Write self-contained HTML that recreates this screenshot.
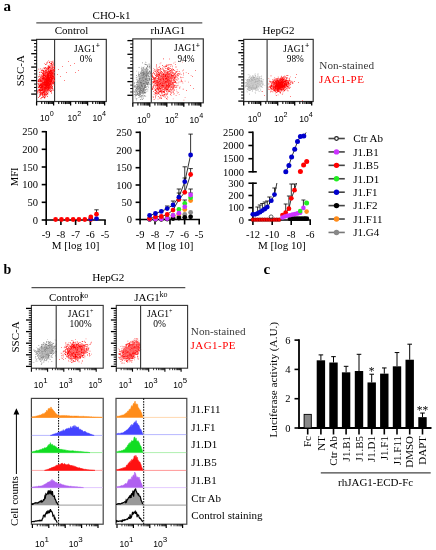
<!DOCTYPE html>
<html><head><meta charset="utf-8"><style>
html,body{margin:0;padding:0;background:#fff;}
body{width:436px;height:550px;overflow:hidden;position:relative;}
svg{position:absolute;left:0;top:0;will-change:transform;}
</style></head><body>
<svg width="436" height="550" viewBox="0 0 436 550">
<text x="3.5" y="10.8" style="font-family:'Liberation Serif',serif;font-size:15px;font-weight:bold" text-anchor="start" fill="#000" >a</text>
<text x="3.4" y="273.6" style="font-family:'Liberation Serif',serif;font-size:14px;font-weight:bold" text-anchor="start" fill="#000" >b</text>
<text x="263.5" y="274" style="font-family:'Liberation Serif',serif;font-size:15px;font-weight:bold" text-anchor="start" fill="#000" >c</text>
<text x="111.5" y="19.3" style="font-family:'Liberation Serif',serif;font-size:11px;font-weight:normal" text-anchor="middle" fill="#000" >CHO-k1</text>
<line x1="36.30" y1="22.80" x2="202.30" y2="22.80" stroke="#505050" stroke-width="1.3" />
<text x="71.5" y="34" style="font-family:'Liberation Serif',serif;font-size:11px;font-weight:normal" text-anchor="middle" fill="#000" >Control</text>
<text x="167.9" y="34" style="font-family:'Liberation Serif',serif;font-size:11px;font-weight:normal" text-anchor="middle" fill="#000" >rhJAG1</text>
<text x="278.5" y="34" style="font-family:'Liberation Serif',serif;font-size:11px;font-weight:normal" text-anchor="middle" fill="#000" >HepG2</text>
<rect x="36.6" y="39.4" width="69.69999999999999" height="62.1" fill="none" stroke="#333" stroke-width="1.2"/>
<line x1="54.60" y1="39.40" x2="54.60" y2="101.50" stroke="#333" stroke-width="1.1" />
<line x1="31.20" y1="40.20" x2="36.60" y2="40.20" stroke="#000" stroke-width="1.3" />
<line x1="31.20" y1="53.70" x2="36.60" y2="53.70" stroke="#000" stroke-width="1.3" />
<line x1="31.20" y1="67.10" x2="36.60" y2="67.10" stroke="#000" stroke-width="1.3" />
<line x1="31.20" y1="80.60" x2="36.60" y2="80.60" stroke="#000" stroke-width="1.3" />
<line x1="31.20" y1="94.10" x2="36.60" y2="94.10" stroke="#000" stroke-width="1.3" />
<line x1="34.00" y1="43.58" x2="36.60" y2="43.58" stroke="#000" stroke-width="1.0" />
<line x1="34.00" y1="46.95" x2="36.60" y2="46.95" stroke="#000" stroke-width="1.0" />
<line x1="34.00" y1="50.33" x2="36.60" y2="50.33" stroke="#000" stroke-width="1.0" />
<line x1="34.00" y1="57.08" x2="36.60" y2="57.08" stroke="#000" stroke-width="1.0" />
<line x1="34.00" y1="60.45" x2="36.60" y2="60.45" stroke="#000" stroke-width="1.0" />
<line x1="34.00" y1="63.83" x2="36.60" y2="63.83" stroke="#000" stroke-width="1.0" />
<line x1="34.00" y1="70.58" x2="36.60" y2="70.58" stroke="#000" stroke-width="1.0" />
<line x1="34.00" y1="73.95" x2="36.60" y2="73.95" stroke="#000" stroke-width="1.0" />
<line x1="34.00" y1="77.33" x2="36.60" y2="77.33" stroke="#000" stroke-width="1.0" />
<line x1="34.00" y1="84.08" x2="36.60" y2="84.08" stroke="#000" stroke-width="1.0" />
<line x1="34.00" y1="87.45" x2="36.60" y2="87.45" stroke="#000" stroke-width="1.0" />
<line x1="34.00" y1="90.83" x2="36.60" y2="90.83" stroke="#000" stroke-width="1.0" />
<line x1="36.60" y1="101.50" x2="36.60" y2="105.50" stroke="#000" stroke-width="1.3" />
<line x1="53.60" y1="101.50" x2="53.60" y2="105.50" stroke="#000" stroke-width="1.3" />
<line x1="70.60" y1="101.50" x2="70.60" y2="105.50" stroke="#000" stroke-width="1.3" />
<line x1="87.60" y1="101.50" x2="87.60" y2="105.50" stroke="#000" stroke-width="1.3" />
<line x1="104.60" y1="101.50" x2="104.60" y2="105.50" stroke="#000" stroke-width="1.3" />
<line x1="41.72" y1="101.50" x2="41.72" y2="104.10" stroke="#000" stroke-width="1.1" />
<line x1="44.71" y1="101.50" x2="44.71" y2="104.10" stroke="#000" stroke-width="1.1" />
<line x1="46.84" y1="101.50" x2="46.84" y2="104.10" stroke="#000" stroke-width="1.1" />
<line x1="48.48" y1="101.50" x2="48.48" y2="104.10" stroke="#000" stroke-width="1.1" />
<line x1="49.83" y1="101.50" x2="49.83" y2="104.10" stroke="#000" stroke-width="1.1" />
<line x1="50.97" y1="101.50" x2="50.97" y2="104.10" stroke="#000" stroke-width="1.1" />
<line x1="51.95" y1="101.50" x2="51.95" y2="104.10" stroke="#000" stroke-width="1.1" />
<line x1="52.82" y1="101.50" x2="52.82" y2="104.10" stroke="#000" stroke-width="1.1" />
<line x1="58.72" y1="101.50" x2="58.72" y2="104.10" stroke="#000" stroke-width="1.1" />
<line x1="61.71" y1="101.50" x2="61.71" y2="104.10" stroke="#000" stroke-width="1.1" />
<line x1="63.84" y1="101.50" x2="63.84" y2="104.10" stroke="#000" stroke-width="1.1" />
<line x1="65.48" y1="101.50" x2="65.48" y2="104.10" stroke="#000" stroke-width="1.1" />
<line x1="66.83" y1="101.50" x2="66.83" y2="104.10" stroke="#000" stroke-width="1.1" />
<line x1="67.97" y1="101.50" x2="67.97" y2="104.10" stroke="#000" stroke-width="1.1" />
<line x1="68.95" y1="101.50" x2="68.95" y2="104.10" stroke="#000" stroke-width="1.1" />
<line x1="69.82" y1="101.50" x2="69.82" y2="104.10" stroke="#000" stroke-width="1.1" />
<line x1="75.72" y1="101.50" x2="75.72" y2="104.10" stroke="#000" stroke-width="1.1" />
<line x1="78.71" y1="101.50" x2="78.71" y2="104.10" stroke="#000" stroke-width="1.1" />
<line x1="80.84" y1="101.50" x2="80.84" y2="104.10" stroke="#000" stroke-width="1.1" />
<line x1="82.48" y1="101.50" x2="82.48" y2="104.10" stroke="#000" stroke-width="1.1" />
<line x1="83.83" y1="101.50" x2="83.83" y2="104.10" stroke="#000" stroke-width="1.1" />
<line x1="84.97" y1="101.50" x2="84.97" y2="104.10" stroke="#000" stroke-width="1.1" />
<line x1="85.95" y1="101.50" x2="85.95" y2="104.10" stroke="#000" stroke-width="1.1" />
<line x1="86.82" y1="101.50" x2="86.82" y2="104.10" stroke="#000" stroke-width="1.1" />
<line x1="92.72" y1="101.50" x2="92.72" y2="104.10" stroke="#000" stroke-width="1.1" />
<line x1="95.71" y1="101.50" x2="95.71" y2="104.10" stroke="#000" stroke-width="1.1" />
<line x1="97.84" y1="101.50" x2="97.84" y2="104.10" stroke="#000" stroke-width="1.1" />
<line x1="99.48" y1="101.50" x2="99.48" y2="104.10" stroke="#000" stroke-width="1.1" />
<line x1="100.83" y1="101.50" x2="100.83" y2="104.10" stroke="#000" stroke-width="1.1" />
<line x1="101.97" y1="101.50" x2="101.97" y2="104.10" stroke="#000" stroke-width="1.1" />
<line x1="102.95" y1="101.50" x2="102.95" y2="104.10" stroke="#000" stroke-width="1.1" />
<line x1="103.82" y1="101.50" x2="103.82" y2="104.10" stroke="#000" stroke-width="1.1" />
<text x="40.1" y="121.2" style="font-family:'Liberation Sans',sans-serif;font-size:8.6px" fill="#000">10<tspan dy="-5.2" style="font-size:7.2px">0</tspan></text>
<text x="67.6" y="121.2" style="font-family:'Liberation Sans',sans-serif;font-size:8.6px" fill="#000">10<tspan dy="-5.2" style="font-size:7.2px">2</tspan></text>
<text x="92.4" y="121.2" style="font-family:'Liberation Sans',sans-serif;font-size:8.6px" fill="#000">10<tspan dy="-5.2" style="font-size:7.2px">4</tspan></text>
<text x="87" y="51.5" style="font-family:'Liberation Serif',serif;font-size:9.3px;font-weight:normal" text-anchor="middle" fill="#000" >JAG1<tspan dy="-3.8" style="font-size:7.5px;font-weight:bold">+</tspan></text>
<text x="86.0" y="61.8" style="font-family:'Liberation Serif',serif;font-size:9.3px;font-weight:normal" text-anchor="middle" fill="#000" >0%</text>
<rect x="132.8" y="38.9" width="70.5" height="63.9" fill="none" stroke="#333" stroke-width="1.2"/>
<line x1="151.30" y1="38.90" x2="151.30" y2="102.80" stroke="#333" stroke-width="1.1" />
<line x1="127.40" y1="40.60" x2="132.80" y2="40.60" stroke="#000" stroke-width="1.3" />
<line x1="127.40" y1="54.30" x2="132.80" y2="54.30" stroke="#000" stroke-width="1.3" />
<line x1="127.40" y1="68.00" x2="132.80" y2="68.00" stroke="#000" stroke-width="1.3" />
<line x1="127.40" y1="81.60" x2="132.80" y2="81.60" stroke="#000" stroke-width="1.3" />
<line x1="127.40" y1="95.30" x2="132.80" y2="95.30" stroke="#000" stroke-width="1.3" />
<line x1="130.20" y1="44.02" x2="132.80" y2="44.02" stroke="#000" stroke-width="1.0" />
<line x1="130.20" y1="47.45" x2="132.80" y2="47.45" stroke="#000" stroke-width="1.0" />
<line x1="130.20" y1="50.88" x2="132.80" y2="50.88" stroke="#000" stroke-width="1.0" />
<line x1="130.20" y1="57.72" x2="132.80" y2="57.72" stroke="#000" stroke-width="1.0" />
<line x1="130.20" y1="61.15" x2="132.80" y2="61.15" stroke="#000" stroke-width="1.0" />
<line x1="130.20" y1="64.57" x2="132.80" y2="64.57" stroke="#000" stroke-width="1.0" />
<line x1="130.20" y1="71.42" x2="132.80" y2="71.42" stroke="#000" stroke-width="1.0" />
<line x1="130.20" y1="74.85" x2="132.80" y2="74.85" stroke="#000" stroke-width="1.0" />
<line x1="130.20" y1="78.27" x2="132.80" y2="78.27" stroke="#000" stroke-width="1.0" />
<line x1="130.20" y1="85.12" x2="132.80" y2="85.12" stroke="#000" stroke-width="1.0" />
<line x1="130.20" y1="88.55" x2="132.80" y2="88.55" stroke="#000" stroke-width="1.0" />
<line x1="130.20" y1="91.97" x2="132.80" y2="91.97" stroke="#000" stroke-width="1.0" />
<line x1="132.80" y1="102.80" x2="132.80" y2="106.80" stroke="#000" stroke-width="1.3" />
<line x1="149.80" y1="102.80" x2="149.80" y2="106.80" stroke="#000" stroke-width="1.3" />
<line x1="166.80" y1="102.80" x2="166.80" y2="106.80" stroke="#000" stroke-width="1.3" />
<line x1="183.80" y1="102.80" x2="183.80" y2="106.80" stroke="#000" stroke-width="1.3" />
<line x1="200.80" y1="102.80" x2="200.80" y2="106.80" stroke="#000" stroke-width="1.3" />
<line x1="137.92" y1="102.80" x2="137.92" y2="105.40" stroke="#000" stroke-width="1.1" />
<line x1="140.91" y1="102.80" x2="140.91" y2="105.40" stroke="#000" stroke-width="1.1" />
<line x1="143.04" y1="102.80" x2="143.04" y2="105.40" stroke="#000" stroke-width="1.1" />
<line x1="144.68" y1="102.80" x2="144.68" y2="105.40" stroke="#000" stroke-width="1.1" />
<line x1="146.03" y1="102.80" x2="146.03" y2="105.40" stroke="#000" stroke-width="1.1" />
<line x1="147.17" y1="102.80" x2="147.17" y2="105.40" stroke="#000" stroke-width="1.1" />
<line x1="148.15" y1="102.80" x2="148.15" y2="105.40" stroke="#000" stroke-width="1.1" />
<line x1="149.02" y1="102.80" x2="149.02" y2="105.40" stroke="#000" stroke-width="1.1" />
<line x1="154.92" y1="102.80" x2="154.92" y2="105.40" stroke="#000" stroke-width="1.1" />
<line x1="157.91" y1="102.80" x2="157.91" y2="105.40" stroke="#000" stroke-width="1.1" />
<line x1="160.04" y1="102.80" x2="160.04" y2="105.40" stroke="#000" stroke-width="1.1" />
<line x1="161.68" y1="102.80" x2="161.68" y2="105.40" stroke="#000" stroke-width="1.1" />
<line x1="163.03" y1="102.80" x2="163.03" y2="105.40" stroke="#000" stroke-width="1.1" />
<line x1="164.17" y1="102.80" x2="164.17" y2="105.40" stroke="#000" stroke-width="1.1" />
<line x1="165.15" y1="102.80" x2="165.15" y2="105.40" stroke="#000" stroke-width="1.1" />
<line x1="166.02" y1="102.80" x2="166.02" y2="105.40" stroke="#000" stroke-width="1.1" />
<line x1="171.92" y1="102.80" x2="171.92" y2="105.40" stroke="#000" stroke-width="1.1" />
<line x1="174.91" y1="102.80" x2="174.91" y2="105.40" stroke="#000" stroke-width="1.1" />
<line x1="177.04" y1="102.80" x2="177.04" y2="105.40" stroke="#000" stroke-width="1.1" />
<line x1="178.68" y1="102.80" x2="178.68" y2="105.40" stroke="#000" stroke-width="1.1" />
<line x1="180.03" y1="102.80" x2="180.03" y2="105.40" stroke="#000" stroke-width="1.1" />
<line x1="181.17" y1="102.80" x2="181.17" y2="105.40" stroke="#000" stroke-width="1.1" />
<line x1="182.15" y1="102.80" x2="182.15" y2="105.40" stroke="#000" stroke-width="1.1" />
<line x1="183.02" y1="102.80" x2="183.02" y2="105.40" stroke="#000" stroke-width="1.1" />
<line x1="188.92" y1="102.80" x2="188.92" y2="105.40" stroke="#000" stroke-width="1.1" />
<line x1="191.91" y1="102.80" x2="191.91" y2="105.40" stroke="#000" stroke-width="1.1" />
<line x1="194.04" y1="102.80" x2="194.04" y2="105.40" stroke="#000" stroke-width="1.1" />
<line x1="195.68" y1="102.80" x2="195.68" y2="105.40" stroke="#000" stroke-width="1.1" />
<line x1="197.03" y1="102.80" x2="197.03" y2="105.40" stroke="#000" stroke-width="1.1" />
<line x1="198.17" y1="102.80" x2="198.17" y2="105.40" stroke="#000" stroke-width="1.1" />
<line x1="199.15" y1="102.80" x2="199.15" y2="105.40" stroke="#000" stroke-width="1.1" />
<line x1="200.02" y1="102.80" x2="200.02" y2="105.40" stroke="#000" stroke-width="1.1" />
<text x="137.0" y="123.3" style="font-family:'Liberation Sans',sans-serif;font-size:8.6px" fill="#000">10<tspan dy="-5.2" style="font-size:7.2px">0</tspan></text>
<text x="164.9" y="123.3" style="font-family:'Liberation Sans',sans-serif;font-size:8.6px" fill="#000">10<tspan dy="-5.2" style="font-size:7.2px">2</tspan></text>
<text x="189.6" y="123.3" style="font-family:'Liberation Sans',sans-serif;font-size:8.6px" fill="#000">10<tspan dy="-5.2" style="font-size:7.2px">4</tspan></text>
<text x="187.1" y="51.4" style="font-family:'Liberation Serif',serif;font-size:9.3px;font-weight:normal" text-anchor="middle" fill="#000" >JAG1<tspan dy="-3.8" style="font-size:7.5px;font-weight:bold">+</tspan></text>
<text x="186.1" y="61.7" style="font-family:'Liberation Serif',serif;font-size:9.3px;font-weight:normal" text-anchor="middle" fill="#000" >94%</text>
<rect x="243.7" y="39.4" width="69.5" height="62.1" fill="none" stroke="#333" stroke-width="1.2"/>
<line x1="267.10" y1="39.40" x2="267.10" y2="101.50" stroke="#333" stroke-width="1.1" />
<line x1="238.30" y1="40.60" x2="243.70" y2="40.60" stroke="#000" stroke-width="1.3" />
<line x1="238.30" y1="52.70" x2="243.70" y2="52.70" stroke="#000" stroke-width="1.3" />
<line x1="238.30" y1="64.80" x2="243.70" y2="64.80" stroke="#000" stroke-width="1.3" />
<line x1="238.30" y1="76.90" x2="243.70" y2="76.90" stroke="#000" stroke-width="1.3" />
<line x1="238.30" y1="89.00" x2="243.70" y2="89.00" stroke="#000" stroke-width="1.3" />
<line x1="238.30" y1="101.10" x2="243.70" y2="101.10" stroke="#000" stroke-width="1.3" />
<line x1="241.10" y1="43.62" x2="243.70" y2="43.62" stroke="#000" stroke-width="1.0" />
<line x1="241.10" y1="46.65" x2="243.70" y2="46.65" stroke="#000" stroke-width="1.0" />
<line x1="241.10" y1="49.68" x2="243.70" y2="49.68" stroke="#000" stroke-width="1.0" />
<line x1="241.10" y1="55.73" x2="243.70" y2="55.73" stroke="#000" stroke-width="1.0" />
<line x1="241.10" y1="58.75" x2="243.70" y2="58.75" stroke="#000" stroke-width="1.0" />
<line x1="241.10" y1="61.78" x2="243.70" y2="61.78" stroke="#000" stroke-width="1.0" />
<line x1="241.10" y1="67.83" x2="243.70" y2="67.83" stroke="#000" stroke-width="1.0" />
<line x1="241.10" y1="70.85" x2="243.70" y2="70.85" stroke="#000" stroke-width="1.0" />
<line x1="241.10" y1="73.88" x2="243.70" y2="73.88" stroke="#000" stroke-width="1.0" />
<line x1="241.10" y1="79.93" x2="243.70" y2="79.93" stroke="#000" stroke-width="1.0" />
<line x1="241.10" y1="82.95" x2="243.70" y2="82.95" stroke="#000" stroke-width="1.0" />
<line x1="241.10" y1="85.98" x2="243.70" y2="85.98" stroke="#000" stroke-width="1.0" />
<line x1="241.10" y1="92.03" x2="243.70" y2="92.03" stroke="#000" stroke-width="1.0" />
<line x1="241.10" y1="95.05" x2="243.70" y2="95.05" stroke="#000" stroke-width="1.0" />
<line x1="241.10" y1="98.08" x2="243.70" y2="98.08" stroke="#000" stroke-width="1.0" />
<line x1="243.70" y1="101.50" x2="243.70" y2="105.50" stroke="#000" stroke-width="1.3" />
<line x1="260.70" y1="101.50" x2="260.70" y2="105.50" stroke="#000" stroke-width="1.3" />
<line x1="277.70" y1="101.50" x2="277.70" y2="105.50" stroke="#000" stroke-width="1.3" />
<line x1="294.70" y1="101.50" x2="294.70" y2="105.50" stroke="#000" stroke-width="1.3" />
<line x1="311.70" y1="101.50" x2="311.70" y2="105.50" stroke="#000" stroke-width="1.3" />
<line x1="248.82" y1="101.50" x2="248.82" y2="104.10" stroke="#000" stroke-width="1.1" />
<line x1="251.81" y1="101.50" x2="251.81" y2="104.10" stroke="#000" stroke-width="1.1" />
<line x1="253.94" y1="101.50" x2="253.94" y2="104.10" stroke="#000" stroke-width="1.1" />
<line x1="255.58" y1="101.50" x2="255.58" y2="104.10" stroke="#000" stroke-width="1.1" />
<line x1="256.93" y1="101.50" x2="256.93" y2="104.10" stroke="#000" stroke-width="1.1" />
<line x1="258.07" y1="101.50" x2="258.07" y2="104.10" stroke="#000" stroke-width="1.1" />
<line x1="259.05" y1="101.50" x2="259.05" y2="104.10" stroke="#000" stroke-width="1.1" />
<line x1="259.92" y1="101.50" x2="259.92" y2="104.10" stroke="#000" stroke-width="1.1" />
<line x1="265.82" y1="101.50" x2="265.82" y2="104.10" stroke="#000" stroke-width="1.1" />
<line x1="268.81" y1="101.50" x2="268.81" y2="104.10" stroke="#000" stroke-width="1.1" />
<line x1="270.94" y1="101.50" x2="270.94" y2="104.10" stroke="#000" stroke-width="1.1" />
<line x1="272.58" y1="101.50" x2="272.58" y2="104.10" stroke="#000" stroke-width="1.1" />
<line x1="273.93" y1="101.50" x2="273.93" y2="104.10" stroke="#000" stroke-width="1.1" />
<line x1="275.07" y1="101.50" x2="275.07" y2="104.10" stroke="#000" stroke-width="1.1" />
<line x1="276.05" y1="101.50" x2="276.05" y2="104.10" stroke="#000" stroke-width="1.1" />
<line x1="276.92" y1="101.50" x2="276.92" y2="104.10" stroke="#000" stroke-width="1.1" />
<line x1="282.82" y1="101.50" x2="282.82" y2="104.10" stroke="#000" stroke-width="1.1" />
<line x1="285.81" y1="101.50" x2="285.81" y2="104.10" stroke="#000" stroke-width="1.1" />
<line x1="287.94" y1="101.50" x2="287.94" y2="104.10" stroke="#000" stroke-width="1.1" />
<line x1="289.58" y1="101.50" x2="289.58" y2="104.10" stroke="#000" stroke-width="1.1" />
<line x1="290.93" y1="101.50" x2="290.93" y2="104.10" stroke="#000" stroke-width="1.1" />
<line x1="292.07" y1="101.50" x2="292.07" y2="104.10" stroke="#000" stroke-width="1.1" />
<line x1="293.05" y1="101.50" x2="293.05" y2="104.10" stroke="#000" stroke-width="1.1" />
<line x1="293.92" y1="101.50" x2="293.92" y2="104.10" stroke="#000" stroke-width="1.1" />
<line x1="299.82" y1="101.50" x2="299.82" y2="104.10" stroke="#000" stroke-width="1.1" />
<line x1="302.81" y1="101.50" x2="302.81" y2="104.10" stroke="#000" stroke-width="1.1" />
<line x1="304.94" y1="101.50" x2="304.94" y2="104.10" stroke="#000" stroke-width="1.1" />
<line x1="306.58" y1="101.50" x2="306.58" y2="104.10" stroke="#000" stroke-width="1.1" />
<line x1="307.93" y1="101.50" x2="307.93" y2="104.10" stroke="#000" stroke-width="1.1" />
<line x1="309.07" y1="101.50" x2="309.07" y2="104.10" stroke="#000" stroke-width="1.1" />
<line x1="310.05" y1="101.50" x2="310.05" y2="104.10" stroke="#000" stroke-width="1.1" />
<line x1="310.92" y1="101.50" x2="310.92" y2="104.10" stroke="#000" stroke-width="1.1" />
<text x="247.7" y="121.7" style="font-family:'Liberation Sans',sans-serif;font-size:8.6px" fill="#000">10<tspan dy="-5.2" style="font-size:7.2px">0</tspan></text>
<text x="274.0" y="121.7" style="font-family:'Liberation Sans',sans-serif;font-size:8.6px" fill="#000">10<tspan dy="-5.2" style="font-size:7.2px">2</tspan></text>
<text x="299.3" y="121.7" style="font-family:'Liberation Sans',sans-serif;font-size:8.6px" fill="#000">10<tspan dy="-5.2" style="font-size:7.2px">4</tspan></text>
<text x="296.3" y="51.5" style="font-family:'Liberation Serif',serif;font-size:9.3px;font-weight:normal" text-anchor="middle" fill="#000" >JAG1<tspan dy="-3.8" style="font-size:7.5px;font-weight:bold">+</tspan></text>
<text x="295.3" y="61.8" style="font-family:'Liberation Serif',serif;font-size:9.3px;font-weight:normal" text-anchor="middle" fill="#000" >98%</text>
<text x="23.6" y="70.7" transform="rotate(-90 23.6 70.7)" text-anchor="middle" style="font-family:'Liberation Serif',serif;font-size:11px">SSC-A</text>
<text x="319.3" y="69.1" style="font-family:'Liberation Serif',serif;font-size:11.2px;font-weight:normal" text-anchor="start" fill="#3a3a3a" >Non-stained</text>
<text x="319.0" y="83.2" style="font-family:'Liberation Serif',serif;font-size:11px;font-weight:normal" text-anchor="start" fill="#f00" letter-spacing="0.45">JAG1-PE</text>
<path transform="scale(0.1)" d="M432 888h8v8h-8zM380 812h8v8h-8zM490 870h8v8h-8zM496 815h8v8h-8zM452 773h8v8h-8zM480 786h8v8h-8zM537 667h8v8h-8zM510 682h8v8h-8zM495 843h8v8h-8zM494 746h8v8h-8zM429 810h8v8h-8zM505 729h8v8h-8zM396 857h8v8h-8zM451 786h8v8h-8zM447 813h8v8h-8zM392 856h8v8h-8zM460 887h8v8h-8zM534 710h8v8h-8zM451 801h8v8h-8zM414 846h8v8h-8zM461 739h8v8h-8zM501 802h8v8h-8zM473 784h8v8h-8zM465 760h8v8h-8zM406 793h8v8h-8zM486 775h8v8h-8zM485 796h8v8h-8zM521 780h8v8h-8zM528 795h8v8h-8zM494 754h8v8h-8zM396 941h8v8h-8zM405 854h8v8h-8zM419 907h8v8h-8zM477 768h8v8h-8zM432 899h8v8h-8zM520 760h8v8h-8zM475 744h8v8h-8zM480 761h8v8h-8zM497 790h8v8h-8zM479 681h8v8h-8zM406 862h8v8h-8zM526 764h8v8h-8zM529 695h8v8h-8zM434 744h8v8h-8zM387 824h8v8h-8zM402 934h8v8h-8zM421 946h8v8h-8zM502 747h8v8h-8zM503 865h8v8h-8zM526 772h8v8h-8zM487 790h8v8h-8zM480 837h8v8h-8zM450 747h8v8h-8zM451 895h8v8h-8zM416 898h8v8h-8zM486 864h8v8h-8zM478 899h8v8h-8zM448 797h8v8h-8zM431 861h8v8h-8zM484 667h8v8h-8zM520 703h8v8h-8zM468 721h8v8h-8zM477 849h8v8h-8zM442 862h8v8h-8zM455 840h8v8h-8zM452 828h8v8h-8zM453 950h8v8h-8zM440 884h8v8h-8zM482 760h8v8h-8zM520 879h8v8h-8zM425 953h8v8h-8zM524 819h8v8h-8zM448 673h8v8h-8zM450 760h8v8h-8zM374 911h8v8h-8zM496 676h8v8h-8zM419 853h8v8h-8zM499 732h8v8h-8zM467 824h8v8h-8zM476 818h8v8h-8zM521 862h8v8h-8zM462 752h8v8h-8zM392 803h8v8h-8zM506 846h8v8h-8zM461 840h8v8h-8zM436 841h8v8h-8zM407 809h8v8h-8zM488 816h8v8h-8zM389 904h8v8h-8zM413 930h8v8h-8zM471 828h8v8h-8zM469 835h8v8h-8zM454 743h8v8h-8zM510 655h8v8h-8zM413 857h8v8h-8zM447 808h8v8h-8zM468 740h8v8h-8zM451 639h8v8h-8zM440 756h8v8h-8zM492 738h8v8h-8zM440 839h8v8h-8zM478 834h8v8h-8zM446 942h8v8h-8zM448 897h8v8h-8zM533 794h8v8h-8zM451 811h8v8h-8zM537 664h8v8h-8zM434 808h8v8h-8zM445 880h8v8h-8zM512 614h8v8h-8zM395 958h8v8h-8zM466 861h8v8h-8zM485 766h8v8h-8zM489 758h8v8h-8zM451 853h8v8h-8zM404 832h8v8h-8zM500 809h8v8h-8zM484 900h8v8h-8zM417 820h8v8h-8zM469 758h8v8h-8zM541 811h8v8h-8zM470 820h8v8h-8zM414 787h8v8h-8zM447 682h8v8h-8zM449 931h8v8h-8zM479 916h8v8h-8zM503 762h8v8h-8zM425 867h8v8h-8zM437 840h8v8h-8zM508 800h8v8h-8zM496 892h8v8h-8zM523 791h8v8h-8zM403 847h8v8h-8zM424 860h8v8h-8zM508 783h8v8h-8zM424 887h8v8h-8zM479 779h8v8h-8zM463 766h8v8h-8zM433 958h8v8h-8zM527 808h8v8h-8zM464 865h8v8h-8zM443 972h8v8h-8zM458 815h8v8h-8zM475 786h8v8h-8zM398 886h8v8h-8zM428 770h8v8h-8zM410 788h8v8h-8zM375 808h8v8h-8zM507 814h8v8h-8zM526 652h8v8h-8zM516 769h8v8h-8zM389 857h8v8h-8zM482 892h8v8h-8zM494 757h8v8h-8zM440 887h8v8h-8zM500 833h8v8h-8zM417 893h8v8h-8zM419 940h8v8h-8zM429 715h8v8h-8zM434 859h8v8h-8zM422 816h8v8h-8zM506 749h8v8h-8zM419 930h8v8h-8zM445 784h8v8h-8zM438 783h8v8h-8zM426 704h8v8h-8zM485 880h8v8h-8zM414 971h8v8h-8zM429 783h8v8h-8zM451 857h8v8h-8zM408 872h8v8h-8zM517 773h8v8h-8zM445 859h8v8h-8zM510 771h8v8h-8zM487 864h8v8h-8zM466 850h8v8h-8zM506 657h8v8h-8zM452 639h8v8h-8zM510 926h8v8h-8zM409 697h8v8h-8zM433 836h8v8h-8zM516 725h8v8h-8zM376 833h8v8h-8zM485 729h8v8h-8zM447 961h8v8h-8zM442 889h8v8h-8zM435 755h8v8h-8zM519 808h8v8h-8zM400 870h8v8h-8zM500 911h8v8h-8zM485 795h8v8h-8zM447 704h8v8h-8zM461 924h8v8h-8zM495 904h8v8h-8zM440 953h8v8h-8zM401 907h8v8h-8zM477 665h8v8h-8zM429 756h8v8h-8zM448 792h8v8h-8zM467 808h8v8h-8zM496 744h8v8h-8zM541 775h8v8h-8zM479 707h8v8h-8zM470 752h8v8h-8zM499 712h8v8h-8zM477 770h8v8h-8zM394 740h8v8h-8zM440 949h8v8h-8zM413 762h8v8h-8zM494 723h8v8h-8zM518 780h8v8h-8zM480 724h8v8h-8zM422 891h8v8h-8zM499 828h8v8h-8zM425 894h8v8h-8zM476 731h8v8h-8zM415 773h8v8h-8zM407 812h8v8h-8zM406 804h8v8h-8zM466 789h8v8h-8zM437 830h8v8h-8zM483 774h8v8h-8zM410 802h8v8h-8zM486 854h8v8h-8zM439 898h8v8h-8zM518 810h8v8h-8zM508 800h8v8h-8zM456 833h8v8h-8zM470 903h8v8h-8zM475 749h8v8h-8zM484 695h8v8h-8zM453 792h8v8h-8zM511 756h8v8h-8zM444 790h8v8h-8zM384 841h8v8h-8zM475 771h8v8h-8zM460 820h8v8h-8zM500 720h8v8h-8zM490 707h8v8h-8zM470 786h8v8h-8zM470 827h8v8h-8zM470 780h8v8h-8zM437 732h8v8h-8zM414 836h8v8h-8zM431 787h8v8h-8zM461 833h8v8h-8zM447 811h8v8h-8zM424 895h8v8h-8zM461 812h8v8h-8zM431 821h8v8h-8zM468 780h8v8h-8zM455 753h8v8h-8zM519 795h8v8h-8zM451 717h8v8h-8zM455 765h8v8h-8zM466 731h8v8h-8zM389 893h8v8h-8zM525 668h8v8h-8zM487 830h8v8h-8zM469 795h8v8h-8zM510 904h8v8h-8zM457 639h8v8h-8zM455 750h8v8h-8zM452 852h8v8h-8zM390 864h8v8h-8zM504 802h8v8h-8zM457 688h8v8h-8zM461 787h8v8h-8zM451 771h8v8h-8zM438 970h8v8h-8zM471 828h8v8h-8zM507 874h8v8h-8zM453 824h8v8h-8zM426 862h8v8h-8zM466 740h8v8h-8zM481 860h8v8h-8zM460 873h8v8h-8zM500 703h8v8h-8zM425 781h8v8h-8zM510 793h8v8h-8zM472 784h8v8h-8zM442 758h8v8h-8zM453 822h8v8h-8zM480 837h8v8h-8zM497 775h8v8h-8zM468 768h8v8h-8zM489 809h8v8h-8zM396 835h8v8h-8zM381 897h8v8h-8zM469 894h8v8h-8zM424 925h8v8h-8zM470 814h8v8h-8zM397 838h8v8h-8zM471 802h8v8h-8zM520 780h8v8h-8zM512 813h8v8h-8zM419 827h8v8h-8zM452 812h8v8h-8zM502 797h8v8h-8zM542 675h8v8h-8zM425 833h8v8h-8zM429 851h8v8h-8zM512 819h8v8h-8zM450 834h8v8h-8zM422 797h8v8h-8zM509 684h8v8h-8zM394 802h8v8h-8zM436 729h8v8h-8zM506 689h8v8h-8zM439 767h8v8h-8zM497 734h8v8h-8zM413 874h8v8h-8zM498 754h8v8h-8zM485 768h8v8h-8zM533 752h8v8h-8zM455 749h8v8h-8zM450 720h8v8h-8zM461 754h8v8h-8zM509 689h8v8h-8zM434 922h8v8h-8zM459 902h8v8h-8zM498 796h8v8h-8zM495 875h8v8h-8zM443 913h8v8h-8zM501 842h8v8h-8zM416 890h8v8h-8zM402 929h8v8h-8zM425 759h8v8h-8zM525 615h8v8h-8zM472 740h8v8h-8zM426 861h8v8h-8zM450 750h8v8h-8zM484 755h8v8h-8zM515 759h8v8h-8zM396 849h8v8h-8zM521 682h8v8h-8zM504 753h8v8h-8zM436 883h8v8h-8zM448 853h8v8h-8zM486 782h8v8h-8zM453 796h8v8h-8zM471 892h8v8h-8zM420 946h8v8h-8zM388 793h8v8h-8zM472 760h8v8h-8zM474 831h8v8h-8zM486 781h8v8h-8zM521 732h8v8h-8zM504 877h8v8h-8zM422 864h8v8h-8zM460 747h8v8h-8zM468 798h8v8h-8zM497 765h8v8h-8zM440 919h8v8h-8zM481 660h8v8h-8zM474 788h8v8h-8zM523 765h8v8h-8zM468 797h8v8h-8zM479 839h8v8h-8zM493 829h8v8h-8zM465 685h8v8h-8zM430 788h8v8h-8zM493 733h8v8h-8zM480 791h8v8h-8zM430 738h8v8h-8zM408 868h8v8h-8zM488 755h8v8h-8zM429 839h8v8h-8zM492 623h8v8h-8zM529 766h8v8h-8zM474 807h8v8h-8zM475 693h8v8h-8zM470 774h8v8h-8zM523 783h8v8h-8zM524 884h8v8h-8zM469 748h8v8h-8zM496 772h8v8h-8zM467 736h8v8h-8zM444 845h8v8h-8zM497 674h8v8h-8zM461 753h8v8h-8zM429 827h8v8h-8zM402 841h8v8h-8zM507 733h8v8h-8zM425 797h8v8h-8zM418 782h8v8h-8zM454 859h8v8h-8zM496 766h8v8h-8zM392 758h8v8h-8zM492 800h8v8h-8zM481 813h8v8h-8zM414 919h8v8h-8zM417 947h8v8h-8zM458 801h8v8h-8zM454 823h8v8h-8zM511 800h8v8h-8zM505 735h8v8h-8zM398 849h8v8h-8zM465 774h8v8h-8zM506 630h8v8h-8zM444 793h8v8h-8zM516 654h8v8h-8zM420 851h8v8h-8zM403 684h8v8h-8zM447 821h8v8h-8zM493 660h8v8h-8zM449 749h8v8h-8zM504 747h8v8h-8zM400 872h8v8h-8zM441 746h8v8h-8zM523 742h8v8h-8zM478 778h8v8h-8zM428 859h8v8h-8zM434 817h8v8h-8zM451 884h8v8h-8zM403 898h8v8h-8zM504 847h8v8h-8zM490 771h8v8h-8zM516 741h8v8h-8zM426 751h8v8h-8zM492 703h8v8h-8zM409 900h8v8h-8zM427 795h8v8h-8zM510 741h8v8h-8zM484 731h8v8h-8zM528 670h8v8h-8zM453 720h8v8h-8zM490 838h8v8h-8zM431 920h8v8h-8zM451 797h8v8h-8zM469 810h8v8h-8zM528 801h8v8h-8zM436 788h8v8h-8zM510 779h8v8h-8zM465 709h8v8h-8zM391 719h8v8h-8zM384 804h8v8h-8zM436 888h8v8h-8zM511 748h8v8h-8zM476 698h8v8h-8zM473 867h8v8h-8zM525 684h8v8h-8zM476 825h8v8h-8zM427 968h8v8h-8zM496 746h8v8h-8zM434 828h8v8h-8zM406 793h8v8h-8zM434 724h8v8h-8zM449 717h8v8h-8zM476 849h8v8h-8zM501 799h8v8h-8zM491 761h8v8h-8zM383 838h8v8h-8zM458 811h8v8h-8zM453 765h8v8h-8zM413 772h8v8h-8zM434 788h8v8h-8zM425 757h8v8h-8zM445 822h8v8h-8zM539 754h8v8h-8zM407 804h8v8h-8zM437 679h8v8h-8zM526 710h8v8h-8zM478 697h8v8h-8zM480 753h8v8h-8zM450 828h8v8h-8zM506 863h8v8h-8zM423 919h8v8h-8zM506 674h8v8h-8zM471 802h8v8h-8zM458 764h8v8h-8zM443 827h8v8h-8zM506 883h8v8h-8zM480 831h8v8h-8zM449 839h8v8h-8zM471 765h8v8h-8zM422 789h8v8h-8zM520 737h8v8h-8zM524 794h8v8h-8zM514 867h8v8h-8zM478 830h8v8h-8zM488 772h8v8h-8zM409 842h8v8h-8zM451 864h8v8h-8zM456 923h8v8h-8zM461 941h8v8h-8zM493 718h8v8h-8zM448 721h8v8h-8zM435 888h8v8h-8zM517 818h8v8h-8zM453 883h8v8h-8zM439 937h8v8h-8zM381 857h8v8h-8zM409 903h8v8h-8zM457 738h8v8h-8zM478 877h8v8h-8zM391 853h8v8h-8zM465 792h8v8h-8zM480 715h8v8h-8zM445 911h8v8h-8zM468 862h8v8h-8zM525 797h8v8h-8zM434 736h8v8h-8zM395 806h8v8h-8zM450 884h8v8h-8zM429 820h8v8h-8zM464 814h8v8h-8zM495 799h8v8h-8zM503 741h8v8h-8zM479 861h8v8h-8zM525 619h8v8h-8zM481 896h8v8h-8zM509 870h8v8h-8zM480 819h8v8h-8zM477 841h8v8h-8zM444 808h8v8h-8zM466 922h8v8h-8zM441 779h8v8h-8zM453 745h8v8h-8zM469 825h8v8h-8zM514 726h8v8h-8zM455 786h8v8h-8zM492 888h8v8h-8zM414 705h8v8h-8zM453 855h8v8h-8zM519 685h8v8h-8zM480 798h8v8h-8zM389 891h8v8h-8zM464 821h8v8h-8zM455 703h8v8h-8zM416 842h8v8h-8zM392 896h8v8h-8zM426 961h8v8h-8zM421 856h8v8h-8zM496 694h8v8h-8zM490 725h8v8h-8zM492 714h8v8h-8zM511 848h8v8h-8zM374 926h8v8h-8zM454 698h8v8h-8zM480 750h8v8h-8zM437 911h8v8h-8zM439 760h8v8h-8zM432 861h8v8h-8zM473 771h8v8h-8zM463 816h8v8h-8zM517 725h8v8h-8zM482 693h8v8h-8zM474 726h8v8h-8zM465 828h8v8h-8zM433 919h8v8h-8zM471 782h8v8h-8zM500 800h8v8h-8zM485 819h8v8h-8zM421 761h8v8h-8zM402 782h8v8h-8zM495 819h8v8h-8zM474 823h8v8h-8zM478 735h8v8h-8zM430 702h8v8h-8zM497 729h8v8h-8zM496 732h8v8h-8zM455 834h8v8h-8zM490 750h8v8h-8zM427 819h8v8h-8zM462 859h8v8h-8zM382 895h8v8h-8zM454 775h8v8h-8zM496 805h8v8h-8zM538 853h8v8h-8zM491 734h8v8h-8zM477 799h8v8h-8zM476 761h8v8h-8zM450 733h8v8h-8zM498 703h8v8h-8zM436 831h8v8h-8zM469 835h8v8h-8zM488 768h8v8h-8zM447 897h8v8h-8zM512 752h8v8h-8zM486 753h8v8h-8zM456 866h8v8h-8zM421 800h8v8h-8zM461 840h8v8h-8zM449 782h8v8h-8zM470 798h8v8h-8zM484 766h8v8h-8zM480 751h8v8h-8zM428 837h8v8h-8zM489 899h8v8h-8zM485 830h8v8h-8zM406 845h8v8h-8zM481 873h8v8h-8zM464 679h8v8h-8zM483 795h8v8h-8zM421 785h8v8h-8zM453 731h8v8h-8zM456 770h8v8h-8zM414 829h8v8h-8zM488 710h8v8h-8zM454 816h8v8h-8zM482 678h8v8h-8zM424 866h8v8h-8zM407 880h8v8h-8zM417 971h8v8h-8zM374 915h8v8h-8zM433 799h8v8h-8zM483 749h8v8h-8zM527 778h8v8h-8zM516 787h8v8h-8zM522 661h8v8h-8zM522 640h8v8h-8zM475 817h8v8h-8zM507 688h8v8h-8zM495 866h8v8h-8zM474 767h8v8h-8zM470 779h8v8h-8zM484 819h8v8h-8zM445 805h8v8h-8zM436 809h8v8h-8zM445 872h8v8h-8zM498 705h8v8h-8zM487 799h8v8h-8zM530 765h8v8h-8zM413 918h8v8h-8zM515 786h8v8h-8zM428 894h8v8h-8zM470 877h8v8h-8zM398 806h8v8h-8zM407 839h8v8h-8zM467 930h8v8h-8zM475 870h8v8h-8zM448 851h8v8h-8zM493 821h8v8h-8zM480 796h8v8h-8zM404 844h8v8h-8zM427 886h8v8h-8zM439 850h8v8h-8zM437 771h8v8h-8zM444 900h8v8h-8zM449 822h8v8h-8zM493 722h8v8h-8zM403 903h8v8h-8zM434 789h8v8h-8zM502 699h8v8h-8zM508 850h8v8h-8zM395 858h8v8h-8zM483 839h8v8h-8zM431 923h8v8h-8zM485 718h8v8h-8zM437 715h8v8h-8zM401 926h8v8h-8zM473 773h8v8h-8zM501 790h8v8h-8zM512 820h8v8h-8zM392 960h8v8h-8zM423 788h8v8h-8zM456 778h8v8h-8zM511 631h8v8h-8zM522 777h8v8h-8zM447 816h8v8h-8zM412 849h8v8h-8zM490 901h8v8h-8zM444 746h8v8h-8zM484 682h8v8h-8zM511 699h8v8h-8zM492 823h8v8h-8zM421 734h8v8h-8zM411 772h8v8h-8zM399 882h8v8h-8zM498 698h8v8h-8zM515 711h8v8h-8zM419 760h8v8h-8zM441 855h8v8h-8zM423 781h8v8h-8zM458 852h8v8h-8zM426 787h8v8h-8zM426 843h8v8h-8zM519 697h8v8h-8zM504 817h8v8h-8zM465 630h8v8h-8zM514 899h8v8h-8zM437 841h8v8h-8zM484 699h8v8h-8zM422 777h8v8h-8zM430 817h8v8h-8zM506 772h8v8h-8zM410 793h8v8h-8zM444 893h8v8h-8zM411 831h8v8h-8zM407 795h8v8h-8zM462 803h8v8h-8zM464 862h8v8h-8zM395 759h8v8h-8zM528 826h8v8h-8zM421 860h8v8h-8zM479 795h8v8h-8zM467 929h8v8h-8zM432 935h8v8h-8zM403 769h8v8h-8zM461 709h8v8h-8zM452 841h8v8h-8zM513 827h8v8h-8zM467 784h8v8h-8zM416 871h8v8h-8zM430 783h8v8h-8zM459 860h8v8h-8zM503 689h8v8h-8zM409 863h8v8h-8zM472 839h8v8h-8zM518 746h8v8h-8zM397 857h8v8h-8zM523 760h8v8h-8zM437 885h8v8h-8zM458 758h8v8h-8zM438 904h8v8h-8zM477 686h8v8h-8zM483 872h8v8h-8zM485 810h8v8h-8zM439 852h8v8h-8zM404 940h8v8h-8zM452 857h8v8h-8zM431 834h8v8h-8zM450 883h8v8h-8zM461 898h8v8h-8zM436 709h8v8h-8zM503 788h8v8h-8zM397 717h8v8h-8zM439 830h8v8h-8zM463 808h8v8h-8zM522 755h8v8h-8zM404 932h8v8h-8zM408 924h8v8h-8zM486 843h8v8h-8zM466 622h8v8h-8zM400 953h8v8h-8zM513 724h8v8h-8zM474 614h8v8h-8zM449 828h8v8h-8zM448 802h8v8h-8zM467 777h8v8h-8zM447 917h8v8h-8zM477 776h8v8h-8zM478 732h8v8h-8zM416 906h8v8h-8zM395 792h8v8h-8zM532 818h8v8h-8zM440 758h8v8h-8zM538 793h8v8h-8zM470 929h8v8h-8zM476 750h8v8h-8zM426 726h8v8h-8zM463 700h8v8h-8zM415 939h8v8h-8zM454 881h8v8h-8zM513 618h8v8h-8zM497 750h8v8h-8zM465 838h8v8h-8zM466 867h8v8h-8zM466 725h8v8h-8zM434 832h8v8h-8zM419 764h8v8h-8zM443 797h8v8h-8zM468 855h8v8h-8zM427 699h8v8h-8zM451 815h8v8h-8zM462 862h8v8h-8zM421 726h8v8h-8zM506 714h8v8h-8zM516 865h8v8h-8zM469 801h8v8h-8zM420 902h8v8h-8zM377 915h8v8h-8zM511 833h8v8h-8zM470 804h8v8h-8zM435 784h8v8h-8zM397 907h8v8h-8zM453 750h8v8h-8zM501 733h8v8h-8zM474 767h8v8h-8zM416 822h8v8h-8zM484 782h8v8h-8zM406 903h8v8h-8zM477 681h8v8h-8zM478 653h8v8h-8zM492 739h8v8h-8zM477 797h8v8h-8zM408 876h8v8h-8zM478 812h8v8h-8zM427 826h8v8h-8zM467 936h8v8h-8zM459 854h8v8h-8zM490 789h8v8h-8zM472 841h8v8h-8zM448 837h8v8h-8zM448 837h8v8h-8zM446 792h8v8h-8zM482 762h8v8h-8zM483 875h8v8h-8zM505 658h8v8h-8zM400 817h8v8h-8zM438 779h8v8h-8zM510 807h8v8h-8zM474 722h8v8h-8zM475 809h8v8h-8zM401 875h8v8h-8zM400 898h8v8h-8zM426 890h8v8h-8zM472 801h8v8h-8zM496 738h8v8h-8zM500 774h8v8h-8zM380 765h8v8h-8zM459 877h8v8h-8zM465 740h8v8h-8zM444 801h8v8h-8zM445 791h8v8h-8zM416 970h8v8h-8zM446 779h8v8h-8zM516 848h8v8h-8zM470 823h8v8h-8zM525 712h8v8h-8zM426 897h8v8h-8zM387 848h8v8h-8zM539 795h8v8h-8zM408 800h8v8h-8zM494 709h8v8h-8zM522 717h8v8h-8zM431 866h8v8h-8zM452 943h8v8h-8zM450 853h8v8h-8zM484 835h8v8h-8zM423 809h8v8h-8zM487 788h8v8h-8zM500 795h8v8h-8zM457 689h8v8h-8zM466 777h8v8h-8zM475 799h8v8h-8zM444 887h8v8h-8zM509 780h8v8h-8zM514 822h8v8h-8zM432 868h8v8h-8zM420 876h8v8h-8zM525 730h8v8h-8zM515 755h8v8h-8zM519 766h8v8h-8zM534 726h8v8h-8zM414 867h8v8h-8zM393 807h8v8h-8zM506 827h8v8h-8zM504 773h8v8h-8zM470 712h8v8h-8zM494 857h8v8h-8zM431 921h8v8h-8zM420 917h8v8h-8zM459 761h8v8h-8zM481 735h8v8h-8zM490 771h8v8h-8zM459 765h8v8h-8zM489 834h8v8h-8zM515 720h8v8h-8zM484 765h8v8h-8zM442 848h8v8h-8zM535 740h8v8h-8zM414 778h8v8h-8zM472 815h8v8h-8zM532 764h8v8h-8zM445 829h8v8h-8zM388 804h8v8h-8zM443 781h8v8h-8zM462 823h8v8h-8zM469 716h8v8h-8zM421 930h8v8h-8zM442 830h8v8h-8zM474 808h8v8h-8zM467 736h8v8h-8zM519 731h8v8h-8zM489 749h8v8h-8zM490 675h8v8h-8zM442 747h8v8h-8zM468 878h8v8h-8zM382 798h8v8h-8zM447 820h8v8h-8zM397 912h8v8h-8zM471 765h8v8h-8zM488 800h8v8h-8zM470 780h8v8h-8zM529 722h8v8h-8zM436 886h8v8h-8zM461 780h8v8h-8zM441 684h8v8h-8zM451 737h8v8h-8zM521 739h8v8h-8zM406 891h8v8h-8zM535 695h8v8h-8zM522 832h8v8h-8zM490 661h8v8h-8zM450 767h8v8h-8zM475 787h8v8h-8zM448 784h8v8h-8zM527 702h8v8h-8zM417 882h8v8h-8zM424 749h8v8h-8zM467 751h8v8h-8zM527 637h8v8h-8zM451 801h8v8h-8zM497 780h8v8h-8zM472 805h8v8h-8zM390 923h8v8h-8zM467 753h8v8h-8zM483 833h8v8h-8zM415 849h8v8h-8zM422 794h8v8h-8zM420 760h8v8h-8zM498 833h8v8h-8zM412 721h8v8h-8zM426 871h8v8h-8zM461 802h8v8h-8zM470 858h8v8h-8zM439 761h8v8h-8zM531 636h8v8h-8zM533 756h8v8h-8zM411 870h8v8h-8zM540 781h8v8h-8zM484 781h8v8h-8zM493 756h8v8h-8zM498 750h8v8h-8zM406 868h8v8h-8zM411 760h8v8h-8zM485 773h8v8h-8zM434 834h8v8h-8zM446 787h8v8h-8zM504 698h8v8h-8zM423 932h8v8h-8zM401 797h8v8h-8zM480 682h8v8h-8zM469 766h8v8h-8zM530 770h8v8h-8zM451 862h8v8h-8zM501 715h8v8h-8zM448 808h8v8h-8zM435 706h8v8h-8zM400 768h8v8h-8zM477 748h8v8h-8zM453 791h8v8h-8zM399 916h8v8h-8zM467 824h8v8h-8zM431 898h8v8h-8zM473 669h8v8h-8zM492 780h8v8h-8zM508 677h8v8h-8zM476 834h8v8h-8zM418 799h8v8h-8zM452 812h8v8h-8zM445 851h8v8h-8zM505 760h8v8h-8zM431 746h8v8h-8zM526 689h8v8h-8zM460 722h8v8h-8zM490 715h8v8h-8zM442 769h8v8h-8zM514 789h8v8h-8zM436 675h8v8h-8zM531 897h8v8h-8zM480 767h8v8h-8zM495 770h8v8h-8zM486 731h8v8h-8zM427 791h8v8h-8zM521 721h8v8h-8zM396 792h8v8h-8zM466 863h8v8h-8zM495 750h8v8h-8zM506 759h8v8h-8zM435 784h8v8h-8zM452 766h8v8h-8zM418 865h8v8h-8zM451 882h8v8h-8zM423 759h8v8h-8zM482 728h8v8h-8zM453 736h8v8h-8zM426 851h8v8h-8zM429 858h8v8h-8zM467 861h8v8h-8zM426 771h8v8h-8zM402 854h8v8h-8zM414 810h8v8h-8zM470 824h8v8h-8zM384 687h8v8h-8zM464 920h8v8h-8zM495 732h8v8h-8zM434 876h8v8h-8zM447 753h8v8h-8zM397 870h8v8h-8zM418 800h8v8h-8zM435 788h8v8h-8zM474 889h8v8h-8zM443 931h8v8h-8zM412 775h8v8h-8zM436 800h8v8h-8zM408 753h8v8h-8zM533 829h8v8h-8zM433 882h8v8h-8zM524 798h8v8h-8zM392 782h8v8h-8zM418 848h8v8h-8zM521 730h8v8h-8zM448 781h8v8h-8zM495 826h8v8h-8zM520 832h8v8h-8zM395 885h8v8h-8zM469 875h8v8h-8zM446 828h8v8h-8zM529 745h8v8h-8zM442 849h8v8h-8zM461 814h8v8h-8zM426 839h8v8h-8zM390 956h8v8h-8zM486 852h8v8h-8zM444 831h8v8h-8zM474 783h8v8h-8zM418 878h8v8h-8zM456 861h8v8h-8zM423 823h8v8h-8zM437 770h8v8h-8zM465 681h8v8h-8zM435 942h8v8h-8zM482 797h8v8h-8zM409 841h8v8h-8zM441 885h8v8h-8zM514 876h8v8h-8zM427 773h8v8h-8zM382 973h8v8h-8zM511 851h8v8h-8zM452 885h8v8h-8zM414 824h8v8h-8zM408 844h8v8h-8zM482 827h8v8h-8zM409 866h8v8h-8zM385 870h8v8h-8zM484 848h8v8h-8zM467 840h8v8h-8zM483 746h8v8h-8zM434 731h8v8h-8zM474 790h8v8h-8zM416 839h8v8h-8zM442 749h8v8h-8zM465 742h8v8h-8zM469 712h8v8h-8zM506 755h8v8h-8zM493 670h8v8h-8zM421 891h8v8h-8zM437 806h8v8h-8zM492 790h8v8h-8zM517 896h8v8h-8zM485 796h8v8h-8zM447 721h8v8h-8zM475 866h8v8h-8zM514 758h8v8h-8zM522 665h8v8h-8zM441 733h8v8h-8zM424 821h8v8h-8zM468 773h8v8h-8zM440 912h8v8h-8zM465 749h8v8h-8zM428 861h8v8h-8zM479 815h8v8h-8zM487 723h8v8h-8zM527 778h8v8h-8zM519 747h8v8h-8zM475 781h8v8h-8zM428 830h8v8h-8zM501 836h8v8h-8zM438 851h8v8h-8zM405 980h8v8h-8zM452 803h8v8h-8zM408 798h8v8h-8zM509 641h8v8h-8zM519 874h8v8h-8zM444 968h8v8h-8zM456 908h8v8h-8zM470 841h8v8h-8zM444 812h8v8h-8zM462 850h8v8h-8zM479 748h8v8h-8zM431 862h8v8h-8zM459 824h8v8h-8zM514 810h8v8h-8zM468 735h8v8h-8zM387 894h8v8h-8zM422 821h8v8h-8zM432 775h8v8h-8zM442 780h8v8h-8zM469 811h8v8h-8zM424 864h8v8h-8zM452 775h8v8h-8zM482 888h8v8h-8zM425 953h8v8h-8zM375 902h8v8h-8zM481 778h8v8h-8zM495 735h8v8h-8zM503 887h8v8h-8zM457 804h8v8h-8zM470 849h8v8h-8zM427 739h8v8h-8zM395 812h8v8h-8zM465 903h8v8h-8zM483 838h8v8h-8zM482 801h8v8h-8zM498 674h8v8h-8zM503 802h8v8h-8zM496 812h8v8h-8zM494 852h8v8h-8zM473 712h8v8h-8zM439 750h8v8h-8zM379 873h8v8h-8zM471 796h8v8h-8zM521 737h8v8h-8zM484 750h8v8h-8zM494 776h8v8h-8zM382 792h8v8h-8zM512 737h8v8h-8zM430 865h8v8h-8zM465 744h8v8h-8zM453 793h8v8h-8zM468 931h8v8h-8zM539 661h8v8h-8zM521 720h8v8h-8zM414 851h8v8h-8zM490 866h8v8h-8zM443 868h8v8h-8zM526 835h8v8h-8zM540 794h8v8h-8zM458 761h8v8h-8zM517 724h8v8h-8zM522 751h8v8h-8zM509 779h8v8h-8zM525 826h8v8h-8zM474 767h8v8h-8zM495 799h8v8h-8zM478 845h8v8h-8zM484 681h8v8h-8zM480 808h8v8h-8zM392 863h8v8h-8zM472 770h8v8h-8zM524 720h8v8h-8zM424 688h8v8h-8zM457 709h8v8h-8zM489 733h8v8h-8zM478 856h8v8h-8zM511 702h8v8h-8zM537 687h8v8h-8zM438 880h8v8h-8zM443 812h8v8h-8zM495 832h8v8h-8zM452 762h8v8h-8zM499 707h8v8h-8zM402 927h8v8h-8zM459 853h8v8h-8zM425 755h8v8h-8zM405 791h8v8h-8zM475 936h8v8h-8zM422 848h8v8h-8zM443 977h8v8h-8zM446 825h8v8h-8zM494 810h8v8h-8zM479 881h8v8h-8zM473 796h8v8h-8zM451 798h8v8h-8zM523 739h8v8h-8zM478 769h8v8h-8zM421 862h8v8h-8zM482 884h8v8h-8zM514 799h8v8h-8zM461 767h8v8h-8zM463 787h8v8h-8zM485 739h8v8h-8zM498 772h8v8h-8zM485 693h8v8h-8zM452 864h8v8h-8zM494 789h8v8h-8zM457 779h8v8h-8zM455 804h8v8h-8zM517 756h8v8h-8zM452 821h8v8h-8zM431 833h8v8h-8zM488 845h8v8h-8zM427 882h8v8h-8zM513 631h8v8h-8zM469 814h8v8h-8zM508 909h8v8h-8zM466 760h8v8h-8zM423 858h8v8h-8zM426 726h8v8h-8zM512 841h8v8h-8zM444 863h8v8h-8zM502 629h8v8h-8zM510 747h8v8h-8zM395 890h8v8h-8zM446 855h8v8h-8zM458 711h8v8h-8zM525 797h8v8h-8zM531 757h8v8h-8zM434 734h8v8h-8zM492 761h8v8h-8zM478 831h8v8h-8zM418 901h8v8h-8zM510 753h8v8h-8zM536 834h8v8h-8zM420 836h8v8h-8zM492 803h8v8h-8zM435 877h8v8h-8zM509 704h8v8h-8zM510 770h8v8h-8zM449 738h8v8h-8zM456 708h8v8h-8zM532 705h8v8h-8zM456 759h8v8h-8zM509 760h8v8h-8zM390 894h8v8h-8zM401 846h8v8h-8zM508 722h8v8h-8zM473 808h8v8h-8zM450 749h8v8h-8zM416 837h8v8h-8zM471 873h8v8h-8zM406 839h8v8h-8zM455 672h8v8h-8zM489 620h8v8h-8zM449 869h8v8h-8zM394 901h8v8h-8zM390 857h8v8h-8zM441 890h8v8h-8zM493 815h8v8h-8zM430 771h8v8h-8zM433 903h8v8h-8zM444 941h8v8h-8zM427 934h8v8h-8zM516 775h8v8h-8zM431 853h8v8h-8zM408 926h8v8h-8z" fill="#ff0000" fill-opacity="1.0"/>
<path transform="scale(0.1)" d="M451 838h8v8h-8zM392 843h8v8h-8zM443 791h8v8h-8zM486 865h8v8h-8zM464 852h8v8h-8zM483 693h8v8h-8zM487 892h8v8h-8zM515 720h8v8h-8zM479 843h8v8h-8zM528 626h8v8h-8zM454 876h8v8h-8zM473 883h8v8h-8zM453 796h8v8h-8zM478 810h8v8h-8zM408 888h8v8h-8zM413 718h8v8h-8zM448 735h8v8h-8zM520 793h8v8h-8zM486 826h8v8h-8zM440 875h8v8h-8zM477 814h8v8h-8zM418 792h8v8h-8zM426 815h8v8h-8zM444 799h8v8h-8zM496 832h8v8h-8zM462 743h8v8h-8zM478 755h8v8h-8zM527 741h8v8h-8zM459 717h8v8h-8zM530 711h8v8h-8zM435 811h8v8h-8zM416 802h8v8h-8zM389 935h8v8h-8zM484 748h8v8h-8zM467 893h8v8h-8zM507 661h8v8h-8zM510 734h8v8h-8zM414 835h8v8h-8zM474 799h8v8h-8zM460 773h8v8h-8zM479 663h8v8h-8zM461 952h8v8h-8zM431 861h8v8h-8zM449 802h8v8h-8zM410 794h8v8h-8zM540 758h8v8h-8zM471 749h8v8h-8zM447 798h8v8h-8zM513 842h8v8h-8zM435 835h8v8h-8zM499 689h8v8h-8zM509 651h8v8h-8zM494 613h8v8h-8zM534 754h8v8h-8zM472 761h8v8h-8zM505 802h8v8h-8zM535 725h8v8h-8zM493 788h8v8h-8zM521 615h8v8h-8zM377 859h8v8h-8zM505 781h8v8h-8zM504 828h8v8h-8zM472 830h8v8h-8zM521 771h8v8h-8zM506 714h8v8h-8zM514 669h8v8h-8zM465 756h8v8h-8zM456 779h8v8h-8zM480 829h8v8h-8zM432 903h8v8h-8zM475 768h8v8h-8zM513 648h8v8h-8zM471 734h8v8h-8zM466 841h8v8h-8zM445 740h8v8h-8zM523 816h8v8h-8zM481 720h8v8h-8zM483 819h8v8h-8zM496 651h8v8h-8zM522 800h8v8h-8zM440 632h8v8h-8zM462 784h8v8h-8zM525 746h8v8h-8zM459 785h8v8h-8zM496 743h8v8h-8zM426 806h8v8h-8zM488 899h8v8h-8zM506 685h8v8h-8zM541 800h8v8h-8zM477 868h8v8h-8zM424 768h8v8h-8zM431 799h8v8h-8zM468 957h8v8h-8zM407 984h8v8h-8zM433 819h8v8h-8zM523 660h8v8h-8zM496 688h8v8h-8zM473 860h8v8h-8zM486 729h8v8h-8zM412 761h8v8h-8zM455 860h8v8h-8zM491 701h8v8h-8zM473 874h8v8h-8zM487 797h8v8h-8zM483 815h8v8h-8zM522 623h8v8h-8zM442 786h8v8h-8zM484 753h8v8h-8zM516 720h8v8h-8zM464 817h8v8h-8zM451 811h8v8h-8zM508 714h8v8h-8zM510 833h8v8h-8zM446 853h8v8h-8zM439 836h8v8h-8zM491 765h8v8h-8zM513 897h8v8h-8zM445 718h8v8h-8zM441 789h8v8h-8zM497 915h8v8h-8zM465 904h8v8h-8zM455 787h8v8h-8zM436 901h8v8h-8zM518 649h8v8h-8zM461 713h8v8h-8zM400 884h8v8h-8zM412 773h8v8h-8zM416 834h8v8h-8zM448 814h8v8h-8zM496 786h8v8h-8zM425 870h8v8h-8zM488 757h8v8h-8zM408 787h8v8h-8zM488 704h8v8h-8zM469 765h8v8h-8zM482 790h8v8h-8zM409 827h8v8h-8zM435 870h8v8h-8zM463 716h8v8h-8zM527 654h8v8h-8zM485 815h8v8h-8zM509 873h8v8h-8zM485 829h8v8h-8zM515 795h8v8h-8zM472 714h8v8h-8zM534 696h8v8h-8zM486 719h8v8h-8zM467 705h8v8h-8zM525 688h8v8h-8zM522 655h8v8h-8zM469 836h8v8h-8zM523 790h8v8h-8zM443 828h8v8h-8zM507 652h8v8h-8zM416 835h8v8h-8zM509 733h8v8h-8zM436 877h8v8h-8zM488 722h8v8h-8zM494 637h8v8h-8zM476 837h8v8h-8zM410 751h8v8h-8zM453 966h8v8h-8zM465 782h8v8h-8zM488 816h8v8h-8zM458 813h8v8h-8zM451 892h8v8h-8zM520 686h8v8h-8zM464 901h8v8h-8zM417 847h8v8h-8zM448 788h8v8h-8zM434 884h8v8h-8zM438 808h8v8h-8zM502 656h8v8h-8zM533 747h8v8h-8zM481 782h8v8h-8zM446 771h8v8h-8zM421 910h8v8h-8zM443 766h8v8h-8zM464 712h8v8h-8zM457 784h8v8h-8zM477 821h8v8h-8zM477 768h8v8h-8zM482 796h8v8h-8zM456 873h8v8h-8zM463 807h8v8h-8zM462 925h8v8h-8zM452 746h8v8h-8zM422 825h8v8h-8zM489 694h8v8h-8zM505 800h8v8h-8zM475 713h8v8h-8zM442 860h8v8h-8zM497 883h8v8h-8zM476 837h8v8h-8zM459 783h8v8h-8zM503 658h8v8h-8zM529 834h8v8h-8zM450 899h8v8h-8zM435 733h8v8h-8zM518 826h8v8h-8zM475 844h8v8h-8zM499 687h8v8h-8zM482 818h8v8h-8zM442 877h8v8h-8zM427 843h8v8h-8zM513 755h8v8h-8zM484 905h8v8h-8zM453 769h8v8h-8zM448 782h8v8h-8zM460 777h8v8h-8zM464 832h8v8h-8zM444 785h8v8h-8zM512 851h8v8h-8zM483 602h8v8h-8zM440 884h8v8h-8zM441 764h8v8h-8zM520 659h8v8h-8zM500 800h8v8h-8zM492 879h8v8h-8zM414 744h8v8h-8zM467 750h8v8h-8zM453 871h8v8h-8zM489 662h8v8h-8zM504 615h8v8h-8zM513 724h8v8h-8zM519 789h8v8h-8zM413 743h8v8h-8zM521 745h8v8h-8zM439 761h8v8h-8zM533 729h8v8h-8zM535 813h8v8h-8zM419 765h8v8h-8zM484 756h8v8h-8zM473 868h8v8h-8zM467 826h8v8h-8zM491 765h8v8h-8zM479 723h8v8h-8zM459 813h8v8h-8zM456 743h8v8h-8zM488 849h8v8h-8zM540 694h8v8h-8zM527 806h8v8h-8zM492 725h8v8h-8zM489 880h8v8h-8zM499 779h8v8h-8zM379 887h8v8h-8zM443 833h8v8h-8zM519 706h8v8h-8zM512 678h8v8h-8zM514 788h8v8h-8zM493 767h8v8h-8zM527 605h8v8h-8zM495 755h8v8h-8zM504 738h8v8h-8zM439 907h8v8h-8zM446 820h8v8h-8zM474 768h8v8h-8zM447 833h8v8h-8zM507 647h8v8h-8zM478 788h8v8h-8zM535 765h8v8h-8zM518 830h8v8h-8zM430 902h8v8h-8zM490 792h8v8h-8zM500 752h8v8h-8zM511 821h8v8h-8zM514 651h8v8h-8zM439 768h8v8h-8zM460 791h8v8h-8zM470 893h8v8h-8zM540 720h8v8h-8zM534 713h8v8h-8zM535 773h8v8h-8zM434 854h8v8h-8zM406 748h8v8h-8zM483 765h8v8h-8zM464 765h8v8h-8zM517 793h8v8h-8z" fill="#ff7070" fill-opacity="1.0"/>
<path transform="scale(0.1)" d="M485 869h8v8h-8zM433 733h8v8h-8zM427 759h8v8h-8zM448 821h8v8h-8zM473 814h8v8h-8zM429 822h8v8h-8zM489 849h8v8h-8zM463 836h8v8h-8zM473 765h8v8h-8zM455 821h8v8h-8zM466 782h8v8h-8zM467 811h8v8h-8zM384 813h8v8h-8zM496 813h8v8h-8zM477 789h8v8h-8zM459 807h8v8h-8zM518 725h8v8h-8zM484 819h8v8h-8zM499 751h8v8h-8zM456 910h8v8h-8zM493 718h8v8h-8zM476 839h8v8h-8zM462 807h8v8h-8zM487 811h8v8h-8zM473 813h8v8h-8zM421 830h8v8h-8zM473 754h8v8h-8zM477 844h8v8h-8zM505 802h8v8h-8zM504 823h8v8h-8zM438 897h8v8h-8zM486 783h8v8h-8zM415 803h8v8h-8zM459 775h8v8h-8zM495 785h8v8h-8zM477 808h8v8h-8zM429 842h8v8h-8zM501 767h8v8h-8zM472 845h8v8h-8zM470 803h8v8h-8zM487 750h8v8h-8zM500 905h8v8h-8zM470 788h8v8h-8zM489 813h8v8h-8zM455 779h8v8h-8zM473 800h8v8h-8zM478 817h8v8h-8zM482 775h8v8h-8zM481 832h8v8h-8zM454 804h8v8h-8zM504 748h8v8h-8zM487 800h8v8h-8zM446 893h8v8h-8zM448 877h8v8h-8zM489 797h8v8h-8zM473 846h8v8h-8zM506 758h8v8h-8zM510 714h8v8h-8zM473 828h8v8h-8zM440 806h8v8h-8zM487 808h8v8h-8zM487 792h8v8h-8zM490 779h8v8h-8zM451 761h8v8h-8zM466 830h8v8h-8zM504 778h8v8h-8zM500 803h8v8h-8zM517 821h8v8h-8zM426 858h8v8h-8zM447 852h8v8h-8zM468 785h8v8h-8zM421 845h8v8h-8zM461 788h8v8h-8zM473 784h8v8h-8zM456 886h8v8h-8zM455 814h8v8h-8zM475 803h8v8h-8zM497 718h8v8h-8zM488 829h8v8h-8zM458 781h8v8h-8zM492 723h8v8h-8zM456 851h8v8h-8zM470 763h8v8h-8zM457 846h8v8h-8zM484 833h8v8h-8zM480 823h8v8h-8zM427 840h8v8h-8zM447 905h8v8h-8zM453 842h8v8h-8zM442 777h8v8h-8zM495 730h8v8h-8zM496 711h8v8h-8zM473 747h8v8h-8zM522 787h8v8h-8zM479 778h8v8h-8zM466 855h8v8h-8zM520 750h8v8h-8zM483 792h8v8h-8zM503 769h8v8h-8zM470 805h8v8h-8zM447 785h8v8h-8zM470 790h8v8h-8zM471 802h8v8h-8zM444 819h8v8h-8zM503 735h8v8h-8zM396 869h8v8h-8zM476 848h8v8h-8zM484 871h8v8h-8zM471 790h8v8h-8zM484 876h8v8h-8zM512 771h8v8h-8zM472 820h8v8h-8zM454 776h8v8h-8zM469 830h8v8h-8zM530 812h8v8h-8zM516 772h8v8h-8zM432 906h8v8h-8zM490 788h8v8h-8zM464 772h8v8h-8zM536 737h8v8h-8zM510 802h8v8h-8zM425 784h8v8h-8zM509 713h8v8h-8zM443 852h8v8h-8zM464 801h8v8h-8zM441 842h8v8h-8zM475 773h8v8h-8zM477 808h8v8h-8zM448 812h8v8h-8zM464 791h8v8h-8zM451 887h8v8h-8zM527 688h8v8h-8zM505 829h8v8h-8zM453 748h8v8h-8zM456 786h8v8h-8zM478 710h8v8h-8zM443 824h8v8h-8zM501 856h8v8h-8zM449 852h8v8h-8zM486 816h8v8h-8zM468 884h8v8h-8zM505 760h8v8h-8zM501 772h8v8h-8zM478 752h8v8h-8zM460 776h8v8h-8zM453 905h8v8h-8zM509 772h8v8h-8zM485 817h8v8h-8zM494 671h8v8h-8zM474 771h8v8h-8zM444 773h8v8h-8zM482 828h8v8h-8zM479 752h8v8h-8zM475 877h8v8h-8zM444 865h8v8h-8zM452 903h8v8h-8zM441 879h8v8h-8zM482 819h8v8h-8zM467 886h8v8h-8zM455 825h8v8h-8zM488 810h8v8h-8zM459 850h8v8h-8zM530 814h8v8h-8zM471 751h8v8h-8zM506 812h8v8h-8zM447 874h8v8h-8zM461 787h8v8h-8zM498 858h8v8h-8zM441 746h8v8h-8zM455 825h8v8h-8zM488 758h8v8h-8zM456 824h8v8h-8zM490 772h8v8h-8zM488 883h8v8h-8zM467 911h8v8h-8zM441 819h8v8h-8zM496 841h8v8h-8zM490 772h8v8h-8zM453 875h8v8h-8zM471 823h8v8h-8zM470 807h8v8h-8zM449 843h8v8h-8zM432 916h8v8h-8zM413 844h8v8h-8zM512 779h8v8h-8zM479 745h8v8h-8zM461 809h8v8h-8zM477 811h8v8h-8zM482 794h8v8h-8zM542 703h8v8h-8zM457 858h8v8h-8zM484 760h8v8h-8zM459 806h8v8h-8zM449 814h8v8h-8zM471 688h8v8h-8zM503 710h8v8h-8zM466 847h8v8h-8zM461 782h8v8h-8zM471 866h8v8h-8zM453 833h8v8h-8zM415 876h8v8h-8zM464 762h8v8h-8zM426 855h8v8h-8zM471 855h8v8h-8zM466 724h8v8h-8zM491 789h8v8h-8zM454 811h8v8h-8zM515 791h8v8h-8zM466 853h8v8h-8zM453 849h8v8h-8zM457 847h8v8h-8zM476 740h8v8h-8zM530 727h8v8h-8zM506 865h8v8h-8zM472 777h8v8h-8zM517 835h8v8h-8zM490 816h8v8h-8zM443 715h8v8h-8zM431 840h8v8h-8zM454 705h8v8h-8zM483 828h8v8h-8zM482 875h8v8h-8zM464 764h8v8h-8zM441 813h8v8h-8zM469 804h8v8h-8zM444 788h8v8h-8zM526 776h8v8h-8zM453 867h8v8h-8zM454 822h8v8h-8zM526 782h8v8h-8zM460 830h8v8h-8zM478 756h8v8h-8zM474 747h8v8h-8zM512 724h8v8h-8zM515 778h8v8h-8zM502 827h8v8h-8zM447 793h8v8h-8zM425 822h8v8h-8zM535 709h8v8h-8zM446 837h8v8h-8zM443 882h8v8h-8zM506 704h8v8h-8zM483 760h8v8h-8zM466 866h8v8h-8zM463 845h8v8h-8zM490 792h8v8h-8zM492 783h8v8h-8zM454 835h8v8h-8zM492 858h8v8h-8zM441 794h8v8h-8zM411 897h8v8h-8zM465 852h8v8h-8zM515 838h8v8h-8zM467 803h8v8h-8zM469 792h8v8h-8zM425 858h8v8h-8zM496 796h8v8h-8zM457 866h8v8h-8zM439 835h8v8h-8zM459 818h8v8h-8zM417 890h8v8h-8zM464 768h8v8h-8zM453 836h8v8h-8zM475 843h8v8h-8zM415 855h8v8h-8zM486 817h8v8h-8zM433 875h8v8h-8zM448 812h8v8h-8zM465 858h8v8h-8zM467 793h8v8h-8zM488 831h8v8h-8zM441 772h8v8h-8zM477 764h8v8h-8zM476 876h8v8h-8zM478 787h8v8h-8zM485 768h8v8h-8zM476 794h8v8h-8zM493 776h8v8h-8zM485 795h8v8h-8zM469 825h8v8h-8zM441 872h8v8h-8zM466 823h8v8h-8zM504 708h8v8h-8zM469 841h8v8h-8zM509 717h8v8h-8zM499 804h8v8h-8zM519 864h8v8h-8zM435 913h8v8h-8zM497 787h8v8h-8zM443 853h8v8h-8zM490 813h8v8h-8zM474 780h8v8h-8zM462 718h8v8h-8zM483 828h8v8h-8zM465 792h8v8h-8zM480 780h8v8h-8zM479 851h8v8h-8zM434 746h8v8h-8zM512 722h8v8h-8zM430 863h8v8h-8zM446 868h8v8h-8zM447 820h8v8h-8zM457 795h8v8h-8zM412 834h8v8h-8zM521 673h8v8h-8zM482 780h8v8h-8zM449 843h8v8h-8zM454 796h8v8h-8zM480 859h8v8h-8zM482 852h8v8h-8zM478 765h8v8h-8zM461 772h8v8h-8zM481 829h8v8h-8zM452 851h8v8h-8zM435 821h8v8h-8zM533 778h8v8h-8zM480 784h8v8h-8zM468 875h8v8h-8zM489 791h8v8h-8zM493 836h8v8h-8zM457 791h8v8h-8zM505 822h8v8h-8zM461 803h8v8h-8zM477 724h8v8h-8zM454 812h8v8h-8zM526 782h8v8h-8zM430 876h8v8h-8zM476 787h8v8h-8zM461 819h8v8h-8zM496 876h8v8h-8zM508 730h8v8h-8zM513 795h8v8h-8zM468 753h8v8h-8zM478 781h8v8h-8zM501 831h8v8h-8zM472 963h8v8h-8zM491 778h8v8h-8zM432 767h8v8h-8zM471 832h8v8h-8zM487 785h8v8h-8zM451 851h8v8h-8zM499 745h8v8h-8zM453 799h8v8h-8zM461 829h8v8h-8zM481 866h8v8h-8zM485 836h8v8h-8zM517 783h8v8h-8zM504 730h8v8h-8zM476 813h8v8h-8zM519 745h8v8h-8zM458 888h8v8h-8zM478 758h8v8h-8zM475 754h8v8h-8zM465 815h8v8h-8zM436 909h8v8h-8zM504 728h8v8h-8zM451 802h8v8h-8zM483 759h8v8h-8zM482 738h8v8h-8zM458 816h8v8h-8zM471 864h8v8h-8zM483 832h8v8h-8zM503 775h8v8h-8zM461 859h8v8h-8zM489 846h8v8h-8zM473 824h8v8h-8zM457 805h8v8h-8zM485 672h8v8h-8zM441 839h8v8h-8zM473 850h8v8h-8zM477 763h8v8h-8zM484 751h8v8h-8zM452 833h8v8h-8zM455 838h8v8h-8zM515 801h8v8h-8zM427 804h8v8h-8zM481 776h8v8h-8zM464 830h8v8h-8zM461 824h8v8h-8zM480 796h8v8h-8zM464 794h8v8h-8zM471 850h8v8h-8zM521 777h8v8h-8zM480 800h8v8h-8zM487 770h8v8h-8zM459 880h8v8h-8zM531 758h8v8h-8zM468 736h8v8h-8zM477 767h8v8h-8zM510 787h8v8h-8zM495 791h8v8h-8zM455 790h8v8h-8zM443 877h8v8h-8zM413 868h8v8h-8zM423 868h8v8h-8zM489 774h8v8h-8zM475 811h8v8h-8zM471 766h8v8h-8zM490 786h8v8h-8zM515 777h8v8h-8zM473 797h8v8h-8zM513 742h8v8h-8zM470 824h8v8h-8zM467 887h8v8h-8zM478 754h8v8h-8zM455 821h8v8h-8zM480 777h8v8h-8zM440 832h8v8h-8zM475 760h8v8h-8zM460 793h8v8h-8zM479 738h8v8h-8zM504 700h8v8h-8zM419 867h8v8h-8zM459 807h8v8h-8zM482 729h8v8h-8zM475 798h8v8h-8zM463 794h8v8h-8zM512 853h8v8h-8zM499 753h8v8h-8zM457 849h8v8h-8zM462 796h8v8h-8zM442 924h8v8h-8zM478 848h8v8h-8zM474 854h8v8h-8zM475 889h8v8h-8zM511 772h8v8h-8zM485 736h8v8h-8zM505 701h8v8h-8zM479 831h8v8h-8zM487 721h8v8h-8zM487 761h8v8h-8zM499 789h8v8h-8zM478 805h8v8h-8zM464 844h8v8h-8zM471 742h8v8h-8zM457 799h8v8h-8zM455 792h8v8h-8zM463 794h8v8h-8zM475 840h8v8h-8zM441 869h8v8h-8zM481 823h8v8h-8zM480 780h8v8h-8zM519 750h8v8h-8zM493 852h8v8h-8zM511 730h8v8h-8zM472 823h8v8h-8zM501 765h8v8h-8zM498 823h8v8h-8zM446 875h8v8h-8zM463 860h8v8h-8zM474 851h8v8h-8zM476 781h8v8h-8zM486 727h8v8h-8zM481 664h8v8h-8zM454 777h8v8h-8zM470 811h8v8h-8zM470 783h8v8h-8zM438 828h8v8h-8zM491 816h8v8h-8zM500 773h8v8h-8zM472 774h8v8h-8zM502 747h8v8h-8zM480 826h8v8h-8zM452 761h8v8h-8zM473 753h8v8h-8zM473 806h8v8h-8zM462 863h8v8h-8zM512 747h8v8h-8zM459 831h8v8h-8zM446 838h8v8h-8zM468 761h8v8h-8zM463 833h8v8h-8zM438 908h8v8h-8zM513 729h8v8h-8zM506 772h8v8h-8zM507 701h8v8h-8zM454 824h8v8h-8zM423 702h8v8h-8zM479 842h8v8h-8zM457 860h8v8h-8zM461 861h8v8h-8zM467 849h8v8h-8zM471 853h8v8h-8zM476 768h8v8h-8zM459 793h8v8h-8zM466 847h8v8h-8zM481 821h8v8h-8zM472 759h8v8h-8zM479 803h8v8h-8zM452 834h8v8h-8zM537 766h8v8h-8zM451 791h8v8h-8zM539 695h8v8h-8zM512 757h8v8h-8zM455 853h8v8h-8zM504 746h8v8h-8z" fill="#ff0000" fill-opacity="1.0"/>
<path d="M58.0 69.0h1.0v1.0h-1.0zM62.0 66.0h1.0v1.0h-1.0zM66.0 72.0h1.0v1.0h-1.0zM70.0 65.0h1.0v1.0h-1.0zM74.0 63.0h1.0v1.0h-1.0zM78.0 70.0h1.0v1.0h-1.0zM60.0 76.0h1.0v1.0h-1.0zM64.0 80.0h1.0v1.0h-1.0zM57.0 74.0h1.0v1.0h-1.0zM75.0 72.0h1.0v1.0h-1.0zM68.0 61.0h1.0v1.0h-1.0z" fill="#ff8080"/>
<path transform="scale(0.1)" d="M1446 789h8v8h-8zM1496 740h8v8h-8zM1457 805h8v8h-8zM1389 825h8v8h-8zM1405 798h8v8h-8zM1453 784h8v8h-8zM1424 834h8v8h-8zM1464 761h8v8h-8zM1361 870h8v8h-8zM1495 678h8v8h-8zM1487 836h8v8h-8zM1377 805h8v8h-8zM1415 976h8v8h-8zM1405 827h8v8h-8zM1413 905h8v8h-8zM1458 760h8v8h-8zM1409 861h8v8h-8zM1396 857h8v8h-8zM1450 775h8v8h-8zM1471 703h8v8h-8zM1412 805h8v8h-8zM1437 727h8v8h-8zM1379 947h8v8h-8zM1461 729h8v8h-8zM1504 839h8v8h-8zM1448 785h8v8h-8zM1426 720h8v8h-8zM1359 994h8v8h-8zM1417 890h8v8h-8zM1358 865h8v8h-8zM1454 759h8v8h-8zM1488 722h8v8h-8zM1475 829h8v8h-8zM1433 734h8v8h-8zM1444 771h8v8h-8zM1405 898h8v8h-8zM1435 920h8v8h-8zM1435 774h8v8h-8zM1427 789h8v8h-8zM1337 865h8v8h-8zM1436 861h8v8h-8zM1442 757h8v8h-8zM1401 830h8v8h-8zM1441 829h8v8h-8zM1454 827h8v8h-8zM1353 937h8v8h-8zM1457 743h8v8h-8zM1408 844h8v8h-8zM1385 880h8v8h-8zM1429 862h8v8h-8zM1397 931h8v8h-8zM1407 891h8v8h-8zM1389 815h8v8h-8zM1400 859h8v8h-8zM1381 803h8v8h-8zM1403 923h8v8h-8zM1386 850h8v8h-8zM1377 862h8v8h-8zM1460 805h8v8h-8zM1424 792h8v8h-8zM1438 849h8v8h-8zM1483 805h8v8h-8zM1447 813h8v8h-8zM1424 824h8v8h-8zM1387 673h8v8h-8zM1451 771h8v8h-8zM1440 835h8v8h-8zM1459 802h8v8h-8zM1420 625h8v8h-8zM1412 870h8v8h-8zM1353 945h8v8h-8zM1443 760h8v8h-8zM1371 818h8v8h-8zM1407 839h8v8h-8zM1440 741h8v8h-8zM1426 754h8v8h-8zM1420 742h8v8h-8zM1438 871h8v8h-8zM1363 878h8v8h-8zM1425 776h8v8h-8zM1466 706h8v8h-8zM1463 808h8v8h-8zM1372 840h8v8h-8zM1455 763h8v8h-8zM1438 790h8v8h-8zM1389 826h8v8h-8zM1376 882h8v8h-8zM1418 880h8v8h-8zM1470 692h8v8h-8zM1439 743h8v8h-8zM1391 871h8v8h-8zM1426 761h8v8h-8zM1459 776h8v8h-8zM1420 901h8v8h-8zM1407 861h8v8h-8zM1439 863h8v8h-8zM1352 955h8v8h-8zM1438 866h8v8h-8zM1376 882h8v8h-8zM1420 909h8v8h-8zM1435 775h8v8h-8zM1418 792h8v8h-8zM1397 881h8v8h-8zM1410 787h8v8h-8zM1451 800h8v8h-8zM1377 839h8v8h-8zM1392 912h8v8h-8zM1434 844h8v8h-8zM1450 857h8v8h-8zM1422 795h8v8h-8zM1405 740h8v8h-8zM1447 866h8v8h-8zM1410 927h8v8h-8zM1493 705h8v8h-8zM1468 714h8v8h-8zM1487 655h8v8h-8zM1390 920h8v8h-8zM1407 766h8v8h-8zM1414 843h8v8h-8zM1381 876h8v8h-8zM1405 804h8v8h-8zM1456 774h8v8h-8zM1389 826h8v8h-8zM1413 873h8v8h-8zM1475 847h8v8h-8zM1434 883h8v8h-8zM1441 718h8v8h-8zM1424 745h8v8h-8zM1402 810h8v8h-8zM1411 852h8v8h-8zM1432 850h8v8h-8zM1403 717h8v8h-8zM1425 822h8v8h-8zM1408 881h8v8h-8zM1421 821h8v8h-8zM1477 757h8v8h-8zM1445 692h8v8h-8zM1379 945h8v8h-8zM1417 852h8v8h-8zM1486 733h8v8h-8zM1486 727h8v8h-8zM1384 904h8v8h-8zM1439 873h8v8h-8zM1424 805h8v8h-8zM1338 827h8v8h-8zM1434 837h8v8h-8zM1492 709h8v8h-8zM1399 834h8v8h-8zM1413 812h8v8h-8zM1456 722h8v8h-8zM1408 906h8v8h-8zM1409 763h8v8h-8zM1433 888h8v8h-8zM1375 818h8v8h-8zM1441 788h8v8h-8zM1379 863h8v8h-8zM1426 841h8v8h-8zM1452 734h8v8h-8zM1480 867h8v8h-8zM1397 838h8v8h-8zM1432 907h8v8h-8zM1432 863h8v8h-8zM1362 884h8v8h-8zM1421 785h8v8h-8zM1432 842h8v8h-8zM1443 830h8v8h-8zM1491 713h8v8h-8zM1428 814h8v8h-8zM1422 865h8v8h-8zM1421 889h8v8h-8zM1424 820h8v8h-8zM1441 799h8v8h-8zM1478 725h8v8h-8zM1388 789h8v8h-8zM1425 876h8v8h-8zM1343 918h8v8h-8zM1367 865h8v8h-8zM1429 888h8v8h-8zM1352 945h8v8h-8zM1435 716h8v8h-8zM1468 647h8v8h-8zM1394 856h8v8h-8zM1399 814h8v8h-8zM1424 874h8v8h-8zM1406 770h8v8h-8zM1421 859h8v8h-8zM1399 877h8v8h-8zM1453 728h8v8h-8zM1434 932h8v8h-8zM1421 780h8v8h-8zM1347 904h8v8h-8zM1399 819h8v8h-8zM1425 796h8v8h-8zM1447 744h8v8h-8zM1401 802h8v8h-8zM1444 824h8v8h-8zM1452 698h8v8h-8zM1403 833h8v8h-8zM1448 796h8v8h-8zM1417 830h8v8h-8zM1386 859h8v8h-8zM1422 933h8v8h-8zM1468 778h8v8h-8zM1437 801h8v8h-8zM1424 780h8v8h-8zM1452 870h8v8h-8zM1447 871h8v8h-8zM1430 760h8v8h-8zM1361 825h8v8h-8zM1338 848h8v8h-8zM1368 932h8v8h-8zM1478 779h8v8h-8zM1446 840h8v8h-8zM1370 820h8v8h-8zM1448 793h8v8h-8zM1375 870h8v8h-8zM1428 878h8v8h-8zM1453 746h8v8h-8zM1417 676h8v8h-8zM1448 780h8v8h-8zM1450 856h8v8h-8zM1364 982h8v8h-8zM1418 706h8v8h-8zM1436 837h8v8h-8zM1403 888h8v8h-8zM1374 883h8v8h-8zM1468 751h8v8h-8zM1428 844h8v8h-8zM1400 843h8v8h-8zM1389 944h8v8h-8zM1417 793h8v8h-8zM1459 892h8v8h-8zM1403 842h8v8h-8zM1436 777h8v8h-8zM1430 876h8v8h-8zM1412 835h8v8h-8zM1420 875h8v8h-8zM1422 856h8v8h-8zM1389 833h8v8h-8zM1373 860h8v8h-8zM1443 916h8v8h-8zM1468 716h8v8h-8zM1440 831h8v8h-8zM1393 922h8v8h-8zM1422 864h8v8h-8zM1403 915h8v8h-8zM1375 824h8v8h-8zM1387 905h8v8h-8zM1402 908h8v8h-8zM1439 714h8v8h-8zM1384 890h8v8h-8zM1459 763h8v8h-8zM1422 788h8v8h-8zM1461 831h8v8h-8zM1454 812h8v8h-8zM1428 894h8v8h-8zM1426 845h8v8h-8zM1432 712h8v8h-8zM1432 780h8v8h-8zM1446 821h8v8h-8zM1483 806h8v8h-8zM1444 768h8v8h-8zM1475 802h8v8h-8zM1454 753h8v8h-8zM1411 905h8v8h-8zM1440 821h8v8h-8zM1444 824h8v8h-8zM1452 642h8v8h-8zM1411 838h8v8h-8zM1459 796h8v8h-8zM1404 797h8v8h-8zM1417 794h8v8h-8zM1445 840h8v8h-8zM1428 779h8v8h-8zM1395 859h8v8h-8zM1381 746h8v8h-8zM1406 872h8v8h-8zM1400 732h8v8h-8zM1493 638h8v8h-8zM1388 854h8v8h-8zM1376 820h8v8h-8zM1495 672h8v8h-8zM1368 893h8v8h-8zM1403 819h8v8h-8zM1439 881h8v8h-8zM1423 823h8v8h-8zM1433 875h8v8h-8zM1474 717h8v8h-8zM1500 755h8v8h-8zM1430 977h8v8h-8zM1435 835h8v8h-8zM1412 785h8v8h-8zM1405 812h8v8h-8zM1408 815h8v8h-8zM1429 844h8v8h-8zM1406 719h8v8h-8zM1431 861h8v8h-8zM1406 858h8v8h-8zM1385 841h8v8h-8zM1409 881h8v8h-8zM1412 698h8v8h-8zM1403 939h8v8h-8zM1406 847h8v8h-8zM1437 861h8v8h-8zM1377 815h8v8h-8zM1450 818h8v8h-8zM1400 845h8v8h-8zM1415 886h8v8h-8zM1461 712h8v8h-8zM1450 920h8v8h-8zM1359 905h8v8h-8zM1431 909h8v8h-8zM1464 794h8v8h-8zM1388 863h8v8h-8zM1405 848h8v8h-8zM1464 842h8v8h-8zM1378 910h8v8h-8zM1478 720h8v8h-8zM1376 840h8v8h-8zM1396 881h8v8h-8zM1402 781h8v8h-8zM1405 869h8v8h-8zM1445 764h8v8h-8zM1434 868h8v8h-8zM1426 850h8v8h-8zM1427 852h8v8h-8zM1367 868h8v8h-8zM1399 912h8v8h-8zM1456 776h8v8h-8zM1380 952h8v8h-8zM1466 716h8v8h-8zM1414 853h8v8h-8zM1386 837h8v8h-8zM1446 889h8v8h-8zM1445 850h8v8h-8zM1398 897h8v8h-8zM1401 813h8v8h-8zM1391 856h8v8h-8zM1399 791h8v8h-8zM1343 860h8v8h-8zM1397 930h8v8h-8zM1462 722h8v8h-8zM1403 866h8v8h-8zM1433 869h8v8h-8zM1447 840h8v8h-8zM1425 917h8v8h-8zM1404 750h8v8h-8zM1402 906h8v8h-8zM1402 944h8v8h-8zM1431 760h8v8h-8zM1408 838h8v8h-8zM1445 787h8v8h-8zM1479 726h8v8h-8zM1438 852h8v8h-8zM1374 828h8v8h-8zM1432 831h8v8h-8zM1414 861h8v8h-8zM1408 749h8v8h-8zM1397 802h8v8h-8zM1412 819h8v8h-8zM1479 780h8v8h-8zM1391 756h8v8h-8zM1427 948h8v8h-8zM1457 803h8v8h-8zM1411 879h8v8h-8zM1442 884h8v8h-8zM1459 821h8v8h-8zM1473 739h8v8h-8zM1437 764h8v8h-8zM1433 904h8v8h-8zM1414 749h8v8h-8zM1410 901h8v8h-8zM1426 935h8v8h-8zM1418 808h8v8h-8zM1447 782h8v8h-8zM1432 862h8v8h-8zM1414 875h8v8h-8zM1470 800h8v8h-8zM1441 793h8v8h-8zM1438 897h8v8h-8zM1421 851h8v8h-8zM1429 788h8v8h-8zM1402 992h8v8h-8zM1378 862h8v8h-8zM1508 824h8v8h-8zM1400 776h8v8h-8zM1410 863h8v8h-8zM1412 716h8v8h-8zM1420 745h8v8h-8zM1449 723h8v8h-8zM1447 794h8v8h-8zM1401 891h8v8h-8zM1433 883h8v8h-8zM1443 779h8v8h-8zM1415 728h8v8h-8zM1430 831h8v8h-8zM1452 774h8v8h-8zM1388 826h8v8h-8zM1480 820h8v8h-8zM1417 878h8v8h-8zM1390 952h8v8h-8zM1394 942h8v8h-8zM1398 942h8v8h-8zM1434 819h8v8h-8zM1349 857h8v8h-8zM1392 803h8v8h-8zM1460 775h8v8h-8zM1465 801h8v8h-8zM1390 759h8v8h-8zM1430 803h8v8h-8zM1433 834h8v8h-8zM1418 917h8v8h-8zM1408 820h8v8h-8zM1453 773h8v8h-8zM1418 805h8v8h-8zM1434 888h8v8h-8zM1453 688h8v8h-8zM1396 893h8v8h-8zM1397 772h8v8h-8zM1501 731h8v8h-8zM1394 915h8v8h-8zM1465 763h8v8h-8zM1467 781h8v8h-8zM1431 762h8v8h-8zM1418 737h8v8h-8zM1425 907h8v8h-8zM1403 831h8v8h-8zM1429 834h8v8h-8zM1421 804h8v8h-8zM1410 834h8v8h-8zM1416 839h8v8h-8zM1455 821h8v8h-8zM1428 763h8v8h-8zM1421 800h8v8h-8zM1491 779h8v8h-8zM1427 810h8v8h-8zM1448 807h8v8h-8zM1399 822h8v8h-8zM1393 875h8v8h-8zM1443 790h8v8h-8zM1459 669h8v8h-8zM1450 833h8v8h-8zM1453 957h8v8h-8zM1428 781h8v8h-8zM1448 690h8v8h-8zM1392 899h8v8h-8zM1440 952h8v8h-8zM1390 821h8v8h-8zM1418 822h8v8h-8zM1414 826h8v8h-8zM1431 902h8v8h-8zM1382 757h8v8h-8zM1434 868h8v8h-8zM1437 820h8v8h-8zM1463 789h8v8h-8zM1406 837h8v8h-8zM1441 853h8v8h-8zM1404 911h8v8h-8zM1442 730h8v8h-8zM1404 834h8v8h-8zM1390 911h8v8h-8zM1405 771h8v8h-8zM1476 833h8v8h-8zM1473 831h8v8h-8zM1428 825h8v8h-8zM1429 735h8v8h-8zM1438 758h8v8h-8zM1377 846h8v8h-8zM1490 787h8v8h-8zM1395 858h8v8h-8zM1386 865h8v8h-8zM1419 876h8v8h-8zM1394 855h8v8h-8zM1436 803h8v8h-8zM1446 804h8v8h-8zM1414 847h8v8h-8zM1431 791h8v8h-8zM1405 792h8v8h-8zM1370 858h8v8h-8zM1384 871h8v8h-8zM1490 663h8v8h-8zM1421 803h8v8h-8zM1365 845h8v8h-8zM1388 775h8v8h-8zM1397 908h8v8h-8zM1449 771h8v8h-8zM1429 677h8v8h-8zM1472 842h8v8h-8zM1487 780h8v8h-8zM1445 637h8v8h-8zM1443 834h8v8h-8zM1466 802h8v8h-8zM1412 830h8v8h-8zM1417 876h8v8h-8zM1371 839h8v8h-8zM1451 851h8v8h-8zM1397 805h8v8h-8zM1434 815h8v8h-8zM1504 722h8v8h-8zM1381 864h8v8h-8zM1409 820h8v8h-8zM1392 786h8v8h-8zM1388 866h8v8h-8zM1448 771h8v8h-8zM1372 882h8v8h-8zM1434 722h8v8h-8zM1427 857h8v8h-8zM1459 701h8v8h-8zM1366 794h8v8h-8zM1383 817h8v8h-8zM1456 843h8v8h-8zM1364 878h8v8h-8zM1429 802h8v8h-8zM1461 798h8v8h-8zM1373 825h8v8h-8zM1388 851h8v8h-8zM1452 825h8v8h-8zM1381 853h8v8h-8zM1450 713h8v8h-8zM1462 875h8v8h-8zM1424 823h8v8h-8zM1420 728h8v8h-8zM1421 773h8v8h-8zM1449 810h8v8h-8zM1446 738h8v8h-8zM1422 720h8v8h-8zM1432 728h8v8h-8zM1377 864h8v8h-8zM1391 909h8v8h-8zM1352 935h8v8h-8zM1403 856h8v8h-8zM1450 818h8v8h-8zM1431 829h8v8h-8zM1405 840h8v8h-8zM1409 885h8v8h-8zM1409 821h8v8h-8zM1457 828h8v8h-8zM1384 718h8v8h-8zM1462 680h8v8h-8zM1440 837h8v8h-8zM1373 860h8v8h-8zM1443 713h8v8h-8zM1447 896h8v8h-8zM1409 957h8v8h-8zM1482 759h8v8h-8zM1397 858h8v8h-8zM1410 779h8v8h-8zM1430 704h8v8h-8zM1440 785h8v8h-8zM1417 770h8v8h-8zM1453 779h8v8h-8zM1403 817h8v8h-8zM1440 767h8v8h-8zM1418 818h8v8h-8zM1424 899h8v8h-8zM1391 781h8v8h-8zM1419 820h8v8h-8zM1373 937h8v8h-8zM1375 890h8v8h-8zM1417 827h8v8h-8zM1450 773h8v8h-8zM1389 795h8v8h-8zM1438 758h8v8h-8zM1496 794h8v8h-8zM1441 776h8v8h-8zM1443 886h8v8h-8zM1418 888h8v8h-8zM1359 916h8v8h-8zM1409 899h8v8h-8zM1425 814h8v8h-8zM1386 972h8v8h-8zM1429 795h8v8h-8zM1398 894h8v8h-8zM1450 809h8v8h-8zM1426 829h8v8h-8zM1431 781h8v8h-8zM1436 828h8v8h-8zM1418 789h8v8h-8zM1475 839h8v8h-8zM1386 870h8v8h-8zM1396 895h8v8h-8zM1421 810h8v8h-8zM1427 821h8v8h-8zM1379 871h8v8h-8zM1456 757h8v8h-8zM1417 827h8v8h-8zM1444 728h8v8h-8zM1404 797h8v8h-8zM1407 872h8v8h-8zM1433 725h8v8h-8zM1409 684h8v8h-8zM1402 848h8v8h-8zM1433 896h8v8h-8zM1449 760h8v8h-8zM1416 813h8v8h-8zM1437 791h8v8h-8zM1397 896h8v8h-8zM1437 733h8v8h-8zM1395 840h8v8h-8zM1434 801h8v8h-8zM1390 950h8v8h-8zM1431 818h8v8h-8zM1455 759h8v8h-8zM1426 757h8v8h-8zM1369 807h8v8h-8zM1470 657h8v8h-8zM1402 760h8v8h-8zM1351 854h8v8h-8zM1483 753h8v8h-8zM1402 783h8v8h-8zM1444 827h8v8h-8zM1430 797h8v8h-8zM1484 761h8v8h-8zM1474 887h8v8h-8zM1365 843h8v8h-8zM1437 823h8v8h-8zM1387 916h8v8h-8zM1419 770h8v8h-8zM1415 791h8v8h-8zM1416 825h8v8h-8zM1382 856h8v8h-8zM1442 810h8v8h-8zM1449 803h8v8h-8zM1448 831h8v8h-8zM1483 729h8v8h-8zM1416 772h8v8h-8zM1392 850h8v8h-8zM1425 853h8v8h-8zM1338 848h8v8h-8zM1413 846h8v8h-8zM1381 863h8v8h-8zM1384 844h8v8h-8zM1378 849h8v8h-8zM1380 891h8v8h-8zM1429 835h8v8h-8zM1364 908h8v8h-8zM1387 834h8v8h-8zM1421 831h8v8h-8zM1410 850h8v8h-8zM1462 786h8v8h-8zM1421 762h8v8h-8zM1484 821h8v8h-8zM1446 853h8v8h-8zM1384 854h8v8h-8zM1413 898h8v8h-8zM1470 717h8v8h-8zM1375 868h8v8h-8zM1387 796h8v8h-8zM1359 773h8v8h-8zM1415 825h8v8h-8zM1450 758h8v8h-8zM1456 776h8v8h-8zM1413 882h8v8h-8zM1375 941h8v8h-8zM1427 827h8v8h-8zM1414 851h8v8h-8zM1445 841h8v8h-8zM1427 827h8v8h-8zM1459 737h8v8h-8zM1401 868h8v8h-8zM1422 827h8v8h-8zM1417 954h8v8h-8zM1406 802h8v8h-8zM1435 869h8v8h-8zM1365 942h8v8h-8zM1371 855h8v8h-8zM1422 903h8v8h-8zM1447 889h8v8h-8zM1435 896h8v8h-8zM1473 787h8v8h-8zM1425 749h8v8h-8zM1392 919h8v8h-8zM1433 850h8v8h-8zM1428 728h8v8h-8zM1428 728h8v8h-8zM1458 734h8v8h-8zM1394 817h8v8h-8zM1396 795h8v8h-8zM1421 755h8v8h-8zM1462 725h8v8h-8zM1398 853h8v8h-8zM1467 803h8v8h-8zM1468 730h8v8h-8zM1411 858h8v8h-8zM1403 770h8v8h-8zM1421 702h8v8h-8zM1373 871h8v8h-8zM1474 734h8v8h-8zM1430 766h8v8h-8zM1460 764h8v8h-8zM1403 885h8v8h-8zM1430 874h8v8h-8zM1419 819h8v8h-8zM1477 757h8v8h-8zM1389 922h8v8h-8zM1464 795h8v8h-8zM1425 793h8v8h-8zM1423 775h8v8h-8zM1367 843h8v8h-8zM1419 794h8v8h-8zM1410 810h8v8h-8zM1443 734h8v8h-8zM1408 908h8v8h-8zM1403 964h8v8h-8zM1454 783h8v8h-8zM1431 757h8v8h-8zM1409 863h8v8h-8zM1430 673h8v8h-8zM1441 732h8v8h-8zM1418 797h8v8h-8zM1421 859h8v8h-8zM1473 826h8v8h-8zM1422 823h8v8h-8zM1353 938h8v8h-8zM1451 748h8v8h-8zM1467 738h8v8h-8zM1457 770h8v8h-8zM1455 831h8v8h-8zM1357 884h8v8h-8zM1394 911h8v8h-8zM1426 762h8v8h-8zM1428 840h8v8h-8zM1422 875h8v8h-8zM1380 825h8v8h-8zM1400 909h8v8h-8zM1410 832h8v8h-8zM1452 756h8v8h-8zM1491 792h8v8h-8zM1370 854h8v8h-8zM1424 866h8v8h-8zM1391 743h8v8h-8zM1452 794h8v8h-8zM1429 868h8v8h-8zM1436 715h8v8h-8zM1424 923h8v8h-8zM1399 825h8v8h-8zM1398 929h8v8h-8zM1412 813h8v8h-8zM1451 845h8v8h-8zM1486 804h8v8h-8zM1455 818h8v8h-8zM1415 745h8v8h-8zM1473 807h8v8h-8zM1433 719h8v8h-8zM1424 838h8v8h-8zM1424 834h8v8h-8zM1391 839h8v8h-8zM1374 870h8v8h-8zM1399 794h8v8h-8zM1415 901h8v8h-8zM1427 812h8v8h-8zM1381 933h8v8h-8zM1415 950h8v8h-8zM1364 938h8v8h-8zM1464 860h8v8h-8zM1404 793h8v8h-8zM1388 795h8v8h-8zM1444 845h8v8h-8zM1423 759h8v8h-8zM1389 928h8v8h-8zM1479 754h8v8h-8zM1395 962h8v8h-8zM1437 826h8v8h-8zM1404 860h8v8h-8zM1448 926h8v8h-8zM1448 861h8v8h-8zM1401 894h8v8h-8zM1400 911h8v8h-8zM1461 752h8v8h-8zM1431 742h8v8h-8zM1453 898h8v8h-8zM1435 778h8v8h-8zM1460 786h8v8h-8zM1444 733h8v8h-8zM1409 881h8v8h-8zM1476 668h8v8h-8zM1424 822h8v8h-8zM1429 863h8v8h-8zM1434 870h8v8h-8zM1466 840h8v8h-8zM1401 829h8v8h-8zM1427 847h8v8h-8zM1422 781h8v8h-8zM1417 872h8v8h-8zM1391 934h8v8h-8zM1336 909h8v8h-8zM1400 916h8v8h-8zM1456 814h8v8h-8zM1421 815h8v8h-8zM1410 857h8v8h-8zM1418 825h8v8h-8zM1452 787h8v8h-8zM1420 818h8v8h-8zM1414 974h8v8h-8zM1440 779h8v8h-8zM1458 791h8v8h-8zM1436 880h8v8h-8zM1430 779h8v8h-8zM1369 869h8v8h-8zM1371 918h8v8h-8zM1425 797h8v8h-8zM1405 840h8v8h-8zM1405 807h8v8h-8zM1431 785h8v8h-8zM1446 755h8v8h-8zM1393 892h8v8h-8zM1429 806h8v8h-8zM1499 715h8v8h-8zM1398 777h8v8h-8zM1442 763h8v8h-8zM1388 826h8v8h-8zM1463 643h8v8h-8zM1400 885h8v8h-8zM1443 785h8v8h-8zM1450 730h8v8h-8zM1409 809h8v8h-8zM1377 850h8v8h-8zM1397 867h8v8h-8zM1428 792h8v8h-8zM1441 856h8v8h-8zM1449 753h8v8h-8zM1395 885h8v8h-8zM1468 745h8v8h-8zM1439 783h8v8h-8zM1423 857h8v8h-8zM1403 860h8v8h-8zM1392 840h8v8h-8zM1352 918h8v8h-8zM1405 813h8v8h-8zM1420 766h8v8h-8zM1473 828h8v8h-8zM1447 795h8v8h-8zM1385 738h8v8h-8zM1444 805h8v8h-8zM1388 836h8v8h-8zM1491 798h8v8h-8zM1509 735h8v8h-8zM1437 876h8v8h-8zM1408 881h8v8h-8zM1470 664h8v8h-8zM1440 914h8v8h-8zM1443 827h8v8h-8zM1435 838h8v8h-8zM1404 932h8v8h-8zM1447 763h8v8h-8zM1466 776h8v8h-8zM1433 752h8v8h-8zM1416 903h8v8h-8zM1414 884h8v8h-8zM1450 860h8v8h-8zM1459 684h8v8h-8zM1417 708h8v8h-8zM1386 881h8v8h-8zM1439 924h8v8h-8zM1416 870h8v8h-8zM1432 814h8v8h-8zM1489 759h8v8h-8zM1470 693h8v8h-8zM1363 950h8v8h-8zM1396 834h8v8h-8zM1427 792h8v8h-8zM1371 867h8v8h-8zM1361 843h8v8h-8zM1412 753h8v8h-8zM1409 803h8v8h-8zM1413 845h8v8h-8zM1432 776h8v8h-8zM1400 814h8v8h-8zM1415 897h8v8h-8zM1417 886h8v8h-8zM1455 789h8v8h-8zM1357 900h8v8h-8zM1436 963h8v8h-8zM1360 749h8v8h-8zM1431 858h8v8h-8zM1432 791h8v8h-8zM1431 779h8v8h-8zM1418 771h8v8h-8zM1422 777h8v8h-8zM1396 834h8v8h-8zM1426 897h8v8h-8zM1464 828h8v8h-8zM1353 892h8v8h-8zM1412 919h8v8h-8zM1396 811h8v8h-8zM1369 925h8v8h-8zM1410 828h8v8h-8zM1416 897h8v8h-8zM1346 857h8v8h-8zM1419 915h8v8h-8zM1413 818h8v8h-8zM1467 819h8v8h-8zM1408 857h8v8h-8zM1461 825h8v8h-8zM1408 732h8v8h-8zM1384 777h8v8h-8zM1430 682h8v8h-8zM1411 827h8v8h-8zM1419 690h8v8h-8zM1341 940h8v8h-8zM1436 731h8v8h-8zM1419 756h8v8h-8zM1431 831h8v8h-8zM1437 900h8v8h-8zM1478 783h8v8h-8zM1421 791h8v8h-8zM1419 907h8v8h-8zM1455 767h8v8h-8zM1461 747h8v8h-8zM1435 745h8v8h-8zM1414 791h8v8h-8zM1408 873h8v8h-8zM1403 777h8v8h-8zM1401 851h8v8h-8zM1451 722h8v8h-8zM1408 861h8v8h-8zM1444 698h8v8h-8zM1398 851h8v8h-8zM1455 829h8v8h-8zM1422 719h8v8h-8zM1468 741h8v8h-8zM1443 745h8v8h-8zM1436 797h8v8h-8zM1404 886h8v8h-8zM1407 798h8v8h-8zM1413 748h8v8h-8zM1418 991h8v8h-8zM1401 826h8v8h-8zM1443 791h8v8h-8zM1445 811h8v8h-8zM1416 889h8v8h-8zM1477 719h8v8h-8zM1425 833h8v8h-8zM1378 868h8v8h-8zM1417 870h8v8h-8zM1427 770h8v8h-8zM1414 789h8v8h-8zM1433 743h8v8h-8zM1394 893h8v8h-8z" fill="#6e6e6e" fill-opacity="1.0"/>
<path transform="scale(0.1)" d="M1397 749h8v8h-8zM1384 746h8v8h-8zM1410 767h8v8h-8zM1381 890h8v8h-8zM1482 777h8v8h-8zM1458 801h8v8h-8zM1449 696h8v8h-8zM1479 736h8v8h-8zM1402 835h8v8h-8zM1438 889h8v8h-8zM1437 791h8v8h-8zM1392 905h8v8h-8zM1445 803h8v8h-8zM1481 739h8v8h-8zM1405 812h8v8h-8zM1432 691h8v8h-8zM1438 905h8v8h-8zM1443 805h8v8h-8zM1464 698h8v8h-8zM1447 762h8v8h-8zM1478 723h8v8h-8zM1394 834h8v8h-8zM1407 800h8v8h-8zM1456 891h8v8h-8zM1408 719h8v8h-8zM1404 905h8v8h-8zM1423 808h8v8h-8zM1438 865h8v8h-8zM1406 799h8v8h-8zM1448 727h8v8h-8zM1478 775h8v8h-8zM1338 821h8v8h-8zM1454 835h8v8h-8zM1395 940h8v8h-8zM1480 793h8v8h-8zM1420 956h8v8h-8zM1410 834h8v8h-8zM1425 870h8v8h-8zM1436 822h8v8h-8zM1423 855h8v8h-8zM1391 818h8v8h-8zM1441 752h8v8h-8zM1348 976h8v8h-8zM1440 805h8v8h-8zM1429 851h8v8h-8zM1475 692h8v8h-8zM1431 873h8v8h-8zM1443 887h8v8h-8zM1389 864h8v8h-8zM1432 705h8v8h-8zM1455 838h8v8h-8zM1464 669h8v8h-8zM1430 850h8v8h-8zM1485 812h8v8h-8zM1473 683h8v8h-8zM1400 794h8v8h-8zM1383 799h8v8h-8zM1428 717h8v8h-8zM1431 696h8v8h-8zM1414 710h8v8h-8zM1409 874h8v8h-8zM1450 802h8v8h-8zM1403 909h8v8h-8zM1344 873h8v8h-8zM1413 917h8v8h-8zM1464 691h8v8h-8zM1393 840h8v8h-8zM1449 771h8v8h-8zM1447 715h8v8h-8zM1424 754h8v8h-8zM1441 711h8v8h-8zM1390 850h8v8h-8zM1427 761h8v8h-8zM1482 781h8v8h-8zM1422 836h8v8h-8zM1383 841h8v8h-8zM1481 708h8v8h-8zM1373 841h8v8h-8zM1488 802h8v8h-8zM1429 822h8v8h-8zM1448 764h8v8h-8zM1438 781h8v8h-8zM1426 931h8v8h-8zM1466 747h8v8h-8zM1422 800h8v8h-8zM1394 889h8v8h-8zM1427 783h8v8h-8zM1359 788h8v8h-8zM1420 767h8v8h-8zM1358 855h8v8h-8zM1426 809h8v8h-8zM1453 770h8v8h-8zM1450 726h8v8h-8zM1420 824h8v8h-8zM1407 748h8v8h-8zM1474 906h8v8h-8zM1402 767h8v8h-8zM1446 898h8v8h-8zM1400 932h8v8h-8zM1486 836h8v8h-8zM1346 958h8v8h-8zM1406 760h8v8h-8zM1411 786h8v8h-8zM1445 837h8v8h-8zM1427 753h8v8h-8zM1432 860h8v8h-8zM1339 832h8v8h-8zM1501 659h8v8h-8zM1433 814h8v8h-8zM1401 807h8v8h-8zM1478 787h8v8h-8zM1383 820h8v8h-8zM1439 698h8v8h-8zM1463 807h8v8h-8zM1455 704h8v8h-8zM1435 781h8v8h-8zM1422 898h8v8h-8zM1387 952h8v8h-8zM1438 768h8v8h-8zM1377 842h8v8h-8zM1466 777h8v8h-8zM1459 841h8v8h-8zM1426 904h8v8h-8zM1353 869h8v8h-8zM1451 754h8v8h-8zM1450 739h8v8h-8zM1385 824h8v8h-8zM1410 891h8v8h-8zM1432 694h8v8h-8zM1453 688h8v8h-8zM1412 683h8v8h-8zM1395 837h8v8h-8zM1406 884h8v8h-8zM1389 828h8v8h-8zM1493 670h8v8h-8zM1495 735h8v8h-8zM1348 892h8v8h-8zM1411 872h8v8h-8zM1485 757h8v8h-8zM1479 693h8v8h-8zM1500 751h8v8h-8zM1473 863h8v8h-8zM1443 740h8v8h-8zM1437 815h8v8h-8zM1478 765h8v8h-8zM1443 793h8v8h-8zM1363 708h8v8h-8zM1431 869h8v8h-8zM1358 821h8v8h-8zM1457 765h8v8h-8zM1438 664h8v8h-8zM1420 743h8v8h-8zM1436 691h8v8h-8zM1360 860h8v8h-8zM1406 867h8v8h-8zM1403 839h8v8h-8zM1429 819h8v8h-8zM1417 838h8v8h-8zM1432 859h8v8h-8zM1434 817h8v8h-8zM1373 903h8v8h-8zM1379 799h8v8h-8zM1468 806h8v8h-8zM1393 798h8v8h-8zM1419 817h8v8h-8zM1456 623h8v8h-8zM1413 793h8v8h-8zM1508 769h8v8h-8zM1390 834h8v8h-8zM1402 760h8v8h-8zM1348 942h8v8h-8zM1457 690h8v8h-8zM1410 811h8v8h-8zM1448 779h8v8h-8zM1445 766h8v8h-8zM1446 725h8v8h-8zM1409 916h8v8h-8zM1408 912h8v8h-8zM1455 804h8v8h-8zM1353 916h8v8h-8zM1406 786h8v8h-8zM1367 821h8v8h-8zM1388 886h8v8h-8zM1471 790h8v8h-8zM1390 927h8v8h-8zM1408 813h8v8h-8zM1457 826h8v8h-8zM1367 792h8v8h-8zM1429 856h8v8h-8zM1379 905h8v8h-8zM1433 863h8v8h-8zM1408 778h8v8h-8zM1463 701h8v8h-8zM1422 797h8v8h-8zM1443 801h8v8h-8zM1480 831h8v8h-8zM1422 878h8v8h-8zM1476 774h8v8h-8zM1452 617h8v8h-8zM1460 914h8v8h-8zM1398 945h8v8h-8zM1433 844h8v8h-8zM1431 863h8v8h-8zM1454 799h8v8h-8zM1468 785h8v8h-8zM1464 780h8v8h-8zM1450 757h8v8h-8zM1406 962h8v8h-8zM1408 751h8v8h-8zM1445 818h8v8h-8zM1382 729h8v8h-8zM1413 864h8v8h-8zM1422 854h8v8h-8zM1443 716h8v8h-8zM1448 907h8v8h-8zM1382 875h8v8h-8zM1451 894h8v8h-8zM1354 940h8v8h-8zM1401 771h8v8h-8zM1461 733h8v8h-8zM1414 915h8v8h-8zM1442 684h8v8h-8zM1417 889h8v8h-8zM1418 820h8v8h-8zM1346 868h8v8h-8zM1438 886h8v8h-8zM1480 638h8v8h-8zM1433 860h8v8h-8zM1429 677h8v8h-8zM1432 851h8v8h-8zM1432 794h8v8h-8zM1430 765h8v8h-8zM1387 818h8v8h-8zM1454 814h8v8h-8zM1475 784h8v8h-8zM1467 740h8v8h-8zM1458 796h8v8h-8zM1398 861h8v8h-8zM1408 922h8v8h-8zM1379 871h8v8h-8zM1373 766h8v8h-8zM1424 872h8v8h-8zM1368 787h8v8h-8zM1379 848h8v8h-8zM1370 905h8v8h-8zM1381 854h8v8h-8zM1417 763h8v8h-8zM1453 723h8v8h-8zM1430 865h8v8h-8zM1454 841h8v8h-8zM1410 772h8v8h-8zM1395 802h8v8h-8zM1359 873h8v8h-8zM1433 839h8v8h-8zM1444 820h8v8h-8zM1401 851h8v8h-8zM1419 758h8v8h-8zM1447 827h8v8h-8zM1469 701h8v8h-8zM1396 787h8v8h-8zM1459 694h8v8h-8zM1405 793h8v8h-8zM1457 773h8v8h-8zM1408 797h8v8h-8zM1438 843h8v8h-8zM1376 895h8v8h-8zM1378 855h8v8h-8zM1413 668h8v8h-8zM1440 846h8v8h-8zM1447 731h8v8h-8zM1423 786h8v8h-8zM1366 873h8v8h-8zM1382 875h8v8h-8zM1443 777h8v8h-8zM1459 796h8v8h-8zM1428 790h8v8h-8zM1497 651h8v8h-8zM1400 793h8v8h-8zM1423 742h8v8h-8zM1432 684h8v8h-8zM1416 815h8v8h-8zM1373 896h8v8h-8zM1372 856h8v8h-8zM1426 729h8v8h-8zM1441 765h8v8h-8zM1493 771h8v8h-8zM1427 707h8v8h-8z" fill="#b0b0b0" fill-opacity="1.0"/>
<path transform="scale(0.1)" d="M1705 819h8v8h-8zM1554 905h8v8h-8zM1676 776h8v8h-8zM1559 834h8v8h-8zM1703 925h8v8h-8zM1537 992h8v8h-8zM1590 746h8v8h-8zM1597 791h8v8h-8zM1689 707h8v8h-8zM1537 937h8v8h-8zM1553 798h8v8h-8zM1599 789h8v8h-8zM1682 783h8v8h-8zM1584 889h8v8h-8zM1760 716h8v8h-8zM1633 763h8v8h-8zM1617 798h8v8h-8zM1663 764h8v8h-8zM1627 830h8v8h-8zM1568 918h8v8h-8zM1600 781h8v8h-8zM1646 821h8v8h-8zM1734 896h8v8h-8zM1652 817h8v8h-8zM1665 741h8v8h-8zM1618 864h8v8h-8zM1633 918h8v8h-8zM1746 797h8v8h-8zM1735 873h8v8h-8zM1642 893h8v8h-8zM1668 681h8v8h-8zM1631 803h8v8h-8zM1589 938h8v8h-8zM1636 756h8v8h-8zM1611 899h8v8h-8zM1655 793h8v8h-8zM1678 711h8v8h-8zM1622 649h8v8h-8zM1705 755h8v8h-8zM1564 728h8v8h-8zM1636 923h8v8h-8zM1648 657h8v8h-8zM1519 881h8v8h-8zM1674 785h8v8h-8zM1680 867h8v8h-8zM1743 699h8v8h-8zM1632 824h8v8h-8zM1673 741h8v8h-8zM1676 849h8v8h-8zM1532 913h8v8h-8zM1654 839h8v8h-8zM1544 818h8v8h-8zM1653 860h8v8h-8zM1681 842h8v8h-8zM1652 761h8v8h-8zM1727 767h8v8h-8zM1654 658h8v8h-8zM1698 743h8v8h-8zM1592 974h8v8h-8zM1611 910h8v8h-8zM1767 755h8v8h-8zM1623 831h8v8h-8zM1608 916h8v8h-8zM1612 806h8v8h-8zM1698 681h8v8h-8zM1536 705h8v8h-8zM1615 900h8v8h-8zM1579 907h8v8h-8zM1793 876h8v8h-8zM1704 837h8v8h-8zM1642 829h8v8h-8zM1650 829h8v8h-8zM1621 791h8v8h-8zM1607 835h8v8h-8zM1625 845h8v8h-8zM1747 732h8v8h-8zM1617 947h8v8h-8zM1618 855h8v8h-8zM1655 873h8v8h-8zM1729 757h8v8h-8zM1666 811h8v8h-8zM1568 797h8v8h-8zM1639 740h8v8h-8zM1637 772h8v8h-8zM1552 974h8v8h-8zM1588 843h8v8h-8zM1657 860h8v8h-8zM1608 831h8v8h-8zM1741 816h8v8h-8zM1658 768h8v8h-8zM1606 852h8v8h-8zM1631 765h8v8h-8zM1578 851h8v8h-8zM1594 733h8v8h-8zM1684 762h8v8h-8zM1631 792h8v8h-8zM1551 753h8v8h-8zM1673 824h8v8h-8zM1564 851h8v8h-8zM1616 868h8v8h-8zM1705 818h8v8h-8zM1622 829h8v8h-8zM1619 812h8v8h-8zM1611 738h8v8h-8zM1704 837h8v8h-8zM1592 786h8v8h-8zM1559 833h8v8h-8zM1642 916h8v8h-8zM1740 855h8v8h-8zM1660 829h8v8h-8zM1735 789h8v8h-8zM1715 769h8v8h-8zM1567 740h8v8h-8zM1642 820h8v8h-8zM1631 911h8v8h-8zM1639 841h8v8h-8zM1716 749h8v8h-8zM1727 870h8v8h-8zM1685 750h8v8h-8zM1715 753h8v8h-8zM1601 882h8v8h-8zM1691 850h8v8h-8zM1572 928h8v8h-8zM1617 747h8v8h-8zM1561 846h8v8h-8zM1717 823h8v8h-8zM1612 812h8v8h-8zM1688 809h8v8h-8zM1557 703h8v8h-8zM1655 814h8v8h-8zM1692 746h8v8h-8zM1647 822h8v8h-8zM1653 751h8v8h-8zM1651 865h8v8h-8zM1638 832h8v8h-8zM1618 808h8v8h-8zM1588 820h8v8h-8zM1707 762h8v8h-8zM1642 883h8v8h-8zM1646 842h8v8h-8zM1662 816h8v8h-8zM1562 818h8v8h-8zM1556 819h8v8h-8zM1557 831h8v8h-8zM1755 772h8v8h-8zM1624 725h8v8h-8zM1687 677h8v8h-8zM1526 729h8v8h-8zM1617 872h8v8h-8zM1648 759h8v8h-8zM1605 854h8v8h-8zM1711 896h8v8h-8zM1620 827h8v8h-8zM1636 798h8v8h-8zM1713 800h8v8h-8zM1744 864h8v8h-8zM1663 763h8v8h-8zM1613 857h8v8h-8zM1624 953h8v8h-8zM1718 855h8v8h-8zM1573 861h8v8h-8zM1577 850h8v8h-8zM1580 811h8v8h-8zM1706 723h8v8h-8zM1667 866h8v8h-8zM1583 879h8v8h-8zM1592 726h8v8h-8zM1638 826h8v8h-8zM1605 905h8v8h-8zM1572 882h8v8h-8zM1585 873h8v8h-8zM1625 772h8v8h-8zM1599 765h8v8h-8zM1635 823h8v8h-8zM1614 899h8v8h-8zM1591 789h8v8h-8zM1665 934h8v8h-8zM1667 747h8v8h-8zM1653 896h8v8h-8zM1607 731h8v8h-8zM1572 872h8v8h-8zM1684 852h8v8h-8zM1652 855h8v8h-8zM1672 817h8v8h-8zM1602 813h8v8h-8zM1750 726h8v8h-8zM1668 799h8v8h-8zM1597 788h8v8h-8zM1757 709h8v8h-8zM1583 741h8v8h-8zM1732 854h8v8h-8zM1617 788h8v8h-8zM1596 767h8v8h-8zM1589 813h8v8h-8zM1571 705h8v8h-8zM1576 860h8v8h-8zM1658 871h8v8h-8zM1629 944h8v8h-8zM1531 813h8v8h-8zM1648 875h8v8h-8zM1540 790h8v8h-8zM1667 765h8v8h-8zM1605 780h8v8h-8zM1620 828h8v8h-8zM1710 777h8v8h-8zM1776 747h8v8h-8zM1831 728h8v8h-8zM1704 855h8v8h-8zM1671 724h8v8h-8zM1591 792h8v8h-8zM1704 886h8v8h-8zM1623 823h8v8h-8zM1616 831h8v8h-8zM1584 788h8v8h-8zM1724 749h8v8h-8zM1689 862h8v8h-8zM1543 805h8v8h-8zM1628 810h8v8h-8zM1551 856h8v8h-8zM1694 742h8v8h-8zM1577 816h8v8h-8zM1630 584h8v8h-8zM1671 892h8v8h-8zM1622 873h8v8h-8zM1556 715h8v8h-8zM1606 823h8v8h-8zM1549 818h8v8h-8zM1726 700h8v8h-8zM1694 768h8v8h-8zM1522 759h8v8h-8zM1561 754h8v8h-8zM1778 755h8v8h-8zM1677 823h8v8h-8zM1615 748h8v8h-8zM1694 749h8v8h-8zM1657 745h8v8h-8zM1685 690h8v8h-8zM1611 801h8v8h-8zM1740 898h8v8h-8zM1651 860h8v8h-8zM1559 726h8v8h-8zM1632 817h8v8h-8zM1614 745h8v8h-8zM1660 858h8v8h-8zM1653 679h8v8h-8zM1642 882h8v8h-8zM1581 704h8v8h-8zM1649 837h8v8h-8zM1598 893h8v8h-8zM1739 799h8v8h-8zM1562 909h8v8h-8zM1617 793h8v8h-8zM1602 915h8v8h-8zM1571 779h8v8h-8zM1661 803h8v8h-8zM1655 843h8v8h-8zM1647 966h8v8h-8zM1732 754h8v8h-8zM1599 760h8v8h-8zM1664 890h8v8h-8zM1641 819h8v8h-8zM1653 763h8v8h-8zM1553 807h8v8h-8zM1558 878h8v8h-8zM1689 756h8v8h-8zM1559 763h8v8h-8zM1706 835h8v8h-8zM1733 844h8v8h-8zM1599 781h8v8h-8zM1657 802h8v8h-8zM1647 891h8v8h-8zM1733 724h8v8h-8zM1772 736h8v8h-8zM1687 900h8v8h-8zM1692 868h8v8h-8zM1715 920h8v8h-8zM1575 849h8v8h-8zM1632 831h8v8h-8zM1692 847h8v8h-8zM1605 723h8v8h-8zM1743 740h8v8h-8zM1576 864h8v8h-8zM1624 861h8v8h-8zM1643 873h8v8h-8zM1678 855h8v8h-8zM1576 836h8v8h-8zM1610 749h8v8h-8zM1658 850h8v8h-8zM1640 836h8v8h-8zM1671 713h8v8h-8zM1581 875h8v8h-8zM1562 845h8v8h-8zM1546 770h8v8h-8zM1598 788h8v8h-8zM1601 790h8v8h-8zM1680 795h8v8h-8zM1595 880h8v8h-8zM1684 671h8v8h-8zM1673 824h8v8h-8zM1628 859h8v8h-8zM1673 869h8v8h-8zM1684 854h8v8h-8zM1540 729h8v8h-8zM1730 822h8v8h-8zM1645 666h8v8h-8zM1589 851h8v8h-8zM1593 792h8v8h-8zM1642 828h8v8h-8zM1604 826h8v8h-8zM1616 811h8v8h-8zM1626 853h8v8h-8zM1573 849h8v8h-8zM1645 881h8v8h-8zM1562 852h8v8h-8zM1667 762h8v8h-8zM1557 932h8v8h-8zM1650 829h8v8h-8zM1602 721h8v8h-8zM1729 842h8v8h-8zM1576 846h8v8h-8zM1713 866h8v8h-8zM1614 910h8v8h-8zM1537 844h8v8h-8zM1729 758h8v8h-8zM1703 875h8v8h-8zM1749 774h8v8h-8zM1615 808h8v8h-8zM1700 847h8v8h-8zM1740 775h8v8h-8zM1656 781h8v8h-8zM1828 888h8v8h-8zM1633 825h8v8h-8zM1713 840h8v8h-8zM1595 805h8v8h-8zM1605 815h8v8h-8zM1629 782h8v8h-8zM1648 827h8v8h-8zM1669 803h8v8h-8zM1687 804h8v8h-8zM1519 792h8v8h-8zM1661 980h8v8h-8zM1618 886h8v8h-8zM1539 779h8v8h-8zM1606 725h8v8h-8zM1694 861h8v8h-8zM1682 809h8v8h-8zM1552 783h8v8h-8zM1609 849h8v8h-8zM1614 769h8v8h-8zM1727 913h8v8h-8zM1625 813h8v8h-8zM1592 745h8v8h-8zM1637 706h8v8h-8zM1643 777h8v8h-8zM1697 784h8v8h-8zM1661 826h8v8h-8zM1520 769h8v8h-8zM1788 713h8v8h-8zM1672 760h8v8h-8zM1626 830h8v8h-8zM1628 813h8v8h-8zM1687 751h8v8h-8zM1625 789h8v8h-8zM1626 911h8v8h-8zM1673 877h8v8h-8zM1566 796h8v8h-8zM1682 825h8v8h-8zM1574 814h8v8h-8zM1662 841h8v8h-8zM1701 943h8v8h-8zM1667 778h8v8h-8zM1686 841h8v8h-8zM1611 825h8v8h-8zM1585 840h8v8h-8zM1700 804h8v8h-8zM1626 756h8v8h-8zM1581 779h8v8h-8zM1601 681h8v8h-8zM1589 745h8v8h-8zM1680 782h8v8h-8zM1671 861h8v8h-8zM1726 858h8v8h-8zM1564 819h8v8h-8zM1638 772h8v8h-8zM1629 739h8v8h-8zM1630 819h8v8h-8zM1673 848h8v8h-8zM1582 814h8v8h-8zM1555 752h8v8h-8zM1782 730h8v8h-8zM1549 923h8v8h-8zM1729 829h8v8h-8zM1655 784h8v8h-8zM1661 872h8v8h-8zM1601 826h8v8h-8zM1572 715h8v8h-8zM1726 820h8v8h-8zM1752 818h8v8h-8zM1582 903h8v8h-8zM1711 756h8v8h-8zM1635 861h8v8h-8zM1685 854h8v8h-8zM1622 837h8v8h-8zM1591 819h8v8h-8zM1537 825h8v8h-8zM1526 816h8v8h-8zM1627 823h8v8h-8zM1619 859h8v8h-8zM1559 815h8v8h-8zM1531 780h8v8h-8zM1583 792h8v8h-8zM1658 789h8v8h-8zM1688 787h8v8h-8zM1695 806h8v8h-8zM1636 713h8v8h-8zM1678 829h8v8h-8zM1555 947h8v8h-8zM1731 859h8v8h-8zM1638 774h8v8h-8zM1580 721h8v8h-8zM1571 802h8v8h-8zM1561 800h8v8h-8zM1609 815h8v8h-8zM1682 745h8v8h-8zM1583 756h8v8h-8zM1687 845h8v8h-8zM1638 790h8v8h-8zM1523 891h8v8h-8zM1558 748h8v8h-8zM1570 706h8v8h-8zM1601 843h8v8h-8zM1742 736h8v8h-8zM1777 744h8v8h-8zM1645 854h8v8h-8zM1647 781h8v8h-8zM1580 863h8v8h-8zM1699 761h8v8h-8zM1576 822h8v8h-8zM1599 841h8v8h-8zM1634 871h8v8h-8zM1684 851h8v8h-8zM1646 783h8v8h-8zM1652 866h8v8h-8zM1605 879h8v8h-8zM1651 870h8v8h-8zM1715 710h8v8h-8zM1531 720h8v8h-8zM1643 815h8v8h-8zM1689 736h8v8h-8zM1535 791h8v8h-8zM1715 806h8v8h-8zM1671 787h8v8h-8zM1649 817h8v8h-8zM1582 920h8v8h-8zM1658 735h8v8h-8zM1676 812h8v8h-8zM1581 770h8v8h-8zM1592 789h8v8h-8zM1576 743h8v8h-8zM1647 835h8v8h-8zM1651 785h8v8h-8zM1687 910h8v8h-8zM1652 871h8v8h-8zM1606 715h8v8h-8zM1633 849h8v8h-8zM1577 798h8v8h-8zM1693 785h8v8h-8zM1572 890h8v8h-8zM1579 959h8v8h-8zM1636 735h8v8h-8zM1661 752h8v8h-8zM1716 835h8v8h-8zM1673 765h8v8h-8zM1678 861h8v8h-8zM1665 651h8v8h-8zM1637 745h8v8h-8zM1632 864h8v8h-8zM1564 894h8v8h-8zM1656 730h8v8h-8zM1689 713h8v8h-8zM1754 767h8v8h-8zM1611 781h8v8h-8zM1658 776h8v8h-8zM1665 756h8v8h-8zM1612 979h8v8h-8zM1608 875h8v8h-8zM1611 761h8v8h-8zM1619 767h8v8h-8zM1735 800h8v8h-8zM1532 854h8v8h-8zM1563 926h8v8h-8zM1548 901h8v8h-8zM1656 827h8v8h-8zM1671 776h8v8h-8zM1575 886h8v8h-8zM1692 862h8v8h-8zM1571 755h8v8h-8zM1730 691h8v8h-8zM1641 793h8v8h-8zM1695 823h8v8h-8zM1550 807h8v8h-8zM1692 767h8v8h-8zM1644 746h8v8h-8zM1600 911h8v8h-8zM1538 809h8v8h-8zM1685 738h8v8h-8zM1680 734h8v8h-8zM1614 836h8v8h-8zM1695 731h8v8h-8zM1697 895h8v8h-8zM1706 701h8v8h-8zM1575 753h8v8h-8zM1681 692h8v8h-8zM1649 837h8v8h-8zM1596 708h8v8h-8zM1648 705h8v8h-8zM1605 843h8v8h-8zM1708 864h8v8h-8zM1630 762h8v8h-8zM1663 890h8v8h-8zM1694 857h8v8h-8zM1756 666h8v8h-8zM1683 843h8v8h-8zM1564 913h8v8h-8zM1733 806h8v8h-8zM1655 747h8v8h-8zM1712 783h8v8h-8zM1649 754h8v8h-8zM1618 828h8v8h-8zM1553 891h8v8h-8zM1650 830h8v8h-8zM1689 830h8v8h-8zM1605 947h8v8h-8zM1604 824h8v8h-8zM1595 906h8v8h-8zM1629 744h8v8h-8zM1645 774h8v8h-8zM1690 862h8v8h-8zM1617 905h8v8h-8zM1650 888h8v8h-8zM1574 884h8v8h-8zM1698 829h8v8h-8zM1638 868h8v8h-8zM1551 895h8v8h-8zM1578 815h8v8h-8zM1626 693h8v8h-8zM1709 750h8v8h-8zM1641 946h8v8h-8zM1738 801h8v8h-8zM1667 793h8v8h-8zM1584 769h8v8h-8zM1591 831h8v8h-8zM1745 764h8v8h-8zM1591 881h8v8h-8zM1587 849h8v8h-8zM1581 693h8v8h-8zM1555 774h8v8h-8zM1685 798h8v8h-8zM1695 765h8v8h-8zM1572 804h8v8h-8zM1745 821h8v8h-8zM1699 778h8v8h-8zM1618 739h8v8h-8zM1547 829h8v8h-8zM1612 784h8v8h-8zM1612 763h8v8h-8zM1682 759h8v8h-8zM1611 928h8v8h-8zM1696 809h8v8h-8zM1791 736h8v8h-8zM1590 787h8v8h-8zM1599 764h8v8h-8zM1716 758h8v8h-8zM1752 757h8v8h-8zM1601 800h8v8h-8zM1533 771h8v8h-8zM1660 876h8v8h-8zM1645 821h8v8h-8zM1587 812h8v8h-8zM1653 815h8v8h-8zM1713 788h8v8h-8zM1533 768h8v8h-8zM1585 759h8v8h-8zM1633 827h8v8h-8zM1662 720h8v8h-8zM1649 740h8v8h-8zM1751 809h8v8h-8zM1642 937h8v8h-8zM1589 808h8v8h-8zM1585 838h8v8h-8zM1625 775h8v8h-8zM1671 937h8v8h-8zM1564 825h8v8h-8zM1692 817h8v8h-8zM1552 770h8v8h-8zM1679 861h8v8h-8zM1625 841h8v8h-8zM1746 851h8v8h-8zM1656 863h8v8h-8zM1652 781h8v8h-8zM1613 764h8v8h-8zM1566 810h8v8h-8zM1598 816h8v8h-8zM1574 853h8v8h-8zM1540 809h8v8h-8zM1716 695h8v8h-8zM1704 909h8v8h-8zM1672 853h8v8h-8zM1675 723h8v8h-8zM1550 932h8v8h-8zM1672 690h8v8h-8zM1671 721h8v8h-8zM1674 892h8v8h-8zM1693 813h8v8h-8zM1683 770h8v8h-8zM1596 798h8v8h-8zM1682 870h8v8h-8zM1678 763h8v8h-8zM1741 823h8v8h-8zM1683 805h8v8h-8zM1655 808h8v8h-8zM1654 859h8v8h-8zM1588 817h8v8h-8zM1618 846h8v8h-8zM1697 802h8v8h-8zM1518 737h8v8h-8zM1582 779h8v8h-8zM1689 832h8v8h-8zM1596 978h8v8h-8zM1534 794h8v8h-8zM1668 877h8v8h-8zM1678 760h8v8h-8zM1665 843h8v8h-8zM1657 882h8v8h-8zM1550 832h8v8h-8zM1809 806h8v8h-8zM1590 793h8v8h-8zM1595 839h8v8h-8zM1683 833h8v8h-8zM1681 866h8v8h-8zM1647 811h8v8h-8zM1658 785h8v8h-8zM1686 793h8v8h-8zM1669 804h8v8h-8zM1593 853h8v8h-8zM1654 882h8v8h-8zM1668 749h8v8h-8zM1668 874h8v8h-8zM1643 828h8v8h-8zM1581 763h8v8h-8zM1676 775h8v8h-8zM1690 733h8v8h-8zM1669 727h8v8h-8zM1540 798h8v8h-8zM1668 825h8v8h-8zM1743 783h8v8h-8zM1676 845h8v8h-8zM1615 846h8v8h-8zM1664 840h8v8h-8zM1638 839h8v8h-8zM1623 836h8v8h-8zM1678 685h8v8h-8zM1663 824h8v8h-8zM1598 696h8v8h-8zM1759 866h8v8h-8zM1708 755h8v8h-8zM1537 788h8v8h-8zM1635 752h8v8h-8zM1640 844h8v8h-8zM1565 799h8v8h-8zM1712 743h8v8h-8zM1642 812h8v8h-8zM1672 736h8v8h-8zM1657 825h8v8h-8zM1646 794h8v8h-8zM1612 757h8v8h-8zM1562 802h8v8h-8zM1532 776h8v8h-8zM1592 738h8v8h-8zM1697 768h8v8h-8zM1706 641h8v8h-8zM1727 780h8v8h-8zM1634 825h8v8h-8zM1590 751h8v8h-8zM1736 801h8v8h-8zM1709 841h8v8h-8zM1676 731h8v8h-8zM1672 894h8v8h-8zM1615 760h8v8h-8zM1721 830h8v8h-8zM1530 821h8v8h-8zM1619 872h8v8h-8zM1682 771h8v8h-8zM1646 799h8v8h-8zM1745 848h8v8h-8zM1671 887h8v8h-8zM1600 833h8v8h-8zM1593 864h8v8h-8zM1723 734h8v8h-8zM1654 794h8v8h-8zM1687 818h8v8h-8zM1570 842h8v8h-8zM1580 892h8v8h-8zM1680 803h8v8h-8zM1612 845h8v8h-8zM1642 837h8v8h-8zM1742 747h8v8h-8zM1672 686h8v8h-8zM1672 792h8v8h-8zM1663 786h8v8h-8zM1617 885h8v8h-8zM1695 822h8v8h-8zM1662 850h8v8h-8zM1802 767h8v8h-8zM1694 769h8v8h-8zM1546 847h8v8h-8zM1630 893h8v8h-8zM1595 731h8v8h-8zM1744 781h8v8h-8zM1643 723h8v8h-8zM1571 749h8v8h-8zM1628 847h8v8h-8zM1717 819h8v8h-8zM1702 767h8v8h-8zM1660 801h8v8h-8zM1660 884h8v8h-8zM1569 756h8v8h-8zM1624 861h8v8h-8zM1637 805h8v8h-8zM1593 666h8v8h-8zM1659 854h8v8h-8zM1575 927h8v8h-8zM1707 767h8v8h-8zM1600 788h8v8h-8zM1582 763h8v8h-8zM1570 820h8v8h-8zM1619 815h8v8h-8zM1663 878h8v8h-8zM1657 843h8v8h-8zM1592 815h8v8h-8zM1648 789h8v8h-8zM1568 881h8v8h-8zM1629 789h8v8h-8zM1668 789h8v8h-8zM1643 853h8v8h-8zM1598 868h8v8h-8zM1581 778h8v8h-8zM1649 780h8v8h-8zM1628 956h8v8h-8zM1568 836h8v8h-8zM1612 790h8v8h-8zM1639 922h8v8h-8zM1623 785h8v8h-8zM1715 770h8v8h-8zM1558 818h8v8h-8zM1717 757h8v8h-8zM1605 882h8v8h-8zM1651 867h8v8h-8zM1608 849h8v8h-8zM1646 857h8v8h-8zM1541 782h8v8h-8zM1724 777h8v8h-8zM1602 863h8v8h-8zM1628 786h8v8h-8zM1631 734h8v8h-8zM1597 789h8v8h-8zM1685 782h8v8h-8zM1661 809h8v8h-8zM1608 823h8v8h-8zM1550 784h8v8h-8zM1724 843h8v8h-8zM1618 817h8v8h-8zM1704 828h8v8h-8zM1704 805h8v8h-8zM1733 764h8v8h-8zM1559 830h8v8h-8zM1569 804h8v8h-8zM1616 786h8v8h-8zM1597 772h8v8h-8zM1686 642h8v8h-8zM1662 897h8v8h-8zM1684 833h8v8h-8zM1655 893h8v8h-8zM1672 801h8v8h-8zM1675 846h8v8h-8zM1653 781h8v8h-8zM1612 711h8v8h-8zM1722 880h8v8h-8zM1624 853h8v8h-8zM1546 920h8v8h-8zM1526 863h8v8h-8zM1678 905h8v8h-8zM1623 677h8v8h-8zM1618 920h8v8h-8zM1562 807h8v8h-8zM1659 851h8v8h-8zM1708 743h8v8h-8zM1667 745h8v8h-8zM1580 931h8v8h-8zM1636 697h8v8h-8zM1655 850h8v8h-8zM1585 847h8v8h-8zM1570 853h8v8h-8zM1571 761h8v8h-8zM1758 825h8v8h-8zM1731 746h8v8h-8zM1638 763h8v8h-8zM1654 781h8v8h-8zM1715 871h8v8h-8zM1711 797h8v8h-8zM1690 803h8v8h-8zM1589 858h8v8h-8zM1586 872h8v8h-8zM1640 762h8v8h-8zM1692 910h8v8h-8zM1683 830h8v8h-8zM1636 816h8v8h-8zM1596 707h8v8h-8zM1743 779h8v8h-8zM1588 828h8v8h-8zM1651 850h8v8h-8zM1656 826h8v8h-8zM1674 787h8v8h-8zM1732 790h8v8h-8zM1522 749h8v8h-8zM1671 857h8v8h-8zM1706 785h8v8h-8zM1698 839h8v8h-8zM1686 839h8v8h-8zM1638 908h8v8h-8zM1628 764h8v8h-8zM1763 794h8v8h-8zM1594 692h8v8h-8zM1709 762h8v8h-8zM1625 789h8v8h-8zM1638 912h8v8h-8zM1575 829h8v8h-8zM1616 762h8v8h-8zM1588 919h8v8h-8zM1528 964h8v8h-8zM1562 878h8v8h-8zM1677 914h8v8h-8zM1558 743h8v8h-8zM1593 838h8v8h-8zM1723 724h8v8h-8zM1661 909h8v8h-8zM1592 873h8v8h-8zM1679 876h8v8h-8zM1638 900h8v8h-8zM1658 796h8v8h-8zM1565 754h8v8h-8zM1673 756h8v8h-8zM1634 874h8v8h-8zM1593 874h8v8h-8zM1559 665h8v8h-8zM1601 950h8v8h-8zM1565 897h8v8h-8zM1626 890h8v8h-8zM1627 862h8v8h-8zM1569 847h8v8h-8zM1700 822h8v8h-8zM1674 814h8v8h-8zM1537 812h8v8h-8zM1717 722h8v8h-8zM1580 826h8v8h-8zM1533 869h8v8h-8zM1630 781h8v8h-8zM1700 814h8v8h-8zM1724 821h8v8h-8zM1598 808h8v8h-8zM1654 773h8v8h-8zM1649 807h8v8h-8zM1725 781h8v8h-8zM1699 703h8v8h-8zM1675 881h8v8h-8zM1668 987h8v8h-8zM1662 821h8v8h-8zM1661 860h8v8h-8zM1633 732h8v8h-8zM1604 797h8v8h-8zM1732 793h8v8h-8zM1652 860h8v8h-8zM1657 770h8v8h-8zM1626 840h8v8h-8zM1666 783h8v8h-8zM1606 863h8v8h-8zM1666 774h8v8h-8zM1629 758h8v8h-8zM1718 766h8v8h-8zM1525 766h8v8h-8zM1727 778h8v8h-8zM1657 747h8v8h-8zM1578 799h8v8h-8zM1677 776h8v8h-8zM1620 790h8v8h-8zM1664 764h8v8h-8zM1627 793h8v8h-8zM1650 876h8v8h-8zM1638 857h8v8h-8zM1619 811h8v8h-8zM1605 887h8v8h-8zM1681 834h8v8h-8zM1689 708h8v8h-8zM1691 742h8v8h-8zM1620 719h8v8h-8zM1648 718h8v8h-8zM1658 888h8v8h-8zM1657 775h8v8h-8zM1643 762h8v8h-8zM1676 890h8v8h-8zM1615 739h8v8h-8zM1678 763h8v8h-8zM1578 854h8v8h-8zM1628 823h8v8h-8zM1615 839h8v8h-8zM1616 875h8v8h-8zM1701 716h8v8h-8zM1558 742h8v8h-8zM1622 867h8v8h-8zM1631 826h8v8h-8zM1671 804h8v8h-8zM1579 810h8v8h-8zM1565 842h8v8h-8zM1596 866h8v8h-8zM1631 733h8v8h-8zM1657 828h8v8h-8zM1738 934h8v8h-8zM1741 771h8v8h-8zM1686 843h8v8h-8zM1657 948h8v8h-8zM1694 776h8v8h-8zM1671 792h8v8h-8zM1631 697h8v8h-8zM1621 780h8v8h-8zM1752 747h8v8h-8zM1674 848h8v8h-8zM1599 900h8v8h-8zM1714 812h8v8h-8zM1591 839h8v8h-8zM1623 755h8v8h-8zM1656 941h8v8h-8zM1636 855h8v8h-8zM1624 864h8v8h-8zM1608 974h8v8h-8zM1599 813h8v8h-8zM1572 816h8v8h-8zM1659 784h8v8h-8zM1711 692h8v8h-8zM1590 911h8v8h-8zM1678 791h8v8h-8zM1690 735h8v8h-8zM1570 750h8v8h-8zM1702 837h8v8h-8zM1695 893h8v8h-8zM1641 823h8v8h-8zM1603 749h8v8h-8zM1682 737h8v8h-8zM1668 851h8v8h-8zM1603 903h8v8h-8zM1719 658h8v8h-8zM1636 738h8v8h-8zM1611 841h8v8h-8zM1604 851h8v8h-8zM1638 747h8v8h-8zM1660 752h8v8h-8zM1674 820h8v8h-8zM1575 865h8v8h-8zM1687 795h8v8h-8zM1673 761h8v8h-8zM1582 727h8v8h-8zM1660 661h8v8h-8zM1588 808h8v8h-8zM1647 749h8v8h-8zM1562 646h8v8h-8z" fill="#ff0000" fill-opacity="1.0"/>
<path transform="scale(0.1)" d="M1603 812h8v8h-8zM1617 782h8v8h-8zM1720 885h8v8h-8zM1776 826h8v8h-8zM1570 860h8v8h-8zM1825 828h8v8h-8zM1718 694h8v8h-8zM1578 673h8v8h-8zM1576 987h8v8h-8zM1637 763h8v8h-8zM1601 844h8v8h-8zM1524 835h8v8h-8zM1702 734h8v8h-8zM1563 698h8v8h-8zM1770 709h8v8h-8zM1815 772h8v8h-8zM1606 811h8v8h-8zM1758 719h8v8h-8zM1599 897h8v8h-8zM1804 814h8v8h-8zM1706 647h8v8h-8zM1598 821h8v8h-8zM1621 807h8v8h-8zM1667 811h8v8h-8zM1761 894h8v8h-8zM1638 841h8v8h-8zM1881 818h8v8h-8zM1606 743h8v8h-8zM1585 874h8v8h-8zM1649 801h8v8h-8zM1537 844h8v8h-8zM1706 852h8v8h-8zM1659 755h8v8h-8zM1721 797h8v8h-8zM1737 887h8v8h-8zM1807 741h8v8h-8zM1615 801h8v8h-8zM1673 879h8v8h-8zM1732 937h8v8h-8zM1664 714h8v8h-8zM1684 738h8v8h-8zM1617 872h8v8h-8zM1640 868h8v8h-8zM1731 754h8v8h-8zM1632 825h8v8h-8zM1655 884h8v8h-8zM1621 839h8v8h-8zM1636 869h8v8h-8zM1711 864h8v8h-8zM1594 821h8v8h-8zM1604 902h8v8h-8zM1585 813h8v8h-8zM1615 885h8v8h-8zM1642 789h8v8h-8zM1594 827h8v8h-8zM1620 894h8v8h-8zM1710 757h8v8h-8zM1590 789h8v8h-8zM1598 784h8v8h-8zM1719 874h8v8h-8zM1631 920h8v8h-8zM1674 842h8v8h-8zM1536 879h8v8h-8zM1612 886h8v8h-8zM1831 746h8v8h-8zM1697 763h8v8h-8zM1649 860h8v8h-8zM1669 960h8v8h-8zM1561 831h8v8h-8zM1574 756h8v8h-8zM1638 700h8v8h-8zM1703 898h8v8h-8zM1827 770h8v8h-8zM1580 756h8v8h-8zM1613 807h8v8h-8zM1544 897h8v8h-8zM1646 707h8v8h-8zM1677 655h8v8h-8zM1535 799h8v8h-8zM1520 771h8v8h-8zM1551 870h8v8h-8zM1764 873h8v8h-8zM1594 838h8v8h-8zM1718 893h8v8h-8zM1661 873h8v8h-8zM1771 798h8v8h-8zM1693 834h8v8h-8zM1601 719h8v8h-8zM1576 934h8v8h-8zM1730 874h8v8h-8zM1664 734h8v8h-8zM1679 755h8v8h-8zM1751 766h8v8h-8zM1664 831h8v8h-8zM1700 681h8v8h-8zM1596 634h8v8h-8zM1556 689h8v8h-8zM1558 750h8v8h-8zM1597 734h8v8h-8zM1757 951h8v8h-8zM1670 926h8v8h-8zM1637 864h8v8h-8zM1566 751h8v8h-8zM1640 786h8v8h-8zM1777 848h8v8h-8zM1728 984h8v8h-8zM1661 733h8v8h-8zM1640 788h8v8h-8zM1707 795h8v8h-8zM1654 892h8v8h-8zM1724 855h8v8h-8zM1722 779h8v8h-8zM1732 847h8v8h-8zM1602 853h8v8h-8zM1561 828h8v8h-8zM1773 849h8v8h-8zM1564 844h8v8h-8zM1574 763h8v8h-8zM1636 846h8v8h-8zM1687 774h8v8h-8zM1637 875h8v8h-8zM1736 763h8v8h-8zM1548 827h8v8h-8zM1549 776h8v8h-8zM1592 785h8v8h-8zM1695 842h8v8h-8zM1685 722h8v8h-8zM1613 714h8v8h-8zM1708 950h8v8h-8zM1665 905h8v8h-8zM1630 822h8v8h-8zM1592 777h8v8h-8zM1672 826h8v8h-8zM1602 774h8v8h-8zM1649 851h8v8h-8zM1577 811h8v8h-8zM1611 834h8v8h-8zM1640 794h8v8h-8zM1614 881h8v8h-8zM1685 756h8v8h-8zM1661 700h8v8h-8zM1637 732h8v8h-8zM1716 685h8v8h-8zM1549 793h8v8h-8zM1747 793h8v8h-8zM1523 809h8v8h-8zM1739 734h8v8h-8zM1751 871h8v8h-8zM1770 773h8v8h-8zM1686 809h8v8h-8zM1715 791h8v8h-8zM1720 717h8v8h-8zM1667 905h8v8h-8zM1679 714h8v8h-8zM1721 677h8v8h-8zM1676 764h8v8h-8zM1646 777h8v8h-8zM1670 740h8v8h-8zM1664 639h8v8h-8zM1758 851h8v8h-8zM1587 895h8v8h-8zM1601 758h8v8h-8zM1707 765h8v8h-8zM1611 904h8v8h-8zM1577 872h8v8h-8zM1653 720h8v8h-8zM1694 701h8v8h-8zM1733 764h8v8h-8zM1562 779h8v8h-8zM1606 860h8v8h-8zM1651 867h8v8h-8zM1664 750h8v8h-8zM1690 586h8v8h-8zM1669 679h8v8h-8zM1628 871h8v8h-8zM1552 961h8v8h-8zM1619 816h8v8h-8zM1777 781h8v8h-8zM1756 715h8v8h-8zM1689 786h8v8h-8zM1570 730h8v8h-8zM1611 732h8v8h-8zM1720 820h8v8h-8zM1573 738h8v8h-8zM1675 711h8v8h-8zM1698 719h8v8h-8zM1604 816h8v8h-8zM1819 815h8v8h-8zM1644 842h8v8h-8zM1695 821h8v8h-8zM1682 828h8v8h-8zM1779 788h8v8h-8zM1638 811h8v8h-8zM1686 894h8v8h-8zM1605 771h8v8h-8zM1520 869h8v8h-8zM1642 754h8v8h-8zM1654 931h8v8h-8zM1593 769h8v8h-8zM1575 803h8v8h-8zM1667 740h8v8h-8zM1655 792h8v8h-8zM1626 756h8v8h-8zM1858 720h8v8h-8zM1640 915h8v8h-8zM1739 733h8v8h-8zM1559 857h8v8h-8zM1774 855h8v8h-8zM1619 885h8v8h-8zM1592 783h8v8h-8zM1605 962h8v8h-8zM1628 677h8v8h-8zM1588 821h8v8h-8zM1554 792h8v8h-8zM1619 757h8v8h-8zM1555 946h8v8h-8zM1611 907h8v8h-8zM1610 687h8v8h-8zM1562 809h8v8h-8zM1647 889h8v8h-8zM1625 836h8v8h-8zM1613 815h8v8h-8zM1554 711h8v8h-8zM1820 617h8v8h-8zM1673 670h8v8h-8zM1609 848h8v8h-8zM1674 783h8v8h-8zM1642 728h8v8h-8zM1630 865h8v8h-8zM1534 862h8v8h-8zM1694 869h8v8h-8zM1729 766h8v8h-8zM1747 617h8v8h-8zM1545 712h8v8h-8zM1713 730h8v8h-8zM1847 807h8v8h-8zM1700 826h8v8h-8zM1700 726h8v8h-8zM1688 780h8v8h-8zM1720 772h8v8h-8zM1727 883h8v8h-8zM1641 856h8v8h-8zM1590 782h8v8h-8zM1617 791h8v8h-8zM1674 737h8v8h-8zM1734 790h8v8h-8zM1654 710h8v8h-8zM1673 930h8v8h-8zM1653 854h8v8h-8zM1599 805h8v8h-8zM1576 802h8v8h-8zM1664 824h8v8h-8zM1631 828h8v8h-8zM1659 766h8v8h-8zM1835 998h8v8h-8zM1711 810h8v8h-8zM1546 707h8v8h-8zM1695 729h8v8h-8zM1664 724h8v8h-8zM1811 807h8v8h-8zM1698 757h8v8h-8zM1759 827h8v8h-8zM1713 846h8v8h-8zM1695 813h8v8h-8zM1739 823h8v8h-8zM1806 775h8v8h-8zM1621 797h8v8h-8zM1788 940h8v8h-8zM1548 835h8v8h-8zM1668 854h8v8h-8zM1681 881h8v8h-8zM1743 804h8v8h-8zM1730 765h8v8h-8zM1614 831h8v8h-8zM1816 810h8v8h-8zM1545 884h8v8h-8zM1601 804h8v8h-8zM1610 805h8v8h-8zM1564 769h8v8h-8zM1660 793h8v8h-8zM1808 795h8v8h-8zM1769 926h8v8h-8zM1651 887h8v8h-8zM1696 821h8v8h-8zM1669 904h8v8h-8zM1766 910h8v8h-8zM1572 686h8v8h-8zM1730 835h8v8h-8zM1547 713h8v8h-8zM1647 868h8v8h-8zM1652 845h8v8h-8zM1683 803h8v8h-8zM1686 865h8v8h-8zM1768 693h8v8h-8zM1713 706h8v8h-8zM1645 815h8v8h-8zM1626 818h8v8h-8zM1566 891h8v8h-8zM1606 840h8v8h-8zM1699 864h8v8h-8zM1694 869h8v8h-8zM1699 782h8v8h-8zM1598 696h8v8h-8zM1678 710h8v8h-8zM1711 799h8v8h-8zM1700 850h8v8h-8zM1757 755h8v8h-8zM1669 826h8v8h-8zM1657 793h8v8h-8zM1535 792h8v8h-8zM1751 641h8v8h-8zM1656 826h8v8h-8zM1604 781h8v8h-8zM1675 788h8v8h-8zM1773 708h8v8h-8zM1847 970h8v8h-8zM1650 705h8v8h-8zM1542 850h8v8h-8zM1631 660h8v8h-8zM1663 722h8v8h-8zM1646 829h8v8h-8zM1701 786h8v8h-8zM1649 773h8v8h-8zM1653 802h8v8h-8zM1736 854h8v8h-8zM1533 682h8v8h-8zM1676 646h8v8h-8zM1731 762h8v8h-8zM1623 788h8v8h-8zM1653 795h8v8h-8zM1716 832h8v8h-8zM1811 798h8v8h-8zM1700 761h8v8h-8zM1664 880h8v8h-8zM1674 779h8v8h-8zM1560 677h8v8h-8zM1821 704h8v8h-8zM1782 922h8v8h-8zM1530 970h8v8h-8zM1704 756h8v8h-8zM1565 858h8v8h-8zM1621 934h8v8h-8zM1713 778h8v8h-8zM1643 740h8v8h-8zM1643 892h8v8h-8zM1667 873h8v8h-8zM1693 748h8v8h-8zM1652 837h8v8h-8zM1664 839h8v8h-8zM1571 760h8v8h-8zM1700 660h8v8h-8zM1723 859h8v8h-8zM1601 975h8v8h-8zM1653 892h8v8h-8zM1759 739h8v8h-8zM1552 848h8v8h-8zM1584 727h8v8h-8zM1660 796h8v8h-8zM1618 731h8v8h-8zM1539 770h8v8h-8zM1625 875h8v8h-8zM1621 805h8v8h-8zM1687 794h8v8h-8zM1734 627h8v8h-8zM1527 771h8v8h-8zM1558 800h8v8h-8zM1748 771h8v8h-8zM1633 865h8v8h-8zM1609 841h8v8h-8zM1587 863h8v8h-8zM1690 737h8v8h-8zM1572 695h8v8h-8zM1686 815h8v8h-8zM1610 751h8v8h-8zM1619 812h8v8h-8zM1554 818h8v8h-8zM1726 840h8v8h-8zM1738 794h8v8h-8zM1566 826h8v8h-8zM1675 698h8v8h-8zM1907 752h8v8h-8zM1569 895h8v8h-8zM1595 849h8v8h-8zM1692 771h8v8h-8zM1536 799h8v8h-8zM1681 719h8v8h-8zM1732 881h8v8h-8zM1717 707h8v8h-8zM1639 826h8v8h-8zM1659 793h8v8h-8zM1644 901h8v8h-8zM1667 754h8v8h-8zM1634 750h8v8h-8zM1614 777h8v8h-8zM1786 816h8v8h-8zM1648 773h8v8h-8zM1639 795h8v8h-8zM1659 802h8v8h-8zM1731 921h8v8h-8zM1582 844h8v8h-8zM1575 694h8v8h-8zM1634 960h8v8h-8zM1706 836h8v8h-8zM1675 874h8v8h-8zM1583 852h8v8h-8zM1688 685h8v8h-8zM1584 833h8v8h-8zM1546 734h8v8h-8zM1654 844h8v8h-8zM1583 903h8v8h-8zM1683 852h8v8h-8zM1605 862h8v8h-8zM1642 815h8v8h-8zM1567 836h8v8h-8zM1728 730h8v8h-8zM1654 732h8v8h-8zM1760 759h8v8h-8zM1714 782h8v8h-8zM1635 808h8v8h-8zM1711 929h8v8h-8zM1595 802h8v8h-8zM1622 721h8v8h-8zM1612 758h8v8h-8zM1523 825h8v8h-8zM1542 691h8v8h-8zM1683 783h8v8h-8zM1611 828h8v8h-8zM1672 864h8v8h-8zM1547 823h8v8h-8zM1665 902h8v8h-8zM1693 865h8v8h-8zM1611 741h8v8h-8zM1693 702h8v8h-8zM1662 915h8v8h-8zM1653 855h8v8h-8zM1580 704h8v8h-8zM1832 696h8v8h-8zM1609 846h8v8h-8zM1696 754h8v8h-8zM1619 861h8v8h-8zM1568 943h8v8h-8zM1648 798h8v8h-8zM1798 727h8v8h-8zM1595 887h8v8h-8zM1758 788h8v8h-8zM1686 685h8v8h-8zM1615 817h8v8h-8zM1688 644h8v8h-8zM1644 868h8v8h-8zM1645 827h8v8h-8zM1674 973h8v8h-8zM1677 885h8v8h-8zM1582 843h8v8h-8zM1706 838h8v8h-8zM1685 900h8v8h-8zM1723 894h8v8h-8zM1615 862h8v8h-8zM1714 904h8v8h-8zM1584 775h8v8h-8zM1712 772h8v8h-8zM1605 624h8v8h-8zM1696 876h8v8h-8zM1668 797h8v8h-8zM1541 743h8v8h-8zM1695 754h8v8h-8zM1530 855h8v8h-8zM1584 856h8v8h-8zM1705 852h8v8h-8zM1708 820h8v8h-8zM1797 864h8v8h-8zM1643 744h8v8h-8zM1733 726h8v8h-8zM1751 750h8v8h-8zM1574 707h8v8h-8zM1690 752h8v8h-8zM1684 710h8v8h-8z" fill="#ff6a6a" fill-opacity="1.0"/>
<path d="M188.0 73.0h1.0v1.0h-1.0zM192.0 76.0h1.0v1.0h-1.0zM195.0 70.0h1.0v1.0h-1.0zM190.0 85.0h1.0v1.0h-1.0zM186.0 90.0h1.0v1.0h-1.0zM193.0 88.0h1.0v1.0h-1.0z" fill="#ff8080"/>
<path transform="scale(0.1)" d="M2555 828h8v8h-8zM2555 810h8v8h-8zM2513 802h8v8h-8zM2535 825h8v8h-8zM2535 818h8v8h-8zM2537 856h8v8h-8zM2611 830h8v8h-8zM2525 777h8v8h-8zM2525 863h8v8h-8zM2519 821h8v8h-8zM2571 788h8v8h-8zM2521 896h8v8h-8zM2532 828h8v8h-8zM2566 830h8v8h-8zM2562 844h8v8h-8zM2501 801h8v8h-8zM2599 824h8v8h-8zM2545 837h8v8h-8zM2568 808h8v8h-8zM2547 839h8v8h-8zM2595 844h8v8h-8zM2523 842h8v8h-8zM2513 774h8v8h-8zM2549 818h8v8h-8zM2584 834h8v8h-8zM2535 879h8v8h-8zM2567 848h8v8h-8zM2590 836h8v8h-8zM2486 806h8v8h-8zM2584 843h8v8h-8zM2576 899h8v8h-8zM2518 836h8v8h-8zM2534 820h8v8h-8zM2519 839h8v8h-8zM2565 846h8v8h-8zM2514 823h8v8h-8zM2558 831h8v8h-8zM2585 791h8v8h-8zM2474 833h8v8h-8zM2551 828h8v8h-8zM2533 817h8v8h-8zM2518 804h8v8h-8zM2551 881h8v8h-8zM2531 834h8v8h-8zM2481 865h8v8h-8zM2515 790h8v8h-8zM2535 826h8v8h-8zM2509 826h8v8h-8zM2488 901h8v8h-8zM2622 842h8v8h-8zM2586 819h8v8h-8zM2581 841h8v8h-8zM2539 835h8v8h-8zM2463 858h8v8h-8zM2525 784h8v8h-8zM2554 759h8v8h-8zM2519 831h8v8h-8zM2515 835h8v8h-8zM2548 830h8v8h-8zM2610 861h8v8h-8zM2547 823h8v8h-8zM2541 832h8v8h-8zM2511 820h8v8h-8zM2590 767h8v8h-8zM2549 793h8v8h-8zM2537 808h8v8h-8zM2528 826h8v8h-8zM2519 880h8v8h-8zM2548 839h8v8h-8zM2612 811h8v8h-8zM2543 775h8v8h-8zM2560 847h8v8h-8zM2515 819h8v8h-8zM2552 753h8v8h-8zM2491 845h8v8h-8zM2592 827h8v8h-8zM2523 846h8v8h-8zM2560 834h8v8h-8zM2547 804h8v8h-8zM2593 814h8v8h-8zM2563 796h8v8h-8zM2565 819h8v8h-8zM2486 849h8v8h-8zM2504 849h8v8h-8zM2503 811h8v8h-8zM2505 880h8v8h-8zM2508 829h8v8h-8zM2569 758h8v8h-8zM2535 871h8v8h-8zM2538 859h8v8h-8zM2505 877h8v8h-8zM2504 834h8v8h-8zM2489 829h8v8h-8zM2574 803h8v8h-8zM2540 851h8v8h-8zM2561 852h8v8h-8zM2544 853h8v8h-8zM2504 862h8v8h-8zM2533 811h8v8h-8zM2460 851h8v8h-8zM2560 847h8v8h-8zM2536 829h8v8h-8zM2543 884h8v8h-8zM2539 767h8v8h-8zM2557 841h8v8h-8zM2527 824h8v8h-8zM2536 832h8v8h-8zM2511 837h8v8h-8zM2526 827h8v8h-8zM2546 833h8v8h-8zM2567 822h8v8h-8zM2522 792h8v8h-8zM2486 859h8v8h-8zM2469 861h8v8h-8zM2526 798h8v8h-8zM2509 851h8v8h-8zM2556 827h8v8h-8zM2592 834h8v8h-8zM2507 837h8v8h-8zM2581 797h8v8h-8zM2578 835h8v8h-8zM2501 783h8v8h-8zM2519 880h8v8h-8zM2561 801h8v8h-8zM2507 813h8v8h-8zM2500 857h8v8h-8zM2563 824h8v8h-8zM2515 858h8v8h-8zM2513 892h8v8h-8zM2559 848h8v8h-8zM2540 825h8v8h-8zM2545 798h8v8h-8zM2588 819h8v8h-8zM2584 791h8v8h-8zM2478 847h8v8h-8zM2571 738h8v8h-8zM2539 807h8v8h-8zM2550 811h8v8h-8zM2568 795h8v8h-8zM2603 838h8v8h-8zM2568 848h8v8h-8zM2535 769h8v8h-8zM2555 865h8v8h-8zM2486 826h8v8h-8zM2558 834h8v8h-8zM2547 843h8v8h-8zM2497 825h8v8h-8zM2489 840h8v8h-8zM2491 856h8v8h-8zM2509 816h8v8h-8zM2557 833h8v8h-8zM2531 859h8v8h-8zM2513 831h8v8h-8zM2527 825h8v8h-8zM2581 809h8v8h-8zM2526 815h8v8h-8zM2508 827h8v8h-8zM2613 777h8v8h-8zM2507 833h8v8h-8zM2554 807h8v8h-8zM2568 834h8v8h-8zM2542 881h8v8h-8zM2529 859h8v8h-8zM2581 809h8v8h-8zM2541 845h8v8h-8zM2559 826h8v8h-8zM2535 807h8v8h-8zM2594 838h8v8h-8zM2506 871h8v8h-8zM2494 858h8v8h-8zM2507 837h8v8h-8zM2533 802h8v8h-8zM2528 823h8v8h-8zM2541 848h8v8h-8zM2514 843h8v8h-8zM2553 852h8v8h-8zM2488 824h8v8h-8zM2494 759h8v8h-8zM2527 860h8v8h-8zM2512 857h8v8h-8zM2508 881h8v8h-8zM2516 878h8v8h-8zM2511 862h8v8h-8zM2546 815h8v8h-8zM2561 783h8v8h-8zM2579 803h8v8h-8zM2542 802h8v8h-8zM2512 791h8v8h-8zM2499 823h8v8h-8zM2499 866h8v8h-8zM2482 820h8v8h-8zM2557 829h8v8h-8zM2595 840h8v8h-8zM2533 803h8v8h-8zM2545 817h8v8h-8zM2460 822h8v8h-8zM2534 783h8v8h-8zM2514 849h8v8h-8zM2538 853h8v8h-8zM2508 859h8v8h-8zM2511 834h8v8h-8zM2506 808h8v8h-8zM2514 873h8v8h-8zM2606 759h8v8h-8zM2560 832h8v8h-8zM2486 828h8v8h-8zM2528 792h8v8h-8zM2524 862h8v8h-8zM2607 864h8v8h-8zM2474 828h8v8h-8zM2558 812h8v8h-8zM2565 829h8v8h-8zM2610 808h8v8h-8zM2595 878h8v8h-8zM2531 798h8v8h-8zM2481 813h8v8h-8zM2502 846h8v8h-8zM2513 815h8v8h-8zM2529 811h8v8h-8zM2513 817h8v8h-8zM2490 831h8v8h-8zM2558 858h8v8h-8zM2541 796h8v8h-8zM2522 857h8v8h-8zM2519 802h8v8h-8zM2514 801h8v8h-8zM2500 861h8v8h-8zM2624 828h8v8h-8zM2524 856h8v8h-8zM2515 860h8v8h-8zM2589 804h8v8h-8zM2524 804h8v8h-8zM2547 835h8v8h-8zM2501 808h8v8h-8zM2522 827h8v8h-8zM2473 892h8v8h-8zM2553 786h8v8h-8zM2608 783h8v8h-8zM2546 851h8v8h-8zM2549 856h8v8h-8zM2578 816h8v8h-8zM2577 830h8v8h-8zM2506 822h8v8h-8zM2510 818h8v8h-8zM2525 835h8v8h-8zM2581 844h8v8h-8zM2496 793h8v8h-8zM2517 783h8v8h-8zM2528 837h8v8h-8zM2538 811h8v8h-8zM2544 849h8v8h-8zM2524 834h8v8h-8zM2579 811h8v8h-8zM2511 834h8v8h-8zM2609 909h8v8h-8zM2544 827h8v8h-8zM2560 805h8v8h-8zM2493 789h8v8h-8zM2548 847h8v8h-8zM2493 883h8v8h-8zM2485 844h8v8h-8zM2564 829h8v8h-8zM2536 827h8v8h-8zM2496 846h8v8h-8zM2465 835h8v8h-8zM2561 837h8v8h-8zM2536 841h8v8h-8zM2563 831h8v8h-8zM2569 877h8v8h-8zM2576 808h8v8h-8zM2456 835h8v8h-8zM2558 821h8v8h-8zM2469 845h8v8h-8zM2574 875h8v8h-8zM2549 821h8v8h-8zM2534 824h8v8h-8zM2532 834h8v8h-8zM2478 813h8v8h-8zM2531 827h8v8h-8zM2528 771h8v8h-8zM2547 847h8v8h-8zM2603 839h8v8h-8zM2515 856h8v8h-8zM2558 875h8v8h-8zM2597 841h8v8h-8zM2508 872h8v8h-8zM2503 858h8v8h-8zM2506 841h8v8h-8zM2493 850h8v8h-8zM2475 863h8v8h-8zM2555 847h8v8h-8zM2587 781h8v8h-8zM2554 795h8v8h-8zM2514 813h8v8h-8zM2512 796h8v8h-8zM2543 808h8v8h-8zM2508 808h8v8h-8zM2528 797h8v8h-8zM2516 830h8v8h-8zM2566 859h8v8h-8zM2557 867h8v8h-8zM2540 876h8v8h-8zM2495 877h8v8h-8zM2517 759h8v8h-8zM2561 877h8v8h-8zM2598 827h8v8h-8zM2517 788h8v8h-8zM2627 789h8v8h-8zM2521 817h8v8h-8zM2521 807h8v8h-8zM2547 858h8v8h-8zM2512 826h8v8h-8zM2536 888h8v8h-8zM2540 879h8v8h-8zM2520 780h8v8h-8zM2526 817h8v8h-8zM2555 853h8v8h-8zM2579 835h8v8h-8zM2615 815h8v8h-8zM2542 827h8v8h-8zM2485 826h8v8h-8zM2520 815h8v8h-8zM2479 858h8v8h-8zM2539 830h8v8h-8zM2511 810h8v8h-8zM2547 773h8v8h-8zM2526 840h8v8h-8zM2535 825h8v8h-8zM2521 755h8v8h-8zM2590 824h8v8h-8zM2470 804h8v8h-8zM2574 827h8v8h-8zM2576 817h8v8h-8zM2557 859h8v8h-8zM2545 793h8v8h-8zM2551 874h8v8h-8zM2521 836h8v8h-8zM2498 898h8v8h-8zM2564 839h8v8h-8zM2562 830h8v8h-8zM2568 800h8v8h-8zM2531 888h8v8h-8zM2573 868h8v8h-8zM2559 837h8v8h-8zM2602 812h8v8h-8zM2536 820h8v8h-8zM2461 837h8v8h-8zM2499 844h8v8h-8zM2550 804h8v8h-8zM2486 824h8v8h-8zM2560 838h8v8h-8zM2510 824h8v8h-8zM2540 816h8v8h-8zM2546 862h8v8h-8zM2505 881h8v8h-8zM2549 844h8v8h-8zM2576 837h8v8h-8zM2516 845h8v8h-8zM2523 833h8v8h-8zM2513 841h8v8h-8zM2557 843h8v8h-8zM2569 800h8v8h-8zM2511 798h8v8h-8zM2519 814h8v8h-8zM2563 805h8v8h-8zM2536 847h8v8h-8zM2594 847h8v8h-8zM2531 833h8v8h-8zM2510 802h8v8h-8zM2490 801h8v8h-8zM2510 783h8v8h-8zM2471 840h8v8h-8zM2542 850h8v8h-8zM2593 801h8v8h-8zM2477 829h8v8h-8zM2483 844h8v8h-8zM2491 837h8v8h-8zM2526 849h8v8h-8zM2499 826h8v8h-8zM2562 818h8v8h-8zM2569 820h8v8h-8zM2509 874h8v8h-8zM2524 834h8v8h-8zM2507 866h8v8h-8zM2556 822h8v8h-8zM2597 850h8v8h-8zM2498 839h8v8h-8zM2517 803h8v8h-8zM2494 793h8v8h-8zM2551 857h8v8h-8zM2550 804h8v8h-8zM2506 834h8v8h-8zM2526 791h8v8h-8zM2613 825h8v8h-8zM2608 796h8v8h-8zM2504 887h8v8h-8zM2535 812h8v8h-8zM2521 855h8v8h-8zM2551 905h8v8h-8zM2496 882h8v8h-8zM2555 852h8v8h-8zM2572 793h8v8h-8zM2580 865h8v8h-8zM2484 892h8v8h-8zM2602 811h8v8h-8zM2504 840h8v8h-8zM2487 826h8v8h-8zM2578 800h8v8h-8zM2569 828h8v8h-8zM2536 846h8v8h-8zM2570 837h8v8h-8zM2562 862h8v8h-8zM2550 848h8v8h-8zM2500 846h8v8h-8zM2525 875h8v8h-8zM2538 806h8v8h-8zM2580 825h8v8h-8zM2593 836h8v8h-8zM2533 860h8v8h-8zM2517 804h8v8h-8zM2510 874h8v8h-8zM2570 788h8v8h-8zM2515 816h8v8h-8zM2613 858h8v8h-8zM2545 773h8v8h-8zM2543 823h8v8h-8zM2562 873h8v8h-8zM2538 859h8v8h-8zM2507 842h8v8h-8zM2542 828h8v8h-8zM2553 844h8v8h-8zM2521 786h8v8h-8zM2531 879h8v8h-8zM2537 819h8v8h-8zM2473 824h8v8h-8zM2511 869h8v8h-8zM2534 854h8v8h-8zM2498 849h8v8h-8zM2556 843h8v8h-8zM2558 832h8v8h-8zM2461 804h8v8h-8zM2518 779h8v8h-8zM2554 858h8v8h-8zM2527 855h8v8h-8zM2557 829h8v8h-8zM2560 875h8v8h-8zM2485 826h8v8h-8zM2547 812h8v8h-8zM2507 861h8v8h-8zM2457 821h8v8h-8zM2556 802h8v8h-8zM2511 835h8v8h-8zM2534 813h8v8h-8zM2563 836h8v8h-8zM2574 855h8v8h-8zM2529 814h8v8h-8zM2506 844h8v8h-8zM2516 862h8v8h-8zM2577 817h8v8h-8zM2527 843h8v8h-8zM2602 858h8v8h-8zM2594 802h8v8h-8zM2515 856h8v8h-8zM2603 896h8v8h-8zM2519 830h8v8h-8zM2535 789h8v8h-8zM2537 808h8v8h-8zM2502 825h8v8h-8zM2542 867h8v8h-8zM2561 847h8v8h-8zM2620 810h8v8h-8zM2587 763h8v8h-8zM2519 828h8v8h-8zM2550 893h8v8h-8zM2579 784h8v8h-8zM2535 843h8v8h-8zM2510 855h8v8h-8zM2534 861h8v8h-8zM2498 864h8v8h-8zM2541 867h8v8h-8zM2520 880h8v8h-8zM2579 845h8v8h-8zM2529 855h8v8h-8zM2494 835h8v8h-8zM2563 825h8v8h-8zM2528 808h8v8h-8zM2505 870h8v8h-8zM2547 749h8v8h-8zM2508 864h8v8h-8zM2475 791h8v8h-8zM2494 849h8v8h-8zM2574 809h8v8h-8zM2587 909h8v8h-8zM2519 845h8v8h-8zM2547 816h8v8h-8zM2472 884h8v8h-8zM2564 850h8v8h-8zM2528 809h8v8h-8zM2554 828h8v8h-8zM2523 878h8v8h-8zM2532 763h8v8h-8zM2474 801h8v8h-8zM2547 824h8v8h-8zM2513 885h8v8h-8zM2542 789h8v8h-8zM2590 812h8v8h-8zM2444 832h8v8h-8zM2568 857h8v8h-8zM2544 842h8v8h-8zM2542 828h8v8h-8zM2562 796h8v8h-8zM2516 778h8v8h-8zM2464 862h8v8h-8zM2509 886h8v8h-8zM2517 824h8v8h-8zM2446 819h8v8h-8zM2548 865h8v8h-8zM2546 782h8v8h-8zM2487 771h8v8h-8zM2530 852h8v8h-8zM2530 849h8v8h-8zM2528 870h8v8h-8zM2527 815h8v8h-8zM2564 828h8v8h-8zM2535 824h8v8h-8zM2600 838h8v8h-8zM2536 832h8v8h-8zM2574 828h8v8h-8zM2578 831h8v8h-8zM2475 843h8v8h-8zM2538 806h8v8h-8zM2546 849h8v8h-8zM2551 843h8v8h-8zM2546 841h8v8h-8zM2574 800h8v8h-8zM2562 821h8v8h-8zM2522 835h8v8h-8zM2573 757h8v8h-8zM2524 851h8v8h-8zM2545 808h8v8h-8zM2512 783h8v8h-8zM2484 871h8v8h-8zM2491 804h8v8h-8zM2584 819h8v8h-8zM2558 813h8v8h-8zM2508 783h8v8h-8zM2557 802h8v8h-8zM2497 900h8v8h-8zM2502 883h8v8h-8zM2469 815h8v8h-8zM2517 856h8v8h-8zM2551 819h8v8h-8zM2618 846h8v8h-8zM2520 790h8v8h-8zM2540 795h8v8h-8zM2545 832h8v8h-8zM2563 818h8v8h-8zM2507 859h8v8h-8zM2491 864h8v8h-8zM2562 837h8v8h-8zM2486 826h8v8h-8zM2550 834h8v8h-8zM2513 822h8v8h-8zM2532 782h8v8h-8zM2548 855h8v8h-8zM2469 793h8v8h-8zM2608 781h8v8h-8zM2483 845h8v8h-8zM2491 863h8v8h-8zM2551 834h8v8h-8zM2500 897h8v8h-8zM2540 794h8v8h-8zM2518 878h8v8h-8zM2527 797h8v8h-8zM2518 837h8v8h-8zM2519 847h8v8h-8zM2516 840h8v8h-8zM2599 807h8v8h-8zM2551 840h8v8h-8zM2491 844h8v8h-8zM2518 800h8v8h-8zM2560 865h8v8h-8zM2577 824h8v8h-8zM2480 844h8v8h-8zM2524 800h8v8h-8zM2505 872h8v8h-8zM2587 832h8v8h-8zM2551 830h8v8h-8zM2515 848h8v8h-8zM2485 824h8v8h-8zM2524 843h8v8h-8zM2527 807h8v8h-8zM2534 857h8v8h-8zM2551 852h8v8h-8zM2530 846h8v8h-8zM2461 858h8v8h-8zM2500 845h8v8h-8zM2509 807h8v8h-8zM2484 816h8v8h-8zM2574 831h8v8h-8zM2485 817h8v8h-8zM2543 806h8v8h-8zM2538 803h8v8h-8zM2532 844h8v8h-8zM2525 836h8v8h-8zM2495 855h8v8h-8zM2531 875h8v8h-8zM2559 834h8v8h-8zM2490 821h8v8h-8zM2577 830h8v8h-8zM2504 857h8v8h-8zM2561 861h8v8h-8zM2519 831h8v8h-8zM2588 839h8v8h-8zM2587 794h8v8h-8zM2589 799h8v8h-8zM2605 782h8v8h-8zM2520 845h8v8h-8zM2472 833h8v8h-8zM2484 842h8v8h-8zM2561 793h8v8h-8zM2562 782h8v8h-8zM2490 865h8v8h-8zM2551 843h8v8h-8zM2508 862h8v8h-8zM2505 841h8v8h-8zM2533 868h8v8h-8zM2475 854h8v8h-8zM2554 790h8v8h-8zM2547 844h8v8h-8zM2590 827h8v8h-8zM2561 793h8v8h-8zM2542 807h8v8h-8zM2571 832h8v8h-8zM2525 771h8v8h-8zM2536 828h8v8h-8zM2487 790h8v8h-8zM2505 851h8v8h-8zM2530 849h8v8h-8zM2568 782h8v8h-8zM2589 785h8v8h-8zM2590 801h8v8h-8zM2516 820h8v8h-8zM2530 800h8v8h-8zM2499 854h8v8h-8zM2473 835h8v8h-8zM2565 778h8v8h-8zM2480 840h8v8h-8zM2557 799h8v8h-8zM2511 829h8v8h-8zM2524 857h8v8h-8zM2570 792h8v8h-8zM2501 834h8v8h-8zM2553 810h8v8h-8zM2499 831h8v8h-8zM2529 867h8v8h-8zM2526 867h8v8h-8zM2537 770h8v8h-8zM2485 883h8v8h-8zM2521 866h8v8h-8zM2544 806h8v8h-8zM2503 860h8v8h-8zM2552 813h8v8h-8zM2549 840h8v8h-8zM2527 773h8v8h-8zM2514 864h8v8h-8zM2537 775h8v8h-8zM2504 781h8v8h-8zM2546 832h8v8h-8zM2533 859h8v8h-8zM2578 817h8v8h-8zM2526 855h8v8h-8zM2493 875h8v8h-8zM2542 838h8v8h-8zM2517 879h8v8h-8zM2583 858h8v8h-8zM2494 823h8v8h-8zM2505 805h8v8h-8zM2519 816h8v8h-8zM2519 830h8v8h-8zM2534 880h8v8h-8zM2618 873h8v8h-8zM2524 787h8v8h-8zM2579 887h8v8h-8zM2508 771h8v8h-8zM2509 788h8v8h-8zM2527 797h8v8h-8zM2588 865h8v8h-8zM2541 799h8v8h-8zM2546 848h8v8h-8zM2511 843h8v8h-8zM2526 819h8v8h-8zM2615 827h8v8h-8zM2487 820h8v8h-8zM2454 853h8v8h-8zM2522 826h8v8h-8zM2492 937h8v8h-8zM2479 799h8v8h-8zM2451 862h8v8h-8zM2542 815h8v8h-8zM2527 886h8v8h-8zM2517 872h8v8h-8zM2559 832h8v8h-8zM2567 859h8v8h-8zM2534 802h8v8h-8zM2561 817h8v8h-8zM2477 878h8v8h-8zM2542 797h8v8h-8zM2491 867h8v8h-8zM2524 864h8v8h-8zM2582 848h8v8h-8zM2526 842h8v8h-8zM2598 828h8v8h-8zM2574 785h8v8h-8zM2558 833h8v8h-8zM2486 778h8v8h-8zM2532 790h8v8h-8zM2546 833h8v8h-8zM2562 847h8v8h-8zM2529 794h8v8h-8zM2476 866h8v8h-8zM2562 815h8v8h-8zM2472 801h8v8h-8zM2501 845h8v8h-8zM2455 857h8v8h-8zM2530 821h8v8h-8zM2559 825h8v8h-8zM2563 888h8v8h-8zM2491 816h8v8h-8zM2547 790h8v8h-8zM2538 817h8v8h-8zM2549 839h8v8h-8zM2563 822h8v8h-8zM2544 856h8v8h-8zM2594 830h8v8h-8zM2491 848h8v8h-8zM2549 802h8v8h-8zM2542 868h8v8h-8zM2487 797h8v8h-8zM2540 873h8v8h-8zM2526 791h8v8h-8zM2497 806h8v8h-8zM2552 816h8v8h-8zM2527 882h8v8h-8zM2568 802h8v8h-8zM2520 865h8v8h-8zM2584 819h8v8h-8zM2550 796h8v8h-8zM2547 852h8v8h-8zM2571 815h8v8h-8zM2610 800h8v8h-8zM2534 859h8v8h-8zM2542 840h8v8h-8zM2534 840h8v8h-8zM2546 831h8v8h-8zM2468 914h8v8h-8zM2591 783h8v8h-8zM2597 809h8v8h-8zM2588 801h8v8h-8zM2538 813h8v8h-8zM2477 790h8v8h-8zM2498 826h8v8h-8zM2539 834h8v8h-8zM2518 828h8v8h-8zM2478 814h8v8h-8zM2513 794h8v8h-8zM2475 842h8v8h-8zM2484 815h8v8h-8zM2541 836h8v8h-8zM2503 835h8v8h-8zM2486 884h8v8h-8zM2501 826h8v8h-8zM2507 861h8v8h-8zM2549 820h8v8h-8zM2564 844h8v8h-8zM2559 839h8v8h-8zM2515 855h8v8h-8zM2515 796h8v8h-8zM2598 814h8v8h-8zM2537 795h8v8h-8zM2514 845h8v8h-8zM2565 809h8v8h-8zM2495 829h8v8h-8zM2588 776h8v8h-8zM2597 815h8v8h-8zM2561 841h8v8h-8zM2545 843h8v8h-8zM2559 860h8v8h-8zM2546 844h8v8h-8zM2627 845h8v8h-8zM2508 789h8v8h-8zM2516 802h8v8h-8zM2574 780h8v8h-8zM2538 831h8v8h-8zM2576 851h8v8h-8z" fill="#a8a8a8" fill-opacity="1.0"/>
<path transform="scale(0.1)" d="M2574 844h8v8h-8zM2542 892h8v8h-8zM2629 835h8v8h-8zM2581 830h8v8h-8zM2537 805h8v8h-8zM2500 837h8v8h-8zM2500 754h8v8h-8zM2549 833h8v8h-8zM2454 864h8v8h-8zM2540 810h8v8h-8zM2480 825h8v8h-8zM2499 836h8v8h-8zM2518 827h8v8h-8zM2581 825h8v8h-8zM2554 850h8v8h-8zM2608 828h8v8h-8zM2574 821h8v8h-8zM2503 837h8v8h-8zM2548 788h8v8h-8zM2503 816h8v8h-8zM2631 837h8v8h-8zM2497 851h8v8h-8zM2556 800h8v8h-8zM2490 848h8v8h-8zM2549 752h8v8h-8zM2590 817h8v8h-8zM2568 794h8v8h-8zM2572 796h8v8h-8zM2583 818h8v8h-8zM2505 842h8v8h-8zM2500 768h8v8h-8zM2507 780h8v8h-8zM2532 787h8v8h-8zM2500 843h8v8h-8zM2452 866h8v8h-8zM2539 854h8v8h-8zM2497 816h8v8h-8zM2560 837h8v8h-8zM2515 849h8v8h-8zM2475 802h8v8h-8zM2570 791h8v8h-8zM2584 853h8v8h-8zM2538 809h8v8h-8zM2517 847h8v8h-8zM2478 801h8v8h-8zM2603 801h8v8h-8zM2484 813h8v8h-8zM2565 838h8v8h-8zM2622 807h8v8h-8zM2536 880h8v8h-8zM2456 844h8v8h-8zM2572 824h8v8h-8zM2566 778h8v8h-8zM2615 829h8v8h-8zM2495 826h8v8h-8zM2575 862h8v8h-8zM2466 839h8v8h-8zM2553 780h8v8h-8zM2610 802h8v8h-8zM2540 864h8v8h-8zM2525 837h8v8h-8zM2550 861h8v8h-8zM2525 806h8v8h-8zM2539 892h8v8h-8zM2549 922h8v8h-8zM2494 879h8v8h-8zM2528 753h8v8h-8zM2568 848h8v8h-8zM2494 851h8v8h-8zM2582 823h8v8h-8zM2597 786h8v8h-8zM2522 835h8v8h-8zM2564 818h8v8h-8zM2546 741h8v8h-8zM2467 796h8v8h-8zM2589 773h8v8h-8zM2579 777h8v8h-8zM2502 825h8v8h-8zM2536 856h8v8h-8zM2515 846h8v8h-8zM2592 850h8v8h-8zM2528 830h8v8h-8zM2581 736h8v8h-8zM2556 854h8v8h-8zM2465 860h8v8h-8zM2577 865h8v8h-8zM2525 784h8v8h-8zM2568 803h8v8h-8zM2618 826h8v8h-8zM2563 831h8v8h-8zM2526 828h8v8h-8zM2545 818h8v8h-8zM2520 784h8v8h-8zM2582 808h8v8h-8zM2598 854h8v8h-8zM2510 841h8v8h-8zM2521 819h8v8h-8zM2588 822h8v8h-8zM2538 818h8v8h-8zM2597 854h8v8h-8zM2597 844h8v8h-8zM2494 854h8v8h-8zM2534 804h8v8h-8zM2545 813h8v8h-8zM2491 892h8v8h-8zM2510 830h8v8h-8zM2483 837h8v8h-8zM2550 932h8v8h-8zM2515 812h8v8h-8zM2577 772h8v8h-8zM2582 840h8v8h-8zM2562 824h8v8h-8zM2570 871h8v8h-8zM2529 821h8v8h-8zM2621 836h8v8h-8zM2584 849h8v8h-8zM2545 837h8v8h-8zM2509 781h8v8h-8zM2535 834h8v8h-8zM2513 843h8v8h-8zM2597 831h8v8h-8zM2534 836h8v8h-8zM2478 743h8v8h-8zM2495 873h8v8h-8zM2470 858h8v8h-8zM2523 873h8v8h-8zM2561 798h8v8h-8zM2560 840h8v8h-8zM2539 851h8v8h-8zM2557 820h8v8h-8zM2604 841h8v8h-8zM2569 797h8v8h-8zM2542 874h8v8h-8zM2464 904h8v8h-8zM2516 863h8v8h-8zM2539 850h8v8h-8zM2610 758h8v8h-8zM2499 829h8v8h-8zM2538 844h8v8h-8zM2484 839h8v8h-8zM2455 857h8v8h-8zM2564 805h8v8h-8zM2474 852h8v8h-8zM2535 855h8v8h-8zM2495 842h8v8h-8zM2541 862h8v8h-8zM2486 795h8v8h-8zM2568 817h8v8h-8zM2628 815h8v8h-8zM2502 795h8v8h-8zM2525 880h8v8h-8zM2521 781h8v8h-8zM2486 796h8v8h-8zM2554 830h8v8h-8zM2467 835h8v8h-8zM2511 819h8v8h-8zM2627 796h8v8h-8zM2581 824h8v8h-8zM2564 816h8v8h-8zM2582 854h8v8h-8zM2552 863h8v8h-8zM2521 809h8v8h-8zM2537 799h8v8h-8zM2490 831h8v8h-8zM2455 852h8v8h-8zM2548 732h8v8h-8zM2498 861h8v8h-8zM2554 853h8v8h-8zM2584 802h8v8h-8zM2543 802h8v8h-8zM2547 919h8v8h-8zM2503 815h8v8h-8zM2508 821h8v8h-8zM2522 839h8v8h-8zM2514 884h8v8h-8zM2555 787h8v8h-8zM2500 882h8v8h-8zM2588 826h8v8h-8zM2523 809h8v8h-8zM2552 765h8v8h-8zM2570 890h8v8h-8zM2531 810h8v8h-8zM2566 804h8v8h-8zM2507 858h8v8h-8zM2582 754h8v8h-8zM2592 815h8v8h-8zM2572 773h8v8h-8zM2526 845h8v8h-8zM2601 811h8v8h-8zM2495 886h8v8h-8zM2546 828h8v8h-8zM2550 849h8v8h-8zM2592 811h8v8h-8zM2506 844h8v8h-8zM2527 828h8v8h-8zM2517 813h8v8h-8zM2467 884h8v8h-8zM2474 845h8v8h-8zM2568 838h8v8h-8zM2551 856h8v8h-8zM2524 818h8v8h-8zM2566 848h8v8h-8zM2544 842h8v8h-8zM2501 802h8v8h-8zM2488 823h8v8h-8zM2554 862h8v8h-8zM2471 858h8v8h-8zM2555 830h8v8h-8zM2550 844h8v8h-8zM2613 756h8v8h-8zM2614 856h8v8h-8zM2525 823h8v8h-8zM2541 835h8v8h-8zM2612 820h8v8h-8zM2542 800h8v8h-8zM2464 801h8v8h-8zM2480 862h8v8h-8zM2535 858h8v8h-8zM2482 903h8v8h-8zM2491 851h8v8h-8zM2522 816h8v8h-8zM2509 851h8v8h-8zM2553 778h8v8h-8zM2590 837h8v8h-8zM2514 806h8v8h-8zM2538 857h8v8h-8zM2483 808h8v8h-8zM2545 834h8v8h-8zM2466 883h8v8h-8zM2544 846h8v8h-8zM2577 855h8v8h-8zM2527 859h8v8h-8zM2511 866h8v8h-8zM2539 805h8v8h-8zM2532 868h8v8h-8zM2530 826h8v8h-8zM2621 817h8v8h-8zM2583 848h8v8h-8zM2560 769h8v8h-8zM2524 765h8v8h-8zM2560 840h8v8h-8zM2483 847h8v8h-8zM2622 834h8v8h-8zM2591 847h8v8h-8zM2527 793h8v8h-8zM2554 801h8v8h-8zM2497 834h8v8h-8zM2480 826h8v8h-8zM2514 861h8v8h-8zM2560 882h8v8h-8zM2551 864h8v8h-8zM2537 806h8v8h-8zM2508 781h8v8h-8zM2573 838h8v8h-8zM2644 853h8v8h-8zM2526 857h8v8h-8zM2534 814h8v8h-8zM2521 896h8v8h-8zM2533 805h8v8h-8zM2467 851h8v8h-8zM2570 849h8v8h-8zM2492 818h8v8h-8zM2474 835h8v8h-8zM2542 829h8v8h-8zM2592 795h8v8h-8zM2540 806h8v8h-8zM2454 792h8v8h-8zM2554 831h8v8h-8zM2577 890h8v8h-8zM2513 807h8v8h-8zM2586 786h8v8h-8zM2546 834h8v8h-8zM2579 849h8v8h-8zM2589 830h8v8h-8zM2521 759h8v8h-8zM2530 856h8v8h-8zM2550 754h8v8h-8zM2561 901h8v8h-8zM2500 843h8v8h-8zM2519 911h8v8h-8zM2562 820h8v8h-8zM2582 828h8v8h-8zM2458 858h8v8h-8zM2538 798h8v8h-8zM2596 778h8v8h-8zM2622 810h8v8h-8zM2488 746h8v8h-8zM2496 823h8v8h-8zM2515 882h8v8h-8zM2545 856h8v8h-8zM2541 783h8v8h-8zM2524 824h8v8h-8zM2508 826h8v8h-8zM2507 798h8v8h-8zM2524 873h8v8h-8z" fill="#cccccc" fill-opacity="1.0"/>
<path transform="scale(0.1)" d="M2792 832h8v8h-8zM2845 807h8v8h-8zM2875 814h8v8h-8zM2793 830h8v8h-8zM2785 856h8v8h-8zM2837 792h8v8h-8zM2797 798h8v8h-8zM2828 804h8v8h-8zM2859 850h8v8h-8zM2817 805h8v8h-8zM2839 863h8v8h-8zM2702 872h8v8h-8zM2837 836h8v8h-8zM2789 804h8v8h-8zM2758 843h8v8h-8zM2789 837h8v8h-8zM2748 833h8v8h-8zM2748 805h8v8h-8zM2713 829h8v8h-8zM2769 815h8v8h-8zM2740 827h8v8h-8zM2763 847h8v8h-8zM2827 812h8v8h-8zM2797 807h8v8h-8zM2744 893h8v8h-8zM2813 851h8v8h-8zM2835 891h8v8h-8zM2796 865h8v8h-8zM2796 823h8v8h-8zM2790 853h8v8h-8zM2754 850h8v8h-8zM2836 842h8v8h-8zM2813 851h8v8h-8zM2791 837h8v8h-8zM2792 864h8v8h-8zM2788 866h8v8h-8zM2854 772h8v8h-8zM2782 852h8v8h-8zM2725 863h8v8h-8zM2799 824h8v8h-8zM2830 877h8v8h-8zM2821 846h8v8h-8zM2778 881h8v8h-8zM2728 893h8v8h-8zM2877 865h8v8h-8zM2754 833h8v8h-8zM2799 839h8v8h-8zM2787 838h8v8h-8zM2766 811h8v8h-8zM2775 834h8v8h-8zM2748 865h8v8h-8zM2756 800h8v8h-8zM2771 858h8v8h-8zM2786 805h8v8h-8zM2889 785h8v8h-8zM2751 853h8v8h-8zM2837 799h8v8h-8zM2794 865h8v8h-8zM2775 864h8v8h-8zM2734 858h8v8h-8zM2788 821h8v8h-8zM2748 845h8v8h-8zM2801 872h8v8h-8zM2804 883h8v8h-8zM2742 824h8v8h-8zM2837 772h8v8h-8zM2784 832h8v8h-8zM2792 841h8v8h-8zM2803 845h8v8h-8zM2777 863h8v8h-8zM2834 804h8v8h-8zM2858 799h8v8h-8zM2801 804h8v8h-8zM2831 849h8v8h-8zM2871 820h8v8h-8zM2823 854h8v8h-8zM2787 854h8v8h-8zM2844 849h8v8h-8zM2802 834h8v8h-8zM2789 850h8v8h-8zM2738 834h8v8h-8zM2802 849h8v8h-8zM2762 849h8v8h-8zM2806 845h8v8h-8zM2710 861h8v8h-8zM2747 856h8v8h-8zM2854 827h8v8h-8zM2865 823h8v8h-8zM2809 826h8v8h-8zM2805 790h8v8h-8zM2700 876h8v8h-8zM2812 877h8v8h-8zM2765 798h8v8h-8zM2704 907h8v8h-8zM2750 882h8v8h-8zM2748 861h8v8h-8zM2818 837h8v8h-8zM2799 841h8v8h-8zM2888 807h8v8h-8zM2852 815h8v8h-8zM2795 834h8v8h-8zM2815 850h8v8h-8zM2743 797h8v8h-8zM2828 820h8v8h-8zM2780 814h8v8h-8zM2801 820h8v8h-8zM2808 803h8v8h-8zM2796 824h8v8h-8zM2778 844h8v8h-8zM2825 809h8v8h-8zM2826 857h8v8h-8zM2692 866h8v8h-8zM2770 836h8v8h-8zM2787 873h8v8h-8zM2771 822h8v8h-8zM2801 832h8v8h-8zM2830 801h8v8h-8zM2801 793h8v8h-8zM2789 891h8v8h-8zM2838 823h8v8h-8zM2811 806h8v8h-8zM2808 838h8v8h-8zM2881 836h8v8h-8zM2842 802h8v8h-8zM2757 838h8v8h-8zM2852 873h8v8h-8zM2768 868h8v8h-8zM2807 833h8v8h-8zM2722 812h8v8h-8zM2838 876h8v8h-8zM2726 888h8v8h-8zM2814 828h8v8h-8zM2882 821h8v8h-8zM2820 861h8v8h-8zM2797 874h8v8h-8zM2754 882h8v8h-8zM2782 853h8v8h-8zM2830 830h8v8h-8zM2698 856h8v8h-8zM2748 837h8v8h-8zM2842 845h8v8h-8zM2772 885h8v8h-8zM2837 821h8v8h-8zM2816 810h8v8h-8zM2754 843h8v8h-8zM2784 865h8v8h-8zM2847 801h8v8h-8zM2777 842h8v8h-8zM2789 818h8v8h-8zM2812 805h8v8h-8zM2768 882h8v8h-8zM2779 845h8v8h-8zM2811 822h8v8h-8zM2783 843h8v8h-8zM2791 837h8v8h-8zM2818 846h8v8h-8zM2866 860h8v8h-8zM2790 823h8v8h-8zM2769 873h8v8h-8zM2915 812h8v8h-8zM2834 842h8v8h-8zM2717 820h8v8h-8zM2775 811h8v8h-8zM2728 858h8v8h-8zM2827 838h8v8h-8zM2748 839h8v8h-8zM2776 849h8v8h-8zM2864 800h8v8h-8zM2769 874h8v8h-8zM2796 888h8v8h-8zM2811 838h8v8h-8zM2838 849h8v8h-8zM2840 824h8v8h-8zM2858 852h8v8h-8zM2770 841h8v8h-8zM2815 826h8v8h-8zM2725 851h8v8h-8zM2796 821h8v8h-8zM2787 837h8v8h-8zM2868 843h8v8h-8zM2808 813h8v8h-8zM2780 860h8v8h-8zM2779 832h8v8h-8zM2757 859h8v8h-8zM2774 814h8v8h-8zM2765 811h8v8h-8zM2793 855h8v8h-8zM2769 832h8v8h-8zM2794 851h8v8h-8zM2836 881h8v8h-8zM2746 874h8v8h-8zM2761 836h8v8h-8zM2740 901h8v8h-8zM2877 805h8v8h-8zM2862 776h8v8h-8zM2814 908h8v8h-8zM2795 827h8v8h-8zM2754 873h8v8h-8zM2835 817h8v8h-8zM2797 866h8v8h-8zM2811 845h8v8h-8zM2797 918h8v8h-8zM2725 893h8v8h-8zM2772 854h8v8h-8zM2815 866h8v8h-8zM2752 856h8v8h-8zM2801 844h8v8h-8zM2779 803h8v8h-8zM2748 865h8v8h-8zM2820 788h8v8h-8zM2747 849h8v8h-8zM2741 873h8v8h-8zM2863 830h8v8h-8zM2854 852h8v8h-8zM2805 877h8v8h-8zM2842 864h8v8h-8zM2767 849h8v8h-8zM2785 844h8v8h-8zM2811 866h8v8h-8zM2812 845h8v8h-8zM2820 833h8v8h-8zM2742 828h8v8h-8zM2836 832h8v8h-8zM2751 846h8v8h-8zM2794 820h8v8h-8zM2904 835h8v8h-8zM2838 842h8v8h-8zM2777 804h8v8h-8zM2812 803h8v8h-8zM2767 864h8v8h-8zM2770 869h8v8h-8zM2764 875h8v8h-8zM2783 850h8v8h-8zM2798 840h8v8h-8zM2824 813h8v8h-8zM2888 837h8v8h-8zM2818 798h8v8h-8zM2810 781h8v8h-8zM2752 847h8v8h-8zM2852 828h8v8h-8zM2805 879h8v8h-8zM2864 804h8v8h-8zM2803 818h8v8h-8zM2869 808h8v8h-8zM2776 816h8v8h-8zM2785 863h8v8h-8zM2791 854h8v8h-8zM2788 869h8v8h-8zM2812 823h8v8h-8zM2806 844h8v8h-8zM2716 884h8v8h-8zM2750 833h8v8h-8zM2762 813h8v8h-8zM2818 771h8v8h-8zM2780 851h8v8h-8zM2822 828h8v8h-8zM2821 780h8v8h-8zM2803 838h8v8h-8zM2712 884h8v8h-8zM2875 876h8v8h-8zM2816 814h8v8h-8zM2777 863h8v8h-8zM2813 845h8v8h-8zM2781 862h8v8h-8zM2804 842h8v8h-8zM2768 790h8v8h-8zM2888 867h8v8h-8zM2791 859h8v8h-8zM2821 831h8v8h-8zM2776 841h8v8h-8zM2838 833h8v8h-8zM2864 845h8v8h-8zM2815 854h8v8h-8zM2774 788h8v8h-8zM2817 825h8v8h-8zM2801 822h8v8h-8zM2842 842h8v8h-8zM2819 818h8v8h-8zM2822 829h8v8h-8zM2800 783h8v8h-8zM2797 818h8v8h-8zM2808 812h8v8h-8zM2858 852h8v8h-8zM2804 858h8v8h-8zM2829 868h8v8h-8zM2785 811h8v8h-8zM2790 836h8v8h-8zM2753 852h8v8h-8zM2793 878h8v8h-8zM2773 859h8v8h-8zM2708 881h8v8h-8zM2760 859h8v8h-8zM2735 901h8v8h-8zM2783 856h8v8h-8zM2778 845h8v8h-8zM2845 849h8v8h-8zM2799 873h8v8h-8zM2770 876h8v8h-8zM2776 813h8v8h-8zM2776 838h8v8h-8zM2774 820h8v8h-8zM2813 827h8v8h-8zM2771 807h8v8h-8zM2804 898h8v8h-8zM2834 835h8v8h-8zM2773 822h8v8h-8zM2794 822h8v8h-8zM2862 840h8v8h-8zM2816 810h8v8h-8zM2781 834h8v8h-8zM2820 848h8v8h-8zM2785 858h8v8h-8zM2762 844h8v8h-8zM2829 817h8v8h-8zM2757 922h8v8h-8zM2767 828h8v8h-8zM2787 837h8v8h-8zM2827 818h8v8h-8zM2819 889h8v8h-8zM2768 816h8v8h-8zM2792 841h8v8h-8zM2779 778h8v8h-8zM2826 816h8v8h-8zM2805 865h8v8h-8zM2765 830h8v8h-8zM2826 798h8v8h-8zM2740 819h8v8h-8zM2778 856h8v8h-8zM2716 879h8v8h-8zM2830 835h8v8h-8zM2786 810h8v8h-8zM2816 839h8v8h-8zM2900 820h8v8h-8zM2804 839h8v8h-8zM2802 871h8v8h-8zM2771 836h8v8h-8zM2803 803h8v8h-8zM2775 909h8v8h-8zM2815 793h8v8h-8zM2812 835h8v8h-8zM2803 848h8v8h-8zM2783 806h8v8h-8zM2785 908h8v8h-8zM2789 880h8v8h-8zM2784 831h8v8h-8zM2811 813h8v8h-8zM2762 866h8v8h-8zM2779 907h8v8h-8zM2804 882h8v8h-8zM2856 827h8v8h-8zM2801 867h8v8h-8zM2781 854h8v8h-8zM2779 850h8v8h-8zM2847 857h8v8h-8zM2763 846h8v8h-8zM2765 840h8v8h-8zM2781 875h8v8h-8zM2756 847h8v8h-8zM2774 853h8v8h-8zM2803 848h8v8h-8zM2779 831h8v8h-8zM2714 888h8v8h-8zM2805 844h8v8h-8zM2823 805h8v8h-8zM2770 846h8v8h-8zM2864 781h8v8h-8zM2800 866h8v8h-8zM2804 788h8v8h-8zM2740 851h8v8h-8zM2888 808h8v8h-8zM2874 842h8v8h-8zM2844 839h8v8h-8zM2862 838h8v8h-8zM2766 888h8v8h-8zM2771 812h8v8h-8zM2810 839h8v8h-8zM2795 800h8v8h-8zM2749 883h8v8h-8zM2801 871h8v8h-8zM2827 880h8v8h-8zM2784 872h8v8h-8zM2852 848h8v8h-8zM2808 818h8v8h-8zM2777 812h8v8h-8zM2761 882h8v8h-8zM2750 864h8v8h-8zM2829 799h8v8h-8zM2739 880h8v8h-8zM2820 821h8v8h-8zM2819 832h8v8h-8zM2744 863h8v8h-8zM2820 813h8v8h-8zM2800 874h8v8h-8zM2869 860h8v8h-8zM2815 825h8v8h-8zM2792 809h8v8h-8zM2820 849h8v8h-8zM2850 853h8v8h-8zM2765 919h8v8h-8zM2768 824h8v8h-8zM2833 864h8v8h-8zM2880 829h8v8h-8zM2747 857h8v8h-8zM2861 799h8v8h-8zM2820 841h8v8h-8zM2833 884h8v8h-8zM2825 839h8v8h-8zM2785 796h8v8h-8zM2777 848h8v8h-8zM2889 799h8v8h-8zM2749 839h8v8h-8zM2805 848h8v8h-8zM2860 803h8v8h-8zM2796 834h8v8h-8zM2830 889h8v8h-8zM2803 871h8v8h-8zM2770 828h8v8h-8zM2822 773h8v8h-8zM2801 830h8v8h-8zM2775 831h8v8h-8zM2827 819h8v8h-8zM2786 836h8v8h-8zM2809 812h8v8h-8zM2779 878h8v8h-8zM2858 817h8v8h-8zM2836 837h8v8h-8zM2811 890h8v8h-8zM2793 833h8v8h-8zM2790 811h8v8h-8zM2792 802h8v8h-8zM2763 857h8v8h-8zM2858 830h8v8h-8zM2764 891h8v8h-8zM2834 795h8v8h-8zM2833 816h8v8h-8zM2788 833h8v8h-8zM2793 851h8v8h-8zM2745 825h8v8h-8zM2789 796h8v8h-8zM2773 886h8v8h-8zM2832 784h8v8h-8zM2770 819h8v8h-8zM2772 782h8v8h-8zM2822 869h8v8h-8zM2726 798h8v8h-8zM2769 867h8v8h-8zM2842 865h8v8h-8zM2789 795h8v8h-8zM2828 881h8v8h-8zM2677 867h8v8h-8zM2767 815h8v8h-8zM2787 902h8v8h-8zM2737 861h8v8h-8zM2828 856h8v8h-8zM2735 866h8v8h-8zM2769 839h8v8h-8zM2805 844h8v8h-8zM2796 844h8v8h-8zM2781 823h8v8h-8zM2754 812h8v8h-8zM2797 858h8v8h-8zM2759 837h8v8h-8zM2846 801h8v8h-8zM2779 832h8v8h-8zM2752 829h8v8h-8zM2833 875h8v8h-8zM2860 842h8v8h-8zM2807 793h8v8h-8zM2770 845h8v8h-8zM2730 839h8v8h-8zM2765 827h8v8h-8zM2825 857h8v8h-8zM2814 829h8v8h-8zM2719 814h8v8h-8zM2800 843h8v8h-8zM2723 826h8v8h-8zM2815 844h8v8h-8zM2857 806h8v8h-8zM2780 897h8v8h-8zM2832 881h8v8h-8zM2770 839h8v8h-8zM2782 890h8v8h-8zM2822 824h8v8h-8zM2828 834h8v8h-8zM2773 895h8v8h-8zM2841 822h8v8h-8zM2790 865h8v8h-8zM2813 882h8v8h-8zM2815 840h8v8h-8zM2784 860h8v8h-8zM2822 840h8v8h-8zM2800 846h8v8h-8zM2762 862h8v8h-8zM2756 878h8v8h-8zM2793 822h8v8h-8zM2781 809h8v8h-8zM2820 817h8v8h-8zM2806 803h8v8h-8zM2856 805h8v8h-8zM2774 895h8v8h-8zM2816 824h8v8h-8zM2816 828h8v8h-8zM2797 848h8v8h-8zM2827 828h8v8h-8zM2733 816h8v8h-8zM2782 848h8v8h-8zM2872 818h8v8h-8zM2821 893h8v8h-8zM2799 875h8v8h-8zM2839 817h8v8h-8zM2791 863h8v8h-8zM2753 826h8v8h-8zM2804 858h8v8h-8zM2831 765h8v8h-8zM2783 818h8v8h-8zM2859 843h8v8h-8zM2806 848h8v8h-8zM2794 849h8v8h-8zM2772 855h8v8h-8zM2878 864h8v8h-8zM2889 883h8v8h-8zM2749 834h8v8h-8zM2794 879h8v8h-8zM2766 865h8v8h-8zM2842 823h8v8h-8zM2793 843h8v8h-8zM2834 883h8v8h-8zM2791 846h8v8h-8zM2758 837h8v8h-8zM2858 824h8v8h-8zM2803 826h8v8h-8zM2789 786h8v8h-8zM2762 799h8v8h-8zM2809 831h8v8h-8zM2844 836h8v8h-8zM2785 896h8v8h-8zM2888 830h8v8h-8zM2864 858h8v8h-8zM2805 827h8v8h-8zM2823 832h8v8h-8zM2784 887h8v8h-8zM2821 810h8v8h-8zM2754 847h8v8h-8zM2757 904h8v8h-8zM2894 800h8v8h-8zM2808 791h8v8h-8zM2833 820h8v8h-8zM2767 858h8v8h-8zM2817 846h8v8h-8zM2793 851h8v8h-8zM2714 907h8v8h-8zM2786 838h8v8h-8zM2797 861h8v8h-8zM2792 815h8v8h-8zM2840 813h8v8h-8zM2820 846h8v8h-8zM2740 846h8v8h-8zM2767 845h8v8h-8zM2789 808h8v8h-8zM2797 850h8v8h-8zM2794 861h8v8h-8zM2739 839h8v8h-8zM2802 867h8v8h-8zM2781 879h8v8h-8zM2706 755h8v8h-8zM2701 866h8v8h-8zM2731 881h8v8h-8zM2757 876h8v8h-8zM2738 831h8v8h-8zM2751 808h8v8h-8zM2736 827h8v8h-8zM2770 851h8v8h-8zM2813 870h8v8h-8zM2809 832h8v8h-8zM2724 869h8v8h-8zM2826 854h8v8h-8zM2849 806h8v8h-8zM2763 863h8v8h-8zM2864 843h8v8h-8zM2795 845h8v8h-8zM2747 860h8v8h-8zM2853 817h8v8h-8zM2787 868h8v8h-8zM2774 823h8v8h-8zM2870 862h8v8h-8zM2853 848h8v8h-8zM2782 840h8v8h-8zM2767 827h8v8h-8zM2793 854h8v8h-8zM2802 816h8v8h-8zM2829 815h8v8h-8zM2693 813h8v8h-8zM2808 830h8v8h-8zM2804 861h8v8h-8zM2781 827h8v8h-8zM2802 834h8v8h-8zM2822 803h8v8h-8zM2732 838h8v8h-8zM2740 836h8v8h-8zM2787 877h8v8h-8zM2783 858h8v8h-8zM2789 824h8v8h-8zM2807 861h8v8h-8zM2876 855h8v8h-8zM2775 809h8v8h-8zM2802 849h8v8h-8zM2827 848h8v8h-8zM2778 845h8v8h-8zM2775 812h8v8h-8zM2804 855h8v8h-8zM2809 818h8v8h-8zM2760 847h8v8h-8zM2812 844h8v8h-8zM2807 836h8v8h-8zM2803 849h8v8h-8zM2829 842h8v8h-8zM2735 878h8v8h-8zM2823 823h8v8h-8zM2770 840h8v8h-8zM2787 848h8v8h-8zM2779 909h8v8h-8zM2750 908h8v8h-8zM2807 797h8v8h-8zM2870 844h8v8h-8zM2799 926h8v8h-8zM2841 835h8v8h-8zM2760 887h8v8h-8zM2763 867h8v8h-8zM2790 799h8v8h-8zM2768 840h8v8h-8zM2762 831h8v8h-8zM2820 855h8v8h-8zM2811 897h8v8h-8zM2825 797h8v8h-8zM2796 816h8v8h-8zM2784 841h8v8h-8zM2775 839h8v8h-8zM2834 855h8v8h-8zM2789 855h8v8h-8zM2839 815h8v8h-8zM2833 815h8v8h-8zM2880 854h8v8h-8zM2780 879h8v8h-8zM2851 823h8v8h-8zM2752 871h8v8h-8zM2850 842h8v8h-8zM2826 839h8v8h-8zM2849 814h8v8h-8zM2725 837h8v8h-8zM2861 853h8v8h-8zM2790 873h8v8h-8zM2787 858h8v8h-8zM2735 846h8v8h-8zM2765 805h8v8h-8zM2845 831h8v8h-8zM2864 798h8v8h-8zM2817 823h8v8h-8zM2770 886h8v8h-8zM2821 780h8v8h-8zM2735 818h8v8h-8zM2785 850h8v8h-8zM2768 817h8v8h-8zM2839 825h8v8h-8zM2733 880h8v8h-8zM2778 856h8v8h-8zM2810 873h8v8h-8zM2819 855h8v8h-8zM2742 822h8v8h-8zM2772 869h8v8h-8zM2709 840h8v8h-8zM2828 834h8v8h-8zM2775 879h8v8h-8zM2777 843h8v8h-8zM2769 805h8v8h-8zM2855 844h8v8h-8zM2790 797h8v8h-8zM2757 783h8v8h-8zM2834 831h8v8h-8zM2818 819h8v8h-8zM2791 859h8v8h-8zM2757 843h8v8h-8zM2795 869h8v8h-8zM2814 880h8v8h-8zM2788 794h8v8h-8zM2790 868h8v8h-8zM2831 832h8v8h-8zM2761 868h8v8h-8zM2823 825h8v8h-8zM2779 827h8v8h-8zM2746 791h8v8h-8zM2828 833h8v8h-8zM2825 786h8v8h-8zM2765 822h8v8h-8zM2765 892h8v8h-8zM2842 864h8v8h-8zM2802 844h8v8h-8zM2725 914h8v8h-8zM2763 870h8v8h-8zM2811 838h8v8h-8zM2775 815h8v8h-8zM2834 872h8v8h-8zM2781 883h8v8h-8zM2819 938h8v8h-8zM2800 852h8v8h-8zM2812 813h8v8h-8zM2803 851h8v8h-8zM2799 798h8v8h-8zM2750 838h8v8h-8zM2845 848h8v8h-8zM2779 840h8v8h-8zM2754 835h8v8h-8zM2859 829h8v8h-8zM2774 877h8v8h-8zM2855 817h8v8h-8zM2714 832h8v8h-8zM2812 824h8v8h-8zM2799 823h8v8h-8zM2768 854h8v8h-8zM2843 757h8v8h-8zM2758 838h8v8h-8zM2802 824h8v8h-8zM2778 847h8v8h-8zM2832 859h8v8h-8zM2755 856h8v8h-8zM2805 836h8v8h-8zM2802 816h8v8h-8zM2716 864h8v8h-8zM2920 830h8v8h-8zM2807 821h8v8h-8zM2815 829h8v8h-8zM2829 838h8v8h-8zM2783 820h8v8h-8zM2777 808h8v8h-8zM2709 886h8v8h-8zM2775 827h8v8h-8zM2793 828h8v8h-8zM2818 874h8v8h-8zM2800 860h8v8h-8zM2806 840h8v8h-8zM2803 816h8v8h-8zM2811 804h8v8h-8zM2811 828h8v8h-8zM2803 780h8v8h-8zM2831 828h8v8h-8zM2735 853h8v8h-8zM2781 822h8v8h-8zM2825 795h8v8h-8zM2794 891h8v8h-8zM2760 817h8v8h-8zM2786 822h8v8h-8zM2790 852h8v8h-8zM2801 870h8v8h-8zM2876 840h8v8h-8zM2853 815h8v8h-8zM2779 849h8v8h-8zM2805 881h8v8h-8zM2876 825h8v8h-8zM2780 848h8v8h-8zM2828 860h8v8h-8zM2786 824h8v8h-8zM2759 850h8v8h-8zM2789 813h8v8h-8zM2800 833h8v8h-8zM2847 797h8v8h-8zM2767 831h8v8h-8zM2852 838h8v8h-8zM2790 841h8v8h-8zM2791 848h8v8h-8zM2758 838h8v8h-8zM2715 818h8v8h-8zM2799 804h8v8h-8zM2766 863h8v8h-8zM2799 855h8v8h-8zM2785 834h8v8h-8zM2713 851h8v8h-8zM2772 907h8v8h-8zM2791 892h8v8h-8zM2792 847h8v8h-8zM2798 822h8v8h-8zM2792 868h8v8h-8zM2759 853h8v8h-8zM2790 833h8v8h-8zM2771 828h8v8h-8zM2792 882h8v8h-8zM2795 863h8v8h-8zM2791 863h8v8h-8zM2870 832h8v8h-8zM2750 865h8v8h-8zM2722 865h8v8h-8zM2813 766h8v8h-8zM2771 863h8v8h-8zM2803 861h8v8h-8zM2785 829h8v8h-8zM2806 855h8v8h-8zM2775 819h8v8h-8zM2773 824h8v8h-8zM2871 752h8v8h-8zM2843 901h8v8h-8zM2753 864h8v8h-8zM2780 849h8v8h-8zM2843 805h8v8h-8zM2800 812h8v8h-8zM2750 844h8v8h-8zM2811 852h8v8h-8zM2827 842h8v8h-8zM2784 821h8v8h-8zM2805 875h8v8h-8zM2774 877h8v8h-8zM2847 830h8v8h-8zM2876 905h8v8h-8zM2801 867h8v8h-8zM2774 817h8v8h-8zM2827 822h8v8h-8zM2804 798h8v8h-8zM2801 845h8v8h-8zM2760 816h8v8h-8zM2769 890h8v8h-8zM2758 874h8v8h-8zM2767 875h8v8h-8zM2789 869h8v8h-8zM2774 809h8v8h-8zM2868 774h8v8h-8zM2791 832h8v8h-8zM2779 861h8v8h-8zM2799 840h8v8h-8zM2836 855h8v8h-8zM2841 818h8v8h-8zM2754 841h8v8h-8zM2758 783h8v8h-8zM2757 843h8v8h-8zM2788 820h8v8h-8zM2796 890h8v8h-8zM2860 840h8v8h-8zM2854 864h8v8h-8zM2765 795h8v8h-8zM2701 812h8v8h-8zM2736 810h8v8h-8zM2761 831h8v8h-8zM2791 830h8v8h-8zM2817 805h8v8h-8zM2745 850h8v8h-8zM2827 791h8v8h-8zM2829 825h8v8h-8zM2700 860h8v8h-8zM2739 838h8v8h-8zM2861 800h8v8h-8zM2780 858h8v8h-8zM2792 825h8v8h-8zM2939 809h8v8h-8zM2803 837h8v8h-8zM2786 832h8v8h-8zM2703 858h8v8h-8zM2788 788h8v8h-8zM2808 837h8v8h-8zM2759 801h8v8h-8zM2853 811h8v8h-8zM2756 905h8v8h-8zM2846 849h8v8h-8zM2808 847h8v8h-8zM2771 863h8v8h-8zM2818 820h8v8h-8zM2853 820h8v8h-8zM2822 820h8v8h-8zM2739 875h8v8h-8zM2826 776h8v8h-8zM2781 860h8v8h-8zM2825 804h8v8h-8zM2828 834h8v8h-8zM2788 830h8v8h-8zM2832 804h8v8h-8zM2767 813h8v8h-8zM2840 782h8v8h-8zM2775 865h8v8h-8zM2822 842h8v8h-8zM2804 833h8v8h-8zM2770 836h8v8h-8zM2848 868h8v8h-8zM2736 824h8v8h-8zM2831 802h8v8h-8zM2780 836h8v8h-8zM2794 835h8v8h-8zM2795 841h8v8h-8zM2766 853h8v8h-8zM2811 787h8v8h-8zM2749 848h8v8h-8zM2683 888h8v8h-8zM2792 895h8v8h-8zM2736 871h8v8h-8zM2837 798h8v8h-8zM2789 844h8v8h-8zM2794 829h8v8h-8zM2747 910h8v8h-8zM2830 790h8v8h-8zM2763 845h8v8h-8zM2747 900h8v8h-8zM2737 801h8v8h-8zM2763 838h8v8h-8zM2839 787h8v8h-8zM2818 841h8v8h-8zM2793 851h8v8h-8zM2772 832h8v8h-8zM2786 818h8v8h-8zM2849 862h8v8h-8zM2809 792h8v8h-8zM2803 853h8v8h-8zM2856 808h8v8h-8zM2787 856h8v8h-8zM2799 850h8v8h-8zM2731 812h8v8h-8zM2768 847h8v8h-8zM2772 805h8v8h-8zM2789 895h8v8h-8zM2808 826h8v8h-8zM2767 857h8v8h-8zM2807 857h8v8h-8zM2827 884h8v8h-8zM2772 804h8v8h-8zM2795 856h8v8h-8zM2810 817h8v8h-8zM2736 845h8v8h-8zM2838 845h8v8h-8zM2772 867h8v8h-8zM2796 827h8v8h-8zM2726 835h8v8h-8zM2813 800h8v8h-8zM2812 896h8v8h-8zM2788 819h8v8h-8zM2759 950h8v8h-8zM2812 831h8v8h-8zM2734 873h8v8h-8zM2824 817h8v8h-8zM2823 833h8v8h-8zM2823 845h8v8h-8zM2842 839h8v8h-8zM2787 836h8v8h-8zM2806 829h8v8h-8zM2824 839h8v8h-8zM2816 833h8v8h-8zM2759 876h8v8h-8zM2787 863h8v8h-8zM2775 808h8v8h-8zM2805 840h8v8h-8zM2801 840h8v8h-8zM2835 846h8v8h-8zM2828 805h8v8h-8zM2842 846h8v8h-8zM2780 837h8v8h-8zM2853 829h8v8h-8zM2830 833h8v8h-8zM2921 820h8v8h-8zM2819 865h8v8h-8zM2709 852h8v8h-8zM2865 837h8v8h-8zM2753 857h8v8h-8zM2798 869h8v8h-8zM2787 794h8v8h-8zM2790 802h8v8h-8zM2862 834h8v8h-8zM2829 857h8v8h-8zM2816 802h8v8h-8zM2782 862h8v8h-8zM2788 822h8v8h-8zM2805 848h8v8h-8zM2813 823h8v8h-8zM2793 835h8v8h-8zM2726 870h8v8h-8zM2811 889h8v8h-8zM2798 830h8v8h-8zM2764 798h8v8h-8zM2819 846h8v8h-8zM2829 850h8v8h-8zM2788 838h8v8h-8zM2899 840h8v8h-8zM2761 827h8v8h-8zM2794 831h8v8h-8zM2807 858h8v8h-8zM2804 833h8v8h-8zM2843 873h8v8h-8zM2771 871h8v8h-8zM2758 814h8v8h-8zM2870 802h8v8h-8zM2794 851h8v8h-8zM2816 851h8v8h-8zM2825 801h8v8h-8zM2837 807h8v8h-8zM2819 844h8v8h-8zM2758 839h8v8h-8zM2785 838h8v8h-8zM2799 876h8v8h-8zM2822 867h8v8h-8zM2856 843h8v8h-8zM2758 847h8v8h-8zM2811 828h8v8h-8zM2803 850h8v8h-8zM2808 768h8v8h-8zM2715 835h8v8h-8zM2746 848h8v8h-8z" fill="#ff0000" fill-opacity="1.0"/>
<path transform="scale(0.1)" d="M2777 800h8v8h-8zM2889 834h8v8h-8zM2889 790h8v8h-8zM2822 827h8v8h-8zM2815 820h8v8h-8zM2792 830h8v8h-8zM2827 884h8v8h-8zM2850 762h8v8h-8zM2800 897h8v8h-8zM2870 812h8v8h-8zM2811 826h8v8h-8zM2838 764h8v8h-8zM2704 884h8v8h-8zM2898 812h8v8h-8zM2779 824h8v8h-8zM2843 816h8v8h-8zM2754 908h8v8h-8zM2907 821h8v8h-8zM2783 843h8v8h-8zM2704 819h8v8h-8zM2748 808h8v8h-8zM2801 816h8v8h-8zM2740 862h8v8h-8zM2837 812h8v8h-8zM2796 888h8v8h-8zM2682 836h8v8h-8zM2736 856h8v8h-8zM2759 806h8v8h-8zM2793 803h8v8h-8zM2793 850h8v8h-8zM2764 863h8v8h-8zM2735 825h8v8h-8zM2768 905h8v8h-8zM2839 798h8v8h-8zM2776 813h8v8h-8zM2755 846h8v8h-8zM2778 829h8v8h-8zM2877 872h8v8h-8zM2810 807h8v8h-8zM2684 780h8v8h-8zM2846 811h8v8h-8zM2832 880h8v8h-8zM2788 871h8v8h-8zM2743 772h8v8h-8zM2804 837h8v8h-8zM2840 846h8v8h-8zM2761 866h8v8h-8zM2786 781h8v8h-8zM2850 828h8v8h-8zM2810 878h8v8h-8zM2780 861h8v8h-8zM2742 798h8v8h-8zM2832 780h8v8h-8zM2760 876h8v8h-8zM2808 874h8v8h-8zM2772 858h8v8h-8zM2844 850h8v8h-8zM2777 842h8v8h-8zM2884 871h8v8h-8zM2733 817h8v8h-8zM2800 848h8v8h-8zM2746 835h8v8h-8zM2799 808h8v8h-8zM2825 925h8v8h-8zM2769 827h8v8h-8zM2863 825h8v8h-8zM2832 812h8v8h-8zM2838 811h8v8h-8zM2778 861h8v8h-8zM2789 832h8v8h-8zM2803 865h8v8h-8zM2797 799h8v8h-8zM2716 875h8v8h-8zM2726 889h8v8h-8zM2817 863h8v8h-8zM2755 837h8v8h-8zM2817 863h8v8h-8zM2798 857h8v8h-8zM2836 869h8v8h-8zM2787 825h8v8h-8zM2745 913h8v8h-8zM2832 841h8v8h-8zM2829 903h8v8h-8zM2781 812h8v8h-8zM2769 850h8v8h-8zM2849 870h8v8h-8zM2723 831h8v8h-8zM2777 945h8v8h-8zM2786 865h8v8h-8zM2782 834h8v8h-8zM2797 797h8v8h-8zM2814 824h8v8h-8zM2739 844h8v8h-8zM2756 780h8v8h-8zM2812 852h8v8h-8zM2808 860h8v8h-8zM2787 893h8v8h-8zM2750 829h8v8h-8zM2800 830h8v8h-8zM2795 815h8v8h-8zM2844 842h8v8h-8zM2791 824h8v8h-8zM2806 859h8v8h-8zM2869 852h8v8h-8zM2902 764h8v8h-8zM2791 863h8v8h-8zM2809 821h8v8h-8zM2871 842h8v8h-8zM2698 820h8v8h-8zM2836 824h8v8h-8zM2818 850h8v8h-8zM2827 830h8v8h-8zM2755 890h8v8h-8zM2812 838h8v8h-8zM2753 827h8v8h-8zM2728 838h8v8h-8zM2840 820h8v8h-8zM2831 875h8v8h-8zM2764 854h8v8h-8zM2814 883h8v8h-8zM2693 891h8v8h-8zM2814 835h8v8h-8zM2870 896h8v8h-8zM2822 791h8v8h-8zM2786 848h8v8h-8zM2749 796h8v8h-8zM2761 782h8v8h-8zM2722 793h8v8h-8zM2749 934h8v8h-8zM2814 817h8v8h-8zM2803 810h8v8h-8zM2749 878h8v8h-8zM2794 826h8v8h-8zM2887 785h8v8h-8zM2822 770h8v8h-8zM2818 807h8v8h-8zM2818 854h8v8h-8zM2779 812h8v8h-8zM2766 874h8v8h-8zM2735 849h8v8h-8zM2903 825h8v8h-8zM2787 833h8v8h-8zM2730 859h8v8h-8zM2795 863h8v8h-8zM2861 751h8v8h-8zM2733 821h8v8h-8zM2715 811h8v8h-8zM2723 826h8v8h-8zM2810 841h8v8h-8zM2812 758h8v8h-8zM2874 828h8v8h-8zM2769 829h8v8h-8zM2778 766h8v8h-8zM2784 825h8v8h-8zM2801 872h8v8h-8zM2843 854h8v8h-8zM2783 870h8v8h-8zM2716 830h8v8h-8zM2770 809h8v8h-8zM2736 851h8v8h-8zM2799 835h8v8h-8zM2830 906h8v8h-8zM2783 830h8v8h-8zM2844 778h8v8h-8zM2839 808h8v8h-8zM2757 885h8v8h-8zM2738 798h8v8h-8zM2893 852h8v8h-8zM2808 853h8v8h-8zM2899 872h8v8h-8zM2789 905h8v8h-8zM2757 890h8v8h-8zM2813 783h8v8h-8zM2755 856h8v8h-8zM2770 801h8v8h-8zM2779 799h8v8h-8zM2875 875h8v8h-8zM2767 788h8v8h-8zM2893 797h8v8h-8zM2765 799h8v8h-8zM2781 876h8v8h-8zM2836 910h8v8h-8zM2875 879h8v8h-8zM2764 920h8v8h-8zM2788 887h8v8h-8zM2783 905h8v8h-8zM2861 790h8v8h-8zM2760 848h8v8h-8zM2785 860h8v8h-8zM2928 826h8v8h-8zM2895 822h8v8h-8zM2833 846h8v8h-8zM2809 797h8v8h-8zM2803 821h8v8h-8zM2777 850h8v8h-8zM2751 810h8v8h-8zM2778 836h8v8h-8zM2843 849h8v8h-8zM2839 862h8v8h-8zM2890 778h8v8h-8zM2799 869h8v8h-8zM2753 837h8v8h-8zM2828 804h8v8h-8zM2863 873h8v8h-8zM2701 858h8v8h-8zM2796 801h8v8h-8zM2847 864h8v8h-8zM2784 825h8v8h-8zM2694 835h8v8h-8zM2857 860h8v8h-8zM2768 894h8v8h-8zM2845 813h8v8h-8zM2753 871h8v8h-8zM2899 806h8v8h-8zM2828 775h8v8h-8zM2789 806h8v8h-8zM2715 832h8v8h-8zM2846 887h8v8h-8zM2801 809h8v8h-8zM2880 799h8v8h-8zM2726 841h8v8h-8zM2877 753h8v8h-8zM2835 851h8v8h-8zM2774 834h8v8h-8zM2848 856h8v8h-8zM2799 912h8v8h-8zM2739 822h8v8h-8zM2824 820h8v8h-8zM2914 807h8v8h-8zM2706 886h8v8h-8zM2822 852h8v8h-8zM2822 849h8v8h-8zM2804 830h8v8h-8zM2885 849h8v8h-8zM2820 832h8v8h-8zM2864 806h8v8h-8zM2815 826h8v8h-8zM2848 788h8v8h-8zM2851 888h8v8h-8zM2796 831h8v8h-8zM2780 817h8v8h-8zM2812 873h8v8h-8zM2849 793h8v8h-8zM2791 850h8v8h-8zM2773 871h8v8h-8zM2844 850h8v8h-8zM2847 790h8v8h-8zM2739 886h8v8h-8zM2780 875h8v8h-8zM2798 842h8v8h-8zM2820 878h8v8h-8zM2738 786h8v8h-8zM2694 798h8v8h-8zM2815 804h8v8h-8zM2770 868h8v8h-8zM2777 836h8v8h-8zM2782 907h8v8h-8zM2801 869h8v8h-8zM2784 840h8v8h-8zM2730 894h8v8h-8zM2792 834h8v8h-8zM2755 797h8v8h-8zM2838 808h8v8h-8zM2770 820h8v8h-8zM2767 804h8v8h-8zM2732 797h8v8h-8zM2743 890h8v8h-8zM2806 838h8v8h-8zM2801 776h8v8h-8zM2831 803h8v8h-8zM2775 837h8v8h-8zM2824 899h8v8h-8zM2745 852h8v8h-8zM2846 793h8v8h-8zM2815 861h8v8h-8zM2810 761h8v8h-8zM2701 916h8v8h-8zM2908 820h8v8h-8zM2733 846h8v8h-8zM2777 861h8v8h-8zM2814 793h8v8h-8zM2712 817h8v8h-8zM2830 836h8v8h-8zM2830 851h8v8h-8zM2823 812h8v8h-8zM2713 870h8v8h-8zM2858 791h8v8h-8zM2879 808h8v8h-8zM2836 801h8v8h-8zM2867 770h8v8h-8zM2796 906h8v8h-8zM2820 886h8v8h-8zM2795 836h8v8h-8zM2844 801h8v8h-8zM2742 822h8v8h-8zM2898 867h8v8h-8zM2742 838h8v8h-8z" fill="#ff7070" fill-opacity="1.0"/>
<path transform="scale(0.1)" d="M2846 840h8v8h-8zM2768 841h8v8h-8zM2827 846h8v8h-8zM2799 838h8v8h-8zM2812 869h8v8h-8zM2751 811h8v8h-8zM2761 857h8v8h-8zM2797 855h8v8h-8zM2827 854h8v8h-8zM2790 824h8v8h-8zM2794 819h8v8h-8zM2805 790h8v8h-8zM2801 828h8v8h-8zM2799 821h8v8h-8zM2798 860h8v8h-8zM2790 854h8v8h-8zM2785 864h8v8h-8zM2783 818h8v8h-8zM2799 865h8v8h-8zM2774 809h8v8h-8zM2839 810h8v8h-8zM2805 851h8v8h-8zM2766 803h8v8h-8zM2856 811h8v8h-8zM2794 862h8v8h-8zM2738 837h8v8h-8zM2752 852h8v8h-8zM2804 872h8v8h-8zM2770 859h8v8h-8zM2820 798h8v8h-8zM2769 854h8v8h-8zM2818 847h8v8h-8zM2763 845h8v8h-8zM2840 814h8v8h-8zM2816 898h8v8h-8zM2798 890h8v8h-8zM2804 850h8v8h-8zM2810 812h8v8h-8zM2816 846h8v8h-8zM2750 809h8v8h-8zM2798 844h8v8h-8zM2807 833h8v8h-8zM2818 867h8v8h-8zM2820 800h8v8h-8zM2760 846h8v8h-8zM2813 788h8v8h-8zM2769 878h8v8h-8zM2803 839h8v8h-8zM2777 809h8v8h-8zM2828 819h8v8h-8zM2793 844h8v8h-8zM2799 843h8v8h-8zM2758 860h8v8h-8zM2790 841h8v8h-8zM2825 801h8v8h-8zM2823 866h8v8h-8zM2775 900h8v8h-8zM2813 852h8v8h-8zM2777 862h8v8h-8zM2764 842h8v8h-8zM2817 857h8v8h-8zM2840 848h8v8h-8zM2797 920h8v8h-8zM2763 824h8v8h-8zM2848 813h8v8h-8zM2801 853h8v8h-8zM2794 858h8v8h-8zM2824 790h8v8h-8zM2792 815h8v8h-8zM2745 866h8v8h-8zM2781 841h8v8h-8zM2796 876h8v8h-8zM2825 859h8v8h-8zM2787 840h8v8h-8zM2786 911h8v8h-8zM2774 830h8v8h-8zM2770 834h8v8h-8zM2798 817h8v8h-8zM2808 864h8v8h-8zM2771 912h8v8h-8zM2815 858h8v8h-8zM2771 890h8v8h-8zM2825 808h8v8h-8zM2750 889h8v8h-8zM2733 884h8v8h-8zM2773 874h8v8h-8zM2840 838h8v8h-8zM2800 860h8v8h-8zM2843 831h8v8h-8zM2785 864h8v8h-8zM2789 847h8v8h-8zM2787 827h8v8h-8zM2818 838h8v8h-8zM2829 821h8v8h-8zM2860 879h8v8h-8zM2778 814h8v8h-8zM2854 825h8v8h-8zM2792 864h8v8h-8zM2800 843h8v8h-8zM2788 868h8v8h-8zM2764 839h8v8h-8zM2827 855h8v8h-8zM2787 861h8v8h-8zM2800 862h8v8h-8zM2792 875h8v8h-8zM2735 898h8v8h-8zM2826 841h8v8h-8zM2783 843h8v8h-8zM2804 850h8v8h-8zM2817 846h8v8h-8zM2786 825h8v8h-8zM2797 821h8v8h-8zM2803 812h8v8h-8zM2839 812h8v8h-8zM2809 814h8v8h-8zM2794 869h8v8h-8zM2797 861h8v8h-8zM2824 856h8v8h-8zM2813 818h8v8h-8zM2863 856h8v8h-8zM2789 841h8v8h-8zM2748 881h8v8h-8zM2765 841h8v8h-8zM2800 833h8v8h-8zM2790 836h8v8h-8zM2829 813h8v8h-8zM2763 878h8v8h-8zM2799 826h8v8h-8zM2822 831h8v8h-8zM2756 881h8v8h-8zM2825 797h8v8h-8zM2810 841h8v8h-8zM2793 835h8v8h-8zM2784 876h8v8h-8zM2792 839h8v8h-8zM2848 887h8v8h-8zM2806 833h8v8h-8zM2860 802h8v8h-8zM2787 880h8v8h-8zM2759 794h8v8h-8zM2798 853h8v8h-8zM2821 819h8v8h-8zM2793 878h8v8h-8zM2860 848h8v8h-8zM2810 817h8v8h-8zM2776 862h8v8h-8zM2810 836h8v8h-8zM2764 851h8v8h-8zM2798 842h8v8h-8zM2789 861h8v8h-8zM2781 874h8v8h-8zM2827 854h8v8h-8zM2776 871h8v8h-8zM2770 890h8v8h-8zM2768 824h8v8h-8zM2823 837h8v8h-8zM2778 894h8v8h-8zM2794 869h8v8h-8zM2836 868h8v8h-8zM2826 804h8v8h-8zM2771 848h8v8h-8zM2786 802h8v8h-8zM2776 855h8v8h-8zM2815 852h8v8h-8zM2753 830h8v8h-8zM2745 859h8v8h-8zM2786 883h8v8h-8zM2711 853h8v8h-8zM2802 839h8v8h-8zM2807 828h8v8h-8zM2787 825h8v8h-8zM2740 824h8v8h-8zM2834 874h8v8h-8zM2791 847h8v8h-8zM2777 844h8v8h-8zM2732 825h8v8h-8zM2827 827h8v8h-8zM2815 870h8v8h-8zM2780 887h8v8h-8zM2817 862h8v8h-8zM2807 865h8v8h-8zM2800 861h8v8h-8zM2805 834h8v8h-8zM2787 848h8v8h-8zM2743 819h8v8h-8zM2807 849h8v8h-8zM2763 864h8v8h-8zM2770 847h8v8h-8zM2746 819h8v8h-8zM2778 862h8v8h-8zM2781 855h8v8h-8zM2773 824h8v8h-8zM2806 857h8v8h-8zM2816 826h8v8h-8zM2810 821h8v8h-8zM2751 849h8v8h-8zM2774 868h8v8h-8zM2789 848h8v8h-8zM2778 843h8v8h-8zM2842 852h8v8h-8zM2804 867h8v8h-8zM2811 834h8v8h-8zM2855 804h8v8h-8zM2762 834h8v8h-8zM2770 879h8v8h-8zM2772 843h8v8h-8zM2819 837h8v8h-8zM2801 800h8v8h-8zM2791 862h8v8h-8zM2823 850h8v8h-8zM2794 885h8v8h-8zM2801 872h8v8h-8zM2758 843h8v8h-8zM2809 877h8v8h-8zM2820 876h8v8h-8zM2802 845h8v8h-8zM2764 836h8v8h-8zM2807 822h8v8h-8zM2779 832h8v8h-8zM2804 852h8v8h-8zM2841 855h8v8h-8zM2791 842h8v8h-8zM2795 864h8v8h-8zM2842 846h8v8h-8zM2735 840h8v8h-8zM2766 852h8v8h-8zM2750 865h8v8h-8zM2777 850h8v8h-8zM2801 837h8v8h-8zM2813 864h8v8h-8zM2790 829h8v8h-8zM2786 856h8v8h-8zM2755 885h8v8h-8zM2790 835h8v8h-8zM2796 892h8v8h-8zM2782 841h8v8h-8zM2805 824h8v8h-8zM2823 832h8v8h-8zM2797 889h8v8h-8zM2837 875h8v8h-8zM2772 800h8v8h-8zM2785 856h8v8h-8zM2771 869h8v8h-8zM2785 845h8v8h-8zM2732 860h8v8h-8zM2783 831h8v8h-8zM2767 834h8v8h-8zM2819 856h8v8h-8zM2810 804h8v8h-8zM2761 861h8v8h-8zM2837 862h8v8h-8zM2798 850h8v8h-8zM2787 867h8v8h-8zM2778 853h8v8h-8zM2799 853h8v8h-8zM2762 898h8v8h-8zM2780 833h8v8h-8zM2796 821h8v8h-8zM2782 849h8v8h-8zM2757 821h8v8h-8zM2812 843h8v8h-8zM2753 908h8v8h-8zM2781 827h8v8h-8zM2749 858h8v8h-8zM2787 833h8v8h-8zM2771 876h8v8h-8zM2800 858h8v8h-8zM2847 857h8v8h-8zM2781 883h8v8h-8zM2821 846h8v8h-8zM2806 820h8v8h-8zM2782 810h8v8h-8zM2756 871h8v8h-8zM2832 880h8v8h-8zM2788 802h8v8h-8zM2784 822h8v8h-8zM2810 865h8v8h-8zM2845 804h8v8h-8zM2790 831h8v8h-8zM2753 831h8v8h-8zM2771 867h8v8h-8zM2819 815h8v8h-8zM2837 848h8v8h-8zM2755 860h8v8h-8zM2815 852h8v8h-8zM2781 845h8v8h-8zM2764 808h8v8h-8zM2788 843h8v8h-8zM2801 829h8v8h-8zM2775 851h8v8h-8zM2787 857h8v8h-8zM2807 860h8v8h-8zM2855 830h8v8h-8zM2841 863h8v8h-8zM2775 863h8v8h-8zM2769 894h8v8h-8zM2856 895h8v8h-8zM2766 863h8v8h-8zM2778 847h8v8h-8zM2804 821h8v8h-8zM2807 892h8v8h-8zM2783 867h8v8h-8zM2726 823h8v8h-8zM2752 859h8v8h-8zM2787 832h8v8h-8zM2792 819h8v8h-8zM2803 838h8v8h-8zM2804 840h8v8h-8zM2752 874h8v8h-8zM2821 831h8v8h-8zM2781 875h8v8h-8zM2779 817h8v8h-8zM2790 856h8v8h-8zM2761 855h8v8h-8zM2757 834h8v8h-8zM2797 832h8v8h-8zM2787 830h8v8h-8zM2808 851h8v8h-8zM2837 856h8v8h-8zM2843 832h8v8h-8zM2817 844h8v8h-8zM2804 871h8v8h-8zM2800 851h8v8h-8zM2827 849h8v8h-8zM2837 861h8v8h-8zM2755 861h8v8h-8zM2783 816h8v8h-8zM2787 826h8v8h-8zM2779 906h8v8h-8zM2754 853h8v8h-8zM2835 817h8v8h-8zM2812 789h8v8h-8zM2754 871h8v8h-8zM2802 837h8v8h-8zM2801 855h8v8h-8zM2837 846h8v8h-8zM2779 879h8v8h-8zM2759 878h8v8h-8zM2792 865h8v8h-8zM2839 861h8v8h-8zM2785 842h8v8h-8zM2793 847h8v8h-8zM2784 842h8v8h-8zM2774 813h8v8h-8zM2800 852h8v8h-8zM2840 899h8v8h-8zM2803 869h8v8h-8zM2795 842h8v8h-8zM2816 811h8v8h-8zM2881 816h8v8h-8zM2824 824h8v8h-8zM2831 852h8v8h-8zM2790 867h8v8h-8zM2841 853h8v8h-8zM2797 804h8v8h-8zM2775 851h8v8h-8zM2822 819h8v8h-8zM2769 864h8v8h-8zM2803 826h8v8h-8zM2775 820h8v8h-8zM2835 859h8v8h-8zM2820 843h8v8h-8zM2807 865h8v8h-8zM2768 903h8v8h-8zM2826 833h8v8h-8zM2755 828h8v8h-8zM2761 816h8v8h-8zM2798 855h8v8h-8zM2765 857h8v8h-8zM2830 862h8v8h-8zM2744 891h8v8h-8zM2827 827h8v8h-8zM2799 830h8v8h-8zM2823 862h8v8h-8zM2730 809h8v8h-8zM2790 867h8v8h-8zM2822 860h8v8h-8zM2782 822h8v8h-8zM2802 832h8v8h-8zM2775 806h8v8h-8zM2759 867h8v8h-8zM2812 808h8v8h-8zM2752 848h8v8h-8zM2826 848h8v8h-8zM2785 834h8v8h-8zM2761 857h8v8h-8zM2811 873h8v8h-8zM2768 859h8v8h-8zM2813 817h8v8h-8zM2818 845h8v8h-8zM2810 805h8v8h-8zM2749 866h8v8h-8zM2847 812h8v8h-8zM2800 843h8v8h-8zM2765 864h8v8h-8zM2819 853h8v8h-8zM2776 860h8v8h-8zM2806 843h8v8h-8zM2752 832h8v8h-8zM2794 839h8v8h-8z" fill="#ff0000" fill-opacity="1.0"/>
<path d="M295.0 77.0h1.0v1.0h-1.0zM298.0 82.0h1.0v1.0h-1.0zM262.0 91.0h1.0v1.0h-1.0zM264.0 95.0h1.0v1.0h-1.0zM290.0 96.0h1.0v1.0h-1.0zM302.0 100.0h1.0v1.0h-1.0zM296.0 74.0h1.0v1.0h-1.0z" fill="#ff8080"/>
<path transform="scale(0.1)" d="M494 3441h8v8h-8zM469 3501h8v8h-8zM477 3467h8v8h-8zM448 3527h8v8h-8zM497 3512h8v8h-8zM388 3487h8v8h-8zM505 3533h8v8h-8zM442 3585h8v8h-8zM447 3490h8v8h-8zM408 3545h8v8h-8zM383 3542h8v8h-8zM435 3482h8v8h-8zM486 3506h8v8h-8zM468 3497h8v8h-8zM493 3466h8v8h-8zM445 3535h8v8h-8zM464 3549h8v8h-8zM448 3451h8v8h-8zM408 3468h8v8h-8zM450 3506h8v8h-8zM435 3462h8v8h-8zM489 3551h8v8h-8zM445 3495h8v8h-8zM453 3555h8v8h-8zM478 3483h8v8h-8zM495 3491h8v8h-8zM449 3518h8v8h-8zM448 3564h8v8h-8zM462 3536h8v8h-8zM499 3448h8v8h-8zM414 3517h8v8h-8zM406 3522h8v8h-8zM448 3599h8v8h-8zM459 3542h8v8h-8zM364 3516h8v8h-8zM435 3502h8v8h-8zM448 3513h8v8h-8zM428 3484h8v8h-8zM435 3505h8v8h-8zM446 3487h8v8h-8zM468 3531h8v8h-8zM494 3473h8v8h-8zM400 3610h8v8h-8zM398 3522h8v8h-8zM477 3449h8v8h-8zM461 3506h8v8h-8zM417 3509h8v8h-8zM393 3490h8v8h-8zM419 3549h8v8h-8zM454 3496h8v8h-8zM480 3514h8v8h-8zM497 3502h8v8h-8zM485 3505h8v8h-8zM410 3495h8v8h-8zM530 3457h8v8h-8zM484 3415h8v8h-8zM449 3536h8v8h-8zM446 3542h8v8h-8zM494 3491h8v8h-8zM435 3525h8v8h-8zM440 3490h8v8h-8zM458 3522h8v8h-8zM516 3477h8v8h-8zM391 3490h8v8h-8zM497 3473h8v8h-8zM363 3530h8v8h-8zM414 3518h8v8h-8zM460 3590h8v8h-8zM496 3426h8v8h-8zM396 3549h8v8h-8zM495 3513h8v8h-8zM505 3437h8v8h-8zM433 3515h8v8h-8zM440 3596h8v8h-8zM445 3484h8v8h-8zM370 3507h8v8h-8zM476 3520h8v8h-8zM396 3527h8v8h-8zM479 3536h8v8h-8zM474 3552h8v8h-8zM446 3483h8v8h-8zM460 3507h8v8h-8zM496 3480h8v8h-8zM433 3543h8v8h-8zM413 3474h8v8h-8zM531 3499h8v8h-8zM472 3545h8v8h-8zM437 3545h8v8h-8zM526 3460h8v8h-8zM357 3509h8v8h-8zM406 3517h8v8h-8zM483 3474h8v8h-8zM464 3489h8v8h-8zM467 3472h8v8h-8zM430 3439h8v8h-8zM426 3533h8v8h-8zM430 3563h8v8h-8zM438 3501h8v8h-8zM483 3464h8v8h-8zM498 3525h8v8h-8zM479 3503h8v8h-8zM515 3467h8v8h-8zM380 3506h8v8h-8zM448 3435h8v8h-8zM408 3542h8v8h-8zM531 3514h8v8h-8zM443 3505h8v8h-8zM481 3501h8v8h-8zM463 3461h8v8h-8zM421 3509h8v8h-8zM414 3523h8v8h-8zM476 3474h8v8h-8zM487 3490h8v8h-8zM433 3512h8v8h-8zM532 3431h8v8h-8zM457 3475h8v8h-8zM492 3550h8v8h-8zM470 3523h8v8h-8zM497 3452h8v8h-8zM388 3577h8v8h-8zM519 3482h8v8h-8zM491 3497h8v8h-8zM490 3525h8v8h-8zM510 3565h8v8h-8zM482 3564h8v8h-8zM391 3488h8v8h-8zM430 3555h8v8h-8zM404 3596h8v8h-8zM430 3548h8v8h-8zM478 3469h8v8h-8zM518 3497h8v8h-8zM389 3535h8v8h-8zM401 3517h8v8h-8zM452 3478h8v8h-8zM474 3512h8v8h-8zM462 3501h8v8h-8zM426 3539h8v8h-8zM469 3545h8v8h-8zM466 3498h8v8h-8zM418 3527h8v8h-8zM506 3476h8v8h-8zM386 3576h8v8h-8zM452 3566h8v8h-8zM450 3518h8v8h-8zM468 3521h8v8h-8zM494 3420h8v8h-8zM430 3485h8v8h-8zM447 3519h8v8h-8zM477 3499h8v8h-8zM524 3501h8v8h-8zM424 3503h8v8h-8zM482 3557h8v8h-8zM461 3510h8v8h-8zM414 3488h8v8h-8zM476 3545h8v8h-8zM411 3533h8v8h-8zM454 3526h8v8h-8zM461 3508h8v8h-8zM549 3507h8v8h-8zM415 3570h8v8h-8zM485 3488h8v8h-8zM466 3580h8v8h-8zM450 3544h8v8h-8zM439 3522h8v8h-8zM517 3440h8v8h-8zM429 3502h8v8h-8zM490 3488h8v8h-8zM446 3514h8v8h-8zM485 3494h8v8h-8zM491 3500h8v8h-8zM388 3511h8v8h-8zM414 3570h8v8h-8zM451 3484h8v8h-8zM459 3498h8v8h-8zM394 3502h8v8h-8zM474 3478h8v8h-8zM497 3533h8v8h-8zM452 3511h8v8h-8zM462 3576h8v8h-8zM402 3528h8v8h-8zM503 3509h8v8h-8zM535 3517h8v8h-8zM463 3536h8v8h-8zM537 3461h8v8h-8zM431 3494h8v8h-8zM473 3513h8v8h-8zM460 3478h8v8h-8zM388 3528h8v8h-8zM427 3519h8v8h-8zM455 3525h8v8h-8zM454 3535h8v8h-8zM435 3565h8v8h-8zM453 3543h8v8h-8zM492 3454h8v8h-8zM503 3448h8v8h-8zM356 3523h8v8h-8zM431 3529h8v8h-8zM455 3511h8v8h-8zM350 3504h8v8h-8zM473 3531h8v8h-8zM511 3491h8v8h-8zM394 3494h8v8h-8zM353 3563h8v8h-8zM430 3498h8v8h-8zM513 3530h8v8h-8zM472 3493h8v8h-8zM456 3535h8v8h-8zM417 3563h8v8h-8zM486 3497h8v8h-8zM422 3564h8v8h-8zM461 3518h8v8h-8zM504 3532h8v8h-8zM461 3517h8v8h-8zM412 3479h8v8h-8zM472 3501h8v8h-8zM507 3455h8v8h-8zM510 3447h8v8h-8zM384 3450h8v8h-8zM476 3526h8v8h-8zM478 3501h8v8h-8zM445 3511h8v8h-8zM408 3577h8v8h-8zM424 3526h8v8h-8zM421 3545h8v8h-8zM550 3459h8v8h-8zM470 3529h8v8h-8zM447 3519h8v8h-8zM476 3546h8v8h-8zM521 3482h8v8h-8zM457 3442h8v8h-8zM497 3526h8v8h-8zM490 3495h8v8h-8zM440 3532h8v8h-8zM529 3485h8v8h-8zM473 3537h8v8h-8zM511 3501h8v8h-8zM522 3518h8v8h-8zM442 3528h8v8h-8zM426 3574h8v8h-8zM434 3616h8v8h-8zM558 3516h8v8h-8zM463 3560h8v8h-8zM445 3436h8v8h-8zM530 3531h8v8h-8zM430 3490h8v8h-8zM544 3479h8v8h-8zM431 3518h8v8h-8zM476 3516h8v8h-8zM465 3456h8v8h-8zM476 3461h8v8h-8zM502 3514h8v8h-8zM494 3504h8v8h-8zM408 3570h8v8h-8zM415 3554h8v8h-8zM456 3528h8v8h-8zM493 3494h8v8h-8zM444 3564h8v8h-8zM433 3545h8v8h-8zM378 3558h8v8h-8zM482 3425h8v8h-8zM468 3468h8v8h-8zM414 3554h8v8h-8zM444 3481h8v8h-8zM523 3496h8v8h-8zM432 3524h8v8h-8zM427 3525h8v8h-8zM488 3520h8v8h-8zM377 3510h8v8h-8zM442 3471h8v8h-8zM448 3473h8v8h-8zM423 3522h8v8h-8zM439 3534h8v8h-8zM442 3506h8v8h-8zM463 3441h8v8h-8zM447 3469h8v8h-8zM486 3503h8v8h-8zM491 3423h8v8h-8zM455 3506h8v8h-8zM444 3531h8v8h-8zM358 3542h8v8h-8zM499 3473h8v8h-8zM466 3560h8v8h-8zM465 3529h8v8h-8zM501 3496h8v8h-8zM428 3447h8v8h-8zM425 3551h8v8h-8zM484 3574h8v8h-8zM490 3481h8v8h-8zM463 3517h8v8h-8zM395 3474h8v8h-8zM416 3495h8v8h-8zM499 3531h8v8h-8zM420 3501h8v8h-8zM488 3505h8v8h-8zM468 3531h8v8h-8zM453 3499h8v8h-8zM449 3461h8v8h-8zM446 3498h8v8h-8zM435 3514h8v8h-8zM465 3530h8v8h-8zM492 3483h8v8h-8zM364 3532h8v8h-8zM516 3520h8v8h-8zM553 3555h8v8h-8zM385 3512h8v8h-8zM508 3422h8v8h-8zM460 3527h8v8h-8zM488 3467h8v8h-8zM454 3488h8v8h-8zM408 3575h8v8h-8zM485 3531h8v8h-8zM463 3557h8v8h-8zM477 3574h8v8h-8zM413 3542h8v8h-8zM449 3508h8v8h-8zM500 3464h8v8h-8zM388 3594h8v8h-8zM473 3512h8v8h-8zM384 3547h8v8h-8zM498 3520h8v8h-8zM557 3509h8v8h-8zM397 3530h8v8h-8zM452 3487h8v8h-8zM484 3459h8v8h-8zM415 3483h8v8h-8zM500 3503h8v8h-8zM471 3536h8v8h-8zM447 3535h8v8h-8zM506 3510h8v8h-8zM467 3530h8v8h-8zM510 3439h8v8h-8zM473 3551h8v8h-8zM473 3571h8v8h-8zM409 3640h8v8h-8zM427 3510h8v8h-8zM415 3463h8v8h-8zM474 3537h8v8h-8zM469 3495h8v8h-8zM398 3583h8v8h-8zM461 3456h8v8h-8zM444 3464h8v8h-8zM418 3459h8v8h-8zM471 3494h8v8h-8zM433 3530h8v8h-8zM414 3527h8v8h-8zM421 3588h8v8h-8zM455 3472h8v8h-8zM383 3552h8v8h-8zM416 3570h8v8h-8zM455 3482h8v8h-8zM478 3497h8v8h-8zM449 3453h8v8h-8zM434 3569h8v8h-8zM376 3481h8v8h-8zM487 3516h8v8h-8zM407 3516h8v8h-8zM396 3477h8v8h-8zM482 3501h8v8h-8zM408 3480h8v8h-8zM397 3533h8v8h-8zM452 3480h8v8h-8zM471 3476h8v8h-8zM458 3527h8v8h-8zM366 3517h8v8h-8zM453 3487h8v8h-8zM423 3545h8v8h-8zM420 3503h8v8h-8zM464 3568h8v8h-8zM470 3490h8v8h-8zM376 3545h8v8h-8zM484 3476h8v8h-8zM433 3501h8v8h-8zM436 3509h8v8h-8zM407 3494h8v8h-8zM450 3487h8v8h-8zM478 3556h8v8h-8zM421 3472h8v8h-8zM381 3508h8v8h-8zM547 3450h8v8h-8zM493 3506h8v8h-8zM475 3500h8v8h-8zM510 3505h8v8h-8zM416 3502h8v8h-8zM428 3501h8v8h-8zM406 3524h8v8h-8zM451 3508h8v8h-8zM525 3428h8v8h-8zM425 3474h8v8h-8zM518 3452h8v8h-8zM498 3524h8v8h-8zM519 3514h8v8h-8zM427 3532h8v8h-8zM457 3549h8v8h-8zM411 3510h8v8h-8zM457 3491h8v8h-8zM493 3502h8v8h-8zM446 3503h8v8h-8zM453 3527h8v8h-8zM494 3486h8v8h-8zM436 3556h8v8h-8zM405 3475h8v8h-8zM483 3525h8v8h-8zM371 3550h8v8h-8zM511 3466h8v8h-8zM408 3534h8v8h-8zM430 3504h8v8h-8zM393 3503h8v8h-8zM511 3525h8v8h-8zM513 3460h8v8h-8zM465 3546h8v8h-8zM474 3473h8v8h-8zM517 3506h8v8h-8zM461 3603h8v8h-8zM395 3593h8v8h-8zM412 3541h8v8h-8zM428 3552h8v8h-8zM335 3496h8v8h-8zM434 3512h8v8h-8zM430 3544h8v8h-8zM469 3540h8v8h-8zM446 3541h8v8h-8zM509 3482h8v8h-8zM422 3509h8v8h-8zM457 3538h8v8h-8zM487 3533h8v8h-8zM443 3537h8v8h-8zM458 3437h8v8h-8zM374 3515h8v8h-8zM455 3497h8v8h-8zM437 3516h8v8h-8zM495 3478h8v8h-8zM446 3507h8v8h-8zM462 3458h8v8h-8zM523 3540h8v8h-8zM397 3517h8v8h-8zM459 3500h8v8h-8zM401 3498h8v8h-8zM433 3420h8v8h-8zM446 3526h8v8h-8zM416 3460h8v8h-8zM489 3550h8v8h-8zM423 3542h8v8h-8zM442 3512h8v8h-8zM459 3517h8v8h-8zM450 3485h8v8h-8zM472 3454h8v8h-8zM425 3557h8v8h-8zM509 3448h8v8h-8zM478 3472h8v8h-8zM481 3521h8v8h-8zM475 3468h8v8h-8zM452 3479h8v8h-8zM462 3516h8v8h-8zM479 3432h8v8h-8zM508 3531h8v8h-8zM487 3506h8v8h-8zM442 3503h8v8h-8zM477 3504h8v8h-8zM414 3494h8v8h-8zM469 3543h8v8h-8zM448 3451h8v8h-8zM455 3559h8v8h-8zM453 3511h8v8h-8zM415 3498h8v8h-8zM436 3497h8v8h-8zM446 3525h8v8h-8zM464 3553h8v8h-8zM473 3476h8v8h-8zM447 3534h8v8h-8zM429 3562h8v8h-8zM506 3468h8v8h-8zM405 3498h8v8h-8zM554 3485h8v8h-8zM514 3512h8v8h-8zM472 3539h8v8h-8zM443 3491h8v8h-8zM451 3445h8v8h-8zM431 3495h8v8h-8zM508 3516h8v8h-8zM489 3446h8v8h-8zM440 3535h8v8h-8zM457 3515h8v8h-8zM458 3558h8v8h-8zM441 3507h8v8h-8zM473 3534h8v8h-8zM447 3489h8v8h-8zM498 3413h8v8h-8zM472 3528h8v8h-8zM419 3563h8v8h-8zM471 3488h8v8h-8zM522 3477h8v8h-8zM469 3480h8v8h-8zM445 3542h8v8h-8zM412 3495h8v8h-8zM437 3494h8v8h-8zM481 3496h8v8h-8zM469 3517h8v8h-8zM390 3509h8v8h-8zM478 3470h8v8h-8zM401 3554h8v8h-8zM460 3524h8v8h-8zM454 3550h8v8h-8zM462 3493h8v8h-8zM454 3472h8v8h-8zM425 3522h8v8h-8zM428 3584h8v8h-8zM471 3525h8v8h-8zM453 3476h8v8h-8zM504 3479h8v8h-8zM452 3577h8v8h-8zM494 3487h8v8h-8zM462 3409h8v8h-8zM439 3532h8v8h-8zM522 3438h8v8h-8zM410 3545h8v8h-8zM427 3492h8v8h-8zM487 3531h8v8h-8zM501 3466h8v8h-8zM464 3470h8v8h-8zM443 3597h8v8h-8zM448 3502h8v8h-8zM502 3488h8v8h-8zM377 3489h8v8h-8zM374 3512h8v8h-8zM423 3576h8v8h-8zM402 3566h8v8h-8zM429 3511h8v8h-8zM438 3519h8v8h-8zM423 3486h8v8h-8zM451 3523h8v8h-8zM443 3470h8v8h-8zM428 3434h8v8h-8zM440 3562h8v8h-8zM441 3462h8v8h-8zM422 3522h8v8h-8zM503 3516h8v8h-8zM471 3479h8v8h-8zM408 3520h8v8h-8zM518 3492h8v8h-8zM476 3494h8v8h-8zM426 3516h8v8h-8zM449 3522h8v8h-8zM396 3528h8v8h-8zM420 3445h8v8h-8zM418 3534h8v8h-8zM478 3453h8v8h-8zM544 3460h8v8h-8zM483 3534h8v8h-8zM466 3538h8v8h-8zM455 3522h8v8h-8zM489 3505h8v8h-8zM481 3549h8v8h-8zM412 3522h8v8h-8zM414 3477h8v8h-8zM435 3472h8v8h-8zM486 3496h8v8h-8zM448 3536h8v8h-8zM349 3574h8v8h-8zM472 3482h8v8h-8zM522 3463h8v8h-8zM470 3520h8v8h-8zM430 3476h8v8h-8zM475 3516h8v8h-8zM489 3548h8v8h-8zM467 3492h8v8h-8zM445 3453h8v8h-8zM390 3512h8v8h-8zM508 3550h8v8h-8zM421 3539h8v8h-8zM496 3498h8v8h-8zM417 3494h8v8h-8zM403 3555h8v8h-8zM557 3438h8v8h-8zM385 3582h8v8h-8zM474 3510h8v8h-8zM434 3502h8v8h-8zM517 3570h8v8h-8zM451 3471h8v8h-8zM460 3533h8v8h-8zM543 3469h8v8h-8zM441 3517h8v8h-8zM452 3538h8v8h-8zM478 3519h8v8h-8zM411 3456h8v8h-8zM473 3551h8v8h-8zM428 3572h8v8h-8zM502 3448h8v8h-8zM461 3484h8v8h-8zM383 3569h8v8h-8zM424 3504h8v8h-8zM407 3505h8v8h-8zM504 3500h8v8h-8zM415 3526h8v8h-8zM496 3483h8v8h-8zM423 3527h8v8h-8zM456 3502h8v8h-8zM456 3503h8v8h-8zM533 3472h8v8h-8zM415 3626h8v8h-8zM445 3585h8v8h-8zM408 3466h8v8h-8zM452 3541h8v8h-8zM479 3536h8v8h-8zM432 3496h8v8h-8zM482 3476h8v8h-8zM478 3525h8v8h-8zM435 3523h8v8h-8zM480 3483h8v8h-8zM440 3563h8v8h-8zM408 3556h8v8h-8zM515 3531h8v8h-8zM489 3493h8v8h-8zM455 3531h8v8h-8zM382 3542h8v8h-8zM533 3478h8v8h-8zM436 3543h8v8h-8zM423 3519h8v8h-8zM444 3488h8v8h-8zM470 3505h8v8h-8zM421 3526h8v8h-8zM388 3533h8v8h-8zM459 3551h8v8h-8zM472 3455h8v8h-8zM420 3545h8v8h-8zM452 3465h8v8h-8zM493 3474h8v8h-8zM461 3422h8v8h-8zM425 3484h8v8h-8zM474 3586h8v8h-8zM411 3443h8v8h-8zM454 3510h8v8h-8zM458 3500h8v8h-8zM460 3526h8v8h-8zM480 3565h8v8h-8zM422 3549h8v8h-8zM468 3530h8v8h-8zM376 3498h8v8h-8zM454 3490h8v8h-8zM342 3510h8v8h-8zM430 3515h8v8h-8zM481 3486h8v8h-8zM356 3505h8v8h-8zM436 3499h8v8h-8zM478 3515h8v8h-8zM441 3534h8v8h-8zM421 3552h8v8h-8zM482 3541h8v8h-8zM445 3534h8v8h-8zM451 3539h8v8h-8zM427 3564h8v8h-8zM476 3557h8v8h-8zM475 3533h8v8h-8zM439 3538h8v8h-8zM481 3448h8v8h-8zM450 3486h8v8h-8zM491 3493h8v8h-8zM357 3606h8v8h-8zM388 3492h8v8h-8zM428 3547h8v8h-8zM497 3592h8v8h-8zM503 3468h8v8h-8zM447 3533h8v8h-8zM436 3559h8v8h-8zM508 3497h8v8h-8zM444 3507h8v8h-8zM392 3520h8v8h-8zM431 3539h8v8h-8zM482 3456h8v8h-8zM466 3542h8v8h-8zM526 3470h8v8h-8zM446 3484h8v8h-8zM523 3512h8v8h-8zM415 3596h8v8h-8zM464 3476h8v8h-8zM445 3544h8v8h-8zM498 3490h8v8h-8zM372 3533h8v8h-8zM485 3502h8v8h-8zM448 3502h8v8h-8zM477 3413h8v8h-8zM552 3527h8v8h-8zM389 3563h8v8h-8zM514 3610h8v8h-8zM449 3526h8v8h-8zM416 3468h8v8h-8zM466 3466h8v8h-8zM410 3467h8v8h-8zM421 3529h8v8h-8zM510 3479h8v8h-8zM481 3541h8v8h-8zM465 3539h8v8h-8zM505 3479h8v8h-8z" fill="#7c7c7c" fill-opacity="1.0"/>
<path transform="scale(0.1)" d="M491 3429h8v8h-8zM450 3467h8v8h-8zM527 3505h8v8h-8zM482 3489h8v8h-8zM444 3511h8v8h-8zM432 3513h8v8h-8zM395 3480h8v8h-8zM361 3591h8v8h-8zM453 3530h8v8h-8zM518 3530h8v8h-8zM427 3546h8v8h-8zM408 3559h8v8h-8zM435 3602h8v8h-8zM485 3524h8v8h-8zM496 3524h8v8h-8zM427 3528h8v8h-8zM504 3504h8v8h-8zM475 3493h8v8h-8zM423 3514h8v8h-8zM524 3480h8v8h-8zM452 3532h8v8h-8zM441 3537h8v8h-8zM486 3498h8v8h-8zM418 3453h8v8h-8zM482 3473h8v8h-8zM489 3518h8v8h-8zM471 3575h8v8h-8zM403 3522h8v8h-8zM420 3546h8v8h-8zM547 3517h8v8h-8zM426 3519h8v8h-8zM406 3537h8v8h-8zM501 3493h8v8h-8zM491 3546h8v8h-8zM431 3502h8v8h-8zM398 3465h8v8h-8zM386 3553h8v8h-8zM374 3515h8v8h-8zM468 3461h8v8h-8zM431 3534h8v8h-8zM431 3485h8v8h-8zM446 3554h8v8h-8zM459 3528h8v8h-8zM504 3480h8v8h-8zM445 3528h8v8h-8zM484 3475h8v8h-8zM501 3466h8v8h-8zM411 3581h8v8h-8zM454 3583h8v8h-8zM458 3507h8v8h-8zM440 3458h8v8h-8zM528 3462h8v8h-8zM465 3519h8v8h-8zM413 3496h8v8h-8zM407 3549h8v8h-8zM389 3529h8v8h-8zM497 3495h8v8h-8zM480 3615h8v8h-8zM493 3434h8v8h-8zM509 3476h8v8h-8zM412 3633h8v8h-8zM504 3506h8v8h-8zM466 3513h8v8h-8zM410 3474h8v8h-8zM412 3580h8v8h-8zM522 3458h8v8h-8zM495 3464h8v8h-8zM438 3518h8v8h-8zM479 3532h8v8h-8zM510 3495h8v8h-8zM433 3544h8v8h-8zM453 3559h8v8h-8zM357 3583h8v8h-8zM444 3605h8v8h-8zM407 3520h8v8h-8zM481 3519h8v8h-8zM439 3540h8v8h-8zM511 3447h8v8h-8zM409 3509h8v8h-8zM421 3501h8v8h-8zM446 3544h8v8h-8zM493 3560h8v8h-8zM498 3467h8v8h-8zM470 3545h8v8h-8zM416 3524h8v8h-8zM496 3492h8v8h-8zM527 3476h8v8h-8zM464 3535h8v8h-8zM357 3584h8v8h-8zM540 3471h8v8h-8zM487 3507h8v8h-8zM498 3518h8v8h-8zM419 3558h8v8h-8zM434 3478h8v8h-8zM479 3537h8v8h-8zM393 3495h8v8h-8zM466 3486h8v8h-8zM469 3557h8v8h-8zM535 3484h8v8h-8zM496 3446h8v8h-8zM462 3559h8v8h-8zM478 3519h8v8h-8zM523 3473h8v8h-8zM477 3521h8v8h-8zM336 3619h8v8h-8zM443 3542h8v8h-8zM440 3428h8v8h-8zM483 3462h8v8h-8zM461 3492h8v8h-8zM439 3521h8v8h-8zM504 3431h8v8h-8zM472 3519h8v8h-8zM439 3534h8v8h-8zM446 3488h8v8h-8zM473 3459h8v8h-8zM383 3498h8v8h-8zM426 3535h8v8h-8zM373 3488h8v8h-8zM383 3525h8v8h-8zM401 3534h8v8h-8zM474 3440h8v8h-8zM494 3508h8v8h-8zM507 3501h8v8h-8zM480 3518h8v8h-8zM432 3524h8v8h-8zM375 3563h8v8h-8zM519 3523h8v8h-8zM415 3538h8v8h-8zM460 3522h8v8h-8zM359 3532h8v8h-8zM496 3486h8v8h-8zM326 3623h8v8h-8zM402 3547h8v8h-8zM500 3507h8v8h-8zM425 3470h8v8h-8zM457 3534h8v8h-8zM407 3541h8v8h-8zM535 3507h8v8h-8zM503 3469h8v8h-8zM505 3461h8v8h-8zM419 3491h8v8h-8zM497 3536h8v8h-8zM456 3526h8v8h-8zM477 3420h8v8h-8zM434 3493h8v8h-8zM374 3480h8v8h-8zM409 3547h8v8h-8zM455 3458h8v8h-8zM415 3535h8v8h-8zM447 3473h8v8h-8zM487 3484h8v8h-8zM428 3555h8v8h-8zM440 3570h8v8h-8zM420 3458h8v8h-8zM479 3512h8v8h-8zM551 3478h8v8h-8zM456 3571h8v8h-8zM351 3522h8v8h-8zM458 3522h8v8h-8zM409 3584h8v8h-8zM421 3495h8v8h-8zM374 3583h8v8h-8zM475 3556h8v8h-8zM350 3543h8v8h-8zM364 3473h8v8h-8zM478 3460h8v8h-8zM429 3495h8v8h-8zM466 3511h8v8h-8zM425 3575h8v8h-8zM374 3509h8v8h-8zM430 3543h8v8h-8zM442 3533h8v8h-8zM441 3484h8v8h-8zM452 3499h8v8h-8zM418 3545h8v8h-8zM427 3524h8v8h-8zM467 3497h8v8h-8zM501 3470h8v8h-8zM551 3504h8v8h-8zM386 3583h8v8h-8zM413 3503h8v8h-8zM450 3543h8v8h-8zM470 3519h8v8h-8zM518 3512h8v8h-8zM539 3489h8v8h-8zM460 3511h8v8h-8zM445 3463h8v8h-8zM436 3560h8v8h-8zM409 3528h8v8h-8zM493 3576h8v8h-8zM489 3483h8v8h-8zM481 3581h8v8h-8zM515 3556h8v8h-8zM381 3546h8v8h-8zM463 3491h8v8h-8zM472 3499h8v8h-8zM458 3511h8v8h-8zM514 3482h8v8h-8zM469 3461h8v8h-8zM408 3505h8v8h-8zM434 3519h8v8h-8zM422 3464h8v8h-8zM464 3604h8v8h-8zM394 3500h8v8h-8zM409 3607h8v8h-8zM447 3520h8v8h-8zM382 3552h8v8h-8zM487 3518h8v8h-8zM462 3549h8v8h-8zM393 3516h8v8h-8zM376 3500h8v8h-8zM540 3523h8v8h-8zM425 3495h8v8h-8zM416 3488h8v8h-8zM511 3520h8v8h-8zM516 3548h8v8h-8zM415 3562h8v8h-8zM395 3563h8v8h-8zM479 3494h8v8h-8zM380 3523h8v8h-8zM418 3555h8v8h-8zM473 3530h8v8h-8zM462 3512h8v8h-8zM403 3528h8v8h-8zM465 3583h8v8h-8zM488 3548h8v8h-8zM396 3546h8v8h-8zM413 3531h8v8h-8zM513 3512h8v8h-8zM365 3543h8v8h-8zM417 3478h8v8h-8zM487 3485h8v8h-8zM435 3499h8v8h-8zM476 3509h8v8h-8zM447 3524h8v8h-8zM409 3523h8v8h-8zM533 3433h8v8h-8zM502 3498h8v8h-8zM470 3392h8v8h-8zM363 3590h8v8h-8zM398 3517h8v8h-8zM536 3476h8v8h-8zM475 3474h8v8h-8zM456 3534h8v8h-8zM446 3545h8v8h-8zM493 3497h8v8h-8zM486 3433h8v8h-8zM456 3554h8v8h-8zM547 3395h8v8h-8zM484 3505h8v8h-8zM533 3461h8v8h-8zM342 3501h8v8h-8zM444 3507h8v8h-8zM434 3496h8v8h-8zM460 3520h8v8h-8zM425 3522h8v8h-8zM449 3480h8v8h-8zM439 3552h8v8h-8zM367 3560h8v8h-8zM492 3488h8v8h-8zM557 3402h8v8h-8zM479 3473h8v8h-8zM471 3468h8v8h-8zM518 3449h8v8h-8zM447 3450h8v8h-8zM557 3540h8v8h-8zM388 3550h8v8h-8zM480 3470h8v8h-8zM478 3497h8v8h-8zM500 3488h8v8h-8zM394 3525h8v8h-8zM414 3487h8v8h-8zM492 3532h8v8h-8zM391 3557h8v8h-8zM545 3494h8v8h-8zM502 3564h8v8h-8zM373 3608h8v8h-8zM514 3442h8v8h-8zM465 3564h8v8h-8zM455 3524h8v8h-8zM437 3523h8v8h-8zM465 3501h8v8h-8zM539 3528h8v8h-8zM440 3534h8v8h-8zM457 3574h8v8h-8zM388 3520h8v8h-8zM378 3551h8v8h-8z" fill="#bbbbbb" fill-opacity="1.0"/>
<path transform="scale(0.1)" d="M774 3576h8v8h-8zM661 3477h8v8h-8zM753 3491h8v8h-8zM844 3493h8v8h-8zM680 3529h8v8h-8zM785 3543h8v8h-8zM725 3458h8v8h-8zM834 3489h8v8h-8zM733 3538h8v8h-8zM725 3478h8v8h-8zM840 3491h8v8h-8zM821 3463h8v8h-8zM738 3530h8v8h-8zM655 3518h8v8h-8zM672 3488h8v8h-8zM779 3485h8v8h-8zM780 3475h8v8h-8zM683 3556h8v8h-8zM820 3507h8v8h-8zM783 3470h8v8h-8zM729 3478h8v8h-8zM749 3517h8v8h-8zM766 3513h8v8h-8zM726 3511h8v8h-8zM791 3495h8v8h-8zM747 3473h8v8h-8zM748 3573h8v8h-8zM803 3538h8v8h-8zM779 3475h8v8h-8zM680 3472h8v8h-8zM756 3506h8v8h-8zM702 3517h8v8h-8zM764 3503h8v8h-8zM778 3523h8v8h-8zM686 3531h8v8h-8zM806 3516h8v8h-8zM848 3448h8v8h-8zM776 3436h8v8h-8zM698 3520h8v8h-8zM748 3537h8v8h-8zM771 3485h8v8h-8zM781 3521h8v8h-8zM784 3449h8v8h-8zM719 3536h8v8h-8zM731 3509h8v8h-8zM794 3464h8v8h-8zM907 3425h8v8h-8zM771 3542h8v8h-8zM756 3533h8v8h-8zM788 3477h8v8h-8zM844 3532h8v8h-8zM761 3470h8v8h-8zM628 3548h8v8h-8zM730 3449h8v8h-8zM721 3484h8v8h-8zM702 3487h8v8h-8zM686 3535h8v8h-8zM706 3511h8v8h-8zM884 3476h8v8h-8zM792 3504h8v8h-8zM767 3554h8v8h-8zM689 3539h8v8h-8zM733 3564h8v8h-8zM773 3587h8v8h-8zM745 3529h8v8h-8zM745 3500h8v8h-8zM838 3480h8v8h-8zM825 3506h8v8h-8zM781 3486h8v8h-8zM673 3514h8v8h-8zM759 3477h8v8h-8zM696 3521h8v8h-8zM716 3522h8v8h-8zM744 3518h8v8h-8zM770 3542h8v8h-8zM803 3527h8v8h-8zM631 3509h8v8h-8zM788 3488h8v8h-8zM721 3532h8v8h-8zM750 3575h8v8h-8zM705 3563h8v8h-8zM832 3492h8v8h-8zM752 3491h8v8h-8zM794 3562h8v8h-8zM710 3619h8v8h-8zM803 3509h8v8h-8zM762 3453h8v8h-8zM710 3468h8v8h-8zM742 3532h8v8h-8zM721 3534h8v8h-8zM710 3491h8v8h-8zM821 3503h8v8h-8zM765 3487h8v8h-8zM730 3514h8v8h-8zM670 3537h8v8h-8zM802 3577h8v8h-8zM746 3560h8v8h-8zM732 3535h8v8h-8zM707 3594h8v8h-8zM826 3517h8v8h-8zM809 3499h8v8h-8zM730 3564h8v8h-8zM722 3538h8v8h-8zM728 3557h8v8h-8zM741 3497h8v8h-8zM747 3497h8v8h-8zM676 3522h8v8h-8zM713 3486h8v8h-8zM747 3463h8v8h-8zM802 3539h8v8h-8zM777 3457h8v8h-8zM756 3527h8v8h-8zM707 3546h8v8h-8zM767 3523h8v8h-8zM790 3541h8v8h-8zM797 3443h8v8h-8zM815 3492h8v8h-8zM733 3482h8v8h-8zM718 3506h8v8h-8zM803 3530h8v8h-8zM725 3505h8v8h-8zM780 3496h8v8h-8zM751 3529h8v8h-8zM673 3555h8v8h-8zM750 3505h8v8h-8zM737 3469h8v8h-8zM730 3535h8v8h-8zM724 3618h8v8h-8zM681 3575h8v8h-8zM718 3552h8v8h-8zM721 3471h8v8h-8zM796 3421h8v8h-8zM733 3530h8v8h-8zM758 3531h8v8h-8zM832 3505h8v8h-8zM651 3490h8v8h-8zM801 3561h8v8h-8zM758 3540h8v8h-8zM728 3464h8v8h-8zM685 3504h8v8h-8zM803 3471h8v8h-8zM766 3472h8v8h-8zM731 3460h8v8h-8zM694 3551h8v8h-8zM804 3526h8v8h-8zM831 3467h8v8h-8zM706 3543h8v8h-8zM750 3458h8v8h-8zM771 3511h8v8h-8zM798 3501h8v8h-8zM734 3542h8v8h-8zM859 3509h8v8h-8zM752 3468h8v8h-8zM738 3522h8v8h-8zM714 3540h8v8h-8zM698 3523h8v8h-8zM792 3513h8v8h-8zM758 3472h8v8h-8zM715 3504h8v8h-8zM705 3527h8v8h-8zM805 3447h8v8h-8zM814 3505h8v8h-8zM788 3571h8v8h-8zM765 3500h8v8h-8zM728 3507h8v8h-8zM809 3493h8v8h-8zM823 3461h8v8h-8zM769 3565h8v8h-8zM747 3544h8v8h-8zM844 3415h8v8h-8zM720 3512h8v8h-8zM782 3553h8v8h-8zM865 3440h8v8h-8zM766 3551h8v8h-8zM751 3559h8v8h-8zM650 3539h8v8h-8zM715 3477h8v8h-8zM753 3565h8v8h-8zM855 3505h8v8h-8zM698 3422h8v8h-8zM875 3447h8v8h-8zM763 3499h8v8h-8zM749 3564h8v8h-8zM784 3446h8v8h-8zM697 3477h8v8h-8zM786 3462h8v8h-8zM843 3534h8v8h-8zM662 3468h8v8h-8zM714 3508h8v8h-8zM695 3515h8v8h-8zM768 3572h8v8h-8zM767 3510h8v8h-8zM855 3440h8v8h-8zM704 3523h8v8h-8zM819 3507h8v8h-8zM735 3528h8v8h-8zM782 3494h8v8h-8zM753 3541h8v8h-8zM792 3524h8v8h-8zM714 3497h8v8h-8zM809 3497h8v8h-8zM795 3528h8v8h-8zM677 3441h8v8h-8zM734 3489h8v8h-8zM766 3455h8v8h-8zM695 3547h8v8h-8zM692 3528h8v8h-8zM717 3479h8v8h-8zM768 3497h8v8h-8zM776 3483h8v8h-8zM707 3475h8v8h-8zM780 3550h8v8h-8zM654 3426h8v8h-8zM865 3492h8v8h-8zM737 3485h8v8h-8zM832 3541h8v8h-8zM738 3557h8v8h-8zM742 3495h8v8h-8zM784 3509h8v8h-8zM778 3457h8v8h-8zM682 3527h8v8h-8zM733 3528h8v8h-8zM753 3459h8v8h-8zM741 3527h8v8h-8zM741 3542h8v8h-8zM735 3535h8v8h-8zM739 3512h8v8h-8zM785 3496h8v8h-8zM753 3535h8v8h-8zM745 3454h8v8h-8zM717 3581h8v8h-8zM819 3606h8v8h-8zM744 3518h8v8h-8zM837 3450h8v8h-8zM745 3519h8v8h-8zM708 3505h8v8h-8zM746 3496h8v8h-8zM742 3518h8v8h-8zM743 3487h8v8h-8zM753 3500h8v8h-8zM751 3541h8v8h-8zM818 3511h8v8h-8zM712 3474h8v8h-8zM706 3458h8v8h-8zM707 3536h8v8h-8zM819 3521h8v8h-8zM746 3472h8v8h-8zM765 3472h8v8h-8zM826 3504h8v8h-8zM762 3516h8v8h-8zM688 3520h8v8h-8zM777 3545h8v8h-8zM810 3449h8v8h-8zM864 3478h8v8h-8zM832 3527h8v8h-8zM762 3534h8v8h-8zM764 3459h8v8h-8zM763 3459h8v8h-8zM736 3531h8v8h-8zM828 3522h8v8h-8zM744 3551h8v8h-8zM736 3517h8v8h-8zM692 3525h8v8h-8zM674 3533h8v8h-8zM740 3525h8v8h-8zM783 3497h8v8h-8zM706 3575h8v8h-8zM728 3544h8v8h-8zM688 3517h8v8h-8zM699 3474h8v8h-8zM709 3503h8v8h-8zM800 3501h8v8h-8zM866 3459h8v8h-8zM813 3524h8v8h-8zM766 3522h8v8h-8zM724 3460h8v8h-8zM811 3475h8v8h-8zM706 3486h8v8h-8zM684 3526h8v8h-8zM813 3517h8v8h-8zM686 3482h8v8h-8zM806 3500h8v8h-8zM751 3470h8v8h-8zM799 3493h8v8h-8zM670 3458h8v8h-8zM780 3477h8v8h-8zM778 3484h8v8h-8zM786 3469h8v8h-8zM684 3478h8v8h-8zM732 3530h8v8h-8zM671 3511h8v8h-8zM825 3517h8v8h-8zM746 3481h8v8h-8zM741 3527h8v8h-8zM799 3477h8v8h-8zM727 3492h8v8h-8zM757 3524h8v8h-8zM732 3449h8v8h-8zM785 3540h8v8h-8zM637 3507h8v8h-8zM807 3448h8v8h-8zM757 3515h8v8h-8zM700 3474h8v8h-8zM811 3484h8v8h-8zM862 3494h8v8h-8zM715 3531h8v8h-8zM756 3555h8v8h-8zM757 3493h8v8h-8zM786 3614h8v8h-8zM679 3500h8v8h-8zM751 3483h8v8h-8zM715 3551h8v8h-8zM769 3530h8v8h-8zM707 3485h8v8h-8zM729 3582h8v8h-8zM724 3521h8v8h-8zM724 3500h8v8h-8zM755 3561h8v8h-8zM758 3518h8v8h-8zM685 3547h8v8h-8zM723 3488h8v8h-8zM744 3519h8v8h-8zM789 3528h8v8h-8zM823 3465h8v8h-8zM741 3531h8v8h-8zM774 3505h8v8h-8zM827 3549h8v8h-8zM793 3467h8v8h-8zM742 3476h8v8h-8zM744 3522h8v8h-8zM708 3543h8v8h-8zM844 3463h8v8h-8zM782 3553h8v8h-8zM743 3470h8v8h-8zM748 3531h8v8h-8zM825 3502h8v8h-8zM808 3514h8v8h-8zM808 3531h8v8h-8zM806 3475h8v8h-8zM731 3446h8v8h-8zM729 3610h8v8h-8zM775 3509h8v8h-8zM735 3575h8v8h-8zM770 3548h8v8h-8zM741 3504h8v8h-8zM748 3478h8v8h-8zM807 3480h8v8h-8zM723 3546h8v8h-8zM729 3516h8v8h-8zM837 3524h8v8h-8zM691 3523h8v8h-8zM773 3491h8v8h-8zM758 3503h8v8h-8zM736 3538h8v8h-8zM840 3478h8v8h-8zM725 3506h8v8h-8zM649 3473h8v8h-8zM813 3464h8v8h-8zM856 3480h8v8h-8zM677 3532h8v8h-8zM773 3485h8v8h-8zM759 3448h8v8h-8zM767 3501h8v8h-8zM796 3470h8v8h-8zM770 3486h8v8h-8zM776 3567h8v8h-8zM672 3539h8v8h-8zM689 3510h8v8h-8zM794 3454h8v8h-8zM765 3512h8v8h-8zM778 3447h8v8h-8zM796 3491h8v8h-8zM677 3527h8v8h-8zM671 3519h8v8h-8zM714 3540h8v8h-8zM786 3483h8v8h-8zM763 3493h8v8h-8zM695 3510h8v8h-8zM740 3581h8v8h-8zM753 3526h8v8h-8zM738 3512h8v8h-8zM750 3492h8v8h-8zM819 3488h8v8h-8zM751 3550h8v8h-8zM763 3534h8v8h-8zM724 3506h8v8h-8zM842 3453h8v8h-8zM779 3501h8v8h-8zM749 3528h8v8h-8zM758 3500h8v8h-8zM801 3531h8v8h-8zM716 3504h8v8h-8zM812 3479h8v8h-8zM689 3549h8v8h-8zM688 3482h8v8h-8zM713 3464h8v8h-8zM675 3444h8v8h-8zM775 3582h8v8h-8zM741 3557h8v8h-8zM769 3472h8v8h-8zM824 3510h8v8h-8zM703 3506h8v8h-8zM792 3472h8v8h-8zM732 3554h8v8h-8zM797 3479h8v8h-8zM808 3482h8v8h-8zM742 3518h8v8h-8zM790 3540h8v8h-8zM741 3553h8v8h-8zM830 3520h8v8h-8zM717 3540h8v8h-8zM764 3476h8v8h-8zM680 3498h8v8h-8zM716 3489h8v8h-8zM778 3547h8v8h-8zM784 3506h8v8h-8zM780 3513h8v8h-8zM892 3538h8v8h-8zM795 3445h8v8h-8zM697 3494h8v8h-8zM757 3502h8v8h-8zM794 3516h8v8h-8zM715 3532h8v8h-8zM695 3460h8v8h-8zM823 3458h8v8h-8zM764 3522h8v8h-8zM660 3488h8v8h-8zM747 3551h8v8h-8zM773 3550h8v8h-8zM777 3478h8v8h-8zM774 3457h8v8h-8zM772 3501h8v8h-8zM728 3502h8v8h-8zM742 3524h8v8h-8zM777 3486h8v8h-8zM743 3509h8v8h-8zM812 3552h8v8h-8zM712 3596h8v8h-8zM762 3527h8v8h-8zM779 3553h8v8h-8zM774 3601h8v8h-8zM767 3461h8v8h-8zM739 3580h8v8h-8zM732 3506h8v8h-8zM688 3502h8v8h-8zM731 3525h8v8h-8zM780 3511h8v8h-8zM835 3548h8v8h-8zM703 3584h8v8h-8zM682 3510h8v8h-8zM871 3546h8v8h-8zM696 3484h8v8h-8zM832 3510h8v8h-8zM804 3473h8v8h-8zM807 3523h8v8h-8zM739 3485h8v8h-8zM765 3521h8v8h-8zM776 3540h8v8h-8zM711 3527h8v8h-8zM828 3485h8v8h-8zM656 3454h8v8h-8zM733 3490h8v8h-8zM707 3543h8v8h-8zM748 3545h8v8h-8zM794 3508h8v8h-8zM716 3547h8v8h-8zM782 3429h8v8h-8zM677 3508h8v8h-8zM837 3474h8v8h-8zM739 3543h8v8h-8zM806 3530h8v8h-8zM760 3460h8v8h-8zM756 3563h8v8h-8zM778 3547h8v8h-8zM762 3537h8v8h-8zM795 3553h8v8h-8zM850 3420h8v8h-8zM687 3525h8v8h-8zM674 3540h8v8h-8zM805 3470h8v8h-8zM670 3530h8v8h-8zM835 3444h8v8h-8zM811 3515h8v8h-8zM818 3527h8v8h-8zM814 3526h8v8h-8zM748 3517h8v8h-8zM768 3483h8v8h-8zM743 3468h8v8h-8zM817 3469h8v8h-8zM900 3438h8v8h-8zM783 3541h8v8h-8zM746 3552h8v8h-8zM779 3442h8v8h-8zM652 3522h8v8h-8zM757 3448h8v8h-8zM816 3461h8v8h-8zM769 3507h8v8h-8zM779 3549h8v8h-8zM812 3515h8v8h-8zM804 3569h8v8h-8zM787 3521h8v8h-8zM762 3527h8v8h-8zM823 3410h8v8h-8zM724 3538h8v8h-8zM751 3487h8v8h-8zM796 3518h8v8h-8zM795 3505h8v8h-8zM820 3550h8v8h-8zM701 3513h8v8h-8zM714 3517h8v8h-8zM775 3505h8v8h-8zM695 3558h8v8h-8zM803 3510h8v8h-8zM788 3578h8v8h-8zM797 3537h8v8h-8zM725 3526h8v8h-8zM764 3496h8v8h-8zM740 3490h8v8h-8zM687 3515h8v8h-8zM723 3595h8v8h-8zM801 3525h8v8h-8zM754 3526h8v8h-8zM731 3471h8v8h-8zM753 3495h8v8h-8zM829 3532h8v8h-8zM744 3469h8v8h-8zM763 3558h8v8h-8zM785 3517h8v8h-8zM667 3526h8v8h-8zM723 3463h8v8h-8zM733 3502h8v8h-8zM784 3490h8v8h-8zM745 3545h8v8h-8zM751 3582h8v8h-8zM696 3448h8v8h-8zM694 3502h8v8h-8zM819 3471h8v8h-8zM764 3552h8v8h-8zM822 3481h8v8h-8zM711 3484h8v8h-8zM763 3545h8v8h-8zM796 3535h8v8h-8zM740 3517h8v8h-8zM755 3525h8v8h-8zM683 3528h8v8h-8zM651 3505h8v8h-8zM702 3576h8v8h-8zM671 3500h8v8h-8zM683 3482h8v8h-8zM755 3495h8v8h-8zM738 3482h8v8h-8zM800 3485h8v8h-8zM813 3534h8v8h-8zM795 3457h8v8h-8zM771 3496h8v8h-8zM742 3469h8v8h-8zM789 3511h8v8h-8zM688 3584h8v8h-8zM712 3537h8v8h-8zM805 3530h8v8h-8zM743 3554h8v8h-8zM798 3467h8v8h-8zM777 3476h8v8h-8zM767 3541h8v8h-8zM795 3551h8v8h-8zM756 3525h8v8h-8zM719 3541h8v8h-8zM738 3442h8v8h-8zM791 3572h8v8h-8zM701 3512h8v8h-8zM827 3492h8v8h-8zM754 3594h8v8h-8zM773 3525h8v8h-8zM796 3444h8v8h-8zM810 3502h8v8h-8zM709 3497h8v8h-8zM761 3476h8v8h-8zM706 3583h8v8h-8zM766 3489h8v8h-8zM775 3548h8v8h-8zM769 3466h8v8h-8zM752 3512h8v8h-8zM735 3511h8v8h-8zM749 3555h8v8h-8zM653 3514h8v8h-8zM756 3445h8v8h-8zM763 3511h8v8h-8zM787 3513h8v8h-8zM797 3544h8v8h-8zM753 3506h8v8h-8zM765 3498h8v8h-8zM761 3467h8v8h-8zM790 3485h8v8h-8zM752 3506h8v8h-8zM834 3548h8v8h-8zM818 3410h8v8h-8zM712 3465h8v8h-8zM724 3552h8v8h-8zM709 3498h8v8h-8zM745 3471h8v8h-8zM729 3544h8v8h-8zM766 3531h8v8h-8zM766 3514h8v8h-8zM745 3488h8v8h-8zM719 3550h8v8h-8zM724 3540h8v8h-8zM817 3554h8v8h-8zM744 3530h8v8h-8zM776 3566h8v8h-8zM738 3473h8v8h-8zM832 3486h8v8h-8zM734 3514h8v8h-8zM718 3484h8v8h-8zM722 3524h8v8h-8zM769 3480h8v8h-8zM703 3535h8v8h-8zM652 3541h8v8h-8zM813 3500h8v8h-8zM842 3490h8v8h-8zM839 3487h8v8h-8zM732 3487h8v8h-8zM792 3535h8v8h-8zM790 3488h8v8h-8zM805 3510h8v8h-8zM752 3494h8v8h-8zM744 3487h8v8h-8zM777 3504h8v8h-8zM735 3527h8v8h-8zM705 3506h8v8h-8zM786 3502h8v8h-8zM865 3523h8v8h-8zM735 3441h8v8h-8zM752 3509h8v8h-8zM670 3480h8v8h-8zM825 3452h8v8h-8zM806 3462h8v8h-8zM714 3554h8v8h-8zM747 3508h8v8h-8zM669 3487h8v8h-8zM789 3498h8v8h-8zM748 3486h8v8h-8zM806 3512h8v8h-8zM776 3436h8v8h-8zM788 3542h8v8h-8zM732 3518h8v8h-8zM747 3541h8v8h-8zM841 3465h8v8h-8zM702 3553h8v8h-8zM686 3491h8v8h-8zM830 3533h8v8h-8zM752 3464h8v8h-8zM791 3499h8v8h-8zM771 3487h8v8h-8zM776 3533h8v8h-8zM691 3493h8v8h-8zM725 3424h8v8h-8zM740 3455h8v8h-8zM729 3538h8v8h-8zM762 3538h8v8h-8zM752 3463h8v8h-8zM664 3459h8v8h-8zM809 3480h8v8h-8zM673 3492h8v8h-8zM788 3509h8v8h-8zM740 3565h8v8h-8zM779 3514h8v8h-8zM818 3495h8v8h-8zM713 3468h8v8h-8zM748 3509h8v8h-8zM752 3503h8v8h-8zM676 3458h8v8h-8zM674 3558h8v8h-8zM762 3476h8v8h-8zM779 3522h8v8h-8zM734 3544h8v8h-8zM637 3506h8v8h-8zM759 3540h8v8h-8zM809 3480h8v8h-8zM740 3610h8v8h-8zM734 3479h8v8h-8zM732 3518h8v8h-8zM741 3499h8v8h-8zM657 3460h8v8h-8zM713 3493h8v8h-8zM713 3477h8v8h-8zM703 3560h8v8h-8zM725 3436h8v8h-8zM802 3539h8v8h-8zM762 3553h8v8h-8zM756 3528h8v8h-8zM697 3503h8v8h-8zM768 3484h8v8h-8zM752 3538h8v8h-8zM729 3416h8v8h-8zM771 3510h8v8h-8zM747 3522h8v8h-8zM775 3482h8v8h-8zM667 3539h8v8h-8zM719 3518h8v8h-8zM784 3523h8v8h-8zM828 3571h8v8h-8zM758 3571h8v8h-8zM740 3513h8v8h-8zM738 3557h8v8h-8zM760 3455h8v8h-8zM833 3454h8v8h-8zM752 3466h8v8h-8zM698 3508h8v8h-8zM705 3476h8v8h-8zM734 3521h8v8h-8zM801 3477h8v8h-8zM719 3533h8v8h-8zM679 3517h8v8h-8zM765 3491h8v8h-8zM718 3477h8v8h-8zM696 3474h8v8h-8zM823 3487h8v8h-8zM790 3560h8v8h-8zM877 3498h8v8h-8zM841 3499h8v8h-8zM794 3479h8v8h-8zM739 3543h8v8h-8zM773 3464h8v8h-8zM709 3527h8v8h-8zM781 3486h8v8h-8zM787 3479h8v8h-8zM731 3461h8v8h-8zM733 3528h8v8h-8zM697 3491h8v8h-8zM751 3499h8v8h-8zM751 3504h8v8h-8zM858 3486h8v8h-8zM735 3489h8v8h-8zM866 3499h8v8h-8zM725 3477h8v8h-8zM736 3543h8v8h-8zM730 3501h8v8h-8zM766 3495h8v8h-8zM682 3556h8v8h-8zM813 3484h8v8h-8zM807 3458h8v8h-8zM735 3497h8v8h-8zM754 3477h8v8h-8zM827 3530h8v8h-8zM761 3530h8v8h-8zM798 3533h8v8h-8zM761 3455h8v8h-8zM775 3460h8v8h-8zM727 3516h8v8h-8zM760 3561h8v8h-8zM802 3511h8v8h-8zM781 3540h8v8h-8zM695 3501h8v8h-8zM822 3554h8v8h-8zM736 3478h8v8h-8zM686 3571h8v8h-8zM767 3499h8v8h-8zM776 3548h8v8h-8zM849 3514h8v8h-8zM803 3456h8v8h-8zM756 3575h8v8h-8zM740 3547h8v8h-8zM765 3518h8v8h-8zM765 3492h8v8h-8zM766 3511h8v8h-8zM768 3441h8v8h-8zM760 3577h8v8h-8zM792 3499h8v8h-8zM722 3541h8v8h-8zM729 3601h8v8h-8zM768 3480h8v8h-8zM809 3472h8v8h-8zM738 3465h8v8h-8zM746 3554h8v8h-8zM741 3498h8v8h-8zM793 3502h8v8h-8zM798 3496h8v8h-8zM789 3509h8v8h-8zM663 3563h8v8h-8zM731 3533h8v8h-8zM784 3485h8v8h-8zM764 3441h8v8h-8zM722 3477h8v8h-8zM827 3497h8v8h-8zM692 3506h8v8h-8zM806 3473h8v8h-8zM731 3525h8v8h-8zM826 3517h8v8h-8zM766 3542h8v8h-8zM801 3503h8v8h-8zM709 3479h8v8h-8zM718 3525h8v8h-8zM761 3531h8v8h-8zM831 3526h8v8h-8zM744 3537h8v8h-8zM772 3521h8v8h-8zM756 3521h8v8h-8zM729 3527h8v8h-8zM775 3554h8v8h-8zM827 3531h8v8h-8zM722 3525h8v8h-8zM784 3472h8v8h-8zM725 3514h8v8h-8zM710 3509h8v8h-8zM761 3463h8v8h-8zM773 3522h8v8h-8zM796 3537h8v8h-8zM724 3488h8v8h-8zM795 3503h8v8h-8zM818 3516h8v8h-8zM746 3570h8v8h-8zM756 3516h8v8h-8zM675 3562h8v8h-8zM743 3512h8v8h-8zM762 3472h8v8h-8zM759 3592h8v8h-8zM708 3469h8v8h-8zM778 3531h8v8h-8zM757 3434h8v8h-8zM702 3463h8v8h-8zM703 3534h8v8h-8zM724 3477h8v8h-8zM722 3532h8v8h-8zM783 3524h8v8h-8zM757 3492h8v8h-8zM788 3454h8v8h-8zM694 3548h8v8h-8zM798 3502h8v8h-8zM673 3495h8v8h-8zM753 3532h8v8h-8zM743 3479h8v8h-8zM778 3518h8v8h-8zM720 3534h8v8h-8zM715 3402h8v8h-8zM773 3605h8v8h-8zM733 3451h8v8h-8zM780 3538h8v8h-8zM717 3474h8v8h-8zM762 3490h8v8h-8zM717 3544h8v8h-8zM719 3503h8v8h-8zM895 3549h8v8h-8zM775 3510h8v8h-8zM746 3488h8v8h-8zM781 3502h8v8h-8zM732 3486h8v8h-8zM777 3449h8v8h-8zM785 3525h8v8h-8zM703 3483h8v8h-8zM741 3577h8v8h-8zM740 3547h8v8h-8zM705 3495h8v8h-8zM707 3581h8v8h-8zM691 3544h8v8h-8zM796 3533h8v8h-8zM681 3531h8v8h-8zM822 3474h8v8h-8zM840 3504h8v8h-8zM778 3498h8v8h-8zM819 3513h8v8h-8zM727 3568h8v8h-8zM683 3525h8v8h-8zM758 3515h8v8h-8zM793 3539h8v8h-8zM662 3467h8v8h-8zM742 3446h8v8h-8zM709 3527h8v8h-8zM854 3509h8v8h-8zM706 3504h8v8h-8zM783 3520h8v8h-8zM783 3428h8v8h-8zM855 3502h8v8h-8zM785 3505h8v8h-8zM742 3504h8v8h-8zM845 3558h8v8h-8zM760 3515h8v8h-8zM730 3462h8v8h-8zM649 3506h8v8h-8zM842 3514h8v8h-8zM792 3472h8v8h-8zM714 3495h8v8h-8zM779 3429h8v8h-8zM792 3463h8v8h-8zM749 3544h8v8h-8zM880 3486h8v8h-8zM753 3537h8v8h-8zM744 3450h8v8h-8zM711 3520h8v8h-8zM767 3520h8v8h-8zM783 3511h8v8h-8zM696 3552h8v8h-8zM724 3446h8v8h-8zM681 3552h8v8h-8zM822 3454h8v8h-8zM812 3534h8v8h-8zM715 3564h8v8h-8zM712 3438h8v8h-8zM798 3492h8v8h-8zM742 3525h8v8h-8zM774 3472h8v8h-8zM868 3475h8v8h-8zM761 3500h8v8h-8zM759 3488h8v8h-8zM714 3468h8v8h-8zM761 3494h8v8h-8zM712 3537h8v8h-8zM794 3487h8v8h-8zM728 3540h8v8h-8zM812 3499h8v8h-8zM824 3443h8v8h-8zM796 3570h8v8h-8zM870 3523h8v8h-8zM699 3541h8v8h-8zM762 3476h8v8h-8zM694 3496h8v8h-8zM750 3608h8v8h-8zM703 3485h8v8h-8zM732 3509h8v8h-8zM705 3536h8v8h-8zM705 3501h8v8h-8zM835 3515h8v8h-8zM747 3487h8v8h-8zM736 3468h8v8h-8zM803 3558h8v8h-8zM791 3480h8v8h-8zM764 3497h8v8h-8zM780 3529h8v8h-8zM831 3513h8v8h-8zM798 3556h8v8h-8zM751 3478h8v8h-8zM779 3509h8v8h-8zM748 3510h8v8h-8zM805 3543h8v8h-8zM740 3466h8v8h-8zM747 3530h8v8h-8zM824 3445h8v8h-8zM704 3538h8v8h-8zM750 3519h8v8h-8zM717 3441h8v8h-8zM848 3514h8v8h-8zM770 3461h8v8h-8zM738 3541h8v8h-8zM733 3514h8v8h-8zM701 3545h8v8h-8zM746 3462h8v8h-8zM719 3527h8v8h-8zM776 3492h8v8h-8zM740 3538h8v8h-8zM747 3512h8v8h-8zM807 3459h8v8h-8zM718 3459h8v8h-8zM831 3516h8v8h-8zM786 3486h8v8h-8zM756 3503h8v8h-8zM780 3503h8v8h-8zM753 3480h8v8h-8zM742 3425h8v8h-8zM768 3549h8v8h-8zM823 3560h8v8h-8zM782 3515h8v8h-8zM821 3517h8v8h-8zM754 3519h8v8h-8zM723 3555h8v8h-8zM758 3480h8v8h-8zM821 3485h8v8h-8zM731 3563h8v8h-8zM732 3483h8v8h-8zM812 3557h8v8h-8zM822 3456h8v8h-8zM771 3476h8v8h-8zM752 3424h8v8h-8zM821 3488h8v8h-8zM851 3524h8v8h-8zM807 3505h8v8h-8zM732 3425h8v8h-8zM714 3513h8v8h-8zM742 3554h8v8h-8zM746 3553h8v8h-8zM735 3465h8v8h-8zM772 3459h8v8h-8zM714 3542h8v8h-8zM737 3509h8v8h-8zM736 3482h8v8h-8zM766 3493h8v8h-8zM721 3479h8v8h-8zM674 3524h8v8h-8zM714 3451h8v8h-8zM811 3505h8v8h-8zM707 3517h8v8h-8zM749 3477h8v8h-8zM868 3439h8v8h-8zM839 3522h8v8h-8zM888 3530h8v8h-8zM689 3493h8v8h-8zM810 3457h8v8h-8zM798 3522h8v8h-8zM783 3574h8v8h-8zM708 3523h8v8h-8zM792 3541h8v8h-8zM703 3537h8v8h-8z" fill="#ff0000" fill-opacity="1.0"/>
<path transform="scale(0.1)" d="M785 3521h8v8h-8zM658 3551h8v8h-8zM764 3475h8v8h-8zM704 3546h8v8h-8zM696 3570h8v8h-8zM801 3474h8v8h-8zM706 3565h8v8h-8zM802 3521h8v8h-8zM723 3517h8v8h-8zM912 3418h8v8h-8zM852 3518h8v8h-8zM827 3509h8v8h-8zM810 3468h8v8h-8zM739 3526h8v8h-8zM794 3536h8v8h-8zM682 3479h8v8h-8zM755 3416h8v8h-8zM622 3580h8v8h-8zM803 3507h8v8h-8zM725 3468h8v8h-8zM719 3481h8v8h-8zM721 3561h8v8h-8zM849 3502h8v8h-8zM851 3445h8v8h-8zM781 3491h8v8h-8zM876 3483h8v8h-8zM839 3481h8v8h-8zM740 3584h8v8h-8zM781 3517h8v8h-8zM811 3474h8v8h-8zM691 3553h8v8h-8zM750 3390h8v8h-8zM792 3522h8v8h-8zM685 3491h8v8h-8zM746 3493h8v8h-8zM764 3492h8v8h-8zM761 3538h8v8h-8zM797 3486h8v8h-8zM791 3472h8v8h-8zM822 3460h8v8h-8zM771 3462h8v8h-8zM717 3499h8v8h-8zM713 3489h8v8h-8zM698 3486h8v8h-8zM806 3510h8v8h-8zM656 3514h8v8h-8zM770 3462h8v8h-8zM782 3439h8v8h-8zM798 3582h8v8h-8zM816 3505h8v8h-8zM779 3472h8v8h-8zM713 3571h8v8h-8zM674 3437h8v8h-8zM713 3498h8v8h-8zM762 3551h8v8h-8zM829 3510h8v8h-8zM826 3486h8v8h-8zM811 3534h8v8h-8zM852 3460h8v8h-8zM751 3440h8v8h-8zM630 3591h8v8h-8zM680 3502h8v8h-8zM785 3496h8v8h-8zM731 3497h8v8h-8zM724 3430h8v8h-8zM664 3461h8v8h-8zM704 3544h8v8h-8zM738 3482h8v8h-8zM712 3507h8v8h-8zM762 3533h8v8h-8zM793 3447h8v8h-8zM772 3423h8v8h-8zM794 3531h8v8h-8zM742 3496h8v8h-8zM856 3384h8v8h-8zM783 3476h8v8h-8zM727 3545h8v8h-8zM750 3524h8v8h-8zM735 3555h8v8h-8zM760 3583h8v8h-8zM790 3534h8v8h-8zM865 3461h8v8h-8zM737 3481h8v8h-8zM724 3547h8v8h-8zM867 3506h8v8h-8zM741 3516h8v8h-8zM700 3501h8v8h-8zM854 3464h8v8h-8zM607 3527h8v8h-8zM769 3456h8v8h-8zM819 3527h8v8h-8zM811 3628h8v8h-8zM842 3491h8v8h-8zM794 3502h8v8h-8zM773 3551h8v8h-8zM648 3511h8v8h-8zM855 3457h8v8h-8zM789 3503h8v8h-8zM802 3524h8v8h-8zM729 3514h8v8h-8zM670 3445h8v8h-8zM794 3445h8v8h-8zM685 3529h8v8h-8zM723 3484h8v8h-8zM685 3612h8v8h-8zM590 3591h8v8h-8zM732 3442h8v8h-8zM792 3575h8v8h-8zM695 3521h8v8h-8zM690 3545h8v8h-8zM890 3557h8v8h-8zM779 3448h8v8h-8zM743 3482h8v8h-8zM810 3444h8v8h-8zM818 3480h8v8h-8zM755 3504h8v8h-8zM803 3538h8v8h-8zM872 3485h8v8h-8zM799 3518h8v8h-8zM719 3523h8v8h-8zM798 3583h8v8h-8zM836 3511h8v8h-8zM770 3551h8v8h-8zM793 3491h8v8h-8zM763 3530h8v8h-8zM797 3506h8v8h-8zM649 3527h8v8h-8zM722 3506h8v8h-8zM619 3548h8v8h-8zM770 3410h8v8h-8zM639 3507h8v8h-8zM728 3574h8v8h-8zM650 3506h8v8h-8zM819 3478h8v8h-8zM737 3506h8v8h-8zM686 3575h8v8h-8zM701 3532h8v8h-8zM643 3531h8v8h-8zM683 3498h8v8h-8zM780 3506h8v8h-8zM807 3452h8v8h-8zM783 3440h8v8h-8zM742 3499h8v8h-8zM737 3495h8v8h-8zM712 3494h8v8h-8zM795 3537h8v8h-8zM715 3438h8v8h-8zM675 3487h8v8h-8zM734 3541h8v8h-8zM688 3448h8v8h-8zM815 3476h8v8h-8zM817 3512h8v8h-8zM667 3483h8v8h-8zM695 3483h8v8h-8zM710 3567h8v8h-8zM726 3508h8v8h-8zM652 3581h8v8h-8zM689 3458h8v8h-8zM786 3478h8v8h-8zM745 3453h8v8h-8zM743 3490h8v8h-8zM771 3460h8v8h-8zM690 3517h8v8h-8zM774 3576h8v8h-8zM715 3524h8v8h-8zM891 3439h8v8h-8zM748 3507h8v8h-8zM611 3553h8v8h-8zM818 3432h8v8h-8zM614 3568h8v8h-8zM841 3407h8v8h-8zM742 3556h8v8h-8zM703 3536h8v8h-8zM796 3521h8v8h-8zM823 3499h8v8h-8zM766 3543h8v8h-8zM771 3587h8v8h-8zM669 3521h8v8h-8zM743 3505h8v8h-8zM783 3539h8v8h-8zM830 3477h8v8h-8zM832 3482h8v8h-8zM773 3562h8v8h-8zM846 3492h8v8h-8zM722 3548h8v8h-8zM662 3477h8v8h-8zM784 3495h8v8h-8zM813 3470h8v8h-8zM714 3438h8v8h-8zM815 3537h8v8h-8zM832 3504h8v8h-8zM700 3477h8v8h-8zM817 3472h8v8h-8zM834 3524h8v8h-8zM766 3502h8v8h-8zM754 3465h8v8h-8zM728 3540h8v8h-8zM711 3563h8v8h-8zM779 3556h8v8h-8zM710 3518h8v8h-8zM682 3603h8v8h-8zM712 3584h8v8h-8zM674 3510h8v8h-8zM831 3541h8v8h-8zM821 3450h8v8h-8zM742 3502h8v8h-8zM629 3566h8v8h-8zM722 3516h8v8h-8zM756 3524h8v8h-8zM750 3588h8v8h-8zM740 3546h8v8h-8zM735 3569h8v8h-8zM640 3466h8v8h-8zM614 3533h8v8h-8zM726 3572h8v8h-8zM659 3484h8v8h-8zM783 3527h8v8h-8zM808 3477h8v8h-8zM793 3481h8v8h-8zM811 3533h8v8h-8zM616 3579h8v8h-8zM727 3488h8v8h-8zM858 3527h8v8h-8zM759 3495h8v8h-8zM702 3548h8v8h-8zM826 3494h8v8h-8zM817 3471h8v8h-8zM834 3462h8v8h-8zM756 3587h8v8h-8zM762 3479h8v8h-8zM834 3497h8v8h-8zM612 3471h8v8h-8zM751 3450h8v8h-8zM729 3512h8v8h-8zM790 3489h8v8h-8zM638 3475h8v8h-8zM727 3498h8v8h-8zM745 3608h8v8h-8zM801 3447h8v8h-8zM698 3507h8v8h-8zM795 3498h8v8h-8zM788 3439h8v8h-8zM812 3435h8v8h-8zM726 3404h8v8h-8zM627 3516h8v8h-8zM719 3475h8v8h-8zM752 3456h8v8h-8zM752 3592h8v8h-8zM763 3467h8v8h-8zM823 3567h8v8h-8zM784 3494h8v8h-8zM829 3489h8v8h-8zM747 3489h8v8h-8zM719 3528h8v8h-8zM714 3520h8v8h-8zM771 3529h8v8h-8zM711 3517h8v8h-8zM799 3530h8v8h-8zM818 3498h8v8h-8zM732 3511h8v8h-8zM752 3501h8v8h-8zM739 3533h8v8h-8zM785 3570h8v8h-8zM898 3508h8v8h-8zM668 3517h8v8h-8zM752 3447h8v8h-8zM855 3523h8v8h-8zM844 3574h8v8h-8zM912 3537h8v8h-8zM739 3486h8v8h-8zM733 3547h8v8h-8zM703 3432h8v8h-8zM730 3498h8v8h-8zM754 3463h8v8h-8zM636 3506h8v8h-8zM636 3537h8v8h-8zM795 3564h8v8h-8zM706 3517h8v8h-8zM771 3518h8v8h-8zM710 3537h8v8h-8zM871 3490h8v8h-8zM731 3492h8v8h-8zM704 3506h8v8h-8zM793 3514h8v8h-8zM728 3539h8v8h-8zM828 3536h8v8h-8zM670 3568h8v8h-8zM776 3434h8v8h-8zM661 3521h8v8h-8zM764 3572h8v8h-8zM862 3522h8v8h-8zM698 3553h8v8h-8zM777 3485h8v8h-8zM657 3440h8v8h-8zM804 3544h8v8h-8zM823 3526h8v8h-8zM704 3610h8v8h-8zM779 3590h8v8h-8zM717 3507h8v8h-8zM709 3564h8v8h-8zM805 3558h8v8h-8zM756 3512h8v8h-8zM758 3577h8v8h-8zM810 3541h8v8h-8zM838 3520h8v8h-8zM718 3488h8v8h-8zM713 3575h8v8h-8zM694 3491h8v8h-8zM689 3575h8v8h-8zM759 3547h8v8h-8zM735 3537h8v8h-8zM707 3500h8v8h-8zM740 3491h8v8h-8zM838 3446h8v8h-8zM887 3508h8v8h-8zM773 3512h8v8h-8zM802 3496h8v8h-8zM736 3485h8v8h-8zM777 3552h8v8h-8zM773 3530h8v8h-8zM794 3489h8v8h-8zM753 3531h8v8h-8zM820 3512h8v8h-8zM767 3508h8v8h-8zM795 3531h8v8h-8zM789 3491h8v8h-8zM750 3515h8v8h-8zM779 3500h8v8h-8zM687 3581h8v8h-8zM736 3533h8v8h-8zM794 3581h8v8h-8zM757 3456h8v8h-8zM668 3569h8v8h-8zM725 3435h8v8h-8zM706 3515h8v8h-8zM714 3557h8v8h-8zM716 3476h8v8h-8zM781 3550h8v8h-8zM777 3534h8v8h-8zM724 3501h8v8h-8zM748 3486h8v8h-8zM775 3481h8v8h-8zM807 3433h8v8h-8zM719 3477h8v8h-8zM723 3548h8v8h-8zM811 3529h8v8h-8zM683 3425h8v8h-8zM833 3506h8v8h-8zM823 3508h8v8h-8zM800 3504h8v8h-8z" fill="#ff7070" fill-opacity="1.0"/>
<path transform="scale(0.1)" d="M1307 3534h8v8h-8zM1392 3435h8v8h-8zM1254 3510h8v8h-8zM1334 3452h8v8h-8zM1352 3459h8v8h-8zM1223 3549h8v8h-8zM1295 3537h8v8h-8zM1335 3459h8v8h-8zM1290 3426h8v8h-8zM1345 3517h8v8h-8zM1280 3508h8v8h-8zM1349 3516h8v8h-8zM1371 3526h8v8h-8zM1239 3565h8v8h-8zM1254 3502h8v8h-8zM1240 3550h8v8h-8zM1285 3504h8v8h-8zM1244 3507h8v8h-8zM1399 3441h8v8h-8zM1317 3468h8v8h-8zM1309 3557h8v8h-8zM1316 3515h8v8h-8zM1303 3459h8v8h-8zM1324 3526h8v8h-8zM1330 3508h8v8h-8zM1325 3500h8v8h-8zM1283 3521h8v8h-8zM1258 3507h8v8h-8zM1316 3478h8v8h-8zM1351 3502h8v8h-8zM1336 3512h8v8h-8zM1261 3584h8v8h-8zM1354 3528h8v8h-8zM1290 3565h8v8h-8zM1232 3509h8v8h-8zM1309 3532h8v8h-8zM1244 3544h8v8h-8zM1364 3536h8v8h-8zM1317 3480h8v8h-8zM1271 3508h8v8h-8zM1284 3539h8v8h-8zM1306 3533h8v8h-8zM1286 3506h8v8h-8zM1271 3485h8v8h-8zM1394 3451h8v8h-8zM1287 3477h8v8h-8zM1281 3508h8v8h-8zM1220 3520h8v8h-8zM1332 3499h8v8h-8zM1325 3544h8v8h-8zM1337 3489h8v8h-8zM1268 3563h8v8h-8zM1374 3457h8v8h-8zM1264 3521h8v8h-8zM1261 3565h8v8h-8zM1303 3425h8v8h-8zM1300 3604h8v8h-8zM1341 3446h8v8h-8zM1322 3463h8v8h-8zM1379 3464h8v8h-8zM1346 3498h8v8h-8zM1285 3525h8v8h-8zM1238 3500h8v8h-8zM1301 3572h8v8h-8zM1255 3525h8v8h-8zM1271 3495h8v8h-8zM1318 3514h8v8h-8zM1286 3563h8v8h-8zM1345 3472h8v8h-8zM1218 3527h8v8h-8zM1252 3575h8v8h-8zM1346 3500h8v8h-8zM1320 3531h8v8h-8zM1338 3504h8v8h-8zM1247 3518h8v8h-8zM1253 3494h8v8h-8zM1344 3526h8v8h-8zM1212 3564h8v8h-8zM1329 3500h8v8h-8zM1206 3524h8v8h-8zM1363 3501h8v8h-8zM1327 3563h8v8h-8zM1296 3506h8v8h-8zM1322 3517h8v8h-8zM1316 3524h8v8h-8zM1262 3540h8v8h-8zM1243 3529h8v8h-8zM1291 3506h8v8h-8zM1325 3512h8v8h-8zM1260 3578h8v8h-8zM1310 3481h8v8h-8zM1388 3440h8v8h-8zM1298 3531h8v8h-8zM1297 3466h8v8h-8zM1231 3542h8v8h-8zM1370 3539h8v8h-8zM1296 3492h8v8h-8zM1287 3555h8v8h-8zM1250 3516h8v8h-8zM1353 3472h8v8h-8zM1306 3497h8v8h-8zM1322 3496h8v8h-8zM1293 3499h8v8h-8zM1254 3542h8v8h-8zM1317 3527h8v8h-8zM1323 3428h8v8h-8zM1270 3554h8v8h-8zM1269 3528h8v8h-8zM1299 3531h8v8h-8zM1285 3482h8v8h-8zM1370 3544h8v8h-8zM1400 3450h8v8h-8zM1288 3501h8v8h-8zM1272 3519h8v8h-8zM1349 3533h8v8h-8zM1323 3469h8v8h-8zM1310 3486h8v8h-8zM1303 3532h8v8h-8zM1343 3521h8v8h-8zM1318 3493h8v8h-8zM1319 3460h8v8h-8zM1335 3476h8v8h-8zM1192 3584h8v8h-8zM1314 3456h8v8h-8zM1313 3477h8v8h-8zM1298 3521h8v8h-8zM1276 3549h8v8h-8zM1230 3522h8v8h-8zM1209 3502h8v8h-8zM1289 3522h8v8h-8zM1232 3500h8v8h-8zM1367 3459h8v8h-8zM1329 3495h8v8h-8zM1296 3508h8v8h-8zM1352 3508h8v8h-8zM1320 3497h8v8h-8zM1293 3472h8v8h-8zM1371 3480h8v8h-8zM1321 3515h8v8h-8zM1313 3449h8v8h-8zM1333 3506h8v8h-8zM1330 3423h8v8h-8zM1338 3521h8v8h-8zM1292 3487h8v8h-8zM1301 3507h8v8h-8zM1339 3448h8v8h-8zM1322 3488h8v8h-8zM1334 3443h8v8h-8zM1258 3524h8v8h-8zM1301 3557h8v8h-8zM1286 3571h8v8h-8zM1319 3512h8v8h-8zM1345 3493h8v8h-8zM1297 3490h8v8h-8zM1321 3457h8v8h-8zM1321 3449h8v8h-8zM1342 3481h8v8h-8zM1322 3510h8v8h-8zM1309 3517h8v8h-8zM1299 3517h8v8h-8zM1311 3454h8v8h-8zM1379 3496h8v8h-8zM1388 3449h8v8h-8zM1336 3482h8v8h-8zM1287 3615h8v8h-8zM1320 3483h8v8h-8zM1347 3528h8v8h-8zM1235 3551h8v8h-8zM1293 3432h8v8h-8zM1389 3434h8v8h-8zM1314 3443h8v8h-8zM1260 3528h8v8h-8zM1288 3511h8v8h-8zM1223 3510h8v8h-8zM1291 3486h8v8h-8zM1287 3438h8v8h-8zM1291 3469h8v8h-8zM1291 3505h8v8h-8zM1291 3490h8v8h-8zM1340 3444h8v8h-8zM1312 3495h8v8h-8zM1282 3495h8v8h-8zM1301 3554h8v8h-8zM1217 3565h8v8h-8zM1293 3526h8v8h-8zM1392 3468h8v8h-8zM1365 3477h8v8h-8zM1335 3532h8v8h-8zM1269 3581h8v8h-8zM1309 3466h8v8h-8zM1311 3524h8v8h-8zM1309 3548h8v8h-8zM1363 3509h8v8h-8zM1386 3512h8v8h-8zM1348 3461h8v8h-8zM1384 3463h8v8h-8zM1286 3551h8v8h-8zM1381 3500h8v8h-8zM1309 3460h8v8h-8zM1344 3494h8v8h-8zM1241 3483h8v8h-8zM1338 3526h8v8h-8zM1305 3481h8v8h-8zM1334 3483h8v8h-8zM1276 3535h8v8h-8zM1245 3556h8v8h-8zM1298 3497h8v8h-8zM1343 3403h8v8h-8zM1301 3473h8v8h-8zM1286 3479h8v8h-8zM1290 3555h8v8h-8zM1370 3512h8v8h-8zM1302 3540h8v8h-8zM1253 3466h8v8h-8zM1373 3479h8v8h-8zM1312 3501h8v8h-8zM1332 3471h8v8h-8zM1243 3568h8v8h-8zM1304 3502h8v8h-8zM1332 3558h8v8h-8zM1353 3511h8v8h-8zM1339 3525h8v8h-8zM1371 3521h8v8h-8zM1326 3471h8v8h-8zM1294 3503h8v8h-8zM1247 3494h8v8h-8zM1375 3514h8v8h-8zM1338 3496h8v8h-8zM1402 3470h8v8h-8zM1288 3509h8v8h-8zM1356 3490h8v8h-8zM1355 3404h8v8h-8zM1360 3518h8v8h-8zM1270 3560h8v8h-8zM1299 3529h8v8h-8zM1298 3533h8v8h-8zM1367 3516h8v8h-8zM1318 3451h8v8h-8zM1273 3488h8v8h-8zM1271 3474h8v8h-8zM1304 3537h8v8h-8zM1251 3517h8v8h-8zM1267 3489h8v8h-8zM1306 3541h8v8h-8zM1354 3541h8v8h-8zM1322 3468h8v8h-8zM1311 3497h8v8h-8zM1261 3478h8v8h-8zM1268 3539h8v8h-8zM1228 3558h8v8h-8zM1325 3485h8v8h-8zM1311 3476h8v8h-8zM1286 3551h8v8h-8zM1304 3518h8v8h-8zM1369 3506h8v8h-8zM1316 3455h8v8h-8zM1334 3522h8v8h-8zM1261 3522h8v8h-8zM1319 3513h8v8h-8zM1348 3458h8v8h-8zM1215 3514h8v8h-8zM1374 3534h8v8h-8zM1269 3499h8v8h-8zM1301 3525h8v8h-8zM1291 3471h8v8h-8zM1356 3436h8v8h-8zM1337 3543h8v8h-8zM1283 3502h8v8h-8zM1287 3492h8v8h-8zM1330 3517h8v8h-8zM1286 3490h8v8h-8zM1281 3523h8v8h-8zM1290 3507h8v8h-8zM1356 3513h8v8h-8zM1248 3494h8v8h-8zM1248 3506h8v8h-8zM1326 3526h8v8h-8zM1281 3484h8v8h-8zM1245 3491h8v8h-8zM1337 3516h8v8h-8zM1279 3514h8v8h-8zM1263 3447h8v8h-8zM1251 3498h8v8h-8zM1371 3499h8v8h-8zM1299 3514h8v8h-8zM1378 3486h8v8h-8zM1336 3482h8v8h-8zM1276 3477h8v8h-8zM1373 3499h8v8h-8zM1310 3504h8v8h-8zM1347 3484h8v8h-8zM1252 3554h8v8h-8zM1250 3532h8v8h-8zM1289 3547h8v8h-8zM1273 3514h8v8h-8zM1352 3493h8v8h-8zM1334 3445h8v8h-8zM1263 3506h8v8h-8zM1318 3552h8v8h-8zM1196 3543h8v8h-8zM1294 3546h8v8h-8zM1308 3552h8v8h-8zM1246 3491h8v8h-8zM1246 3485h8v8h-8zM1302 3564h8v8h-8zM1278 3506h8v8h-8zM1367 3413h8v8h-8zM1255 3524h8v8h-8zM1317 3483h8v8h-8zM1369 3498h8v8h-8zM1357 3488h8v8h-8zM1321 3414h8v8h-8zM1273 3532h8v8h-8zM1292 3524h8v8h-8zM1331 3497h8v8h-8zM1301 3546h8v8h-8zM1311 3443h8v8h-8zM1282 3501h8v8h-8zM1285 3535h8v8h-8zM1377 3465h8v8h-8zM1349 3467h8v8h-8zM1205 3549h8v8h-8zM1321 3534h8v8h-8zM1342 3486h8v8h-8zM1260 3519h8v8h-8zM1254 3524h8v8h-8zM1283 3453h8v8h-8zM1282 3583h8v8h-8zM1288 3456h8v8h-8zM1262 3473h8v8h-8zM1398 3475h8v8h-8zM1254 3510h8v8h-8zM1329 3436h8v8h-8zM1332 3479h8v8h-8zM1306 3507h8v8h-8zM1332 3554h8v8h-8zM1365 3406h8v8h-8zM1279 3548h8v8h-8zM1347 3523h8v8h-8zM1350 3475h8v8h-8zM1274 3497h8v8h-8zM1194 3539h8v8h-8zM1304 3507h8v8h-8zM1316 3489h8v8h-8zM1275 3552h8v8h-8zM1293 3441h8v8h-8zM1365 3440h8v8h-8zM1300 3468h8v8h-8zM1326 3512h8v8h-8zM1286 3455h8v8h-8zM1294 3517h8v8h-8zM1290 3440h8v8h-8zM1317 3600h8v8h-8zM1301 3525h8v8h-8zM1320 3523h8v8h-8zM1305 3492h8v8h-8zM1327 3502h8v8h-8zM1329 3540h8v8h-8zM1304 3504h8v8h-8zM1278 3502h8v8h-8zM1241 3568h8v8h-8zM1236 3501h8v8h-8zM1323 3456h8v8h-8zM1303 3521h8v8h-8zM1286 3501h8v8h-8zM1264 3545h8v8h-8zM1303 3541h8v8h-8zM1279 3505h8v8h-8zM1342 3466h8v8h-8zM1299 3468h8v8h-8zM1266 3514h8v8h-8zM1260 3611h8v8h-8zM1292 3471h8v8h-8zM1295 3527h8v8h-8zM1245 3557h8v8h-8zM1291 3496h8v8h-8zM1333 3508h8v8h-8zM1341 3482h8v8h-8zM1343 3517h8v8h-8zM1344 3503h8v8h-8zM1321 3439h8v8h-8zM1320 3507h8v8h-8zM1275 3509h8v8h-8zM1331 3537h8v8h-8zM1308 3462h8v8h-8zM1391 3447h8v8h-8zM1253 3535h8v8h-8zM1379 3530h8v8h-8zM1280 3547h8v8h-8zM1334 3497h8v8h-8zM1284 3484h8v8h-8zM1371 3509h8v8h-8zM1344 3522h8v8h-8zM1310 3500h8v8h-8zM1374 3493h8v8h-8zM1310 3495h8v8h-8zM1285 3483h8v8h-8zM1263 3530h8v8h-8zM1317 3520h8v8h-8zM1316 3464h8v8h-8zM1266 3605h8v8h-8zM1296 3523h8v8h-8zM1330 3560h8v8h-8zM1274 3524h8v8h-8zM1387 3420h8v8h-8zM1263 3554h8v8h-8zM1288 3513h8v8h-8zM1313 3568h8v8h-8zM1321 3473h8v8h-8zM1278 3506h8v8h-8zM1227 3517h8v8h-8zM1269 3550h8v8h-8zM1265 3604h8v8h-8zM1344 3384h8v8h-8zM1277 3506h8v8h-8zM1263 3519h8v8h-8zM1301 3525h8v8h-8zM1324 3543h8v8h-8zM1224 3561h8v8h-8zM1274 3553h8v8h-8zM1299 3476h8v8h-8zM1349 3417h8v8h-8zM1378 3458h8v8h-8zM1344 3461h8v8h-8zM1313 3534h8v8h-8zM1270 3530h8v8h-8zM1354 3505h8v8h-8zM1232 3507h8v8h-8zM1298 3482h8v8h-8zM1330 3459h8v8h-8zM1289 3561h8v8h-8zM1251 3527h8v8h-8zM1296 3532h8v8h-8zM1268 3479h8v8h-8zM1247 3540h8v8h-8zM1283 3593h8v8h-8zM1267 3478h8v8h-8zM1268 3435h8v8h-8zM1354 3494h8v8h-8zM1235 3546h8v8h-8zM1362 3422h8v8h-8zM1320 3519h8v8h-8zM1276 3575h8v8h-8zM1248 3502h8v8h-8zM1271 3493h8v8h-8zM1202 3536h8v8h-8zM1316 3585h8v8h-8zM1234 3491h8v8h-8zM1371 3560h8v8h-8zM1358 3540h8v8h-8zM1341 3471h8v8h-8zM1323 3499h8v8h-8zM1316 3495h8v8h-8zM1216 3545h8v8h-8zM1290 3577h8v8h-8zM1315 3505h8v8h-8zM1311 3481h8v8h-8zM1355 3489h8v8h-8zM1346 3569h8v8h-8zM1310 3502h8v8h-8zM1323 3469h8v8h-8zM1360 3471h8v8h-8zM1300 3476h8v8h-8zM1294 3557h8v8h-8zM1268 3509h8v8h-8zM1244 3542h8v8h-8zM1264 3455h8v8h-8zM1302 3479h8v8h-8zM1241 3557h8v8h-8zM1276 3557h8v8h-8zM1255 3462h8v8h-8zM1293 3465h8v8h-8zM1334 3491h8v8h-8zM1337 3424h8v8h-8zM1340 3445h8v8h-8zM1268 3488h8v8h-8zM1280 3521h8v8h-8zM1304 3488h8v8h-8zM1258 3528h8v8h-8zM1378 3477h8v8h-8zM1247 3496h8v8h-8zM1319 3569h8v8h-8zM1238 3513h8v8h-8zM1258 3555h8v8h-8zM1287 3560h8v8h-8zM1305 3453h8v8h-8zM1276 3527h8v8h-8zM1381 3475h8v8h-8zM1332 3431h8v8h-8zM1373 3386h8v8h-8zM1217 3552h8v8h-8zM1330 3511h8v8h-8zM1386 3488h8v8h-8zM1359 3439h8v8h-8zM1263 3476h8v8h-8zM1260 3442h8v8h-8zM1258 3454h8v8h-8zM1332 3505h8v8h-8zM1252 3524h8v8h-8zM1274 3588h8v8h-8zM1333 3500h8v8h-8zM1269 3498h8v8h-8zM1281 3478h8v8h-8zM1256 3493h8v8h-8zM1360 3440h8v8h-8zM1272 3518h8v8h-8zM1320 3583h8v8h-8zM1293 3498h8v8h-8zM1322 3493h8v8h-8zM1328 3510h8v8h-8zM1298 3482h8v8h-8zM1309 3466h8v8h-8zM1251 3511h8v8h-8zM1308 3581h8v8h-8zM1302 3481h8v8h-8zM1318 3449h8v8h-8zM1212 3562h8v8h-8zM1311 3461h8v8h-8zM1285 3463h8v8h-8zM1252 3563h8v8h-8zM1269 3528h8v8h-8zM1318 3526h8v8h-8zM1333 3523h8v8h-8zM1365 3473h8v8h-8zM1266 3478h8v8h-8zM1262 3529h8v8h-8zM1281 3491h8v8h-8zM1350 3497h8v8h-8zM1323 3481h8v8h-8zM1266 3548h8v8h-8zM1324 3482h8v8h-8zM1308 3497h8v8h-8zM1316 3471h8v8h-8zM1311 3460h8v8h-8zM1272 3534h8v8h-8zM1285 3484h8v8h-8zM1378 3586h8v8h-8zM1295 3448h8v8h-8zM1329 3434h8v8h-8zM1260 3508h8v8h-8zM1253 3504h8v8h-8zM1242 3584h8v8h-8zM1329 3558h8v8h-8zM1320 3481h8v8h-8zM1329 3538h8v8h-8zM1343 3507h8v8h-8zM1292 3496h8v8h-8zM1270 3618h8v8h-8zM1267 3498h8v8h-8zM1298 3478h8v8h-8zM1320 3486h8v8h-8zM1326 3518h8v8h-8zM1337 3500h8v8h-8zM1270 3552h8v8h-8zM1299 3458h8v8h-8zM1206 3593h8v8h-8zM1289 3506h8v8h-8zM1355 3465h8v8h-8zM1284 3484h8v8h-8zM1348 3474h8v8h-8zM1391 3469h8v8h-8zM1392 3447h8v8h-8zM1313 3527h8v8h-8zM1301 3498h8v8h-8zM1329 3492h8v8h-8zM1324 3556h8v8h-8zM1310 3471h8v8h-8zM1305 3526h8v8h-8zM1327 3561h8v8h-8zM1337 3541h8v8h-8zM1321 3459h8v8h-8zM1311 3510h8v8h-8zM1334 3500h8v8h-8zM1341 3535h8v8h-8zM1327 3436h8v8h-8zM1291 3465h8v8h-8zM1262 3537h8v8h-8zM1302 3470h8v8h-8zM1189 3543h8v8h-8zM1274 3527h8v8h-8zM1275 3407h8v8h-8zM1329 3531h8v8h-8zM1253 3494h8v8h-8zM1245 3540h8v8h-8zM1325 3510h8v8h-8zM1321 3583h8v8h-8zM1253 3516h8v8h-8zM1308 3482h8v8h-8zM1293 3523h8v8h-8zM1262 3530h8v8h-8zM1255 3544h8v8h-8zM1276 3554h8v8h-8zM1304 3497h8v8h-8zM1312 3543h8v8h-8zM1352 3505h8v8h-8zM1309 3466h8v8h-8zM1266 3501h8v8h-8zM1233 3491h8v8h-8zM1263 3522h8v8h-8zM1291 3482h8v8h-8zM1284 3568h8v8h-8zM1228 3582h8v8h-8zM1379 3428h8v8h-8zM1359 3509h8v8h-8zM1313 3562h8v8h-8zM1278 3550h8v8h-8zM1265 3501h8v8h-8zM1345 3501h8v8h-8zM1294 3508h8v8h-8zM1341 3574h8v8h-8zM1322 3483h8v8h-8zM1267 3509h8v8h-8zM1314 3481h8v8h-8zM1318 3530h8v8h-8zM1302 3446h8v8h-8zM1314 3479h8v8h-8zM1267 3525h8v8h-8zM1308 3489h8v8h-8zM1306 3512h8v8h-8zM1324 3500h8v8h-8zM1276 3531h8v8h-8zM1367 3429h8v8h-8zM1348 3515h8v8h-8zM1287 3456h8v8h-8zM1336 3454h8v8h-8zM1316 3498h8v8h-8zM1322 3439h8v8h-8zM1376 3501h8v8h-8zM1314 3540h8v8h-8zM1259 3549h8v8h-8zM1377 3418h8v8h-8zM1297 3440h8v8h-8zM1325 3549h8v8h-8zM1262 3439h8v8h-8zM1358 3484h8v8h-8zM1281 3503h8v8h-8zM1259 3526h8v8h-8zM1240 3496h8v8h-8zM1295 3527h8v8h-8zM1383 3445h8v8h-8zM1274 3521h8v8h-8zM1327 3478h8v8h-8zM1312 3553h8v8h-8zM1383 3463h8v8h-8zM1359 3450h8v8h-8zM1285 3550h8v8h-8zM1276 3486h8v8h-8zM1276 3538h8v8h-8zM1283 3461h8v8h-8zM1341 3479h8v8h-8zM1327 3478h8v8h-8zM1258 3446h8v8h-8zM1288 3592h8v8h-8zM1306 3527h8v8h-8zM1234 3519h8v8h-8zM1324 3488h8v8h-8zM1363 3457h8v8h-8zM1271 3535h8v8h-8zM1353 3475h8v8h-8zM1310 3507h8v8h-8zM1301 3513h8v8h-8zM1316 3502h8v8h-8zM1307 3499h8v8h-8zM1381 3472h8v8h-8zM1292 3597h8v8h-8zM1339 3545h8v8h-8zM1316 3475h8v8h-8zM1301 3499h8v8h-8zM1244 3552h8v8h-8zM1332 3564h8v8h-8zM1313 3487h8v8h-8zM1359 3478h8v8h-8zM1324 3546h8v8h-8zM1330 3479h8v8h-8zM1321 3523h8v8h-8zM1199 3570h8v8h-8zM1358 3480h8v8h-8zM1352 3504h8v8h-8zM1326 3447h8v8h-8zM1336 3453h8v8h-8zM1392 3464h8v8h-8zM1274 3476h8v8h-8zM1346 3488h8v8h-8zM1304 3549h8v8h-8zM1320 3485h8v8h-8zM1308 3550h8v8h-8zM1207 3561h8v8h-8zM1305 3558h8v8h-8zM1334 3447h8v8h-8zM1312 3478h8v8h-8zM1331 3504h8v8h-8zM1272 3497h8v8h-8zM1285 3530h8v8h-8zM1277 3522h8v8h-8zM1261 3527h8v8h-8zM1376 3464h8v8h-8zM1317 3517h8v8h-8zM1298 3532h8v8h-8zM1349 3512h8v8h-8zM1254 3525h8v8h-8zM1220 3599h8v8h-8zM1329 3470h8v8h-8zM1249 3502h8v8h-8zM1310 3532h8v8h-8zM1290 3500h8v8h-8zM1262 3553h8v8h-8zM1283 3476h8v8h-8zM1302 3559h8v8h-8zM1311 3471h8v8h-8zM1297 3569h8v8h-8zM1287 3535h8v8h-8zM1250 3517h8v8h-8zM1253 3552h8v8h-8zM1268 3570h8v8h-8zM1274 3515h8v8h-8zM1331 3502h8v8h-8zM1306 3550h8v8h-8zM1267 3517h8v8h-8zM1372 3453h8v8h-8zM1232 3562h8v8h-8zM1297 3516h8v8h-8zM1281 3507h8v8h-8zM1283 3485h8v8h-8zM1223 3559h8v8h-8zM1349 3508h8v8h-8zM1291 3503h8v8h-8zM1320 3546h8v8h-8zM1365 3543h8v8h-8zM1324 3476h8v8h-8zM1340 3479h8v8h-8zM1314 3503h8v8h-8zM1234 3534h8v8h-8zM1379 3455h8v8h-8zM1279 3535h8v8h-8zM1187 3531h8v8h-8zM1284 3492h8v8h-8zM1234 3497h8v8h-8zM1337 3469h8v8h-8zM1253 3552h8v8h-8zM1360 3499h8v8h-8zM1270 3502h8v8h-8zM1328 3489h8v8h-8zM1304 3555h8v8h-8zM1296 3496h8v8h-8zM1281 3512h8v8h-8zM1330 3435h8v8h-8zM1293 3497h8v8h-8zM1283 3552h8v8h-8zM1384 3489h8v8h-8zM1369 3419h8v8h-8zM1384 3451h8v8h-8zM1317 3546h8v8h-8zM1297 3586h8v8h-8zM1254 3499h8v8h-8zM1266 3468h8v8h-8zM1280 3476h8v8h-8zM1260 3521h8v8h-8zM1318 3529h8v8h-8zM1309 3521h8v8h-8zM1306 3529h8v8h-8zM1312 3523h8v8h-8zM1247 3526h8v8h-8zM1301 3485h8v8h-8zM1300 3540h8v8h-8zM1302 3541h8v8h-8zM1251 3526h8v8h-8zM1273 3475h8v8h-8zM1297 3508h8v8h-8zM1309 3513h8v8h-8zM1252 3517h8v8h-8zM1358 3379h8v8h-8zM1359 3509h8v8h-8zM1330 3560h8v8h-8zM1365 3464h8v8h-8zM1279 3533h8v8h-8zM1304 3481h8v8h-8zM1330 3501h8v8h-8zM1308 3516h8v8h-8zM1320 3491h8v8h-8zM1270 3518h8v8h-8zM1336 3442h8v8h-8zM1334 3500h8v8h-8zM1292 3451h8v8h-8zM1205 3612h8v8h-8zM1318 3455h8v8h-8zM1302 3512h8v8h-8zM1358 3518h8v8h-8zM1335 3473h8v8h-8zM1301 3513h8v8h-8zM1338 3528h8v8h-8zM1262 3515h8v8h-8zM1318 3466h8v8h-8zM1324 3523h8v8h-8zM1256 3479h8v8h-8zM1332 3485h8v8h-8zM1316 3532h8v8h-8zM1361 3466h8v8h-8zM1353 3478h8v8h-8zM1274 3536h8v8h-8zM1261 3538h8v8h-8zM1205 3513h8v8h-8zM1341 3439h8v8h-8zM1353 3502h8v8h-8zM1324 3495h8v8h-8zM1285 3517h8v8h-8zM1296 3494h8v8h-8zM1261 3547h8v8h-8zM1237 3539h8v8h-8zM1286 3507h8v8h-8zM1326 3445h8v8h-8zM1327 3511h8v8h-8zM1284 3489h8v8h-8zM1298 3480h8v8h-8zM1271 3496h8v8h-8zM1320 3483h8v8h-8zM1330 3472h8v8h-8zM1349 3474h8v8h-8zM1317 3492h8v8h-8zM1279 3473h8v8h-8zM1291 3503h8v8h-8zM1368 3515h8v8h-8zM1312 3521h8v8h-8zM1312 3516h8v8h-8zM1328 3499h8v8h-8zM1308 3473h8v8h-8zM1240 3512h8v8h-8zM1346 3500h8v8h-8zM1241 3531h8v8h-8zM1221 3510h8v8h-8zM1288 3501h8v8h-8zM1377 3435h8v8h-8zM1195 3536h8v8h-8zM1328 3485h8v8h-8zM1369 3497h8v8h-8zM1335 3535h8v8h-8zM1329 3582h8v8h-8zM1353 3443h8v8h-8zM1308 3499h8v8h-8zM1362 3414h8v8h-8zM1247 3517h8v8h-8zM1255 3504h8v8h-8zM1279 3542h8v8h-8zM1285 3533h8v8h-8zM1307 3468h8v8h-8zM1276 3599h8v8h-8zM1259 3597h8v8h-8zM1224 3536h8v8h-8zM1291 3451h8v8h-8zM1225 3538h8v8h-8zM1349 3479h8v8h-8zM1328 3568h8v8h-8zM1371 3489h8v8h-8zM1276 3522h8v8h-8zM1270 3526h8v8h-8zM1341 3443h8v8h-8zM1293 3518h8v8h-8zM1298 3493h8v8h-8zM1397 3466h8v8h-8zM1303 3445h8v8h-8zM1309 3490h8v8h-8zM1317 3470h8v8h-8zM1313 3494h8v8h-8zM1280 3488h8v8h-8zM1365 3462h8v8h-8zM1275 3538h8v8h-8zM1274 3531h8v8h-8zM1261 3506h8v8h-8zM1299 3512h8v8h-8zM1306 3444h8v8h-8zM1352 3529h8v8h-8zM1402 3460h8v8h-8zM1283 3482h8v8h-8zM1319 3566h8v8h-8zM1383 3497h8v8h-8zM1298 3537h8v8h-8zM1380 3436h8v8h-8zM1282 3488h8v8h-8zM1248 3524h8v8h-8zM1295 3480h8v8h-8zM1244 3552h8v8h-8zM1320 3521h8v8h-8zM1280 3568h8v8h-8zM1320 3510h8v8h-8zM1329 3478h8v8h-8zM1370 3506h8v8h-8zM1312 3497h8v8h-8zM1289 3513h8v8h-8zM1303 3471h8v8h-8zM1293 3492h8v8h-8zM1233 3493h8v8h-8zM1260 3517h8v8h-8zM1250 3517h8v8h-8zM1237 3555h8v8h-8zM1251 3474h8v8h-8zM1231 3578h8v8h-8zM1323 3495h8v8h-8zM1317 3473h8v8h-8zM1323 3446h8v8h-8zM1294 3501h8v8h-8zM1295 3464h8v8h-8zM1291 3528h8v8h-8zM1234 3515h8v8h-8zM1371 3457h8v8h-8zM1361 3456h8v8h-8zM1285 3501h8v8h-8zM1326 3504h8v8h-8zM1281 3480h8v8h-8zM1292 3518h8v8h-8zM1282 3495h8v8h-8zM1348 3440h8v8h-8zM1363 3491h8v8h-8zM1251 3560h8v8h-8zM1327 3475h8v8h-8zM1391 3497h8v8h-8zM1301 3487h8v8h-8zM1237 3628h8v8h-8zM1281 3541h8v8h-8zM1318 3558h8v8h-8zM1307 3578h8v8h-8zM1329 3464h8v8h-8zM1386 3466h8v8h-8zM1293 3424h8v8h-8zM1344 3560h8v8h-8zM1277 3570h8v8h-8zM1261 3480h8v8h-8zM1267 3527h8v8h-8zM1316 3485h8v8h-8zM1330 3472h8v8h-8zM1241 3583h8v8h-8zM1301 3455h8v8h-8zM1252 3522h8v8h-8zM1361 3518h8v8h-8zM1323 3494h8v8h-8zM1319 3486h8v8h-8zM1272 3500h8v8h-8zM1363 3473h8v8h-8zM1369 3441h8v8h-8zM1266 3610h8v8h-8zM1263 3554h8v8h-8zM1353 3456h8v8h-8zM1312 3495h8v8h-8zM1236 3524h8v8h-8zM1259 3533h8v8h-8zM1326 3496h8v8h-8zM1252 3505h8v8h-8zM1315 3519h8v8h-8zM1355 3522h8v8h-8zM1277 3488h8v8h-8zM1291 3458h8v8h-8zM1261 3488h8v8h-8zM1318 3407h8v8h-8zM1344 3459h8v8h-8zM1282 3533h8v8h-8zM1397 3471h8v8h-8zM1271 3492h8v8h-8zM1306 3506h8v8h-8zM1298 3492h8v8h-8zM1342 3519h8v8h-8zM1335 3469h8v8h-8zM1328 3477h8v8h-8zM1316 3445h8v8h-8zM1329 3514h8v8h-8zM1219 3526h8v8h-8zM1263 3508h8v8h-8zM1320 3529h8v8h-8zM1334 3523h8v8h-8zM1337 3511h8v8h-8zM1301 3523h8v8h-8zM1315 3515h8v8h-8zM1319 3546h8v8h-8zM1333 3499h8v8h-8zM1338 3472h8v8h-8zM1305 3580h8v8h-8zM1247 3574h8v8h-8zM1307 3470h8v8h-8zM1312 3483h8v8h-8zM1345 3469h8v8h-8zM1331 3535h8v8h-8zM1297 3497h8v8h-8zM1282 3524h8v8h-8zM1357 3475h8v8h-8zM1244 3565h8v8h-8zM1259 3489h8v8h-8zM1358 3488h8v8h-8zM1251 3543h8v8h-8zM1374 3559h8v8h-8zM1288 3576h8v8h-8zM1323 3509h8v8h-8zM1333 3410h8v8h-8zM1278 3522h8v8h-8zM1293 3491h8v8h-8zM1315 3470h8v8h-8zM1292 3529h8v8h-8zM1282 3453h8v8h-8zM1288 3494h8v8h-8zM1300 3559h8v8h-8zM1266 3481h8v8h-8zM1321 3502h8v8h-8zM1343 3512h8v8h-8zM1240 3496h8v8h-8zM1317 3545h8v8h-8zM1310 3468h8v8h-8zM1337 3503h8v8h-8zM1342 3469h8v8h-8zM1328 3548h8v8h-8zM1246 3536h8v8h-8zM1321 3460h8v8h-8zM1304 3492h8v8h-8zM1289 3538h8v8h-8zM1303 3501h8v8h-8zM1334 3457h8v8h-8zM1319 3554h8v8h-8zM1346 3499h8v8h-8zM1308 3497h8v8h-8zM1326 3515h8v8h-8zM1393 3469h8v8h-8zM1320 3494h8v8h-8zM1279 3445h8v8h-8zM1312 3478h8v8h-8zM1281 3456h8v8h-8zM1289 3516h8v8h-8zM1290 3487h8v8h-8zM1299 3491h8v8h-8zM1323 3489h8v8h-8zM1262 3585h8v8h-8zM1318 3500h8v8h-8zM1368 3472h8v8h-8zM1326 3494h8v8h-8zM1327 3547h8v8h-8zM1279 3564h8v8h-8zM1237 3530h8v8h-8zM1307 3604h8v8h-8zM1317 3481h8v8h-8zM1259 3531h8v8h-8zM1282 3500h8v8h-8zM1399 3467h8v8h-8zM1304 3539h8v8h-8zM1227 3460h8v8h-8zM1340 3448h8v8h-8zM1327 3505h8v8h-8zM1287 3508h8v8h-8zM1310 3470h8v8h-8zM1329 3494h8v8h-8zM1305 3467h8v8h-8zM1393 3446h8v8h-8zM1313 3452h8v8h-8zM1286 3472h8v8h-8zM1347 3511h8v8h-8zM1249 3588h8v8h-8zM1347 3480h8v8h-8zM1315 3451h8v8h-8zM1332 3467h8v8h-8zM1333 3498h8v8h-8zM1328 3481h8v8h-8zM1248 3501h8v8h-8zM1246 3520h8v8h-8zM1326 3491h8v8h-8zM1300 3443h8v8h-8zM1250 3546h8v8h-8zM1278 3461h8v8h-8zM1325 3489h8v8h-8zM1350 3543h8v8h-8zM1295 3548h8v8h-8zM1252 3559h8v8h-8zM1313 3438h8v8h-8zM1344 3485h8v8h-8zM1278 3500h8v8h-8zM1324 3447h8v8h-8zM1307 3513h8v8h-8zM1349 3489h8v8h-8zM1288 3500h8v8h-8zM1195 3512h8v8h-8zM1319 3504h8v8h-8zM1357 3474h8v8h-8zM1304 3465h8v8h-8zM1394 3502h8v8h-8zM1316 3492h8v8h-8zM1299 3565h8v8h-8zM1305 3521h8v8h-8zM1307 3531h8v8h-8zM1339 3514h8v8h-8zM1301 3561h8v8h-8zM1218 3599h8v8h-8zM1341 3421h8v8h-8zM1282 3431h8v8h-8zM1258 3560h8v8h-8zM1325 3557h8v8h-8zM1290 3505h8v8h-8zM1288 3500h8v8h-8zM1236 3480h8v8h-8zM1332 3479h8v8h-8zM1309 3533h8v8h-8zM1371 3491h8v8h-8zM1325 3521h8v8h-8zM1369 3469h8v8h-8zM1283 3520h8v8h-8zM1323 3462h8v8h-8zM1192 3508h8v8h-8zM1332 3482h8v8h-8zM1254 3516h8v8h-8zM1308 3512h8v8h-8zM1319 3526h8v8h-8zM1365 3445h8v8h-8zM1274 3496h8v8h-8zM1311 3447h8v8h-8zM1358 3394h8v8h-8zM1305 3410h8v8h-8zM1306 3549h8v8h-8zM1252 3549h8v8h-8zM1245 3602h8v8h-8zM1322 3417h8v8h-8zM1314 3617h8v8h-8zM1296 3518h8v8h-8zM1229 3570h8v8h-8zM1265 3553h8v8h-8zM1300 3519h8v8h-8zM1327 3484h8v8h-8zM1278 3485h8v8h-8zM1312 3467h8v8h-8zM1311 3477h8v8h-8zM1297 3509h8v8h-8zM1289 3561h8v8h-8zM1309 3486h8v8h-8zM1291 3512h8v8h-8zM1283 3499h8v8h-8zM1255 3532h8v8h-8zM1332 3426h8v8h-8zM1286 3583h8v8h-8zM1374 3574h8v8h-8zM1305 3445h8v8h-8zM1297 3462h8v8h-8zM1287 3536h8v8h-8zM1270 3544h8v8h-8zM1277 3491h8v8h-8zM1276 3520h8v8h-8zM1300 3530h8v8h-8zM1331 3452h8v8h-8zM1239 3480h8v8h-8zM1349 3479h8v8h-8zM1331 3553h8v8h-8zM1348 3497h8v8h-8zM1259 3559h8v8h-8zM1314 3538h8v8h-8zM1364 3428h8v8h-8zM1312 3501h8v8h-8zM1272 3492h8v8h-8zM1285 3558h8v8h-8zM1301 3506h8v8h-8zM1236 3537h8v8h-8zM1320 3504h8v8h-8zM1319 3481h8v8h-8zM1337 3490h8v8h-8zM1347 3470h8v8h-8zM1223 3533h8v8h-8zM1278 3487h8v8h-8zM1312 3454h8v8h-8zM1257 3546h8v8h-8zM1283 3535h8v8h-8zM1373 3525h8v8h-8zM1327 3475h8v8h-8zM1331 3461h8v8h-8zM1268 3491h8v8h-8zM1364 3500h8v8h-8zM1305 3490h8v8h-8zM1325 3511h8v8h-8zM1259 3499h8v8h-8zM1187 3571h8v8h-8zM1291 3549h8v8h-8zM1307 3531h8v8h-8zM1303 3568h8v8h-8zM1390 3481h8v8h-8zM1256 3557h8v8h-8zM1282 3558h8v8h-8zM1342 3482h8v8h-8zM1318 3472h8v8h-8zM1322 3576h8v8h-8zM1282 3553h8v8h-8zM1295 3522h8v8h-8zM1353 3493h8v8h-8zM1313 3497h8v8h-8zM1363 3466h8v8h-8zM1237 3542h8v8h-8zM1271 3440h8v8h-8zM1363 3486h8v8h-8zM1318 3493h8v8h-8zM1259 3469h8v8h-8zM1287 3544h8v8h-8zM1237 3561h8v8h-8zM1282 3501h8v8h-8zM1346 3510h8v8h-8zM1334 3532h8v8h-8zM1253 3553h8v8h-8zM1342 3434h8v8h-8zM1312 3547h8v8h-8zM1319 3490h8v8h-8zM1218 3595h8v8h-8zM1271 3549h8v8h-8zM1264 3498h8v8h-8zM1340 3494h8v8h-8zM1317 3518h8v8h-8zM1250 3560h8v8h-8zM1286 3548h8v8h-8zM1297 3485h8v8h-8zM1300 3529h8v8h-8zM1324 3507h8v8h-8zM1320 3553h8v8h-8zM1369 3530h8v8h-8zM1263 3604h8v8h-8zM1324 3492h8v8h-8zM1333 3442h8v8h-8zM1388 3432h8v8h-8zM1242 3465h8v8h-8zM1286 3511h8v8h-8zM1274 3547h8v8h-8zM1326 3494h8v8h-8zM1325 3469h8v8h-8zM1305 3454h8v8h-8zM1277 3493h8v8h-8zM1403 3489h8v8h-8zM1248 3581h8v8h-8zM1344 3430h8v8h-8zM1254 3499h8v8h-8zM1238 3494h8v8h-8zM1342 3486h8v8h-8zM1384 3479h8v8h-8zM1304 3531h8v8h-8zM1351 3487h8v8h-8zM1323 3461h8v8h-8zM1285 3490h8v8h-8zM1250 3493h8v8h-8zM1329 3536h8v8h-8zM1298 3550h8v8h-8zM1290 3546h8v8h-8zM1296 3533h8v8h-8zM1305 3537h8v8h-8zM1315 3499h8v8h-8zM1307 3533h8v8h-8zM1314 3535h8v8h-8zM1367 3506h8v8h-8zM1287 3534h8v8h-8zM1333 3437h8v8h-8zM1269 3493h8v8h-8zM1342 3464h8v8h-8zM1295 3530h8v8h-8zM1312 3517h8v8h-8zM1275 3474h8v8h-8zM1375 3416h8v8h-8zM1332 3447h8v8h-8zM1373 3458h8v8h-8zM1309 3537h8v8h-8zM1230 3563h8v8h-8zM1292 3582h8v8h-8zM1289 3548h8v8h-8zM1312 3494h8v8h-8zM1357 3501h8v8h-8zM1306 3564h8v8h-8zM1339 3493h8v8h-8zM1328 3510h8v8h-8zM1331 3522h8v8h-8zM1287 3548h8v8h-8zM1340 3467h8v8h-8zM1261 3535h8v8h-8zM1347 3454h8v8h-8zM1285 3516h8v8h-8zM1354 3477h8v8h-8zM1343 3484h8v8h-8zM1240 3537h8v8h-8zM1332 3502h8v8h-8zM1306 3484h8v8h-8zM1286 3519h8v8h-8zM1309 3576h8v8h-8zM1336 3484h8v8h-8zM1293 3480h8v8h-8zM1301 3499h8v8h-8zM1321 3543h8v8h-8zM1288 3535h8v8h-8zM1363 3464h8v8h-8zM1205 3588h8v8h-8zM1305 3493h8v8h-8zM1352 3415h8v8h-8zM1271 3599h8v8h-8zM1313 3452h8v8h-8zM1263 3607h8v8h-8z" fill="#ff1a1a" fill-opacity="1.0"/>
<path transform="scale(0.1)" d="M1286 3493h8v8h-8zM1221 3578h8v8h-8zM1228 3593h8v8h-8zM1339 3552h8v8h-8zM1269 3478h8v8h-8zM1270 3480h8v8h-8zM1339 3499h8v8h-8zM1212 3509h8v8h-8zM1312 3517h8v8h-8zM1267 3537h8v8h-8zM1397 3449h8v8h-8zM1320 3474h8v8h-8zM1263 3468h8v8h-8zM1369 3490h8v8h-8zM1369 3432h8v8h-8zM1247 3551h8v8h-8zM1259 3485h8v8h-8zM1377 3536h8v8h-8zM1372 3501h8v8h-8zM1282 3489h8v8h-8zM1371 3526h8v8h-8zM1312 3521h8v8h-8zM1362 3489h8v8h-8zM1225 3571h8v8h-8zM1222 3596h8v8h-8zM1273 3530h8v8h-8zM1310 3573h8v8h-8zM1308 3533h8v8h-8zM1268 3538h8v8h-8zM1335 3451h8v8h-8zM1249 3505h8v8h-8zM1273 3535h8v8h-8zM1357 3461h8v8h-8zM1284 3576h8v8h-8zM1289 3527h8v8h-8zM1203 3462h8v8h-8zM1358 3492h8v8h-8zM1325 3491h8v8h-8zM1213 3551h8v8h-8zM1259 3516h8v8h-8zM1202 3531h8v8h-8zM1216 3458h8v8h-8zM1325 3437h8v8h-8zM1289 3567h8v8h-8zM1354 3420h8v8h-8zM1284 3504h8v8h-8zM1311 3531h8v8h-8zM1254 3441h8v8h-8zM1272 3493h8v8h-8zM1326 3423h8v8h-8zM1263 3490h8v8h-8zM1323 3417h8v8h-8zM1306 3486h8v8h-8zM1262 3512h8v8h-8zM1306 3511h8v8h-8zM1261 3546h8v8h-8zM1296 3478h8v8h-8zM1287 3510h8v8h-8zM1310 3518h8v8h-8zM1281 3501h8v8h-8zM1281 3559h8v8h-8zM1357 3445h8v8h-8zM1337 3447h8v8h-8zM1341 3595h8v8h-8zM1351 3510h8v8h-8zM1247 3501h8v8h-8zM1184 3567h8v8h-8zM1345 3482h8v8h-8zM1352 3485h8v8h-8zM1243 3536h8v8h-8zM1250 3517h8v8h-8zM1343 3442h8v8h-8zM1357 3484h8v8h-8zM1283 3530h8v8h-8zM1315 3505h8v8h-8zM1294 3554h8v8h-8zM1255 3476h8v8h-8zM1312 3515h8v8h-8zM1241 3488h8v8h-8zM1239 3484h8v8h-8zM1334 3477h8v8h-8zM1342 3490h8v8h-8zM1321 3557h8v8h-8zM1286 3509h8v8h-8zM1348 3511h8v8h-8zM1397 3487h8v8h-8zM1280 3480h8v8h-8zM1312 3423h8v8h-8zM1348 3537h8v8h-8zM1239 3496h8v8h-8zM1326 3504h8v8h-8zM1294 3504h8v8h-8zM1339 3488h8v8h-8zM1348 3491h8v8h-8zM1314 3457h8v8h-8zM1276 3552h8v8h-8zM1289 3465h8v8h-8zM1286 3557h8v8h-8zM1293 3483h8v8h-8zM1347 3433h8v8h-8zM1311 3468h8v8h-8zM1298 3455h8v8h-8zM1385 3404h8v8h-8zM1304 3454h8v8h-8zM1324 3455h8v8h-8zM1257 3534h8v8h-8zM1236 3474h8v8h-8zM1386 3453h8v8h-8zM1348 3497h8v8h-8zM1278 3501h8v8h-8zM1320 3472h8v8h-8zM1254 3492h8v8h-8zM1243 3513h8v8h-8zM1320 3549h8v8h-8zM1327 3457h8v8h-8zM1228 3547h8v8h-8zM1316 3495h8v8h-8zM1308 3537h8v8h-8zM1263 3493h8v8h-8zM1276 3493h8v8h-8zM1237 3476h8v8h-8zM1321 3540h8v8h-8zM1268 3540h8v8h-8zM1307 3468h8v8h-8zM1327 3484h8v8h-8zM1265 3536h8v8h-8zM1247 3526h8v8h-8zM1248 3544h8v8h-8zM1295 3490h8v8h-8zM1291 3468h8v8h-8zM1383 3522h8v8h-8zM1345 3449h8v8h-8zM1184 3538h8v8h-8zM1355 3539h8v8h-8zM1297 3557h8v8h-8zM1330 3398h8v8h-8zM1220 3567h8v8h-8zM1290 3478h8v8h-8zM1334 3516h8v8h-8zM1333 3495h8v8h-8zM1242 3547h8v8h-8zM1293 3515h8v8h-8zM1351 3441h8v8h-8zM1393 3430h8v8h-8zM1358 3481h8v8h-8zM1285 3468h8v8h-8zM1338 3514h8v8h-8zM1385 3480h8v8h-8zM1298 3483h8v8h-8zM1317 3496h8v8h-8zM1332 3494h8v8h-8zM1255 3488h8v8h-8zM1211 3484h8v8h-8zM1308 3531h8v8h-8zM1219 3499h8v8h-8zM1360 3503h8v8h-8zM1348 3496h8v8h-8zM1189 3535h8v8h-8zM1302 3512h8v8h-8zM1298 3524h8v8h-8zM1312 3504h8v8h-8zM1376 3486h8v8h-8zM1291 3571h8v8h-8zM1306 3517h8v8h-8zM1218 3485h8v8h-8zM1178 3485h8v8h-8zM1265 3501h8v8h-8zM1241 3545h8v8h-8zM1322 3496h8v8h-8zM1335 3464h8v8h-8zM1345 3491h8v8h-8zM1339 3496h8v8h-8zM1271 3489h8v8h-8zM1312 3500h8v8h-8zM1390 3437h8v8h-8zM1221 3576h8v8h-8zM1279 3491h8v8h-8zM1239 3549h8v8h-8zM1319 3509h8v8h-8zM1291 3473h8v8h-8zM1314 3520h8v8h-8zM1301 3479h8v8h-8zM1268 3496h8v8h-8zM1300 3522h8v8h-8zM1297 3484h8v8h-8zM1312 3489h8v8h-8zM1312 3491h8v8h-8zM1341 3516h8v8h-8zM1315 3494h8v8h-8zM1360 3470h8v8h-8zM1334 3518h8v8h-8zM1327 3436h8v8h-8zM1297 3500h8v8h-8zM1212 3574h8v8h-8zM1221 3507h8v8h-8zM1265 3533h8v8h-8zM1325 3464h8v8h-8zM1299 3464h8v8h-8zM1372 3455h8v8h-8zM1387 3453h8v8h-8zM1329 3427h8v8h-8zM1312 3498h8v8h-8zM1222 3503h8v8h-8zM1326 3448h8v8h-8zM1373 3526h8v8h-8zM1297 3500h8v8h-8zM1344 3495h8v8h-8zM1400 3402h8v8h-8zM1305 3524h8v8h-8zM1254 3562h8v8h-8zM1320 3509h8v8h-8zM1287 3511h8v8h-8zM1255 3542h8v8h-8zM1272 3505h8v8h-8zM1306 3471h8v8h-8zM1279 3558h8v8h-8zM1273 3532h8v8h-8zM1301 3557h8v8h-8zM1342 3498h8v8h-8zM1344 3549h8v8h-8zM1312 3497h8v8h-8zM1226 3530h8v8h-8zM1300 3570h8v8h-8zM1354 3492h8v8h-8zM1378 3427h8v8h-8zM1287 3499h8v8h-8zM1283 3503h8v8h-8zM1274 3506h8v8h-8zM1300 3460h8v8h-8zM1216 3504h8v8h-8zM1296 3523h8v8h-8zM1254 3447h8v8h-8zM1280 3477h8v8h-8zM1351 3466h8v8h-8zM1217 3622h8v8h-8zM1335 3428h8v8h-8zM1190 3493h8v8h-8zM1330 3414h8v8h-8zM1325 3484h8v8h-8zM1270 3494h8v8h-8zM1301 3499h8v8h-8zM1210 3562h8v8h-8zM1245 3530h8v8h-8zM1327 3457h8v8h-8zM1395 3480h8v8h-8zM1381 3435h8v8h-8zM1334 3541h8v8h-8zM1277 3481h8v8h-8zM1333 3504h8v8h-8zM1259 3478h8v8h-8zM1341 3452h8v8h-8zM1314 3461h8v8h-8zM1327 3461h8v8h-8zM1321 3517h8v8h-8zM1278 3534h8v8h-8zM1292 3512h8v8h-8zM1375 3521h8v8h-8zM1226 3474h8v8h-8zM1329 3572h8v8h-8zM1357 3514h8v8h-8zM1216 3631h8v8h-8zM1346 3433h8v8h-8zM1269 3432h8v8h-8zM1214 3561h8v8h-8zM1306 3566h8v8h-8zM1337 3501h8v8h-8zM1279 3520h8v8h-8zM1260 3452h8v8h-8zM1204 3585h8v8h-8zM1342 3415h8v8h-8zM1312 3457h8v8h-8zM1264 3533h8v8h-8zM1242 3553h8v8h-8zM1275 3542h8v8h-8zM1312 3447h8v8h-8zM1235 3504h8v8h-8zM1285 3543h8v8h-8zM1345 3509h8v8h-8zM1209 3586h8v8h-8zM1219 3512h8v8h-8zM1279 3536h8v8h-8zM1247 3475h8v8h-8zM1280 3479h8v8h-8zM1305 3529h8v8h-8zM1258 3552h8v8h-8zM1291 3465h8v8h-8zM1385 3450h8v8h-8zM1332 3548h8v8h-8zM1262 3550h8v8h-8zM1365 3489h8v8h-8zM1344 3435h8v8h-8z" fill="#ff7070" fill-opacity="1.0"/>
<line x1="46.20" y1="130.90" x2="46.20" y2="220.80" stroke="#000" stroke-width="1.6" />
<line x1="41.70" y1="220.00" x2="46.20" y2="220.00" stroke="#000" stroke-width="1.6" />
<text x="38.0" y="223.7" style="font-family:'Liberation Serif',serif;font-size:10.5px;font-weight:normal" text-anchor="end" fill="#000" >0</text>
<line x1="41.70" y1="202.30" x2="46.20" y2="202.30" stroke="#000" stroke-width="1.6" />
<text x="38.0" y="206.0" style="font-family:'Liberation Serif',serif;font-size:10.5px;font-weight:normal" text-anchor="end" fill="#000" >50</text>
<line x1="41.70" y1="184.60" x2="46.20" y2="184.60" stroke="#000" stroke-width="1.6" />
<text x="38.0" y="188.29999999999998" style="font-family:'Liberation Serif',serif;font-size:10.5px;font-weight:normal" text-anchor="end" fill="#000" >100</text>
<line x1="41.70" y1="167.00" x2="46.20" y2="167.00" stroke="#000" stroke-width="1.6" />
<text x="38.0" y="170.7" style="font-family:'Liberation Serif',serif;font-size:10.5px;font-weight:normal" text-anchor="end" fill="#000" >150</text>
<line x1="41.70" y1="149.30" x2="46.20" y2="149.30" stroke="#000" stroke-width="1.6" />
<text x="38.0" y="153.0" style="font-family:'Liberation Serif',serif;font-size:10.5px;font-weight:normal" text-anchor="end" fill="#000" >200</text>
<line x1="41.70" y1="131.70" x2="46.20" y2="131.70" stroke="#000" stroke-width="1.6" />
<text x="38.0" y="135.39999999999998" style="font-family:'Liberation Serif',serif;font-size:10.5px;font-weight:normal" text-anchor="end" fill="#000" >250</text>
<line x1="45.40" y1="220.00" x2="105.80" y2="220.00" stroke="#000" stroke-width="1.6" />
<line x1="46.20" y1="220.00" x2="46.20" y2="225.00" stroke="#000" stroke-width="1.6" />
<text x="46.2" y="238.3" style="font-family:'Liberation Serif',serif;font-size:10.5px;font-weight:normal" text-anchor="middle" fill="#000" >-9</text>
<line x1="60.90" y1="220.00" x2="60.90" y2="225.00" stroke="#000" stroke-width="1.6" />
<text x="60.9" y="238.3" style="font-family:'Liberation Serif',serif;font-size:10.5px;font-weight:normal" text-anchor="middle" fill="#000" >-8</text>
<line x1="75.60" y1="220.00" x2="75.60" y2="225.00" stroke="#000" stroke-width="1.6" />
<text x="75.6" y="238.3" style="font-family:'Liberation Serif',serif;font-size:10.5px;font-weight:normal" text-anchor="middle" fill="#000" >-7</text>
<line x1="90.40" y1="220.00" x2="90.40" y2="225.00" stroke="#000" stroke-width="1.6" />
<text x="90.4" y="238.3" style="font-family:'Liberation Serif',serif;font-size:10.5px;font-weight:normal" text-anchor="middle" fill="#000" >-6</text>
<line x1="105.00" y1="220.00" x2="105.00" y2="225.00" stroke="#000" stroke-width="1.6" />
<text x="105.0" y="238.3" style="font-family:'Liberation Serif',serif;font-size:10.5px;font-weight:normal" text-anchor="middle" fill="#000" >-5</text>
<text x="75.6" y="248.5" style="font-family:'Liberation Serif',serif;font-size:11px;font-weight:normal" text-anchor="middle" fill="#000" >M [log 10]</text>
<text x="17.8" y="176.8" transform="rotate(-90 17.8 176.8)" text-anchor="middle" style="font-family:'Liberation Serif',serif;font-size:10.5px">MFI</text>
<line x1="96.50" y1="214.00" x2="96.50" y2="209.80" stroke="#000" stroke-width="0.8" />
<line x1="94.30" y1="209.80" x2="98.70" y2="209.80" stroke="#000" stroke-width="0.8" />
<circle cx="55.60" cy="219.50" r="2.4" fill="#ff0000" stroke="none" stroke-width="0.5"/>
<circle cx="61.44" cy="219.50" r="2.4" fill="#ff0000" stroke="none" stroke-width="0.5"/>
<circle cx="67.28" cy="219.50" r="2.4" fill="#ff0000" stroke="none" stroke-width="0.5"/>
<circle cx="73.12" cy="219.50" r="2.4" fill="#ff0000" stroke="none" stroke-width="0.5"/>
<circle cx="78.96" cy="219.50" r="2.4" fill="#ff0000" stroke="none" stroke-width="0.5"/>
<circle cx="84.80" cy="219.50" r="2.4" fill="#ff0000" stroke="none" stroke-width="0.5"/>
<circle cx="90.64" cy="219.50" r="2.4" fill="#ff0000" stroke="none" stroke-width="0.5"/>
<circle cx="96.50" cy="218.60" r="2.4" fill="#0000cc" stroke="none" stroke-width="0.5"/>
<circle cx="90.80" cy="218.80" r="2.4" fill="#0000cc" stroke="none" stroke-width="0.5"/>
<circle cx="90.80" cy="217.00" r="2.4" fill="#ff0000" stroke="none" stroke-width="0.5"/>
<circle cx="96.50" cy="214.20" r="2.4" fill="#ff0000" stroke="none" stroke-width="0.5"/>
<line x1="140.10" y1="131.50" x2="140.10" y2="220.30" stroke="#000" stroke-width="1.6" />
<line x1="135.60" y1="219.50" x2="140.10" y2="219.50" stroke="#000" stroke-width="1.6" />
<text x="131.9" y="223.2" style="font-family:'Liberation Serif',serif;font-size:10.5px;font-weight:normal" text-anchor="end" fill="#000" >0</text>
<line x1="135.60" y1="202.30" x2="140.10" y2="202.30" stroke="#000" stroke-width="1.6" />
<text x="131.9" y="206.0" style="font-family:'Liberation Serif',serif;font-size:10.5px;font-weight:normal" text-anchor="end" fill="#000" >50</text>
<line x1="135.60" y1="185.00" x2="140.10" y2="185.00" stroke="#000" stroke-width="1.6" />
<text x="131.9" y="188.7" style="font-family:'Liberation Serif',serif;font-size:10.5px;font-weight:normal" text-anchor="end" fill="#000" >100</text>
<line x1="135.60" y1="167.70" x2="140.10" y2="167.70" stroke="#000" stroke-width="1.6" />
<text x="131.9" y="171.39999999999998" style="font-family:'Liberation Serif',serif;font-size:10.5px;font-weight:normal" text-anchor="end" fill="#000" >150</text>
<line x1="135.60" y1="150.50" x2="140.10" y2="150.50" stroke="#000" stroke-width="1.6" />
<text x="131.9" y="154.2" style="font-family:'Liberation Serif',serif;font-size:10.5px;font-weight:normal" text-anchor="end" fill="#000" >200</text>
<line x1="135.60" y1="132.30" x2="140.10" y2="132.30" stroke="#000" stroke-width="1.6" />
<text x="131.9" y="136.0" style="font-family:'Liberation Serif',serif;font-size:10.5px;font-weight:normal" text-anchor="end" fill="#000" >250</text>
<line x1="139.30" y1="219.50" x2="200.00" y2="219.50" stroke="#000" stroke-width="1.6" />
<line x1="140.10" y1="219.50" x2="140.10" y2="224.50" stroke="#000" stroke-width="1.6" />
<text x="140.1" y="237.8" style="font-family:'Liberation Serif',serif;font-size:10.5px;font-weight:normal" text-anchor="middle" fill="#000" >-9</text>
<line x1="155.00" y1="219.50" x2="155.00" y2="224.50" stroke="#000" stroke-width="1.6" />
<text x="155" y="237.8" style="font-family:'Liberation Serif',serif;font-size:10.5px;font-weight:normal" text-anchor="middle" fill="#000" >-8</text>
<line x1="170.00" y1="219.50" x2="170.00" y2="224.50" stroke="#000" stroke-width="1.6" />
<text x="170" y="237.8" style="font-family:'Liberation Serif',serif;font-size:10.5px;font-weight:normal" text-anchor="middle" fill="#000" >-7</text>
<line x1="184.60" y1="219.50" x2="184.60" y2="224.50" stroke="#000" stroke-width="1.6" />
<text x="184.6" y="237.8" style="font-family:'Liberation Serif',serif;font-size:10.5px;font-weight:normal" text-anchor="middle" fill="#000" >-6</text>
<line x1="199.20" y1="219.50" x2="199.20" y2="224.50" stroke="#000" stroke-width="1.6" />
<text x="199.2" y="237.8" style="font-family:'Liberation Serif',serif;font-size:10.5px;font-weight:normal" text-anchor="middle" fill="#000" >-5</text>
<text x="169.6" y="248.5" style="font-family:'Liberation Serif',serif;font-size:11px;font-weight:normal" text-anchor="middle" fill="#000" >M [log 10]</text>
<polyline points="149.6,215.4 155.5,213.5 161.3,211.4 167.2,208.6 173.0,205.0 178.9,197.2 184.8,181.7 190.6,155.0" fill="none" stroke="#000" stroke-width="0.8"/>
<polyline points="149.6,218.6 155.5,216.8 161.3,216.5 167.2,214.5 173.0,210.1 178.9,199.5 184.8,192.3 190.6,174.5" fill="none" stroke="#000" stroke-width="0.8"/>
<line x1="167.18" y1="208.60" x2="167.18" y2="206.00" stroke="#000" stroke-width="0.8" />
<line x1="164.98" y1="206.00" x2="169.38" y2="206.00" stroke="#000" stroke-width="0.8" />
<line x1="173.04" y1="205.00" x2="173.04" y2="201.00" stroke="#000" stroke-width="0.8" />
<line x1="170.84" y1="201.00" x2="175.24" y2="201.00" stroke="#000" stroke-width="0.8" />
<line x1="178.90" y1="197.20" x2="178.90" y2="189.00" stroke="#000" stroke-width="0.8" />
<line x1="176.70" y1="189.00" x2="181.10" y2="189.00" stroke="#000" stroke-width="0.8" />
<line x1="184.76" y1="181.70" x2="184.76" y2="166.80" stroke="#000" stroke-width="0.8" />
<line x1="182.56" y1="166.80" x2="186.96" y2="166.80" stroke="#000" stroke-width="0.8" />
<line x1="190.62" y1="155.00" x2="190.62" y2="134.10" stroke="#000" stroke-width="0.8" />
<line x1="188.42" y1="134.10" x2="192.82" y2="134.10" stroke="#000" stroke-width="0.8" />
<line x1="178.90" y1="199.50" x2="178.90" y2="193.00" stroke="#000" stroke-width="0.8" />
<line x1="176.70" y1="193.00" x2="181.10" y2="193.00" stroke="#000" stroke-width="0.8" />
<line x1="184.76" y1="192.30" x2="184.76" y2="178.00" stroke="#000" stroke-width="0.8" />
<line x1="182.56" y1="178.00" x2="186.96" y2="178.00" stroke="#000" stroke-width="0.8" />
<line x1="190.62" y1="174.50" x2="190.62" y2="168.60" stroke="#000" stroke-width="0.8" />
<line x1="188.42" y1="168.60" x2="192.82" y2="168.60" stroke="#000" stroke-width="0.8" />
<line x1="184.76" y1="206.80" x2="184.76" y2="200.00" stroke="#000" stroke-width="0.8" />
<line x1="182.56" y1="200.00" x2="186.96" y2="200.00" stroke="#000" stroke-width="0.8" />
<line x1="190.62" y1="195.00" x2="190.62" y2="189.00" stroke="#000" stroke-width="0.8" />
<line x1="188.42" y1="189.00" x2="192.82" y2="189.00" stroke="#000" stroke-width="0.8" />
<line x1="190.62" y1="197.70" x2="190.62" y2="193.00" stroke="#000" stroke-width="0.8" />
<line x1="188.42" y1="193.00" x2="192.82" y2="193.00" stroke="#000" stroke-width="0.8" />
<circle cx="149.60" cy="219.30" r="2.4" fill="#888888" stroke="none" stroke-width="0.5"/>
<circle cx="155.46" cy="219.30" r="2.4" fill="#888888" stroke="none" stroke-width="0.5"/>
<circle cx="161.32" cy="219.00" r="2.4" fill="#888888" stroke="none" stroke-width="0.5"/>
<circle cx="167.18" cy="218.50" r="2.4" fill="#888888" stroke="none" stroke-width="0.5"/>
<circle cx="173.04" cy="218.00" r="2.4" fill="#888888" stroke="none" stroke-width="0.5"/>
<circle cx="178.90" cy="216.50" r="2.4" fill="#888888" stroke="none" stroke-width="0.5"/>
<circle cx="184.76" cy="214.50" r="2.4" fill="#888888" stroke="none" stroke-width="0.5"/>
<circle cx="190.62" cy="212.50" r="2.4" fill="#888888" stroke="none" stroke-width="0.5"/>
<circle cx="149.60" cy="219.30" r="2.4" fill="#ff8c1a" stroke="none" stroke-width="0.5"/>
<circle cx="155.46" cy="219.30" r="2.4" fill="#ff8c1a" stroke="none" stroke-width="0.5"/>
<circle cx="161.32" cy="219.00" r="2.4" fill="#ff8c1a" stroke="none" stroke-width="0.5"/>
<circle cx="167.18" cy="218.20" r="2.4" fill="#ff8c1a" stroke="none" stroke-width="0.5"/>
<circle cx="173.04" cy="217.00" r="2.4" fill="#ff8c1a" stroke="none" stroke-width="0.5"/>
<circle cx="178.90" cy="214.50" r="2.4" fill="#ff8c1a" stroke="none" stroke-width="0.5"/>
<circle cx="184.76" cy="209.50" r="2.4" fill="#ff8c1a" stroke="none" stroke-width="0.5"/>
<circle cx="190.62" cy="200.50" r="2.4" fill="#ff8c1a" stroke="none" stroke-width="0.5"/>
<circle cx="149.60" cy="219.30" r="2.4" fill="#22ee22" stroke="none" stroke-width="0.5"/>
<circle cx="155.46" cy="219.30" r="2.4" fill="#22ee22" stroke="none" stroke-width="0.5"/>
<circle cx="161.32" cy="219.00" r="2.4" fill="#22ee22" stroke="none" stroke-width="0.5"/>
<circle cx="167.18" cy="218.00" r="2.4" fill="#22ee22" stroke="none" stroke-width="0.5"/>
<circle cx="173.04" cy="215.50" r="2.4" fill="#22ee22" stroke="none" stroke-width="0.5"/>
<circle cx="178.90" cy="209.50" r="2.4" fill="#22ee22" stroke="none" stroke-width="0.5"/>
<circle cx="184.76" cy="203.50" r="2.4" fill="#22ee22" stroke="none" stroke-width="0.5"/>
<circle cx="190.62" cy="197.70" r="2.4" fill="#22ee22" stroke="none" stroke-width="0.5"/>
<circle cx="149.60" cy="219.30" r="2.4" fill="#000000" stroke="none" stroke-width="0.5"/>
<circle cx="155.46" cy="219.30" r="2.4" fill="#000000" stroke="none" stroke-width="0.5"/>
<circle cx="161.32" cy="219.30" r="2.4" fill="#000000" stroke="none" stroke-width="0.5"/>
<circle cx="167.18" cy="219.00" r="2.4" fill="#000000" stroke="none" stroke-width="0.5"/>
<circle cx="173.04" cy="218.50" r="2.4" fill="#000000" stroke="none" stroke-width="0.5"/>
<circle cx="178.90" cy="218.00" r="2.4" fill="#000000" stroke="none" stroke-width="0.5"/>
<circle cx="184.76" cy="217.30" r="2.4" fill="#000000" stroke="none" stroke-width="0.5"/>
<circle cx="190.62" cy="216.80" r="2.4" fill="#000000" stroke="none" stroke-width="0.5"/>
<circle cx="149.60" cy="219.30" r="2.4" fill="#cc33ff" stroke="none" stroke-width="0.5"/>
<circle cx="155.46" cy="219.20" r="2.4" fill="#cc33ff" stroke="none" stroke-width="0.5"/>
<circle cx="161.32" cy="219.00" r="2.4" fill="#cc33ff" stroke="none" stroke-width="0.5"/>
<circle cx="167.18" cy="218.60" r="2.4" fill="#cc33ff" stroke="none" stroke-width="0.5"/>
<circle cx="173.04" cy="215.40" r="2.4" fill="#cc33ff" stroke="none" stroke-width="0.5"/>
<circle cx="178.90" cy="213.20" r="2.4" fill="#cc33ff" stroke="none" stroke-width="0.5"/>
<circle cx="184.76" cy="206.80" r="2.4" fill="#cc33ff" stroke="none" stroke-width="0.5"/>
<circle cx="190.62" cy="195.00" r="2.4" fill="#cc33ff" stroke="none" stroke-width="0.5"/>
<circle cx="149.60" cy="218.60" r="2.4" fill="#ff0000" stroke="none" stroke-width="0.5"/>
<circle cx="155.46" cy="216.80" r="2.4" fill="#ff0000" stroke="none" stroke-width="0.5"/>
<circle cx="161.32" cy="216.50" r="2.4" fill="#ff0000" stroke="none" stroke-width="0.5"/>
<circle cx="167.18" cy="214.50" r="2.4" fill="#ff0000" stroke="none" stroke-width="0.5"/>
<circle cx="173.04" cy="210.10" r="2.4" fill="#ff0000" stroke="none" stroke-width="0.5"/>
<circle cx="178.90" cy="199.50" r="2.4" fill="#ff0000" stroke="none" stroke-width="0.5"/>
<circle cx="184.76" cy="192.30" r="2.4" fill="#ff0000" stroke="none" stroke-width="0.5"/>
<circle cx="190.62" cy="174.50" r="2.4" fill="#ff0000" stroke="none" stroke-width="0.5"/>
<circle cx="149.60" cy="215.40" r="2.4" fill="#0000cc" stroke="none" stroke-width="0.5"/>
<circle cx="155.46" cy="213.50" r="2.4" fill="#0000cc" stroke="none" stroke-width="0.5"/>
<circle cx="161.32" cy="211.40" r="2.4" fill="#0000cc" stroke="none" stroke-width="0.5"/>
<circle cx="167.18" cy="208.60" r="2.4" fill="#0000cc" stroke="none" stroke-width="0.5"/>
<circle cx="173.04" cy="205.00" r="2.4" fill="#0000cc" stroke="none" stroke-width="0.5"/>
<circle cx="178.90" cy="197.20" r="2.4" fill="#0000cc" stroke="none" stroke-width="0.5"/>
<circle cx="184.76" cy="181.70" r="2.4" fill="#0000cc" stroke="none" stroke-width="0.5"/>
<circle cx="190.62" cy="155.00" r="2.4" fill="#0000cc" stroke="none" stroke-width="0.5"/>
<line x1="252.90" y1="131.50" x2="252.90" y2="172.60" stroke="#000" stroke-width="1.6" />
<line x1="248.40" y1="132.30" x2="252.90" y2="132.30" stroke="#000" stroke-width="1.6" />
<text x="243.9" y="136.0" style="font-family:'Liberation Serif',serif;font-size:10.5px;font-weight:normal" text-anchor="end" fill="#000" >2500</text>
<line x1="248.40" y1="145.50" x2="252.90" y2="145.50" stroke="#000" stroke-width="1.6" />
<text x="243.9" y="149.2" style="font-family:'Liberation Serif',serif;font-size:10.5px;font-weight:normal" text-anchor="end" fill="#000" >2000</text>
<line x1="248.40" y1="158.70" x2="252.90" y2="158.70" stroke="#000" stroke-width="1.6" />
<text x="243.9" y="162.39999999999998" style="font-family:'Liberation Serif',serif;font-size:10.5px;font-weight:normal" text-anchor="end" fill="#000" >1500</text>
<line x1="248.40" y1="171.80" x2="252.90" y2="171.80" stroke="#000" stroke-width="1.6" />
<text x="243.9" y="175.5" style="font-family:'Liberation Serif',serif;font-size:10.5px;font-weight:normal" text-anchor="end" fill="#000" >1000</text>
<line x1="252.90" y1="182.50" x2="252.90" y2="220.80" stroke="#000" stroke-width="1.6" />
<line x1="252.90" y1="171.80" x2="256.80" y2="171.80" stroke="#000" stroke-width="1.6" />
<line x1="252.90" y1="183.20" x2="256.80" y2="183.20" stroke="#000" stroke-width="1.6" />
<line x1="248.40" y1="183.20" x2="252.90" y2="183.20" stroke="#000" stroke-width="1.6" />
<text x="243.9" y="186.89999999999998" style="font-family:'Liberation Serif',serif;font-size:10.5px;font-weight:normal" text-anchor="end" fill="#000" >300</text>
<line x1="248.40" y1="195.50" x2="252.90" y2="195.50" stroke="#000" stroke-width="1.6" />
<text x="243.9" y="199.2" style="font-family:'Liberation Serif',serif;font-size:10.5px;font-weight:normal" text-anchor="end" fill="#000" >200</text>
<line x1="248.40" y1="207.70" x2="252.90" y2="207.70" stroke="#000" stroke-width="1.6" />
<text x="243.9" y="211.39999999999998" style="font-family:'Liberation Serif',serif;font-size:10.5px;font-weight:normal" text-anchor="end" fill="#000" >100</text>
<line x1="248.40" y1="220.00" x2="252.90" y2="220.00" stroke="#000" stroke-width="1.6" />
<text x="243.9" y="223.7" style="font-family:'Liberation Serif',serif;font-size:10.5px;font-weight:normal" text-anchor="end" fill="#000" >0</text>
<line x1="252.10" y1="220.00" x2="311.00" y2="220.00" stroke="#000" stroke-width="1.6" />
<line x1="252.90" y1="220.00" x2="252.90" y2="225.00" stroke="#000" stroke-width="1.6" />
<text x="252.9" y="238.3" style="font-family:'Liberation Serif',serif;font-size:10.5px;font-weight:normal" text-anchor="middle" fill="#000" >-12</text>
<line x1="272.20" y1="220.00" x2="272.20" y2="225.00" stroke="#000" stroke-width="1.6" />
<text x="272.2" y="238.3" style="font-family:'Liberation Serif',serif;font-size:10.5px;font-weight:normal" text-anchor="middle" fill="#000" >-10</text>
<line x1="291.20" y1="220.00" x2="291.20" y2="225.00" stroke="#000" stroke-width="1.6" />
<text x="291.2" y="238.3" style="font-family:'Liberation Serif',serif;font-size:10.5px;font-weight:normal" text-anchor="middle" fill="#000" >-8</text>
<line x1="310.20" y1="220.00" x2="310.20" y2="225.00" stroke="#000" stroke-width="1.6" />
<text x="310.2" y="238.3" style="font-family:'Liberation Serif',serif;font-size:10.5px;font-weight:normal" text-anchor="middle" fill="#000" >-6</text>
<text x="281.8" y="248.5" style="font-family:'Liberation Serif',serif;font-size:11px;font-weight:normal" text-anchor="middle" fill="#000" >M [log 10]</text>
<line x1="257.60" y1="213.50" x2="257.60" y2="207.00" stroke="#000" stroke-width="0.8" />
<line x1="255.40" y1="207.00" x2="259.80" y2="207.00" stroke="#000" stroke-width="0.8" />
<line x1="260.00" y1="212.20" x2="260.00" y2="205.00" stroke="#000" stroke-width="0.8" />
<line x1="257.80" y1="205.00" x2="262.20" y2="205.00" stroke="#000" stroke-width="0.8" />
<line x1="262.40" y1="210.60" x2="262.40" y2="203.50" stroke="#000" stroke-width="0.8" />
<line x1="260.20" y1="203.50" x2="264.60" y2="203.50" stroke="#000" stroke-width="0.8" />
<line x1="264.90" y1="209.00" x2="264.90" y2="202.00" stroke="#000" stroke-width="0.8" />
<line x1="262.70" y1="202.00" x2="267.10" y2="202.00" stroke="#000" stroke-width="0.8" />
<line x1="267.30" y1="207.10" x2="267.30" y2="201.00" stroke="#000" stroke-width="0.8" />
<line x1="265.10" y1="201.00" x2="269.50" y2="201.00" stroke="#000" stroke-width="0.8" />
<line x1="269.50" y1="204.00" x2="269.50" y2="197.00" stroke="#000" stroke-width="0.8" />
<line x1="267.30" y1="197.00" x2="271.70" y2="197.00" stroke="#000" stroke-width="0.8" />
<line x1="274.50" y1="194.60" x2="274.50" y2="188.00" stroke="#000" stroke-width="0.8" />
<line x1="272.30" y1="188.00" x2="276.70" y2="188.00" stroke="#000" stroke-width="0.8" />
<line x1="285.70" y1="212.70" x2="285.70" y2="204.00" stroke="#000" stroke-width="0.8" />
<line x1="283.70" y1="204.00" x2="287.70" y2="204.00" stroke="#000" stroke-width="0.8" />
<line x1="288.90" y1="208.70" x2="288.90" y2="196.00" stroke="#000" stroke-width="0.8" />
<line x1="286.90" y1="196.00" x2="290.90" y2="196.00" stroke="#000" stroke-width="0.8" />
<line x1="291.30" y1="198.30" x2="291.30" y2="184.00" stroke="#000" stroke-width="0.8" />
<line x1="289.30" y1="184.00" x2="293.30" y2="184.00" stroke="#000" stroke-width="0.8" />
<line x1="294.50" y1="190.20" x2="294.50" y2="184.00" stroke="#000" stroke-width="0.8" />
<line x1="292.50" y1="184.00" x2="296.50" y2="184.00" stroke="#000" stroke-width="0.8" />
<line x1="303.40" y1="207.90" x2="303.40" y2="200.00" stroke="#000" stroke-width="0.8" />
<line x1="301.40" y1="200.00" x2="305.40" y2="200.00" stroke="#000" stroke-width="0.8" />
<polyline points="252.8,214.3 255.2,214.3 257.6,213.5 260.0,212.2 262.4,210.6 264.9,209.0 267.3,207.1 271.3,200.7 274.5,194.6 276.9,183.0" fill="none" stroke="#000" stroke-width="0.8"/>
<polyline points="282.5,215.1 285.7,212.7 288.9,208.7 291.3,198.3 294.5,190.2 296.5,183.0" fill="none" stroke="#000" stroke-width="0.8"/>
<circle cx="290.00" cy="218.70" r="2.4" fill="#000" stroke="none" stroke-width="0.5"/>
<circle cx="292.40" cy="218.70" r="2.4" fill="#000" stroke="none" stroke-width="0.5"/>
<circle cx="294.80" cy="218.70" r="2.4" fill="#000" stroke="none" stroke-width="0.5"/>
<circle cx="297.20" cy="218.70" r="2.4" fill="#000" stroke="none" stroke-width="0.5"/>
<circle cx="299.60" cy="218.70" r="2.4" fill="#000" stroke="none" stroke-width="0.5"/>
<circle cx="302.00" cy="218.70" r="2.4" fill="#000" stroke="none" stroke-width="0.5"/>
<circle cx="304.40" cy="218.70" r="2.4" fill="#000" stroke="none" stroke-width="0.5"/>
<circle cx="306.80" cy="218.70" r="2.4" fill="#000" stroke="none" stroke-width="0.5"/>
<circle cx="252.80" cy="219.70" r="1.9" fill="#ff0000" stroke="#700" stroke-width="0.5"/>
<circle cx="255.20" cy="219.70" r="1.9" fill="#ff0000" stroke="#700" stroke-width="0.5"/>
<circle cx="257.60" cy="219.70" r="1.9" fill="#ff0000" stroke="#700" stroke-width="0.5"/>
<circle cx="260.00" cy="219.70" r="1.9" fill="#ff0000" stroke="#700" stroke-width="0.5"/>
<circle cx="262.40" cy="219.70" r="1.9" fill="#ff0000" stroke="#700" stroke-width="0.5"/>
<circle cx="264.80" cy="219.70" r="1.9" fill="#ff0000" stroke="#700" stroke-width="0.5"/>
<circle cx="267.20" cy="219.70" r="1.9" fill="#ff0000" stroke="#700" stroke-width="0.5"/>
<circle cx="269.60" cy="219.70" r="1.9" fill="#ff0000" stroke="#700" stroke-width="0.5"/>
<circle cx="272.00" cy="219.70" r="1.9" fill="#ff0000" stroke="#700" stroke-width="0.5"/>
<circle cx="274.40" cy="219.70" r="1.9" fill="#ff0000" stroke="#700" stroke-width="0.5"/>
<circle cx="276.80" cy="219.70" r="1.9" fill="#ff0000" stroke="#700" stroke-width="0.5"/>
<circle cx="279.20" cy="219.70" r="1.9" fill="#ff0000" stroke="#700" stroke-width="0.5"/>
<circle cx="282.50" cy="215.10" r="2.4" fill="#ff0000" stroke="none" stroke-width="0.5"/>
<circle cx="285.70" cy="212.70" r="2.4" fill="#ff0000" stroke="none" stroke-width="0.5"/>
<circle cx="288.90" cy="208.70" r="2.4" fill="#ff0000" stroke="none" stroke-width="0.5"/>
<circle cx="291.30" cy="198.30" r="2.4" fill="#ff0000" stroke="none" stroke-width="0.5"/>
<circle cx="294.50" cy="190.20" r="2.4" fill="#ff0000" stroke="none" stroke-width="0.5"/>
<circle cx="271.1" cy="216.8" r="1.9" fill="none" stroke="#333" stroke-width="0.8"/>
<circle cx="282.50" cy="217.50" r="2.3" fill="#cc33ff" stroke="none" stroke-width="0.5"/>
<circle cx="285.00" cy="216.50" r="2.3" fill="#cc33ff" stroke="none" stroke-width="0.5"/>
<circle cx="287.50" cy="215.80" r="2.3" fill="#cc33ff" stroke="none" stroke-width="0.5"/>
<circle cx="290.00" cy="215.20" r="2.3" fill="#cc33ff" stroke="none" stroke-width="0.5"/>
<circle cx="292.50" cy="214.50" r="2.3" fill="#cc33ff" stroke="none" stroke-width="0.5"/>
<circle cx="295.00" cy="214.00" r="2.3" fill="#cc33ff" stroke="none" stroke-width="0.5"/>
<circle cx="297.50" cy="213.40" r="2.3" fill="#cc33ff" stroke="none" stroke-width="0.5"/>
<circle cx="300.20" cy="212.70" r="2.3" fill="#cc33ff" stroke="none" stroke-width="0.5"/>
<circle cx="303.40" cy="207.90" r="2.3" fill="#cc33ff" stroke="none" stroke-width="0.5"/>
<circle cx="300.20" cy="211.10" r="2.3" fill="#22ee22" stroke="none" stroke-width="0.5"/>
<circle cx="306.60" cy="203.10" r="2.5" fill="#22ee22" stroke="none" stroke-width="0.5"/>
<circle cx="306.60" cy="211.60" r="2.3" fill="#ff8c1a" stroke="none" stroke-width="0.5"/>
<circle cx="305.00" cy="218.50" r="2.1" fill="#000" stroke="none" stroke-width="0.5"/>
<circle cx="252.80" cy="214.30" r="2.4" fill="#0000cc" stroke="none" stroke-width="0.5"/>
<circle cx="255.20" cy="214.30" r="2.4" fill="#0000cc" stroke="none" stroke-width="0.5"/>
<circle cx="257.60" cy="213.50" r="2.4" fill="#0000cc" stroke="none" stroke-width="0.5"/>
<circle cx="260.00" cy="212.20" r="2.4" fill="#0000cc" stroke="none" stroke-width="0.5"/>
<circle cx="262.40" cy="210.60" r="2.4" fill="#0000cc" stroke="none" stroke-width="0.5"/>
<circle cx="264.90" cy="209.00" r="2.4" fill="#0000cc" stroke="none" stroke-width="0.5"/>
<circle cx="267.30" cy="207.10" r="2.4" fill="#0000cc" stroke="none" stroke-width="0.5"/>
<circle cx="271.30" cy="200.70" r="2.4" fill="#0000cc" stroke="none" stroke-width="0.5"/>
<circle cx="274.50" cy="194.60" r="2.4" fill="#0000cc" stroke="none" stroke-width="0.5"/>
<polyline points="285.8,171.8 288.9,165.4 291.6,157.1 294.7,149.3 297.5,141.6 300.4,136.5 303.8,135.9 306.1,132.5" fill="none" stroke="#000" stroke-width="0.8"/>
<circle cx="285.80" cy="171.80" r="2.5" fill="#0000cc" stroke="none" stroke-width="0.5"/>
<circle cx="288.90" cy="165.40" r="2.5" fill="#0000cc" stroke="none" stroke-width="0.5"/>
<circle cx="291.60" cy="157.10" r="2.5" fill="#0000cc" stroke="none" stroke-width="0.5"/>
<circle cx="294.70" cy="149.30" r="2.5" fill="#0000cc" stroke="none" stroke-width="0.5"/>
<circle cx="297.50" cy="141.60" r="2.5" fill="#0000cc" stroke="none" stroke-width="0.5"/>
<circle cx="300.40" cy="136.50" r="2.5" fill="#0000cc" stroke="none" stroke-width="0.5"/>
<circle cx="303.80" cy="135.90" r="2.5" fill="#0000cc" stroke="none" stroke-width="0.5"/>
<circle cx="300.40" cy="171.40" r="2.5" fill="#ff0000" stroke="none" stroke-width="0.5"/>
<circle cx="303.60" cy="165.10" r="2.5" fill="#ff0000" stroke="none" stroke-width="0.5"/>
<circle cx="306.70" cy="161.50" r="2.5" fill="#ff0000" stroke="none" stroke-width="0.5"/>
<line x1="328.50" y1="138.50" x2="344.80" y2="138.50" stroke="#444" stroke-width="1.6" />
<circle cx="336.5" cy="138.5" r="1.8" fill="#fff" stroke="#222" stroke-width="1.2"/>
<text x="353.3" y="142.3" style="font-family:'Liberation Serif',serif;font-size:11px;font-weight:normal" text-anchor="start" fill="#000" >Ctr Ab</text>
<line x1="328.50" y1="151.92" x2="344.80" y2="151.92" stroke="#444" stroke-width="1.6" />
<circle cx="336.50" cy="151.92" r="2.7" fill="#cc33ff" stroke="none" stroke-width="0.5"/>
<text x="353.3" y="155.72" style="font-family:'Liberation Serif',serif;font-size:11px;font-weight:normal" text-anchor="start" fill="#000" >J1.B1</text>
<line x1="328.50" y1="165.34" x2="344.80" y2="165.34" stroke="#444" stroke-width="1.6" />
<circle cx="336.50" cy="165.34" r="2.7" fill="#ff0000" stroke="none" stroke-width="0.5"/>
<text x="353.3" y="169.14000000000001" style="font-family:'Liberation Serif',serif;font-size:11px;font-weight:normal" text-anchor="start" fill="#000" >J1.B5</text>
<line x1="328.50" y1="178.76" x2="344.80" y2="178.76" stroke="#444" stroke-width="1.6" />
<circle cx="336.50" cy="178.76" r="2.7" fill="#22ee22" stroke="none" stroke-width="0.5"/>
<text x="353.3" y="182.56" style="font-family:'Liberation Serif',serif;font-size:11px;font-weight:normal" text-anchor="start" fill="#000" >J1.D1</text>
<line x1="328.50" y1="192.18" x2="344.80" y2="192.18" stroke="#444" stroke-width="1.6" />
<circle cx="336.50" cy="192.18" r="2.7" fill="#0000cc" stroke="none" stroke-width="0.5"/>
<text x="353.3" y="195.98000000000002" style="font-family:'Liberation Serif',serif;font-size:11px;font-weight:normal" text-anchor="start" fill="#000" >J1.F1</text>
<line x1="328.50" y1="205.60" x2="344.80" y2="205.60" stroke="#444" stroke-width="1.6" />
<circle cx="336.50" cy="205.60" r="2.7" fill="#000000" stroke="none" stroke-width="0.5"/>
<text x="353.3" y="209.4" style="font-family:'Liberation Serif',serif;font-size:11px;font-weight:normal" text-anchor="start" fill="#000" >J1.F2</text>
<line x1="328.50" y1="219.02" x2="344.80" y2="219.02" stroke="#444" stroke-width="1.6" />
<circle cx="336.50" cy="219.02" r="2.7" fill="#ff8c1a" stroke="none" stroke-width="0.5"/>
<text x="353.3" y="222.82" style="font-family:'Liberation Serif',serif;font-size:11px;font-weight:normal" text-anchor="start" fill="#000" >J1.F11</text>
<line x1="328.50" y1="232.44" x2="344.80" y2="232.44" stroke="#777" stroke-width="1.6" />
<circle cx="336.50" cy="232.44" r="2.7" fill="#888888" stroke="none" stroke-width="0.5"/>
<text x="353.3" y="236.24" style="font-family:'Liberation Serif',serif;font-size:11px;font-weight:normal" text-anchor="start" fill="#000" >J1.G4</text>
<text x="108.3" y="281.2" style="font-family:'Liberation Serif',serif;font-size:11.2px;font-weight:normal" text-anchor="middle" fill="#000" >HepG2</text>
<line x1="31.50" y1="287.60" x2="185.30" y2="287.60" stroke="#505050" stroke-width="1.3" />
<text x="68.6" y="301.0" style="font-family:'Liberation Serif',serif;font-size:11px;font-weight:normal" text-anchor="middle" fill="#000" >Control<tspan dx="-2.5" dy="-3.2" style="font-size:8px">ko</tspan></text>
<text x="150.8" y="301.0" style="font-family:'Liberation Serif',serif;font-size:11px;font-weight:normal" text-anchor="middle" fill="#000" >JAG1<tspan dx="-0.5" dy="-3.8" style="font-size:8px">ko</tspan></text>
<rect x="31.4" y="305.4" width="71.80000000000001" height="62.80000000000001" fill="none" stroke="#333" stroke-width="1.1"/>
<line x1="56.20" y1="305.40" x2="56.20" y2="368.20" stroke="#333" stroke-width="1.1" />
<line x1="26.00" y1="308.40" x2="31.40" y2="308.40" stroke="#000" stroke-width="1.3" />
<line x1="26.00" y1="320.00" x2="31.40" y2="320.00" stroke="#000" stroke-width="1.3" />
<line x1="26.00" y1="331.60" x2="31.40" y2="331.60" stroke="#000" stroke-width="1.3" />
<line x1="26.00" y1="343.20" x2="31.40" y2="343.20" stroke="#000" stroke-width="1.3" />
<line x1="26.00" y1="354.80" x2="31.40" y2="354.80" stroke="#000" stroke-width="1.3" />
<line x1="26.00" y1="366.40" x2="31.40" y2="366.40" stroke="#000" stroke-width="1.3" />
<line x1="28.80" y1="310.72" x2="31.40" y2="310.72" stroke="#000" stroke-width="1.0" />
<line x1="28.80" y1="313.04" x2="31.40" y2="313.04" stroke="#000" stroke-width="1.0" />
<line x1="28.80" y1="315.36" x2="31.40" y2="315.36" stroke="#000" stroke-width="1.0" />
<line x1="28.80" y1="317.68" x2="31.40" y2="317.68" stroke="#000" stroke-width="1.0" />
<line x1="28.80" y1="322.32" x2="31.40" y2="322.32" stroke="#000" stroke-width="1.0" />
<line x1="28.80" y1="324.64" x2="31.40" y2="324.64" stroke="#000" stroke-width="1.0" />
<line x1="28.80" y1="326.96" x2="31.40" y2="326.96" stroke="#000" stroke-width="1.0" />
<line x1="28.80" y1="329.28" x2="31.40" y2="329.28" stroke="#000" stroke-width="1.0" />
<line x1="28.80" y1="333.92" x2="31.40" y2="333.92" stroke="#000" stroke-width="1.0" />
<line x1="28.80" y1="336.24" x2="31.40" y2="336.24" stroke="#000" stroke-width="1.0" />
<line x1="28.80" y1="338.56" x2="31.40" y2="338.56" stroke="#000" stroke-width="1.0" />
<line x1="28.80" y1="340.88" x2="31.40" y2="340.88" stroke="#000" stroke-width="1.0" />
<line x1="28.80" y1="345.52" x2="31.40" y2="345.52" stroke="#000" stroke-width="1.0" />
<line x1="28.80" y1="347.84" x2="31.40" y2="347.84" stroke="#000" stroke-width="1.0" />
<line x1="28.80" y1="350.16" x2="31.40" y2="350.16" stroke="#000" stroke-width="1.0" />
<line x1="28.80" y1="352.48" x2="31.40" y2="352.48" stroke="#000" stroke-width="1.0" />
<line x1="28.80" y1="357.12" x2="31.40" y2="357.12" stroke="#000" stroke-width="1.0" />
<line x1="28.80" y1="359.44" x2="31.40" y2="359.44" stroke="#000" stroke-width="1.0" />
<line x1="28.80" y1="361.76" x2="31.40" y2="361.76" stroke="#000" stroke-width="1.0" />
<line x1="28.80" y1="364.08" x2="31.40" y2="364.08" stroke="#000" stroke-width="1.0" />
<line x1="31.40" y1="368.20" x2="31.40" y2="371.70" stroke="#000" stroke-width="1.1" />
<line x1="47.60" y1="368.20" x2="47.60" y2="371.70" stroke="#000" stroke-width="1.1" />
<line x1="63.80" y1="368.20" x2="63.80" y2="371.70" stroke="#000" stroke-width="1.1" />
<line x1="80.00" y1="368.20" x2="80.00" y2="371.70" stroke="#000" stroke-width="1.1" />
<line x1="96.20" y1="368.20" x2="96.20" y2="371.70" stroke="#000" stroke-width="1.1" />
<line x1="36.28" y1="368.20" x2="36.28" y2="370.20" stroke="#000" stroke-width="0.8" />
<line x1="39.13" y1="368.20" x2="39.13" y2="370.20" stroke="#000" stroke-width="0.8" />
<line x1="41.15" y1="368.20" x2="41.15" y2="370.20" stroke="#000" stroke-width="0.8" />
<line x1="42.72" y1="368.20" x2="42.72" y2="370.20" stroke="#000" stroke-width="0.8" />
<line x1="44.01" y1="368.20" x2="44.01" y2="370.20" stroke="#000" stroke-width="0.8" />
<line x1="45.09" y1="368.20" x2="45.09" y2="370.20" stroke="#000" stroke-width="0.8" />
<line x1="46.03" y1="368.20" x2="46.03" y2="370.20" stroke="#000" stroke-width="0.8" />
<line x1="46.86" y1="368.20" x2="46.86" y2="370.20" stroke="#000" stroke-width="0.8" />
<line x1="52.48" y1="368.20" x2="52.48" y2="370.20" stroke="#000" stroke-width="0.8" />
<line x1="55.33" y1="368.20" x2="55.33" y2="370.20" stroke="#000" stroke-width="0.8" />
<line x1="57.35" y1="368.20" x2="57.35" y2="370.20" stroke="#000" stroke-width="0.8" />
<line x1="58.92" y1="368.20" x2="58.92" y2="370.20" stroke="#000" stroke-width="0.8" />
<line x1="60.21" y1="368.20" x2="60.21" y2="370.20" stroke="#000" stroke-width="0.8" />
<line x1="61.29" y1="368.20" x2="61.29" y2="370.20" stroke="#000" stroke-width="0.8" />
<line x1="62.23" y1="368.20" x2="62.23" y2="370.20" stroke="#000" stroke-width="0.8" />
<line x1="63.06" y1="368.20" x2="63.06" y2="370.20" stroke="#000" stroke-width="0.8" />
<line x1="68.68" y1="368.20" x2="68.68" y2="370.20" stroke="#000" stroke-width="0.8" />
<line x1="71.53" y1="368.20" x2="71.53" y2="370.20" stroke="#000" stroke-width="0.8" />
<line x1="73.55" y1="368.20" x2="73.55" y2="370.20" stroke="#000" stroke-width="0.8" />
<line x1="75.12" y1="368.20" x2="75.12" y2="370.20" stroke="#000" stroke-width="0.8" />
<line x1="76.41" y1="368.20" x2="76.41" y2="370.20" stroke="#000" stroke-width="0.8" />
<line x1="77.49" y1="368.20" x2="77.49" y2="370.20" stroke="#000" stroke-width="0.8" />
<line x1="78.43" y1="368.20" x2="78.43" y2="370.20" stroke="#000" stroke-width="0.8" />
<line x1="79.26" y1="368.20" x2="79.26" y2="370.20" stroke="#000" stroke-width="0.8" />
<line x1="84.88" y1="368.20" x2="84.88" y2="370.20" stroke="#000" stroke-width="0.8" />
<line x1="87.73" y1="368.20" x2="87.73" y2="370.20" stroke="#000" stroke-width="0.8" />
<line x1="89.75" y1="368.20" x2="89.75" y2="370.20" stroke="#000" stroke-width="0.8" />
<line x1="91.32" y1="368.20" x2="91.32" y2="370.20" stroke="#000" stroke-width="0.8" />
<line x1="92.61" y1="368.20" x2="92.61" y2="370.20" stroke="#000" stroke-width="0.8" />
<line x1="93.69" y1="368.20" x2="93.69" y2="370.20" stroke="#000" stroke-width="0.8" />
<line x1="94.63" y1="368.20" x2="94.63" y2="370.20" stroke="#000" stroke-width="0.8" />
<line x1="95.46" y1="368.20" x2="95.46" y2="370.20" stroke="#000" stroke-width="0.8" />
<text x="33.8" y="387.7" style="font-family:'Liberation Sans',sans-serif;font-size:8.4px" fill="#000">10<tspan dy="-4.8" style="font-size:7.8px">1</tspan></text>
<text x="59.0" y="387.7" style="font-family:'Liberation Sans',sans-serif;font-size:8.4px" fill="#000">10<tspan dy="-4.8" style="font-size:7.8px">3</tspan></text>
<text x="88.4" y="387.7" style="font-family:'Liberation Sans',sans-serif;font-size:8.4px" fill="#000">10<tspan dy="-4.8" style="font-size:7.8px">5</tspan></text>
<text x="80.5" y="316.6" style="font-family:'Liberation Serif',serif;font-size:9.5px;font-weight:normal" text-anchor="middle" fill="#000" >JAG1<tspan dy="-4" style="font-size:6px">+</tspan></text>
<text x="80.5" y="327.3" style="font-family:'Liberation Serif',serif;font-size:9.5px;font-weight:normal" text-anchor="middle" fill="#000" >100%</text>
<rect x="116.3" y="305.4" width="71.3" height="62.80000000000001" fill="none" stroke="#333" stroke-width="1.1"/>
<line x1="140.60" y1="305.40" x2="140.60" y2="368.20" stroke="#333" stroke-width="1.1" />
<line x1="110.90" y1="308.40" x2="116.30" y2="308.40" stroke="#000" stroke-width="1.3" />
<line x1="110.90" y1="320.00" x2="116.30" y2="320.00" stroke="#000" stroke-width="1.3" />
<line x1="110.90" y1="331.60" x2="116.30" y2="331.60" stroke="#000" stroke-width="1.3" />
<line x1="110.90" y1="343.20" x2="116.30" y2="343.20" stroke="#000" stroke-width="1.3" />
<line x1="110.90" y1="354.80" x2="116.30" y2="354.80" stroke="#000" stroke-width="1.3" />
<line x1="110.90" y1="366.40" x2="116.30" y2="366.40" stroke="#000" stroke-width="1.3" />
<line x1="113.70" y1="310.72" x2="116.30" y2="310.72" stroke="#000" stroke-width="1.0" />
<line x1="113.70" y1="313.04" x2="116.30" y2="313.04" stroke="#000" stroke-width="1.0" />
<line x1="113.70" y1="315.36" x2="116.30" y2="315.36" stroke="#000" stroke-width="1.0" />
<line x1="113.70" y1="317.68" x2="116.30" y2="317.68" stroke="#000" stroke-width="1.0" />
<line x1="113.70" y1="322.32" x2="116.30" y2="322.32" stroke="#000" stroke-width="1.0" />
<line x1="113.70" y1="324.64" x2="116.30" y2="324.64" stroke="#000" stroke-width="1.0" />
<line x1="113.70" y1="326.96" x2="116.30" y2="326.96" stroke="#000" stroke-width="1.0" />
<line x1="113.70" y1="329.28" x2="116.30" y2="329.28" stroke="#000" stroke-width="1.0" />
<line x1="113.70" y1="333.92" x2="116.30" y2="333.92" stroke="#000" stroke-width="1.0" />
<line x1="113.70" y1="336.24" x2="116.30" y2="336.24" stroke="#000" stroke-width="1.0" />
<line x1="113.70" y1="338.56" x2="116.30" y2="338.56" stroke="#000" stroke-width="1.0" />
<line x1="113.70" y1="340.88" x2="116.30" y2="340.88" stroke="#000" stroke-width="1.0" />
<line x1="113.70" y1="345.52" x2="116.30" y2="345.52" stroke="#000" stroke-width="1.0" />
<line x1="113.70" y1="347.84" x2="116.30" y2="347.84" stroke="#000" stroke-width="1.0" />
<line x1="113.70" y1="350.16" x2="116.30" y2="350.16" stroke="#000" stroke-width="1.0" />
<line x1="113.70" y1="352.48" x2="116.30" y2="352.48" stroke="#000" stroke-width="1.0" />
<line x1="113.70" y1="357.12" x2="116.30" y2="357.12" stroke="#000" stroke-width="1.0" />
<line x1="113.70" y1="359.44" x2="116.30" y2="359.44" stroke="#000" stroke-width="1.0" />
<line x1="113.70" y1="361.76" x2="116.30" y2="361.76" stroke="#000" stroke-width="1.0" />
<line x1="113.70" y1="364.08" x2="116.30" y2="364.08" stroke="#000" stroke-width="1.0" />
<line x1="116.30" y1="368.20" x2="116.30" y2="371.70" stroke="#000" stroke-width="1.1" />
<line x1="132.50" y1="368.20" x2="132.50" y2="371.70" stroke="#000" stroke-width="1.1" />
<line x1="148.70" y1="368.20" x2="148.70" y2="371.70" stroke="#000" stroke-width="1.1" />
<line x1="164.90" y1="368.20" x2="164.90" y2="371.70" stroke="#000" stroke-width="1.1" />
<line x1="181.10" y1="368.20" x2="181.10" y2="371.70" stroke="#000" stroke-width="1.1" />
<line x1="121.18" y1="368.20" x2="121.18" y2="370.20" stroke="#000" stroke-width="0.8" />
<line x1="124.03" y1="368.20" x2="124.03" y2="370.20" stroke="#000" stroke-width="0.8" />
<line x1="126.05" y1="368.20" x2="126.05" y2="370.20" stroke="#000" stroke-width="0.8" />
<line x1="127.62" y1="368.20" x2="127.62" y2="370.20" stroke="#000" stroke-width="0.8" />
<line x1="128.91" y1="368.20" x2="128.91" y2="370.20" stroke="#000" stroke-width="0.8" />
<line x1="129.99" y1="368.20" x2="129.99" y2="370.20" stroke="#000" stroke-width="0.8" />
<line x1="130.93" y1="368.20" x2="130.93" y2="370.20" stroke="#000" stroke-width="0.8" />
<line x1="131.76" y1="368.20" x2="131.76" y2="370.20" stroke="#000" stroke-width="0.8" />
<line x1="137.38" y1="368.20" x2="137.38" y2="370.20" stroke="#000" stroke-width="0.8" />
<line x1="140.23" y1="368.20" x2="140.23" y2="370.20" stroke="#000" stroke-width="0.8" />
<line x1="142.25" y1="368.20" x2="142.25" y2="370.20" stroke="#000" stroke-width="0.8" />
<line x1="143.82" y1="368.20" x2="143.82" y2="370.20" stroke="#000" stroke-width="0.8" />
<line x1="145.11" y1="368.20" x2="145.11" y2="370.20" stroke="#000" stroke-width="0.8" />
<line x1="146.19" y1="368.20" x2="146.19" y2="370.20" stroke="#000" stroke-width="0.8" />
<line x1="147.13" y1="368.20" x2="147.13" y2="370.20" stroke="#000" stroke-width="0.8" />
<line x1="147.96" y1="368.20" x2="147.96" y2="370.20" stroke="#000" stroke-width="0.8" />
<line x1="153.58" y1="368.20" x2="153.58" y2="370.20" stroke="#000" stroke-width="0.8" />
<line x1="156.43" y1="368.20" x2="156.43" y2="370.20" stroke="#000" stroke-width="0.8" />
<line x1="158.45" y1="368.20" x2="158.45" y2="370.20" stroke="#000" stroke-width="0.8" />
<line x1="160.02" y1="368.20" x2="160.02" y2="370.20" stroke="#000" stroke-width="0.8" />
<line x1="161.31" y1="368.20" x2="161.31" y2="370.20" stroke="#000" stroke-width="0.8" />
<line x1="162.39" y1="368.20" x2="162.39" y2="370.20" stroke="#000" stroke-width="0.8" />
<line x1="163.33" y1="368.20" x2="163.33" y2="370.20" stroke="#000" stroke-width="0.8" />
<line x1="164.16" y1="368.20" x2="164.16" y2="370.20" stroke="#000" stroke-width="0.8" />
<line x1="169.78" y1="368.20" x2="169.78" y2="370.20" stroke="#000" stroke-width="0.8" />
<line x1="172.63" y1="368.20" x2="172.63" y2="370.20" stroke="#000" stroke-width="0.8" />
<line x1="174.65" y1="368.20" x2="174.65" y2="370.20" stroke="#000" stroke-width="0.8" />
<line x1="176.22" y1="368.20" x2="176.22" y2="370.20" stroke="#000" stroke-width="0.8" />
<line x1="177.51" y1="368.20" x2="177.51" y2="370.20" stroke="#000" stroke-width="0.8" />
<line x1="178.59" y1="368.20" x2="178.59" y2="370.20" stroke="#000" stroke-width="0.8" />
<line x1="179.53" y1="368.20" x2="179.53" y2="370.20" stroke="#000" stroke-width="0.8" />
<line x1="180.36" y1="368.20" x2="180.36" y2="370.20" stroke="#000" stroke-width="0.8" />
<text x="118.7" y="387.7" style="font-family:'Liberation Sans',sans-serif;font-size:8.4px" fill="#000">10<tspan dy="-4.8" style="font-size:7.8px">1</tspan></text>
<text x="143.9" y="387.7" style="font-family:'Liberation Sans',sans-serif;font-size:8.4px" fill="#000">10<tspan dy="-4.8" style="font-size:7.8px">3</tspan></text>
<text x="173.3" y="387.7" style="font-family:'Liberation Sans',sans-serif;font-size:8.4px" fill="#000">10<tspan dy="-4.8" style="font-size:7.8px">5</tspan></text>
<text x="159.7" y="316.6" style="font-family:'Liberation Serif',serif;font-size:9.5px;font-weight:normal" text-anchor="middle" fill="#000" >JAG1<tspan dy="-4" style="font-size:6px">+</tspan></text>
<text x="159.7" y="327.3" style="font-family:'Liberation Serif',serif;font-size:9.5px;font-weight:normal" text-anchor="middle" fill="#000" >0%</text>
<text x="19.1" y="336.9" transform="rotate(-90 19.1 336.9)" text-anchor="middle" style="font-family:'Liberation Serif',serif;font-size:11px">SSC-A</text>
<text x="190.8" y="334.9" style="font-family:'Liberation Serif',serif;font-size:11.2px;font-weight:normal" text-anchor="start" fill="#3a3a3a" >Non-stained</text>
<text x="190.6" y="349.1" style="font-family:'Liberation Serif',serif;font-size:11px;font-weight:normal" text-anchor="start" fill="#f00" letter-spacing="0.45">JAG1-PE</text>
<rect x="31.4" y="398.4" width="71.80000000000001" height="125.80000000000007" fill="none" stroke="#444" stroke-width="1.2"/>
<line x1="58.60" y1="398.40" x2="58.60" y2="524.20" stroke="#000" stroke-width="1.0" stroke-dasharray="1.6 1.1"/>
<line x1="32.40" y1="524.20" x2="32.40" y2="528.00" stroke="#000" stroke-width="1.2" />
<line x1="48.80" y1="524.20" x2="48.80" y2="528.00" stroke="#000" stroke-width="1.2" />
<line x1="65.20" y1="524.20" x2="65.20" y2="528.00" stroke="#000" stroke-width="1.2" />
<line x1="81.60" y1="524.20" x2="81.60" y2="528.00" stroke="#000" stroke-width="1.2" />
<line x1="98.00" y1="524.20" x2="98.00" y2="528.00" stroke="#000" stroke-width="1.2" />
<line x1="37.34" y1="524.20" x2="37.34" y2="526.30" stroke="#000" stroke-width="0.8" />
<line x1="40.22" y1="524.20" x2="40.22" y2="526.30" stroke="#000" stroke-width="0.8" />
<line x1="42.27" y1="524.20" x2="42.27" y2="526.30" stroke="#000" stroke-width="0.8" />
<line x1="43.86" y1="524.20" x2="43.86" y2="526.30" stroke="#000" stroke-width="0.8" />
<line x1="45.16" y1="524.20" x2="45.16" y2="526.30" stroke="#000" stroke-width="0.8" />
<line x1="46.26" y1="524.20" x2="46.26" y2="526.30" stroke="#000" stroke-width="0.8" />
<line x1="47.21" y1="524.20" x2="47.21" y2="526.30" stroke="#000" stroke-width="0.8" />
<line x1="48.05" y1="524.20" x2="48.05" y2="526.30" stroke="#000" stroke-width="0.8" />
<line x1="53.74" y1="524.20" x2="53.74" y2="526.30" stroke="#000" stroke-width="0.8" />
<line x1="56.62" y1="524.20" x2="56.62" y2="526.30" stroke="#000" stroke-width="0.8" />
<line x1="58.67" y1="524.20" x2="58.67" y2="526.30" stroke="#000" stroke-width="0.8" />
<line x1="60.26" y1="524.20" x2="60.26" y2="526.30" stroke="#000" stroke-width="0.8" />
<line x1="61.56" y1="524.20" x2="61.56" y2="526.30" stroke="#000" stroke-width="0.8" />
<line x1="62.66" y1="524.20" x2="62.66" y2="526.30" stroke="#000" stroke-width="0.8" />
<line x1="63.61" y1="524.20" x2="63.61" y2="526.30" stroke="#000" stroke-width="0.8" />
<line x1="64.45" y1="524.20" x2="64.45" y2="526.30" stroke="#000" stroke-width="0.8" />
<line x1="70.14" y1="524.20" x2="70.14" y2="526.30" stroke="#000" stroke-width="0.8" />
<line x1="73.02" y1="524.20" x2="73.02" y2="526.30" stroke="#000" stroke-width="0.8" />
<line x1="75.07" y1="524.20" x2="75.07" y2="526.30" stroke="#000" stroke-width="0.8" />
<line x1="76.66" y1="524.20" x2="76.66" y2="526.30" stroke="#000" stroke-width="0.8" />
<line x1="77.96" y1="524.20" x2="77.96" y2="526.30" stroke="#000" stroke-width="0.8" />
<line x1="79.06" y1="524.20" x2="79.06" y2="526.30" stroke="#000" stroke-width="0.8" />
<line x1="80.01" y1="524.20" x2="80.01" y2="526.30" stroke="#000" stroke-width="0.8" />
<line x1="80.85" y1="524.20" x2="80.85" y2="526.30" stroke="#000" stroke-width="0.8" />
<line x1="86.54" y1="524.20" x2="86.54" y2="526.30" stroke="#000" stroke-width="0.8" />
<line x1="89.42" y1="524.20" x2="89.42" y2="526.30" stroke="#000" stroke-width="0.8" />
<line x1="91.47" y1="524.20" x2="91.47" y2="526.30" stroke="#000" stroke-width="0.8" />
<line x1="93.06" y1="524.20" x2="93.06" y2="526.30" stroke="#000" stroke-width="0.8" />
<line x1="94.36" y1="524.20" x2="94.36" y2="526.30" stroke="#000" stroke-width="0.8" />
<line x1="95.46" y1="524.20" x2="95.46" y2="526.30" stroke="#000" stroke-width="0.8" />
<line x1="96.41" y1="524.20" x2="96.41" y2="526.30" stroke="#000" stroke-width="0.8" />
<line x1="97.25" y1="524.20" x2="97.25" y2="526.30" stroke="#000" stroke-width="0.8" />
<text x="34.9" y="547" style="font-family:'Liberation Sans',sans-serif;font-size:8.6px" fill="#000">10<tspan dy="-5" style="font-size:8px">1</tspan></text>
<text x="68.69999999999999" y="547" style="font-family:'Liberation Sans',sans-serif;font-size:8.6px" fill="#000">10<tspan dy="-5" style="font-size:8px">3</tspan></text>
<rect x="116.0" y="398.4" width="70.80000000000001" height="125.80000000000007" fill="none" stroke="#444" stroke-width="1.2"/>
<line x1="143.70" y1="398.40" x2="143.70" y2="524.20" stroke="#000" stroke-width="1.0" stroke-dasharray="1.6 1.1"/>
<line x1="117.00" y1="524.20" x2="117.00" y2="528.00" stroke="#000" stroke-width="1.2" />
<line x1="133.40" y1="524.20" x2="133.40" y2="528.00" stroke="#000" stroke-width="1.2" />
<line x1="149.80" y1="524.20" x2="149.80" y2="528.00" stroke="#000" stroke-width="1.2" />
<line x1="166.20" y1="524.20" x2="166.20" y2="528.00" stroke="#000" stroke-width="1.2" />
<line x1="182.60" y1="524.20" x2="182.60" y2="528.00" stroke="#000" stroke-width="1.2" />
<line x1="121.94" y1="524.20" x2="121.94" y2="526.30" stroke="#000" stroke-width="0.8" />
<line x1="124.82" y1="524.20" x2="124.82" y2="526.30" stroke="#000" stroke-width="0.8" />
<line x1="126.87" y1="524.20" x2="126.87" y2="526.30" stroke="#000" stroke-width="0.8" />
<line x1="128.46" y1="524.20" x2="128.46" y2="526.30" stroke="#000" stroke-width="0.8" />
<line x1="129.76" y1="524.20" x2="129.76" y2="526.30" stroke="#000" stroke-width="0.8" />
<line x1="130.86" y1="524.20" x2="130.86" y2="526.30" stroke="#000" stroke-width="0.8" />
<line x1="131.81" y1="524.20" x2="131.81" y2="526.30" stroke="#000" stroke-width="0.8" />
<line x1="132.65" y1="524.20" x2="132.65" y2="526.30" stroke="#000" stroke-width="0.8" />
<line x1="138.34" y1="524.20" x2="138.34" y2="526.30" stroke="#000" stroke-width="0.8" />
<line x1="141.22" y1="524.20" x2="141.22" y2="526.30" stroke="#000" stroke-width="0.8" />
<line x1="143.27" y1="524.20" x2="143.27" y2="526.30" stroke="#000" stroke-width="0.8" />
<line x1="144.86" y1="524.20" x2="144.86" y2="526.30" stroke="#000" stroke-width="0.8" />
<line x1="146.16" y1="524.20" x2="146.16" y2="526.30" stroke="#000" stroke-width="0.8" />
<line x1="147.26" y1="524.20" x2="147.26" y2="526.30" stroke="#000" stroke-width="0.8" />
<line x1="148.21" y1="524.20" x2="148.21" y2="526.30" stroke="#000" stroke-width="0.8" />
<line x1="149.05" y1="524.20" x2="149.05" y2="526.30" stroke="#000" stroke-width="0.8" />
<line x1="154.74" y1="524.20" x2="154.74" y2="526.30" stroke="#000" stroke-width="0.8" />
<line x1="157.62" y1="524.20" x2="157.62" y2="526.30" stroke="#000" stroke-width="0.8" />
<line x1="159.67" y1="524.20" x2="159.67" y2="526.30" stroke="#000" stroke-width="0.8" />
<line x1="161.26" y1="524.20" x2="161.26" y2="526.30" stroke="#000" stroke-width="0.8" />
<line x1="162.56" y1="524.20" x2="162.56" y2="526.30" stroke="#000" stroke-width="0.8" />
<line x1="163.66" y1="524.20" x2="163.66" y2="526.30" stroke="#000" stroke-width="0.8" />
<line x1="164.61" y1="524.20" x2="164.61" y2="526.30" stroke="#000" stroke-width="0.8" />
<line x1="165.45" y1="524.20" x2="165.45" y2="526.30" stroke="#000" stroke-width="0.8" />
<line x1="171.14" y1="524.20" x2="171.14" y2="526.30" stroke="#000" stroke-width="0.8" />
<line x1="174.02" y1="524.20" x2="174.02" y2="526.30" stroke="#000" stroke-width="0.8" />
<line x1="176.07" y1="524.20" x2="176.07" y2="526.30" stroke="#000" stroke-width="0.8" />
<line x1="177.66" y1="524.20" x2="177.66" y2="526.30" stroke="#000" stroke-width="0.8" />
<line x1="178.96" y1="524.20" x2="178.96" y2="526.30" stroke="#000" stroke-width="0.8" />
<line x1="180.06" y1="524.20" x2="180.06" y2="526.30" stroke="#000" stroke-width="0.8" />
<line x1="181.01" y1="524.20" x2="181.01" y2="526.30" stroke="#000" stroke-width="0.8" />
<line x1="181.85" y1="524.20" x2="181.85" y2="526.30" stroke="#000" stroke-width="0.8" />
<text x="119.5" y="547" style="font-family:'Liberation Sans',sans-serif;font-size:8.6px" fill="#000">10<tspan dy="-5" style="font-size:8px">1</tspan></text>
<text x="153.3" y="547" style="font-family:'Liberation Sans',sans-serif;font-size:8.6px" fill="#000">10<tspan dy="-5" style="font-size:8px">3</tspan></text>
<line x1="31.80" y1="417.40" x2="102.50" y2="417.40" stroke="#ffc890" stroke-width="1.0" />
<path d="M31.8,417.4 L31.8,416.9 L32.3,416.8 L32.8,416.8 L33.3,416.8 L33.8,416.6 L34.3,416.6 L34.8,416.6 L35.3,416.4 L35.8,416.2 L36.3,416.1 L36.8,416.0 L37.3,415.8 L37.8,415.8 L38.3,415.6 L38.8,415.5 L39.3,415.2 L39.8,415.1 L40.3,415.0 L40.8,414.9 L41.3,414.6 L41.8,414.3 L42.3,414.2 L42.8,413.5 L43.3,413.4 L43.8,414.3 L44.3,413.8 L44.8,412.8 L45.3,412.5 L45.8,411.9 L46.3,411.5 L46.8,410.1 L47.3,411.3 L47.8,410.4 L48.3,408.4 L48.8,408.7 L49.3,408.2 L49.8,408.5 L50.3,408.9 L50.8,407.0 L51.3,407.2 L51.8,408.9 L52.3,409.1 L52.8,409.4 L53.3,410.6 L53.8,410.7 L54.3,411.3 L54.8,412.0 L55.3,412.9 L55.8,413.2 L56.3,413.7 L56.8,414.2 L57.3,414.9 L57.8,414.9 L58.3,415.5 L58.8,415.5 L59.3,415.7 L59.8,415.4 L60.3,415.5 L60.8,415.7 L61.3,415.5 L61.8,415.5 L62.3,415.4 L62.8,415.6 L63.3,415.6 L63.8,415.4 L64.3,415.5 L64.8,415.4 L65.3,415.4 L65.8,415.8 L66.3,415.6 L66.8,415.5 L67.3,415.7 L67.8,415.8 L68.3,415.7 L68.8,415.8 L69.3,415.7 L69.8,415.9 L70.3,416.1 L70.8,415.9 L71.3,416.0 L71.8,415.9 L72.3,416.0 L72.8,416.2 L73.3,416.2 L73.8,415.9 L74.3,416.0 L74.8,416.1 L75.3,416.1 L75.8,416.1 L76.3,416.1 L76.8,416.1 L77.3,416.1 L77.8,416.2 L78.3,416.2 L78.8,416.1 L79.3,416.4 L79.8,416.3 L80.3,416.3 L80.8,416.4 L81.3,416.3 L81.8,416.4 L82.3,416.3 L82.8,416.4 L83.3,416.3 L83.8,416.3 L84.3,416.4 L84.8,416.5 L85.3,416.6 L85.8,416.4 L86.3,416.6 L86.8,416.6 L87.3,416.6 L87.8,416.7 L88.3,416.6 L88.8,416.7 L89.3,416.7 L89.8,416.8 L90.3,416.8 L90.8,416.9 L91.3,416.8 L91.8,416.8 L92.3,417.0 L92.8,417.0 L93.3,417.0 L93.8,416.9 L94.3,417.1 L94.8,417.1 L95.3,417.1 L95.8,417.2 L96.3,417.2 L96.8,417.2 L97.3,417.2 L97.8,417.2 L98.3,417.2 L98.8,417.3 L99.3,417.3 L99.8,417.3 L100.3,417.3 L100.8,417.3 L101.3,417.4 L101.8,417.4 L102.3,417.4 L102.5,417.4 Z" fill="#ff8c1a" stroke="#ff8c1a" stroke-width="0.5"/>
<line x1="31.80" y1="435.40" x2="102.50" y2="435.40" stroke="#b8b8ff" stroke-width="1.0" />
<path d="M50.3,435.4 L50.3,435.4 L50.8,435.2 L51.3,435.0 L51.8,435.0 L52.3,434.6 L52.8,434.4 L53.3,434.3 L53.8,434.0 L54.3,433.9 L54.8,433.8 L55.3,433.4 L55.8,433.4 L56.3,433.3 L56.8,433.2 L57.3,432.7 L57.8,432.7 L58.3,432.3 L58.8,432.4 L59.3,432.0 L59.8,432.1 L60.3,431.4 L60.8,431.4 L61.3,431.2 L61.8,430.9 L62.3,431.2 L62.8,430.4 L63.3,429.6 L63.8,430.9 L64.3,430.8 L64.8,430.5 L65.3,429.3 L65.8,429.4 L66.3,428.7 L66.8,428.7 L67.3,428.7 L67.8,428.5 L68.3,428.6 L68.8,427.8 L69.3,428.8 L69.8,428.2 L70.3,427.6 L70.8,426.4 L71.3,427.9 L71.8,427.9 L72.3,427.4 L72.8,426.2 L73.3,426.9 L73.8,425.6 L74.3,427.7 L74.8,425.4 L75.3,425.8 L75.8,427.8 L76.3,427.0 L76.8,426.6 L77.3,427.6 L77.8,427.3 L78.3,426.8 L78.8,428.3 L79.3,428.9 L79.8,429.4 L80.3,429.0 L80.8,429.7 L81.3,430.0 L81.8,430.2 L82.3,430.2 L82.8,431.1 L83.3,431.5 L83.8,432.0 L84.3,431.1 L84.8,431.6 L85.3,431.4 L85.8,432.1 L86.3,432.5 L86.8,432.4 L87.3,432.7 L87.8,433.2 L88.3,433.3 L88.8,433.1 L89.3,433.5 L89.8,433.7 L90.3,434.0 L90.8,434.3 L91.3,434.3 L91.8,434.6 L92.3,434.8 L92.8,434.9 L93.3,435.1 L93.8,435.3 L94.2,435.4 Z" fill="#4444ff" stroke="#4444ff" stroke-width="0.5"/>
<line x1="31.80" y1="452.60" x2="102.50" y2="452.60" stroke="#a0f0a0" stroke-width="1.0" />
<path d="M31.8,452.6 L31.8,451.7 L32.3,451.9 L32.8,451.5 L33.3,451.5 L33.8,451.3 L34.3,451.2 L34.8,451.3 L35.3,451.0 L35.8,450.9 L36.3,450.2 L36.8,450.5 L37.3,450.5 L37.8,450.4 L38.3,450.3 L38.8,450.3 L39.3,450.0 L39.8,449.7 L40.3,449.7 L40.8,449.3 L41.3,449.4 L41.8,449.2 L42.3,448.6 L42.8,448.7 L43.3,448.8 L43.8,448.6 L44.3,448.1 L44.8,447.5 L45.3,448.1 L45.8,447.9 L46.3,447.2 L46.8,447.6 L47.3,446.8 L47.8,445.6 L48.3,445.2 L48.8,445.0 L49.3,444.0 L49.8,445.9 L50.3,442.6 L50.8,444.4 L51.3,445.2 L51.8,444.2 L52.3,444.2 L52.8,445.3 L53.3,446.0 L53.8,445.6 L54.3,446.0 L54.8,445.6 L55.3,446.3 L55.8,446.9 L56.3,446.8 L56.8,447.7 L57.3,448.3 L57.8,448.0 L58.3,448.4 L58.8,448.8 L59.3,449.1 L59.8,448.9 L60.3,449.8 L60.8,449.0 L61.3,449.1 L61.8,449.8 L62.3,449.5 L62.8,449.8 L63.3,449.5 L63.8,450.2 L64.3,450.1 L64.8,449.8 L65.3,449.8 L65.8,450.6 L66.3,450.4 L66.8,450.3 L67.3,450.6 L67.8,450.3 L68.3,450.8 L68.8,450.6 L69.3,450.9 L69.8,450.5 L70.3,450.8 L70.8,450.9 L71.3,451.1 L71.8,450.6 L72.3,450.8 L72.8,450.8 L73.3,450.8 L73.8,451.0 L74.3,451.1 L74.8,451.2 L75.3,451.2 L75.8,451.0 L76.3,451.3 L76.8,451.3 L77.3,451.3 L77.8,451.3 L78.3,451.3 L78.8,451.5 L79.3,451.5 L79.8,451.4 L80.3,451.4 L80.8,451.5 L81.3,451.6 L81.8,451.7 L82.3,451.7 L82.8,451.7 L83.3,451.7 L83.8,451.9 L84.3,451.9 L84.8,451.9 L85.3,452.0 L85.8,452.0 L86.3,452.0 L86.8,452.1 L87.3,452.1 L87.8,452.3 L88.3,452.3 L88.8,452.4 L89.3,452.5 L89.8,452.6 L90.0,452.6 Z" fill="#11dd22" stroke="#11dd22" stroke-width="0.5"/>
<line x1="31.80" y1="470.40" x2="102.50" y2="470.40" stroke="#ffa8a8" stroke-width="1.0" />
<path d="M44.5,470.4 L44.5,470.4 L45.0,470.2 L45.5,470.0 L46.0,469.9 L46.5,469.8 L47.0,469.5 L47.5,469.4 L48.0,469.2 L48.5,469.2 L49.0,468.8 L49.5,468.6 L50.0,468.3 L50.5,468.3 L51.0,468.0 L51.5,468.1 L52.0,467.1 L52.5,467.8 L53.0,466.9 L53.5,467.0 L54.0,466.9 L54.5,466.7 L55.0,466.4 L55.5,465.9 L56.0,465.8 L56.5,464.9 L57.0,466.0 L57.5,465.1 L58.0,465.2 L58.5,464.2 L59.0,465.5 L59.5,464.5 L60.0,464.1 L60.5,464.8 L61.0,463.4 L61.5,463.6 L62.0,463.1 L62.5,463.2 L63.0,464.3 L63.5,464.3 L64.0,464.0 L64.5,463.6 L65.0,463.7 L65.5,464.5 L66.0,464.6 L66.5,464.7 L67.0,464.7 L67.5,464.6 L68.0,464.7 L68.5,463.7 L69.0,465.0 L69.5,465.0 L70.0,464.8 L70.5,465.5 L71.0,465.5 L71.5,465.5 L72.0,465.3 L72.5,466.3 L73.0,465.5 L73.5,466.3 L74.0,466.2 L74.5,466.2 L75.0,466.4 L75.5,466.5 L76.0,466.9 L76.5,467.1 L77.0,467.2 L77.5,467.7 L78.0,467.3 L78.5,467.9 L79.0,468.1 L79.5,467.6 L80.0,468.1 L80.5,468.4 L81.0,468.0 L81.5,468.5 L82.0,468.4 L82.5,468.8 L83.0,468.8 L83.5,469.1 L84.0,469.3 L84.5,469.3 L85.0,469.3 L85.5,469.3 L86.0,469.3 L86.5,469.6 L87.0,469.5 L87.5,469.7 L88.0,469.7 L88.5,469.8 L89.0,469.8 L89.5,469.9 L90.0,469.9 L90.5,469.9 L91.0,470.0 L91.5,470.0 L92.0,470.1 L92.5,470.1 L93.0,470.2 L93.5,470.2 L94.0,470.3 L94.5,470.3 L95.0,470.4 L95.0,470.4 Z" fill="#ff1111" stroke="#ff1111" stroke-width="0.5"/>
<line x1="31.80" y1="487.60" x2="102.50" y2="487.60" stroke="#e2c8ff" stroke-width="1.0" />
<path d="M31.8,487.6 L31.8,487.2 L32.3,487.2 L32.8,487.1 L33.3,487.0 L33.8,486.8 L34.3,486.8 L34.8,486.8 L35.3,486.7 L35.8,486.5 L36.3,486.4 L36.8,486.4 L37.3,486.5 L37.8,486.4 L38.3,486.1 L38.8,486.1 L39.3,486.3 L39.8,486.0 L40.3,486.1 L40.8,485.9 L41.3,485.9 L41.8,485.8 L42.3,485.5 L42.8,485.4 L43.3,485.2 L43.8,484.7 L44.3,484.2 L44.8,484.6 L45.3,483.9 L45.8,483.8 L46.3,483.2 L46.8,483.3 L47.3,482.5 L47.8,482.2 L48.3,482.0 L48.8,482.1 L49.3,481.5 L49.8,481.7 L50.3,481.6 L50.8,480.4 L51.3,481.0 L51.8,479.4 L52.3,479.4 L52.8,481.3 L53.3,480.3 L53.8,481.3 L54.3,481.0 L54.8,481.4 L55.3,482.6 L55.8,482.1 L56.3,482.4 L56.8,482.2 L57.3,483.4 L57.8,483.0 L58.3,483.9 L58.8,483.9 L59.3,484.1 L59.8,483.6 L60.3,484.0 L60.8,483.6 L61.3,484.2 L61.8,484.3 L62.3,484.4 L62.8,484.9 L63.3,484.9 L63.8,484.7 L64.3,485.2 L64.8,485.2 L65.3,485.4 L65.8,485.4 L66.3,485.7 L66.8,485.8 L67.3,485.8 L67.8,486.0 L68.3,486.1 L68.8,486.0 L69.3,486.3 L69.8,486.3 L70.3,486.3 L70.8,486.1 L71.3,486.3 L71.8,486.4 L72.3,486.5 L72.8,486.4 L73.3,486.6 L73.8,486.6 L74.3,486.5 L74.8,486.7 L75.3,486.7 L75.8,486.7 L76.3,486.7 L76.8,486.8 L77.3,486.7 L77.8,486.9 L78.3,487.0 L78.8,487.0 L79.3,487.0 L79.8,487.0 L80.3,487.1 L80.8,487.2 L81.3,487.3 L81.8,487.4 L82.3,487.4 L82.8,487.5 L83.3,487.6 L83.5,487.6 Z" fill="#b060f0" stroke="#b060f0" stroke-width="0.5"/>
<line x1="58.00" y1="505.10" x2="102.50" y2="505.10" stroke="#999" stroke-width="1.0" />
<path d="M31.9,505.09999999999997 L31.9,503.9 L32.4,503.7 L32.9,504.3 L33.4,503.8 L33.9,503.4 L34.4,503.2 L34.9,503.2 L35.4,502.8 L35.9,503.0 L36.4,502.8 L36.9,502.8 L37.4,503.1 L37.9,502.9 L38.4,502.4 L38.9,502.6 L39.4,501.7 L39.9,501.5 L40.4,501.1 L40.9,501.8 L41.4,500.9 L41.9,502.0 L42.4,501.8 L42.9,501.1 L43.4,499.8 L43.9,500.2 L44.4,499.4 L44.9,496.3 L45.4,497.4 L45.9,494.0 L46.4,494.6 L46.9,494.2 L47.4,493.8 L47.9,492.0 L48.4,493.2 L48.9,490.3 L49.4,492.8 L49.9,491.7 L50.4,493.0 L50.9,491.1 L51.4,492.8 L51.9,495.0 L52.4,491.1 L52.9,495.8 L53.4,496.3 L53.9,496.6 L54.4,496.1 L54.9,499.1 L55.4,499.3 L55.9,500.7 L56.4,502.5 L56.9,502.4 L57.4,503.4 L57.9,504.6 L58.4,505.0 L58.5,505.09999999999997 Z" fill="#999" stroke="#999" stroke-width="0.5"/>
<path d="M31.9,505.09999999999997 L31.9,503.9 L32.4,503.7 L32.9,504.3 L33.4,503.8 L33.9,503.4 L34.4,503.2 L34.9,503.2 L35.4,502.8 L35.9,503.0 L36.4,502.8 L36.9,502.8 L37.4,503.1 L37.9,502.9 L38.4,502.4 L38.9,502.6 L39.4,501.7 L39.9,501.5 L40.4,501.1 L40.9,501.8 L41.4,500.9 L41.9,502.0 L42.4,501.8 L42.9,501.1 L43.4,499.8 L43.9,500.2 L44.4,499.4 L44.9,496.3 L45.4,497.4 L45.9,494.0 L46.4,494.6 L46.9,494.2 L47.4,493.8 L47.9,492.0 L48.4,493.2 L48.9,490.3 L49.4,492.8 L49.9,491.7 L50.4,493.0 L50.9,491.1 L51.4,492.8 L51.9,495.0 L52.4,491.1 L52.9,495.8 L53.4,496.3 L53.9,496.6 L54.4,496.1 L54.9,499.1 L55.4,499.3 L55.9,500.7 L56.4,502.5 L56.9,502.4 L57.4,503.4 L57.9,504.6 L58.4,505.0" fill="none" stroke="#000" stroke-width="1.2"/>
<path d="M31.9,522.6 L31.9,521.6 L32.4,521.5 L32.9,521.5 L33.4,521.6 L33.9,521.4 L34.4,521.5 L34.9,521.2 L35.4,520.9 L35.9,521.2 L36.4,521.2 L36.9,520.8 L37.4,520.8 L37.9,520.7 L38.4,520.9 L38.9,520.6 L39.4,520.3 L39.9,520.9 L40.4,520.4 L40.9,520.8 L41.4,520.4 L41.9,520.5 L42.4,518.7 L42.9,518.2 L43.4,515.6 L43.9,515.0 L44.4,514.9 L44.9,517.4 L45.4,514.4 L45.9,513.3 L46.4,512.3 L46.9,514.1 L47.4,511.6 L47.9,512.7 L48.4,512.8 L48.9,510.3 L49.4,513.0 L49.9,511.3 L50.4,509.1 L50.9,511.3 L51.4,511.2 L51.9,511.9 L52.4,513.0 L52.9,515.8 L53.4,515.2 L53.9,515.1 L54.4,518.6 L54.9,517.8 L55.4,519.2 L55.9,520.4 L56.4,520.7 L56.9,522.1 L57.4,522.6" fill="none" stroke="#000" stroke-width="1.2"/>
<line x1="142.50" y1="417.40" x2="186.20" y2="417.40" stroke="#ffd8b0" stroke-width="1.0" />
<path d="M116.6,417.4 L116.6,416.5 L117.1,416.3 L117.6,416.2 L118.1,416.3 L118.6,416.2 L119.1,416.1 L119.6,415.9 L120.1,415.9 L120.6,415.6 L121.1,415.9 L121.6,415.1 L122.1,415.3 L122.6,415.0 L123.1,415.0 L123.6,414.9 L124.1,414.5 L124.6,413.9 L125.1,413.8 L125.6,413.4 L126.1,412.6 L126.6,412.9 L127.1,412.8 L127.6,411.0 L128.1,411.0 L128.6,411.2 L129.1,409.7 L129.6,409.0 L130.1,409.2 L130.6,409.0 L131.1,407.0 L131.6,405.6 L132.1,406.3 L132.6,406.3 L133.1,404.3 L133.6,403.2 L134.1,403.9 L134.6,402.1 L135.1,401.0 L135.6,403.4 L136.1,404.8 L136.6,403.7 L137.1,404.5 L137.6,404.2 L138.1,407.7 L138.6,407.7 L139.1,408.6 L139.6,410.1 L140.1,409.7 L140.6,410.5 L141.1,412.4 L141.6,412.6 L142.1,414.5 L142.6,416.1 L143.0,417.4 Z" fill="#ff8c1a" stroke="#ff8c1a" stroke-width="0.5"/>
<line x1="142.50" y1="434.60" x2="186.20" y2="434.60" stroke="#b8b8ff" stroke-width="1.0" />
<path d="M116.6,434.59999999999997 L116.6,433.8 L117.1,433.7 L117.6,433.6 L118.1,433.5 L118.6,433.3 L119.1,433.6 L119.6,433.4 L120.1,433.4 L120.6,433.2 L121.1,432.9 L121.6,432.9 L122.1,432.7 L122.6,433.0 L123.1,432.5 L123.6,432.6 L124.1,431.8 L124.6,431.6 L125.1,431.2 L125.6,431.1 L126.1,430.5 L126.6,430.1 L127.1,430.1 L127.6,429.5 L128.1,428.7 L128.6,428.4 L129.1,427.8 L129.6,427.1 L130.1,427.1 L130.6,425.4 L131.1,427.1 L131.6,424.4 L132.1,425.4 L132.6,424.8 L133.1,425.1 L133.6,423.3 L134.1,422.9 L134.6,421.8 L135.1,422.4 L135.6,422.1 L136.1,420.5 L136.6,422.7 L137.1,424.3 L137.6,423.4 L138.1,425.1 L138.6,425.1 L139.1,425.8 L139.6,427.3 L140.1,429.2 L140.6,429.1 L141.1,429.7 L141.6,431.1 L142.1,432.2 L142.6,433.5 L143.0,434.59999999999997 Z" fill="#4444ff" stroke="#4444ff" stroke-width="0.5"/>
<line x1="142.50" y1="452.60" x2="186.20" y2="452.60" stroke="#b0f0b0" stroke-width="1.0" />
<path d="M116.6,452.6 L116.6,451.5 L117.1,451.9 L117.6,451.4 L118.1,451.4 L118.6,451.2 L119.1,451.2 L119.6,450.9 L120.1,451.1 L120.6,451.0 L121.1,450.7 L121.6,450.5 L122.1,450.5 L122.6,450.4 L123.1,450.0 L123.6,449.8 L124.1,450.0 L124.6,449.5 L125.1,449.6 L125.6,447.9 L126.1,448.2 L126.6,447.0 L127.1,447.0 L127.6,445.3 L128.1,444.6 L128.6,444.7 L129.1,443.0 L129.6,444.6 L130.1,442.1 L130.6,444.2 L131.1,441.9 L131.6,440.6 L132.1,441.0 L132.6,441.0 L133.1,441.0 L133.6,439.8 L134.1,437.3 L134.6,436.8 L135.1,438.1 L135.6,440.1 L136.1,437.9 L136.6,441.3 L137.1,440.7 L137.6,441.6 L138.1,440.7 L138.6,442.0 L139.1,442.6 L139.6,443.6 L140.1,445.5 L140.6,445.7 L141.1,446.4 L141.6,448.4 L142.1,449.7 L142.6,451.4 L143.0,452.6 Z" fill="#11dd22" stroke="#11dd22" stroke-width="0.5"/>
<line x1="142.50" y1="470.40" x2="186.20" y2="470.40" stroke="#ff9898" stroke-width="1.0" />
<path d="M116.6,470.4 L116.6,469.5 L117.1,469.6 L117.6,469.6 L118.1,469.6 L118.6,469.3 L119.1,469.0 L119.6,469.1 L120.1,468.9 L120.6,468.7 L121.1,468.8 L121.6,468.1 L122.1,468.6 L122.6,468.2 L123.1,467.5 L123.6,468.0 L124.1,467.8 L124.6,467.6 L125.1,466.9 L125.6,467.4 L126.1,466.5 L126.6,465.0 L127.1,465.3 L127.6,464.8 L128.1,463.7 L128.6,463.0 L129.1,462.5 L129.6,461.7 L130.1,463.1 L130.6,460.7 L131.1,461.4 L131.6,459.5 L132.1,459.8 L132.6,460.3 L133.1,458.7 L133.6,459.3 L134.1,456.1 L134.6,456.9 L135.1,455.3 L135.6,458.5 L136.1,455.5 L136.6,458.5 L137.1,457.0 L137.6,458.4 L138.1,461.2 L138.6,460.4 L139.1,461.9 L139.6,461.9 L140.1,462.2 L140.6,463.9 L141.1,464.8 L141.6,466.9 L142.1,467.8 L142.6,469.2 L143.0,470.4 Z" fill="#ff1111" stroke="#ff1111" stroke-width="0.5"/>
<line x1="142.50" y1="487.60" x2="186.20" y2="487.60" stroke="#e4ccff" stroke-width="1.0" />
<path d="M116.6,487.6 L116.6,486.9 L117.1,486.8 L117.6,486.6 L118.1,486.6 L118.6,486.4 L119.1,486.2 L119.6,486.5 L120.1,486.0 L120.6,486.1 L121.1,485.5 L121.6,485.6 L122.1,485.7 L122.6,485.4 L123.1,485.3 L123.6,485.1 L124.1,484.6 L124.6,484.4 L125.1,483.6 L125.6,483.6 L126.1,483.5 L126.6,483.7 L127.1,483.3 L127.6,481.7 L128.1,480.7 L128.6,479.4 L129.1,480.3 L129.6,479.3 L130.1,479.6 L130.6,478.8 L131.1,480.1 L131.6,476.7 L132.1,477.8 L132.6,476.5 L133.1,475.3 L133.6,474.8 L134.1,476.4 L134.6,472.0 L135.1,472.7 L135.6,473.6 L136.1,475.6 L136.6,477.3 L137.1,477.8 L137.6,476.8 L138.1,477.1 L138.6,478.6 L139.1,477.0 L139.6,479.2 L140.1,479.7 L140.6,481.0 L141.1,483.1 L141.6,483.3 L142.1,485.0 L142.6,486.6 L143.0,487.6 Z" fill="#b060f0" stroke="#b060f0" stroke-width="0.5"/>
<line x1="142.50" y1="505.10" x2="186.20" y2="505.10" stroke="#999" stroke-width="1.0" />
<path d="M116.6,505.09999999999997 L116.6,504.3 L117.1,504.1 L117.6,503.9 L118.1,503.8 L118.6,503.6 L119.1,503.9 L119.6,503.7 L120.1,503.8 L120.6,503.9 L121.1,503.6 L121.6,503.2 L122.1,503.4 L122.6,503.0 L123.1,502.5 L123.6,502.5 L124.1,502.3 L124.6,501.9 L125.1,501.8 L125.6,502.4 L126.1,500.3 L126.6,501.6 L127.1,499.9 L127.6,499.5 L128.1,498.5 L128.6,497.7 L129.1,497.7 L129.6,495.7 L130.1,498.1 L130.6,494.8 L131.1,497.9 L131.6,493.2 L132.1,495.3 L132.6,493.3 L133.1,490.7 L133.6,496.7 L134.1,492.8 L134.6,490.4 L135.1,489.3 L135.6,489.0 L136.1,491.1 L136.6,491.8 L137.1,493.2 L137.6,493.6 L138.1,494.6 L138.6,494.0 L139.1,495.9 L139.6,496.1 L140.1,496.2 L140.6,497.9 L141.1,500.3 L141.6,501.2 L142.1,502.3 L142.6,504.1 L143.0,505.09999999999997 Z" fill="#999" stroke="#999" stroke-width="0.5"/>
<path d="M116.6,505.09999999999997 L116.6,504.3 L117.1,504.1 L117.6,503.9 L118.1,503.8 L118.6,503.6 L119.1,503.9 L119.6,503.7 L120.1,503.8 L120.6,503.9 L121.1,503.6 L121.6,503.2 L122.1,503.4 L122.6,503.0 L123.1,502.5 L123.6,502.5 L124.1,502.3 L124.6,501.9 L125.1,501.8 L125.6,502.4 L126.1,500.3 L126.6,501.6 L127.1,499.9 L127.6,499.5 L128.1,498.5 L128.6,497.7 L129.1,497.7 L129.6,495.7 L130.1,498.1 L130.6,494.8 L131.1,497.9 L131.6,493.2 L132.1,495.3 L132.6,493.3 L133.1,490.7 L133.6,496.7 L134.1,492.8 L134.6,490.4 L135.1,489.3 L135.6,489.0 L136.1,491.1 L136.6,491.8 L137.1,493.2 L137.6,493.6 L138.1,494.6 L138.6,494.0 L139.1,495.9 L139.6,496.1 L140.1,496.2 L140.6,497.9 L141.1,500.3 L141.6,501.2 L142.1,502.3 L142.6,504.1" fill="none" stroke="#000" stroke-width="1.2"/>
<path d="M116.6,522.6 L116.6,520.7 L117.1,520.9 L117.6,521.1 L118.1,521.3 L118.6,521.4 L119.1,520.9 L119.6,521.2 L120.1,521.2 L120.6,520.9 L121.1,520.8 L121.6,521.4 L122.1,520.4 L122.6,521.2 L123.1,519.9 L123.6,520.3 L124.1,520.5 L124.6,519.7 L125.1,520.1 L125.6,519.7 L126.1,519.7 L126.6,519.2 L127.1,518.9 L127.6,519.3 L128.1,518.6 L128.6,517.3 L129.1,517.2 L129.6,518.7 L130.1,514.4 L130.6,518.1 L131.1,517.8 L131.6,516.6 L132.1,514.1 L132.6,512.0 L133.1,514.0 L133.6,513.7 L134.1,512.3 L134.6,512.6 L135.1,511.6 L135.6,514.0 L136.1,512.2 L136.6,512.8 L137.1,517.1 L137.6,514.7 L138.1,515.1 L138.6,515.3 L139.1,517.3 L139.6,518.3 L140.1,518.6 L140.6,518.3 L141.1,519.7 L141.6,520.3 L142.1,520.7 L142.6,522.0" fill="none" stroke="#000" stroke-width="1.2"/>
<text x="191.3" y="412.7" style="font-family:'Liberation Serif',serif;font-size:11px;font-weight:normal" text-anchor="start" fill="#000" >J1.F11</text>
<text x="191.3" y="430.90000000000003" style="font-family:'Liberation Serif',serif;font-size:11px;font-weight:normal" text-anchor="start" fill="#000" >J1.F1</text>
<text x="191.3" y="447.90000000000003" style="font-family:'Liberation Serif',serif;font-size:11px;font-weight:normal" text-anchor="start" fill="#000" >J1.D1</text>
<text x="191.3" y="465.7" style="font-family:'Liberation Serif',serif;font-size:11px;font-weight:normal" text-anchor="start" fill="#000" >J1.B5</text>
<text x="191.3" y="483.90000000000003" style="font-family:'Liberation Serif',serif;font-size:11px;font-weight:normal" text-anchor="start" fill="#000" >J1.B1</text>
<text x="191.3" y="501.7" style="font-family:'Liberation Serif',serif;font-size:11px;font-weight:normal" text-anchor="start" fill="#000" >Ctr Ab</text>
<text x="191.3" y="518.6999999999999" style="font-family:'Liberation Serif',serif;font-size:11px;font-weight:normal" text-anchor="start" fill="#000" >Control staining</text>
<line x1="16.40" y1="412.00" x2="16.40" y2="474.00" stroke="#000" stroke-width="1.0" />
<path d="M16.4,408.2 L13.5,414.6 L19.3,414.6 Z" fill="#000"/>
<text x="18" y="501" transform="rotate(-90 18 501)" text-anchor="middle" style="font-family:'Liberation Serif',serif;font-size:11px">Cell counts</text>
<line x1="299.00" y1="339.30" x2="299.00" y2="429.00" stroke="#000" stroke-width="1.8" />
<line x1="294.50" y1="428.00" x2="299.00" y2="428.00" stroke="#000" stroke-width="1.6" />
<text x="290.6" y="431.7" style="font-family:'Liberation Serif',serif;font-size:10.5px;font-weight:normal" text-anchor="end" fill="#000" >0</text>
<line x1="294.50" y1="398.70" x2="299.00" y2="398.70" stroke="#000" stroke-width="1.6" />
<text x="290.6" y="402.4" style="font-family:'Liberation Serif',serif;font-size:10.5px;font-weight:normal" text-anchor="end" fill="#000" >2</text>
<line x1="294.50" y1="369.40" x2="299.00" y2="369.40" stroke="#000" stroke-width="1.6" />
<text x="290.6" y="373.1" style="font-family:'Liberation Serif',serif;font-size:10.5px;font-weight:normal" text-anchor="end" fill="#000" >4</text>
<line x1="294.50" y1="340.10" x2="299.00" y2="340.10" stroke="#000" stroke-width="1.6" />
<text x="290.6" y="343.8" style="font-family:'Liberation Serif',serif;font-size:10.5px;font-weight:normal" text-anchor="end" fill="#000" >6</text>
<line x1="298.20" y1="428.00" x2="431.50" y2="428.00" stroke="#000" stroke-width="2.0" />
<line x1="307.70" y1="428.00" x2="307.70" y2="434.50" stroke="#000" stroke-width="1.6" />
<rect x="304.09999999999997" y="414.3755" width="7.2" height="13.624500000000012" fill="#888" stroke="#000" stroke-width="0.9"/>
<text x="311.3" y="436" transform="rotate(-90 311.3 436)" text-anchor="end" style="font-family:'Liberation Serif',serif;font-size:11px">Fc</text>
<line x1="320.90" y1="428.00" x2="320.90" y2="434.50" stroke="#000" stroke-width="1.6" />
<line x1="320.90" y1="360.32" x2="320.90" y2="354.90" stroke="#000" stroke-width="1.0" />
<line x1="318.60" y1="354.90" x2="323.20" y2="354.90" stroke="#000" stroke-width="1.0" />
<rect x="316.7" y="360.317" width="8.4" height="67.68299999999999" fill="#000"/>
<text x="324.5" y="436" transform="rotate(-90 324.5 436)" text-anchor="end" style="font-family:'Liberation Serif',serif;font-size:11px">NT</text>
<line x1="333.50" y1="428.00" x2="333.50" y2="434.50" stroke="#000" stroke-width="1.6" />
<line x1="333.50" y1="362.51" x2="333.50" y2="356.65" stroke="#000" stroke-width="1.0" />
<line x1="331.20" y1="356.65" x2="335.80" y2="356.65" stroke="#000" stroke-width="1.0" />
<rect x="329.3" y="362.5145" width="8.4" height="65.4855" fill="#000"/>
<text x="337.1" y="436" transform="rotate(-90 337.1 436)" text-anchor="end" style="font-family:'Liberation Serif',serif;font-size:11px">Ctr Ab</text>
<line x1="346.10" y1="428.00" x2="346.10" y2="434.50" stroke="#000" stroke-width="1.6" />
<line x1="346.10" y1="372.33" x2="346.10" y2="366.32" stroke="#000" stroke-width="1.0" />
<line x1="343.80" y1="366.32" x2="348.40" y2="366.32" stroke="#000" stroke-width="1.0" />
<rect x="341.90000000000003" y="372.33000000000004" width="8.4" height="55.66999999999996" fill="#000"/>
<text x="349.70000000000005" y="436" transform="rotate(-90 349.70000000000005 436)" text-anchor="end" style="font-family:'Liberation Serif',serif;font-size:11px">J1.B1</text>
<line x1="359.00" y1="428.00" x2="359.00" y2="434.50" stroke="#000" stroke-width="1.6" />
<line x1="359.00" y1="371.01" x2="359.00" y2="354.31" stroke="#000" stroke-width="1.0" />
<line x1="356.70" y1="354.31" x2="361.30" y2="354.31" stroke="#000" stroke-width="1.0" />
<rect x="354.8" y="371.0115" width="8.4" height="56.98849999999999" fill="#000"/>
<text x="362.6" y="436" transform="rotate(-90 362.6 436)" text-anchor="end" style="font-family:'Liberation Serif',serif;font-size:11px">J1.B5</text>
<line x1="371.70" y1="428.00" x2="371.70" y2="434.50" stroke="#000" stroke-width="1.6" />
<line x1="371.70" y1="382.44" x2="371.70" y2="374.23" stroke="#000" stroke-width="1.0" />
<line x1="369.40" y1="374.23" x2="374.00" y2="374.23" stroke="#000" stroke-width="1.0" />
<rect x="367.5" y="382.43850000000003" width="8.4" height="45.56149999999997" fill="#000"/>
<text x="375.3" y="436" transform="rotate(-90 375.3 436)" text-anchor="end" style="font-family:'Liberation Serif',serif;font-size:11px">J1.D1</text>
<line x1="384.30" y1="428.00" x2="384.30" y2="434.50" stroke="#000" stroke-width="1.6" />
<line x1="384.30" y1="373.65" x2="384.30" y2="367.94" stroke="#000" stroke-width="1.0" />
<line x1="382.00" y1="367.94" x2="386.60" y2="367.94" stroke="#000" stroke-width="1.0" />
<rect x="380.1" y="373.6485" width="8.4" height="54.35149999999999" fill="#000"/>
<text x="387.90000000000003" y="436" transform="rotate(-90 387.90000000000003 436)" text-anchor="end" style="font-family:'Liberation Serif',serif;font-size:11px">J1.F1</text>
<line x1="397.00" y1="428.00" x2="397.00" y2="434.50" stroke="#000" stroke-width="1.6" />
<line x1="397.00" y1="366.32" x2="397.00" y2="352.55" stroke="#000" stroke-width="1.0" />
<line x1="394.70" y1="352.55" x2="399.30" y2="352.55" stroke="#000" stroke-width="1.0" />
<rect x="392.8" y="366.3235" width="8.4" height="61.676499999999976" fill="#000"/>
<text x="400.6" y="436" transform="rotate(-90 400.6 436)" text-anchor="end" style="font-family:'Liberation Serif',serif;font-size:11px">J1.F11</text>
<line x1="409.70" y1="428.00" x2="409.70" y2="434.50" stroke="#000" stroke-width="1.6" />
<line x1="409.70" y1="359.73" x2="409.70" y2="344.20" stroke="#000" stroke-width="1.0" />
<line x1="407.40" y1="344.20" x2="412.00" y2="344.20" stroke="#000" stroke-width="1.0" />
<rect x="405.5" y="359.731" width="8.4" height="68.269" fill="#000"/>
<text x="413.3" y="436" transform="rotate(-90 413.3 436)" text-anchor="end" style="font-family:'Liberation Serif',serif;font-size:11px">DMSO</text>
<line x1="422.50" y1="428.00" x2="422.50" y2="434.50" stroke="#000" stroke-width="1.6" />
<line x1="422.50" y1="417.16" x2="422.50" y2="413.06" stroke="#000" stroke-width="1.0" />
<line x1="420.20" y1="413.06" x2="424.80" y2="413.06" stroke="#000" stroke-width="1.0" />
<rect x="418.3" y="417.159" width="8.4" height="10.841000000000008" fill="#000"/>
<text x="426.1" y="436" transform="rotate(-90 426.1 436)" text-anchor="end" style="font-family:'Liberation Serif',serif;font-size:11px">DAPT</text>
<text x="371.7" y="374.5" style="font-family:'Liberation Serif',serif;font-size:11.5px;font-weight:normal" text-anchor="middle" fill="#000" >*</text>
<text x="422.5" y="413.6" style="font-family:'Liberation Serif',serif;font-size:11.5px;font-weight:normal" text-anchor="middle" fill="#000" >**</text>
<line x1="320.80" y1="472.90" x2="430.70" y2="472.90" stroke="#444" stroke-width="1.3" />
<text x="375.6" y="486" style="font-family:'Liberation Serif',serif;font-size:11px;font-weight:normal" text-anchor="middle" fill="#000" >rhJAG1-ECD-Fc</text>
<text x="277.3" y="379.7" transform="rotate(-90 277.3 379.7)" text-anchor="middle" style="font-family:'Liberation Serif',serif;font-size:11.2px">Luciferase activity (A.U.)</text>
</svg>
</body></html>
